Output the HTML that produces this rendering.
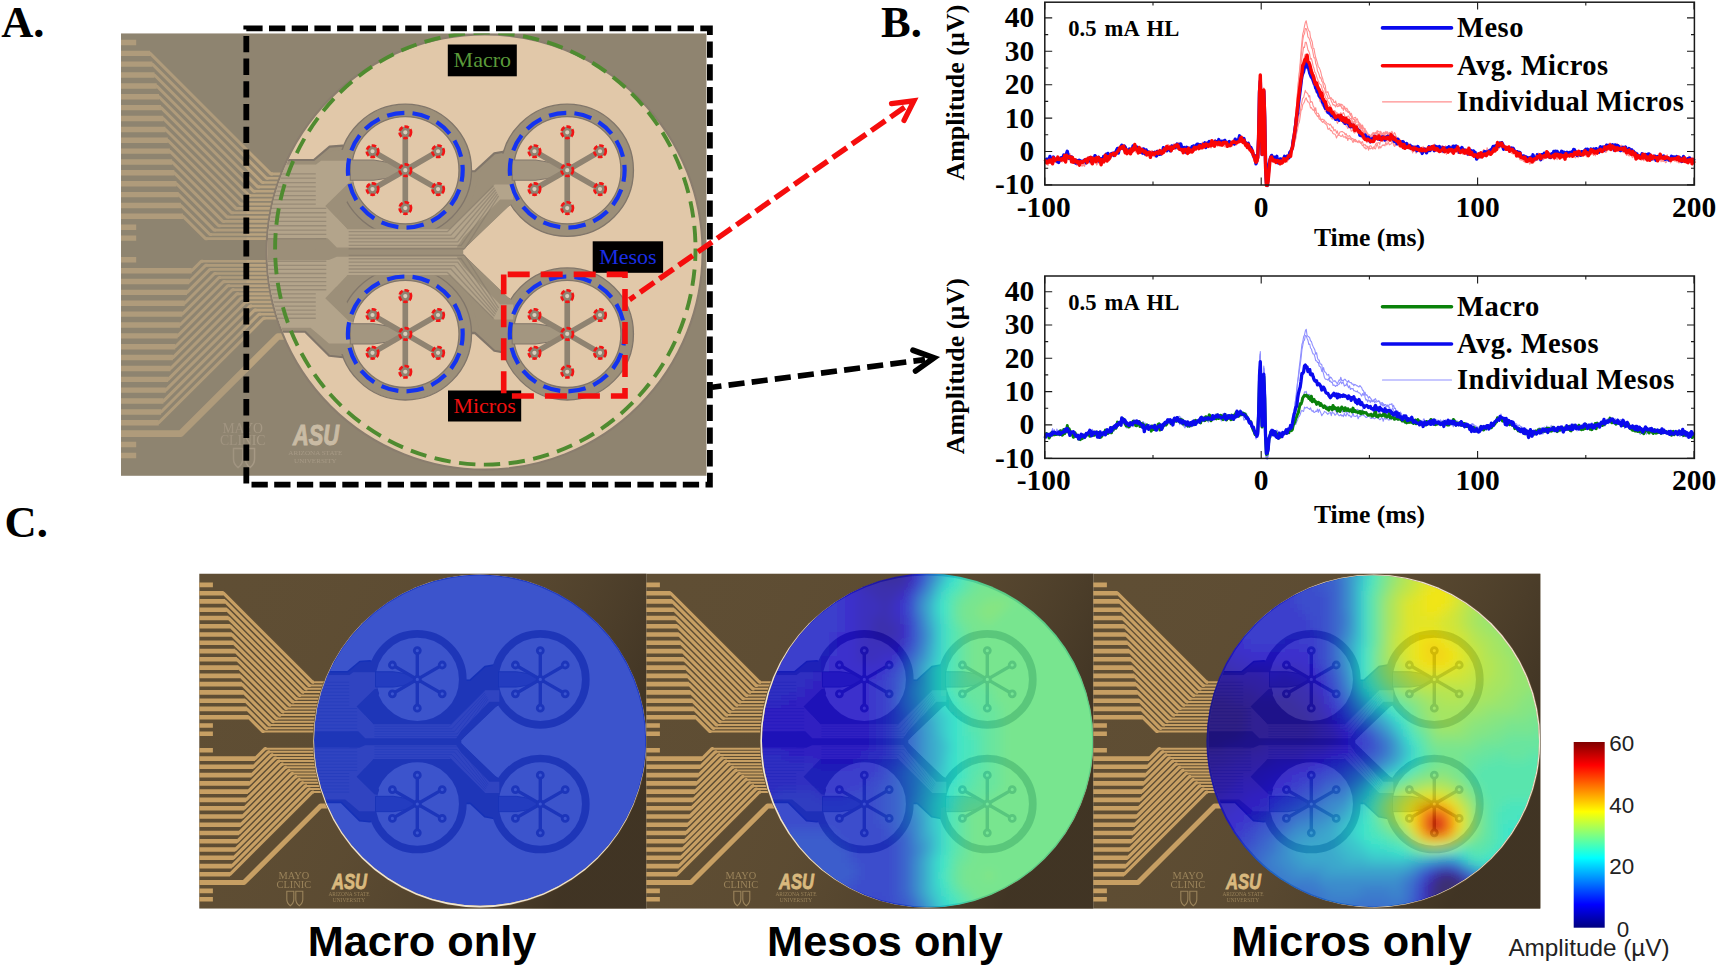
<!DOCTYPE html>
<html lang="en"><head><meta charset="utf-8"><title>Figure</title>
<style>html,body{margin:0;padding:0;background:#fff;width:1717px;height:967px;overflow:hidden}svg{display:block}</style></head>
<body><svg width="1717" height="967" viewBox="0 0 1717 967">
<defs><clipPath id="aclip"><circle cx="278.2" cy="168" r="164.8"/></clipPath><clipPath id="aringclip"><path clip-rule="evenodd" d="M0 0H460V345H0ZM177.2 105.7a40.8 40.8 0 1 0 81.6 0a40.8 40.8 0 1 0 -81.6 0ZM300.2 105.7a40.8 40.8 0 1 0 81.6 0a40.8 40.8 0 1 0 -81.6 0ZM177.2 230.3a40.8 40.8 0 1 0 81.6 0a40.8 40.8 0 1 0 -81.6 0ZM300.2 230.3a40.8 40.8 0 1 0 81.6 0a40.8 40.8 0 1 0 -81.6 0Z"/></clipPath>
<clipPath id="aview"><rect x="121" y="33.6" width="585.5" height="442.2"/></clipPath>
<filter id="hb" x="-10%" y="-10%" width="120%" height="120%"><feGaussianBlur stdDeviation="5.5"/></filter>
<linearGradient id="cbg" x1="0" y1="0" x2="1" y2="0.35"><stop offset="0" stop-color="#624f33" stop-opacity="0"/><stop offset="0.55" stop-color="#54442d" stop-opacity="0.3"/><stop offset="1" stop-color="#3f3323" stop-opacity="0.95"/></linearGradient>
<linearGradient id="jetbar" x1="0" y1="1" x2="0" y2="0"><stop offset="0%" stop-color="#000080"/><stop offset="6.2%" stop-color="#0000bf"/><stop offset="12.5%" stop-color="#0000ff"/><stop offset="18.8%" stop-color="#0040ff"/><stop offset="25%" stop-color="#0080ff"/><stop offset="31.2%" stop-color="#00bfff"/><stop offset="37.5%" stop-color="#00ffff"/><stop offset="43.8%" stop-color="#40ffbf"/><stop offset="50%" stop-color="#80ff80"/><stop offset="56.2%" stop-color="#bfff40"/><stop offset="62.5%" stop-color="#ffff00"/><stop offset="68.8%" stop-color="#ffbf00"/><stop offset="75%" stop-color="#ff8000"/><stop offset="81.2%" stop-color="#ff4000"/><stop offset="87.5%" stop-color="#ff0000"/><stop offset="93.8%" stop-color="#bf0000"/><stop offset="100%" stop-color="#800000"/></linearGradient>
<filter id="cblur" x="-5%" y="-5%" width="110%" height="110%"><feGaussianBlur stdDeviation="0.7"/></filter>
<clipPath id="cview"><rect x="0" y="0" width="447" height="334.7"/></clipPath>
<clipPath id="cdisc0"><ellipse cx="280.8" cy="166.4" rx="166.1" ry="165.7"/></clipPath>
<clipPath id="cout0"><path clip-rule="evenodd" d="M-5 -5H455V345H-5ZM114.7 166.4a166.1 165.7 0 1 0 332.2 0a166.1 165.7 0 1 0 -332.2 0Z"/></clipPath>
<clipPath id="cdisc1"><ellipse cx="281.4" cy="166.9" rx="165.7" ry="167"/></clipPath>
<clipPath id="cout1"><path clip-rule="evenodd" d="M-5 -5H455V345H-5ZM115.7 166.9a165.7 167 0 1 0 331.4 0a165.7 167 0 1 0 -331.4 0Z"/></clipPath>
<clipPath id="cdisc2"><ellipse cx="279.4" cy="167.6" rx="166.3" ry="166"/></clipPath>
<clipPath id="cout2"><path clip-rule="evenodd" d="M-5 -5H455V345H-5ZM113.1 167.6a166.3 166 0 1 0 332.6 0a166.3 166 0 1 0 -332.6 0Z"/></clipPath>
<clipPath id="cclip"><circle cx="280.5" cy="167.3" r="165.4"/></clipPath><clipPath id="cringclip"><path clip-rule="evenodd" d="M0 0H460V345H0ZM177.2 105.7a40.8 40.8 0 1 0 81.6 0a40.8 40.8 0 1 0 -81.6 0ZM300.2 105.7a40.8 40.8 0 1 0 81.6 0a40.8 40.8 0 1 0 -81.6 0ZM177.2 230.3a40.8 40.8 0 1 0 81.6 0a40.8 40.8 0 1 0 -81.6 0ZM300.2 230.3a40.8 40.8 0 1 0 81.6 0a40.8 40.8 0 1 0 -81.6 0Z"/></clipPath>
<g id="cdev"><rect x="-10" y="-10" width="467" height="354.7" fill="#5f4e34"/>
<rect x="-10" y="-10" width="467" height="354.7" fill="url(#cbg)"/>
<g fill="none" stroke="#c79f63" stroke-linejoin="round">
<path stroke-width="4.6" d="M-10 11.2H13.6 M-10 151.8H13.6 M-10 160.1H13.6 M-10 176.6H13.6 M-10 317.2H13.6 M-10 325.5H13.6 M-10 19.5H24.2 M-10 27.7H25.9 M-10 36H27.5 M-10 44.3H29.2 M-10 52.5H30.9 M-10 60.8H32.5 M-10 69.1H34.2 M-10 77.4H35.9 M-10 85.6H37.6 M-10 93.9H39.2 M-10 102.2H40.9 M-10 110.4H42.6 M-10 118.7H44.2 M-10 127H45.9 M-10 135.2H47.6 M-10 143.5H49.2 M-10 184.9H55.8 M-10 193.1H54 M-10 201.4H52.2 M-10 209.7H50.4 M-10 217.9H48.6 M-10 226.2H46.8 M-10 234.5H45.1 M-10 242.8H43.3 M-10 251H41.5 M-10 259.3H39.7 M-10 267.6H37.9 M-10 275.8H36.1 M-10 284.1H34.3 M-10 292.4H32.5 M-10 300.6H30.7"/>
<path stroke-width="3.2" d="M23.2 19.5 L24.2 19.5 L113.2 108.5 L114.7 108.5 M24.9 27.7 L25.9 27.7 L109.9 111.8 L111.4 111.8 M26.5 36 L27.5 36 L106.6 115.1 L108.1 115.1 M28.2 44.3 L29.2 44.3 L103.3 118.4 L104.8 118.4 M29.9 52.5 L30.9 52.5 L100 121.7 L101.5 121.7 M31.5 60.8 L32.5 60.8 L96.7 125 L98.2 125 M33.2 69.1 L34.2 69.1 L93.4 128.2 L94.9 128.2 M34.9 77.4 L35.9 77.4 L90.1 131.5 L91.6 131.5 M36.6 85.6 L37.6 85.6 L86.8 134.8 L88.2 134.8 M38.2 93.9 L39.2 93.9 L83.4 138.1 L84.9 138.1 M39.9 102.2 L40.9 102.2 L80.1 141.4 L81.6 141.4 M41.6 110.4 L42.6 110.4 L76.8 144.7 L78.3 144.7 M43.2 118.7 L44.2 118.7 L73.5 148 L75 148 M44.9 127 L45.9 127 L70.2 151.3 L71.7 151.3 M46.6 135.2 L47.6 135.2 L66.9 154.6 L68.4 154.6 M48.2 143.5 L49.2 143.5 L63.6 157.8 L65.1 157.8 M54.8 184.9 L55.8 184.9 L65.7 175 L67.2 175 M53 193.1 L54 193.1 L69 178.1 L70.5 178.1 M51.2 201.4 L52.2 201.4 L72.4 181.2 L73.9 181.2 M49.4 209.7 L50.4 209.7 L75.8 184.3 L77.3 184.3 M47.6 217.9 L48.6 217.9 L79.2 187.4 L80.7 187.4 M45.8 226.2 L46.8 226.2 L82.6 190.5 L84.1 190.5 M44.1 234.5 L45.1 234.5 L85.9 193.6 L87.4 193.6 M42.3 242.8 L43.3 242.8 L89.3 196.7 L90.8 196.7 M40.5 251 L41.5 251 L92.7 199.8 L94.2 199.8 M38.7 259.3 L39.7 259.3 L96.1 202.9 L97.6 202.9 M36.9 267.6 L37.9 267.6 L99.5 206 L101 206 M35.1 275.8 L36.1 275.8 L102.8 209.1 L104.3 209.1 M33.3 284.1 L34.3 284.1 L106.2 212.2 L107.7 212.2 M31.5 292.4 L32.5 292.4 L109.6 215.3 L111.1 215.3 M29.7 300.6 L30.7 300.6 L113 218.4 L114.5 218.4"/>
<path stroke-width="2" d="M113.2 108.5H150 M109.9 111.8H150 M106.6 115.1H150 M103.3 118.4H150 M100 121.7H150 M96.7 125H150 M93.4 128.2H150 M90.1 131.5H150 M86.8 134.8H150 M83.4 138.1H150 M80.1 141.4H150 M76.8 144.7H150 M73.5 148H150 M70.2 151.3H150 M66.9 154.6H150 M63.6 157.8H150 M65.7 175H150 M69 178.1H150 M72.4 181.2H150 M75.8 184.3H150 M79.2 187.4H150 M82.6 190.5H150 M85.9 193.6H150 M89.3 196.7H150 M92.7 199.8H150 M96.1 202.9H150 M99.5 206H150 M102.8 209.1H150 M106.2 212.2H150 M109.6 215.3H150 M113 218.4H150"/>
<polyline stroke-width="5" points="-10,308.9 44.7,308.9 121.3,232.3 150,232.3"/>
</g>
<g fill="#a58d62" font-family="'Liberation Serif',serif" text-anchor="middle" opacity="0.85">
<text x="94.5" y="305.5" font-size="10.4">MAYO</text><text x="94.5" y="314.7" font-size="10.4">CLINIC</text>
<path d="M87.5 317.5h7v8q0 4-3.5 6.5q-3.5-2.5-3.5-6.5zM96.5 317.5h7v8q0 4-3.5 6.5q-3.5-2.5-3.5-6.5z" fill="none" stroke="#a58d62" stroke-width="1.1"/>
<text x="149.7" y="322.5" font-size="5.4">ARIZONA STATE</text><text x="149.7" y="328.8" font-size="5.4">UNIVERSITY</text>
</g>
<text x="150.2" y="315.2" font-family="'Liberation Sans',sans-serif" font-weight="bold" font-style="italic" font-size="22.5" textLength="35" lengthAdjust="spacingAndGlyphs" text-anchor="middle" fill="#d9b97e" opacity="1" stroke="#d9b97e" stroke-width="0.8">ASU</text>
<circle cx="280.5" cy="167.3" r="166.2" fill="#cda550" stroke="#6b5233" stroke-width="1.6"/>
<g clip-path="url(#cclip)">
<g filter="url(#cblur)">
<polygon points="100,98 148.5,98 160.5,87.8 170.5,87 218,105.7 270.8,106.5 285.6,92.9 298.7,90.5 341,105.7 295,133.2 259.6,167.6 259.6,168.4 259.6,167.6 259.6,168.4 295,202.8 341,230.3 298.7,245.5 285.6,243.1 270.8,229.5 218,230.3 170.5,248.1 160.2,246.9 141.9,228.7 100,228.7" fill="#68400f" stroke="#4a2e0a" stroke-width="1.6" stroke-linejoin="round"/>
<polygon points="100,101.5 150,101.5 154,98.5 185,98.5 185,113 175,115.5 157.2,132.9 174,150.6 252,150.6 286,116.6 300,116.6 300,128 290,128 262,157 257,164.5 166,164.5 159,157.5 100,157.5" fill="#a7702c"/>
<polygon points="100,174 160,174 166,171.5 257,171.5 262,179 290,208 300,208 300,219.4 286,219.4 252,185.4 174,185.4 157.2,203.1 175,220.5 185,223 185,237.5 160,237.5 146,225.5 100,225.5" fill="#a7702c"/>
<circle cx="218" cy="105.7" r="45.5" fill="#cda550" stroke="#68400f" stroke-width="7.7"/>
<circle cx="341" cy="105.7" r="45.5" fill="#cda550" stroke="#68400f" stroke-width="7.7"/>
<circle cx="218" cy="230.3" r="45.5" fill="#cda550" stroke="#68400f" stroke-width="7.7"/>
<circle cx="341" cy="230.3" r="45.5" fill="#cda550" stroke="#68400f" stroke-width="7.7"/>
<g clip-path="url(#cringclip)"><polygon points="150,100.5 160.5,91.3 175,89.8 180,120 160,150 262,150 275,106.5 286,94 300,92 300,130 262,166 262,170 262,166 262,170 300,206 300,244 286,242 275,229.5 262,186 160,186 180,216 175,246.2 160.5,244.7 150,235.5" fill="#68400f"/>
<polygon points="100,101.5 150,101.5 154,98.5 185,98.5 185,113 175,115.5 157.2,132.9 174,150.6 252,150.6 286,116.6 300,116.6 300,128 290,128 262,157 257,164.5 166,164.5 159,157.5 100,157.5" fill="#a7702c"/><polygon points="100,174 160,174 166,171.5 257,171.5 262,179 290,208 300,208 300,219.4 286,219.4 252,185.4 174,185.4 157.2,203.1 175,220.5 185,223 185,237.5 160,237.5 146,225.5 100,225.5" fill="#a7702c"/></g>
<path d="M100 108.5H150M100 111.8H150M100 115.1H150M100 118.4H150M100 121.7H150M100 125H150M100 128.2H150M100 131.5H150M100 134.8H158M100 138.1H158M100 141.4H158M100 144.7H158M100 148H158M100 151.3H158M100 154.6H158M100 157.8H158M100 175H158M100 178.1H158M100 181.2H158M100 184.3H158M100 187.4H158M100 190.5H158M100 193.6H158M100 196.7H158M100 199.8H150M100 202.9H150M100 206H150M100 209.1H150M100 212.2H150M100 215.3H150M100 218.4H150M175 152.5H250L285 117.5M175 183.5H250L285 218.5M175 155.1H252.6L285.8 119.1M175 180.9H252.6L285.8 216.9M175 157.7H255.2L286.6 120.6M175 178.3H255.2L286.6 215.4M175 160.3H257.8L287.3 122.2M175 175.7H257.8L287.3 213.8M175 162.9H260.4L288.1 123.7M175 173.1H260.4L288.1 212.3M175 165.5H263L288.9 125.3M175 170.5H263L288.9 210.7" fill="none" stroke="#6a4416" stroke-width="1" opacity="0.55"/>
<polygon points="176.2,98 194,98 203,99.4 210,100.7 216,103.7 216,107.7 210,110.7 203,112 194,113.4 176.2,113.4" fill="#7a5226" stroke="#4a2e0a" stroke-width="0.8"/>
<path d="M218 105.7L242.9 91.3M218 105.7L218 76.9M218 105.7L193.1 91.3M218 105.7L193.1 120.1M218 105.7L218 134.5M218 105.7L242.9 120.1" stroke="#603c12" stroke-width="3.4" fill="none"/>
<circle cx="218" cy="105.7" r="3" fill="#c7a560" stroke="#603c12" stroke-width="2.8"/>
<circle cx="242.9" cy="91.3" r="3" fill="#c7a560" stroke="#603c12" stroke-width="2.8"/>
<circle cx="218" cy="76.9" r="3" fill="#c7a560" stroke="#603c12" stroke-width="2.8"/>
<circle cx="193.1" cy="91.3" r="3" fill="#c7a560" stroke="#603c12" stroke-width="2.8"/>
<circle cx="193.1" cy="120.1" r="3" fill="#c7a560" stroke="#603c12" stroke-width="2.8"/>
<circle cx="218" cy="134.5" r="3" fill="#c7a560" stroke="#603c12" stroke-width="2.8"/>
<circle cx="242.9" cy="120.1" r="3" fill="#c7a560" stroke="#603c12" stroke-width="2.8"/>
<polygon points="299.2,98 317,98 326,99.4 333,100.7 339,103.7 339,107.7 333,110.7 326,112 317,113.4 299.2,113.4" fill="#7a5226" stroke="#4a2e0a" stroke-width="0.8"/>
<path d="M341 105.7L365.9 91.3M341 105.7L341 76.9M341 105.7L316.1 91.3M341 105.7L316.1 120.1M341 105.7L341 134.5M341 105.7L365.9 120.1" stroke="#603c12" stroke-width="3.4" fill="none"/>
<circle cx="341" cy="105.7" r="3" fill="#c7a560" stroke="#603c12" stroke-width="2.8"/>
<circle cx="365.9" cy="91.3" r="3" fill="#c7a560" stroke="#603c12" stroke-width="2.8"/>
<circle cx="341" cy="76.9" r="3" fill="#c7a560" stroke="#603c12" stroke-width="2.8"/>
<circle cx="316.1" cy="91.3" r="3" fill="#c7a560" stroke="#603c12" stroke-width="2.8"/>
<circle cx="316.1" cy="120.1" r="3" fill="#c7a560" stroke="#603c12" stroke-width="2.8"/>
<circle cx="341" cy="134.5" r="3" fill="#c7a560" stroke="#603c12" stroke-width="2.8"/>
<circle cx="365.9" cy="120.1" r="3" fill="#c7a560" stroke="#603c12" stroke-width="2.8"/>
<polygon points="176.2,222.6 194,222.6 203,224 210,225.3 216,228.3 216,232.3 210,235.3 203,236.6 194,238 176.2,238" fill="#7a5226" stroke="#4a2e0a" stroke-width="0.8"/>
<path d="M218 230.3L242.9 215.9M218 230.3L218 201.5M218 230.3L193.1 215.9M218 230.3L193.1 244.7M218 230.3L218 259.1M218 230.3L242.9 244.7" stroke="#603c12" stroke-width="3.4" fill="none"/>
<circle cx="218" cy="230.3" r="3" fill="#c7a560" stroke="#603c12" stroke-width="2.8"/>
<circle cx="242.9" cy="215.9" r="3" fill="#c7a560" stroke="#603c12" stroke-width="2.8"/>
<circle cx="218" cy="201.5" r="3" fill="#c7a560" stroke="#603c12" stroke-width="2.8"/>
<circle cx="193.1" cy="215.9" r="3" fill="#c7a560" stroke="#603c12" stroke-width="2.8"/>
<circle cx="193.1" cy="244.7" r="3" fill="#c7a560" stroke="#603c12" stroke-width="2.8"/>
<circle cx="218" cy="259.1" r="3" fill="#c7a560" stroke="#603c12" stroke-width="2.8"/>
<circle cx="242.9" cy="244.7" r="3" fill="#c7a560" stroke="#603c12" stroke-width="2.8"/>
<polygon points="299.2,222.6 317,222.6 326,224 333,225.3 339,228.3 339,232.3 333,235.3 326,236.6 317,238 299.2,238" fill="#7a5226" stroke="#4a2e0a" stroke-width="0.8"/>
<path d="M341 230.3L365.9 215.9M341 230.3L341 201.5M341 230.3L316.1 215.9M341 230.3L316.1 244.7M341 230.3L341 259.1M341 230.3L365.9 244.7" stroke="#603c12" stroke-width="3.4" fill="none"/>
<circle cx="341" cy="230.3" r="3" fill="#c7a560" stroke="#603c12" stroke-width="2.8"/>
<circle cx="365.9" cy="215.9" r="3" fill="#c7a560" stroke="#603c12" stroke-width="2.8"/>
<circle cx="341" cy="201.5" r="3" fill="#c7a560" stroke="#603c12" stroke-width="2.8"/>
<circle cx="316.1" cy="215.9" r="3" fill="#c7a560" stroke="#603c12" stroke-width="2.8"/>
<circle cx="316.1" cy="244.7" r="3" fill="#c7a560" stroke="#603c12" stroke-width="2.8"/>
<circle cx="341" cy="259.1" r="3" fill="#c7a560" stroke="#603c12" stroke-width="2.8"/>
<circle cx="365.9" cy="244.7" r="3" fill="#c7a560" stroke="#603c12" stroke-width="2.8"/>
</g>
</g></g></defs>
<rect width="1717" height="967" fill="#fff"/>
<g clip-path="url(#aview)">
<g transform="translate(118.3 31.3) scale(1.3165 1.314)">
<rect x="-10" y="-10" width="470" height="360" fill="#8f8470"/>
<g fill="none" stroke="#b9a27e" stroke-linejoin="round">
<path stroke-width="4.1" d="M-10 8.5H13.6 M-10 149.1H13.6 M-10 157.4H13.6 M-10 173.9H13.6 M-10 314.5H13.6 M-10 322.8H13.6 M-10 16.8H24.2 M-10 25H25.9 M-10 33.3H27.5 M-10 41.6H29.2 M-10 49.8H30.9 M-10 58.1H32.5 M-10 66.4H34.2 M-10 74.7H35.9 M-10 82.9H37.6 M-10 91.2H39.2 M-10 99.5H40.9 M-10 107.7H42.6 M-10 116H44.2 M-10 124.3H45.9 M-10 132.6H47.6 M-10 140.8H49.2 M-10 182.2H55.8 M-10 190.4H54 M-10 198.7H52.2 M-10 207H50.4 M-10 215.2H48.6 M-10 223.5H46.8 M-10 231.8H45.1 M-10 240.1H43.3 M-10 248.3H41.5 M-10 256.6H39.7 M-10 264.9H37.9 M-10 273.1H36.1 M-10 281.4H34.3 M-10 289.7H32.5 M-10 297.9H30.7"/>
<path stroke-width="2.3" d="M23.2 16.8 L24.2 16.8 L115.9 108.5 L117.4 108.5 M24.9 25 L25.9 25 L112.6 111.8 L114.1 111.8 M26.5 33.3 L27.5 33.3 L109.3 115.1 L110.8 115.1 M28.2 41.6 L29.2 41.6 L106 118.4 L107.5 118.4 M29.9 49.8 L30.9 49.8 L102.7 121.7 L104.2 121.7 M31.5 58.1 L32.5 58.1 L99.4 125 L100.9 125 M33.2 66.4 L34.2 66.4 L96.1 128.2 L97.6 128.2 M34.9 74.7 L35.9 74.7 L92.8 131.5 L94.3 131.5 M36.6 82.9 L37.6 82.9 L89.5 134.8 L91 134.8 M38.2 91.2 L39.2 91.2 L86.1 138.1 L87.6 138.1 M39.9 99.5 L40.9 99.5 L82.8 141.4 L84.3 141.4 M41.6 107.7 L42.6 107.7 L79.5 144.7 L81 144.7 M43.2 116 L44.2 116 L76.2 148 L77.7 148 M44.9 124.3 L45.9 124.3 L72.9 151.3 L74.4 151.3 M46.6 132.6 L47.6 132.6 L69.6 154.6 L71.1 154.6 M48.2 140.8 L49.2 140.8 L66.3 157.8 L67.8 157.8 M54.8 182.2 L55.8 182.2 L63 175 L64.5 175 M53 190.4 L54 190.4 L66.3 178.1 L67.8 178.1 M51.2 198.7 L52.2 198.7 L69.7 181.2 L71.2 181.2 M49.4 207 L50.4 207 L73.1 184.3 L74.6 184.3 M47.6 215.2 L48.6 215.2 L76.5 187.4 L78 187.4 M45.8 223.5 L46.8 223.5 L79.9 190.5 L81.4 190.5 M44.1 231.8 L45.1 231.8 L83.2 193.6 L84.8 193.6 M42.3 240.1 L43.3 240.1 L86.6 196.7 L88.1 196.7 M40.5 248.3 L41.5 248.3 L90 199.8 L91.5 199.8 M38.7 256.6 L39.7 256.6 L93.4 202.9 L94.9 202.9 M36.9 264.9 L37.9 264.9 L96.8 206 L98.3 206 M35.1 273.1 L36.1 273.1 L100.1 209.1 L101.6 209.1 M33.3 281.4 L34.3 281.4 L103.5 212.2 L105 212.2 M31.5 289.7 L32.5 289.7 L106.9 215.3 L108.4 215.3 M29.7 297.9 L30.7 297.9 L110.3 218.4 L111.8 218.4"/>
<path stroke-width="2" d="M115.9 108.5H150 M112.6 111.8H150 M109.3 115.1H150 M106 118.4H150 M102.7 121.7H150 M99.4 125H150 M96.1 128.2H150 M92.8 131.5H150 M89.5 134.8H150 M86.1 138.1H150 M82.8 141.4H150 M79.5 144.7H150 M76.2 148H150 M72.9 151.3H150 M69.6 154.6H150 M66.3 157.8H150 M63 175H150 M66.3 178.1H150 M69.7 181.2H150 M73.1 184.3H150 M76.5 187.4H150 M79.9 190.5H150 M83.2 193.6H150 M86.6 196.7H150 M90 199.8H150 M93.4 202.9H150 M96.8 206H150 M100.1 209.1H150 M103.5 212.2H150 M106.9 215.3H150 M110.3 218.4H150"/>
<polyline stroke-width="5" points="-10,306.2 47.4,306.2 121.3,232.3 150,232.3"/>
</g>
<g fill="#a99c88" font-family="'Liberation Serif',serif" text-anchor="middle" opacity="0.9">
<text x="94.5" y="305.5" font-size="10.4">MAYO</text><text x="94.5" y="314.7" font-size="10.4">CLINIC</text>
<path d="M87.5 317.5h7v8q0 4-3.5 6.5q-3.5-2.5-3.5-6.5zM96.5 317.5h7v8q0 4-3.5 6.5q-3.5-2.5-3.5-6.5z" fill="none" stroke="#a99c88" stroke-width="1.1"/>
<text x="149.7" y="322.5" font-size="5.4">ARIZONA STATE</text><text x="149.7" y="328.8" font-size="5.4">UNIVERSITY</text>
</g>
<text x="150.2" y="315.2" font-family="'Liberation Sans',sans-serif" font-weight="bold" font-style="italic" font-size="22.5" textLength="35" lengthAdjust="spacingAndGlyphs" text-anchor="middle" fill="#c9bba4" opacity="1" stroke="#c9bba4" stroke-width="0.8">ASU</text>
<circle cx="278.2" cy="168" r="165.6" fill="#e1c8a9" stroke="#8a7d6e" stroke-width="1.6"/>
<g clip-path="url(#aclip)">
<polygon points="100,98 148.5,98 160.5,87.8 170.5,87 218,105.7 270.8,106.5 285.6,92.9 298.7,90.5 341,105.7 295,133.2 259.6,167.6 259.6,168.4 259.6,167.6 259.6,168.4 295,202.8 341,230.3 298.7,245.5 285.6,243.1 270.8,229.5 218,230.3 170.5,248.1 160.2,246.9 141.9,228.7 100,228.7" fill="#9c8f79" stroke="#81766a" stroke-width="1.6" stroke-linejoin="round"/>
<polygon points="100,101.5 150,101.5 154,98.5 185,98.5 185,113 175,115.5 157.2,132.9 174,150.6 252,150.6 286,116.6 300,116.6 300,128 290,128 262,157 257,164.5 166,164.5 159,157.5 100,157.5" fill="#b3a48b"/>
<polygon points="100,174 160,174 166,171.5 257,171.5 262,179 290,208 300,208 300,219.4 286,219.4 252,185.4 174,185.4 157.2,203.1 175,220.5 185,223 185,237.5 160,237.5 146,225.5 100,225.5" fill="#b3a48b"/>
<circle cx="218" cy="105.7" r="45.5" fill="#e1c8a9" stroke="#9c8f79" stroke-width="9.5"/>
<circle cx="218" cy="105.7" r="40.8" fill="none" stroke="#81766a" stroke-width="1"/>
<circle cx="218" cy="105.7" r="50.3" fill="none" stroke="#81766a" stroke-width="1"/>
<circle cx="341" cy="105.7" r="45.5" fill="#e1c8a9" stroke="#9c8f79" stroke-width="9.5"/>
<circle cx="341" cy="105.7" r="40.8" fill="none" stroke="#81766a" stroke-width="1"/>
<circle cx="341" cy="105.7" r="50.3" fill="none" stroke="#81766a" stroke-width="1"/>
<circle cx="218" cy="230.3" r="45.5" fill="#e1c8a9" stroke="#9c8f79" stroke-width="9.5"/>
<circle cx="218" cy="230.3" r="40.8" fill="none" stroke="#81766a" stroke-width="1"/>
<circle cx="218" cy="230.3" r="50.3" fill="none" stroke="#81766a" stroke-width="1"/>
<circle cx="341" cy="230.3" r="45.5" fill="#e1c8a9" stroke="#9c8f79" stroke-width="9.5"/>
<circle cx="341" cy="230.3" r="40.8" fill="none" stroke="#81766a" stroke-width="1"/>
<circle cx="341" cy="230.3" r="50.3" fill="none" stroke="#81766a" stroke-width="1"/>
<g clip-path="url(#aringclip)"><polygon points="150,100.5 160.5,91.3 175,89.8 180,120 160,150 262,150 275,106.5 286,94 300,92 300,130 262,166 262,170 262,166 262,170 300,206 300,244 286,242 275,229.5 262,186 160,186 180,216 175,246.2 160.5,244.7 150,235.5" fill="#9c8f79"/>
<polygon points="100,101.5 150,101.5 154,98.5 185,98.5 185,113 175,115.5 157.2,132.9 174,150.6 252,150.6 286,116.6 300,116.6 300,128 290,128 262,157 257,164.5 166,164.5 159,157.5 100,157.5" fill="#b3a48b"/><polygon points="100,174 160,174 166,171.5 257,171.5 262,179 290,208 300,208 300,219.4 286,219.4 252,185.4 174,185.4 157.2,203.1 175,220.5 185,223 185,237.5 160,237.5 146,225.5 100,225.5" fill="#b3a48b"/></g>
<path d="M100 108.5H150M100 111.8H150M100 115.1H150M100 118.4H150M100 121.7H150M100 125H150M100 128.2H150M100 131.5H150M100 134.8H158M100 138.1H158M100 141.4H158M100 144.7H158M100 148H158M100 151.3H158M100 154.6H158M100 157.8H158M100 175H158M100 178.1H158M100 181.2H158M100 184.3H158M100 187.4H158M100 190.5H158M100 193.6H158M100 196.7H158M100 199.8H150M100 202.9H150M100 206H150M100 209.1H150M100 212.2H150M100 215.3H150M100 218.4H150M175 152.5H250L285 117.5M175 183.5H250L285 218.5M175 155.1H252.6L285.8 119.1M175 180.9H252.6L285.8 216.9M175 157.7H255.2L286.6 120.6M175 178.3H255.2L286.6 215.4M175 160.3H257.8L287.3 122.2M175 175.7H257.8L287.3 213.8M175 162.9H260.4L288.1 123.7M175 173.1H260.4L288.1 212.3M175 165.5H263L288.9 125.3M175 170.5H263L288.9 210.7" fill="none" stroke="#84796a" stroke-width="1" opacity="0.55"/>
<polygon points="176.2,98 194,98 203,99.4 210,100.7 216,103.7 216,107.7 210,110.7 203,112 194,113.4 176.2,113.4" fill="#a39680" stroke="#81766a" stroke-width="0.8"/>
<path d="M218 105.7L242.9 91.3M218 105.7L218 76.9M218 105.7L193.1 91.3M218 105.7L193.1 120.1M218 105.7L218 134.5M218 105.7L242.9 120.1" stroke="#8f8371" stroke-width="4.3" fill="none"/>
<circle cx="218" cy="105.7" r="3" fill="#d9cdbb" stroke="#8f8371" stroke-width="2.8"/>
<circle cx="218" cy="105.7" r="4.4" fill="none" stroke="#f21414" stroke-width="2" stroke-dasharray="3.4 1.5"/>
<circle cx="242.9" cy="91.3" r="3" fill="#d9cdbb" stroke="#8f8371" stroke-width="2.8"/>
<circle cx="242.9" cy="91.3" r="4.4" fill="none" stroke="#f21414" stroke-width="2" stroke-dasharray="3.4 1.5"/>
<circle cx="218" cy="76.9" r="3" fill="#d9cdbb" stroke="#8f8371" stroke-width="2.8"/>
<circle cx="218" cy="76.9" r="4.4" fill="none" stroke="#f21414" stroke-width="2" stroke-dasharray="3.4 1.5"/>
<circle cx="193.1" cy="91.3" r="3" fill="#d9cdbb" stroke="#8f8371" stroke-width="2.8"/>
<circle cx="193.1" cy="91.3" r="4.4" fill="none" stroke="#f21414" stroke-width="2" stroke-dasharray="3.4 1.5"/>
<circle cx="193.1" cy="120.1" r="3" fill="#d9cdbb" stroke="#8f8371" stroke-width="2.8"/>
<circle cx="193.1" cy="120.1" r="4.4" fill="none" stroke="#f21414" stroke-width="2" stroke-dasharray="3.4 1.5"/>
<circle cx="218" cy="134.5" r="3" fill="#d9cdbb" stroke="#8f8371" stroke-width="2.8"/>
<circle cx="218" cy="134.5" r="4.4" fill="none" stroke="#f21414" stroke-width="2" stroke-dasharray="3.4 1.5"/>
<circle cx="242.9" cy="120.1" r="3" fill="#d9cdbb" stroke="#8f8371" stroke-width="2.8"/>
<circle cx="242.9" cy="120.1" r="4.4" fill="none" stroke="#f21414" stroke-width="2" stroke-dasharray="3.4 1.5"/>
<polygon points="299.2,98 317,98 326,99.4 333,100.7 339,103.7 339,107.7 333,110.7 326,112 317,113.4 299.2,113.4" fill="#a39680" stroke="#81766a" stroke-width="0.8"/>
<path d="M341 105.7L365.9 91.3M341 105.7L341 76.9M341 105.7L316.1 91.3M341 105.7L316.1 120.1M341 105.7L341 134.5M341 105.7L365.9 120.1" stroke="#8f8371" stroke-width="4.3" fill="none"/>
<circle cx="341" cy="105.7" r="3" fill="#d9cdbb" stroke="#8f8371" stroke-width="2.8"/>
<circle cx="341" cy="105.7" r="4.4" fill="none" stroke="#f21414" stroke-width="2" stroke-dasharray="3.4 1.5"/>
<circle cx="365.9" cy="91.3" r="3" fill="#d9cdbb" stroke="#8f8371" stroke-width="2.8"/>
<circle cx="365.9" cy="91.3" r="4.4" fill="none" stroke="#f21414" stroke-width="2" stroke-dasharray="3.4 1.5"/>
<circle cx="341" cy="76.9" r="3" fill="#d9cdbb" stroke="#8f8371" stroke-width="2.8"/>
<circle cx="341" cy="76.9" r="4.4" fill="none" stroke="#f21414" stroke-width="2" stroke-dasharray="3.4 1.5"/>
<circle cx="316.1" cy="91.3" r="3" fill="#d9cdbb" stroke="#8f8371" stroke-width="2.8"/>
<circle cx="316.1" cy="91.3" r="4.4" fill="none" stroke="#f21414" stroke-width="2" stroke-dasharray="3.4 1.5"/>
<circle cx="316.1" cy="120.1" r="3" fill="#d9cdbb" stroke="#8f8371" stroke-width="2.8"/>
<circle cx="316.1" cy="120.1" r="4.4" fill="none" stroke="#f21414" stroke-width="2" stroke-dasharray="3.4 1.5"/>
<circle cx="341" cy="134.5" r="3" fill="#d9cdbb" stroke="#8f8371" stroke-width="2.8"/>
<circle cx="341" cy="134.5" r="4.4" fill="none" stroke="#f21414" stroke-width="2" stroke-dasharray="3.4 1.5"/>
<circle cx="365.9" cy="120.1" r="3" fill="#d9cdbb" stroke="#8f8371" stroke-width="2.8"/>
<circle cx="365.9" cy="120.1" r="4.4" fill="none" stroke="#f21414" stroke-width="2" stroke-dasharray="3.4 1.5"/>
<polygon points="176.2,222.6 194,222.6 203,224 210,225.3 216,228.3 216,232.3 210,235.3 203,236.6 194,238 176.2,238" fill="#a39680" stroke="#81766a" stroke-width="0.8"/>
<path d="M218 230.3L242.9 215.9M218 230.3L218 201.5M218 230.3L193.1 215.9M218 230.3L193.1 244.7M218 230.3L218 259.1M218 230.3L242.9 244.7" stroke="#8f8371" stroke-width="4.3" fill="none"/>
<circle cx="218" cy="230.3" r="3" fill="#d9cdbb" stroke="#8f8371" stroke-width="2.8"/>
<circle cx="218" cy="230.3" r="4.4" fill="none" stroke="#f21414" stroke-width="2" stroke-dasharray="3.4 1.5"/>
<circle cx="242.9" cy="215.9" r="3" fill="#d9cdbb" stroke="#8f8371" stroke-width="2.8"/>
<circle cx="242.9" cy="215.9" r="4.4" fill="none" stroke="#f21414" stroke-width="2" stroke-dasharray="3.4 1.5"/>
<circle cx="218" cy="201.5" r="3" fill="#d9cdbb" stroke="#8f8371" stroke-width="2.8"/>
<circle cx="218" cy="201.5" r="4.4" fill="none" stroke="#f21414" stroke-width="2" stroke-dasharray="3.4 1.5"/>
<circle cx="193.1" cy="215.9" r="3" fill="#d9cdbb" stroke="#8f8371" stroke-width="2.8"/>
<circle cx="193.1" cy="215.9" r="4.4" fill="none" stroke="#f21414" stroke-width="2" stroke-dasharray="3.4 1.5"/>
<circle cx="193.1" cy="244.7" r="3" fill="#d9cdbb" stroke="#8f8371" stroke-width="2.8"/>
<circle cx="193.1" cy="244.7" r="4.4" fill="none" stroke="#f21414" stroke-width="2" stroke-dasharray="3.4 1.5"/>
<circle cx="218" cy="259.1" r="3" fill="#d9cdbb" stroke="#8f8371" stroke-width="2.8"/>
<circle cx="218" cy="259.1" r="4.4" fill="none" stroke="#f21414" stroke-width="2" stroke-dasharray="3.4 1.5"/>
<circle cx="242.9" cy="244.7" r="3" fill="#d9cdbb" stroke="#8f8371" stroke-width="2.8"/>
<circle cx="242.9" cy="244.7" r="4.4" fill="none" stroke="#f21414" stroke-width="2" stroke-dasharray="3.4 1.5"/>
<polygon points="299.2,222.6 317,222.6 326,224 333,225.3 339,228.3 339,232.3 333,235.3 326,236.6 317,238 299.2,238" fill="#a39680" stroke="#81766a" stroke-width="0.8"/>
<path d="M341 230.3L365.9 215.9M341 230.3L341 201.5M341 230.3L316.1 215.9M341 230.3L316.1 244.7M341 230.3L341 259.1M341 230.3L365.9 244.7" stroke="#8f8371" stroke-width="4.3" fill="none"/>
<circle cx="341" cy="230.3" r="3" fill="#d9cdbb" stroke="#8f8371" stroke-width="2.8"/>
<circle cx="341" cy="230.3" r="4.4" fill="none" stroke="#f21414" stroke-width="2" stroke-dasharray="3.4 1.5"/>
<circle cx="365.9" cy="215.9" r="3" fill="#d9cdbb" stroke="#8f8371" stroke-width="2.8"/>
<circle cx="365.9" cy="215.9" r="4.4" fill="none" stroke="#f21414" stroke-width="2" stroke-dasharray="3.4 1.5"/>
<circle cx="341" cy="201.5" r="3" fill="#d9cdbb" stroke="#8f8371" stroke-width="2.8"/>
<circle cx="341" cy="201.5" r="4.4" fill="none" stroke="#f21414" stroke-width="2" stroke-dasharray="3.4 1.5"/>
<circle cx="316.1" cy="215.9" r="3" fill="#d9cdbb" stroke="#8f8371" stroke-width="2.8"/>
<circle cx="316.1" cy="215.9" r="4.4" fill="none" stroke="#f21414" stroke-width="2" stroke-dasharray="3.4 1.5"/>
<circle cx="316.1" cy="244.7" r="3" fill="#d9cdbb" stroke="#8f8371" stroke-width="2.8"/>
<circle cx="316.1" cy="244.7" r="4.4" fill="none" stroke="#f21414" stroke-width="2" stroke-dasharray="3.4 1.5"/>
<circle cx="341" cy="259.1" r="3" fill="#d9cdbb" stroke="#8f8371" stroke-width="2.8"/>
<circle cx="341" cy="259.1" r="4.4" fill="none" stroke="#f21414" stroke-width="2" stroke-dasharray="3.4 1.5"/>
<circle cx="365.9" cy="244.7" r="3" fill="#d9cdbb" stroke="#8f8371" stroke-width="2.8"/>
<circle cx="365.9" cy="244.7" r="4.4" fill="none" stroke="#f21414" stroke-width="2" stroke-dasharray="3.4 1.5"/>
</g>
</g>
<rect x="121" y="33" width="125.5" height="444" fill="#8f8470" opacity="0.22"/>
<ellipse cx="485.3" cy="248.6" rx="210.2" ry="216" fill="none" stroke="#4f8b30" stroke-width="3.9" stroke-dasharray="16.4 8.5" stroke-dashoffset="4"/>
<circle cx="405.3" cy="170.2" r="57.4" fill="none" stroke="#1433f0" stroke-width="4.2" stroke-dasharray="17.5 8.26" stroke-dashoffset="6"/>
<circle cx="567.2" cy="170.2" r="57.4" fill="none" stroke="#1433f0" stroke-width="4.2" stroke-dasharray="17.5 8.26" stroke-dashoffset="6"/>
<circle cx="405.3" cy="333.9" r="57.4" fill="none" stroke="#1433f0" stroke-width="4.2" stroke-dasharray="17.5 8.26" stroke-dashoffset="6"/>
<circle cx="567.2" cy="333.9" r="57.4" fill="none" stroke="#1433f0" stroke-width="4.2" stroke-dasharray="17.5 8.26" stroke-dashoffset="6"/>
</g>
<rect x="447.8" y="44.5" width="69" height="31.8" fill="#000"/>
<text x="482.3" y="67.2" font-family="'Liberation Serif',serif" font-size="22" fill="#5a9a3a" text-anchor="middle">Macro</text>
<rect x="592.7" y="241.3" width="70.4" height="31.5" fill="#000"/>
<text x="627.9" y="263.9" font-family="'Liberation Serif',serif" font-size="22" fill="#1a2ee6" text-anchor="middle">Mesos</text>
<rect x="448" y="390.5" width="73.2" height="31" fill="#000"/>
<text x="484.6" y="412.8" font-family="'Liberation Serif',serif" font-size="22" fill="#f01010" text-anchor="middle">Micros</text>
<rect x="503.7" y="274.4" width="121.3" height="121.6" fill="none" stroke="#f50d0d" stroke-width="5.6" stroke-dasharray="22 11" stroke-dashoffset="-4"/>
<rect x="246.3" y="28.4" width="463.6" height="456.3" fill="none" stroke="#000" stroke-width="5.8" stroke-dasharray="16.3 6.4"/>
<path d="M629.5 299.7L905 107" fill="none" stroke="#f50d0d" stroke-width="5.4" stroke-dasharray="17.2 6.3" stroke-dashoffset="10.5"/>
<path d="M891.5 103.6L914 100.8L904 120.5" fill="none" stroke="#f50d0d" stroke-width="5.2" stroke-linecap="round" stroke-linejoin="miter"/>
<path d="M712 387.3L925 359.6" fill="none" stroke="#000" stroke-width="5.6" stroke-dasharray="16.1 7.2" stroke-dashoffset="6.6"/>
<path d="M913 350.2L934 357.8L915.6 371" fill="none" stroke="#000" stroke-width="5.7" stroke-linecap="round" stroke-linejoin="miter"/>
<text x="1.2" y="36.7" font-family="'Liberation Serif',serif" font-weight="bold" font-size="44.5" fill="#000">A.</text>
<text x="881" y="37.2" font-family="'Liberation Serif',serif" font-weight="bold" font-size="44.5" fill="#000">B.</text>
<text x="4.5" y="536.9" font-family="'Liberation Serif',serif" font-weight="bold" font-size="44.5" fill="#000">C.</text>
<g fill="none" stroke-linejoin="round">
<path d="M1044.8 161.6L1045.7 160.8L1046.5 163.4L1047.4 161.2L1048.3 162.6L1049.1 161.4L1050 162.6L1050.9 160.6L1051.7 161.5L1052.6 160.7L1053.5 157.3L1054.3 158.8L1055.2 158.7L1056.1 161.1L1056.9 158.3L1057.8 159.2L1058.6 159.4L1059.5 158.3L1060.4 158.5L1061.2 157L1062.1 159.5L1063 158.7L1063.8 158.4L1064.7 157.2L1065.6 156.8L1066.4 156.1L1067.3 155.6L1068.2 154L1069 156.7L1069.9 157.8L1070.8 157.6L1071.6 158.8L1072.5 159.5L1073.4 162.5L1074.2 161.6L1075.1 162.9L1076 164.1L1076.8 165.6L1077.7 163.7L1078.6 164.6L1079.4 165L1080.3 165.3L1081.2 163.8L1082 166L1082.9 165.3L1083.8 165.4L1084.6 166.4L1085.5 163.1L1086.3 164L1087.2 160.5L1088.1 160L1088.9 160.1L1089.8 160.4L1090.7 161.4L1091.5 160.2L1092.4 160.1L1093.3 159.4L1094.1 159.7L1095 163.2L1095.9 161.3L1096.7 164.3L1097.6 160L1098.5 161.8L1099.3 161.4L1100.2 162.6L1101.1 162L1101.9 161.4L1102.8 163L1103.7 161.2L1104.5 160.7L1105.4 159L1106.3 160.1L1107.1 159.1L1108 155.9L1108.9 161.1L1109.7 157.1L1110.6 157.7L1111.5 155.7L1112.3 154.1L1113.2 153L1114 154.7L1114.9 151.5L1115.8 152.3L1116.6 153L1117.5 151L1118.4 152.4L1119.2 148.6L1120.1 148.5L1121 145.5L1121.8 147.1L1122.7 146.5L1123.6 147.6L1124.4 148.9L1125.3 151.9L1126.2 151.7L1127 153.8L1127.9 152.4L1128.8 152L1129.6 154L1130.5 152.5L1131.4 152.7L1132.2 153L1133.1 150.3L1134 151.5L1134.8 150.9L1135.7 152.2L1136.6 151.3L1137.4 148.7L1138.3 152.7L1139.2 152L1140 151.1L1140.9 151L1141.7 152.4L1142.6 154.6L1143.5 154.5L1144.3 152.5L1145.2 155.8L1146.1 153.5L1146.9 153.9L1147.8 154.5L1148.7 154.2L1149.5 154.8L1150.4 153.7L1151.3 155.3L1152.1 154.6L1153 155.4L1153.9 155.9L1154.7 154.7L1155.6 152.1L1156.5 154.1L1157.3 156.3L1158.2 155.5L1159.1 152.5L1159.9 155L1160.8 151.8L1161.7 154.6L1162.5 152.6L1163.4 152.4L1164.3 150.8L1165.1 149.1L1166 146.2L1166.8 146.9L1167.7 146.6L1168.6 150.3L1169.4 147.1L1170.3 146.1L1171.2 148.5L1172 145.3L1172.9 146.8L1173.8 146.9L1174.6 147.2L1175.5 146L1176.4 144.6L1177.2 145.4L1178.1 145.8L1179 144.1L1179.8 145.2L1180.7 147.9L1181.6 147.3L1182.4 149.3L1183.3 148.6L1184.2 150.6L1185 150.5L1185.9 149.4L1186.8 153.6L1187.6 152.6L1188.5 152.5L1189.4 153.2L1190.2 152.7L1191.1 152.4L1192 150.7L1192.8 146.1L1193.7 151.2L1194.5 149L1195.4 148.2L1196.3 149.1L1197.1 148.4L1198 145.7L1198.9 148.7L1199.7 147.2L1200.6 147.5L1201.5 147L1202.3 147.2L1203.2 147.9L1204.1 146.7L1204.9 147.3L1205.8 145.7L1206.7 142.9L1207.5 141.5L1208.4 141.4L1209.3 144.2L1210.1 144.4L1211 142.3L1211.9 142.4L1212.7 141.2L1213.6 140.5L1214.5 140.1L1215.3 139.3L1216.2 142.6L1217.1 141.3L1217.9 140.5L1218.8 141.3L1219.7 143.3L1220.5 141.9L1221.4 142.7L1222.2 141.3L1223.1 142.5L1224 146L1224.8 144.5L1225.7 145.1L1226.6 142.5L1227.4 145L1228.3 144.3L1229.2 144.3L1230 144.4L1230.9 141.7L1231.8 142.6L1232.6 141.6L1233.5 140.5L1234.4 141.7L1235.2 141.6L1236.1 139.8L1237 140.5L1237.8 138.4L1238.7 140.8L1239.6 137.7L1240.4 139.4L1241.3 139.7L1242.2 138.4L1243 142L1243.9 140.8L1244.8 143.8L1245.6 145.1L1246.5 147.7L1247.4 146.4L1248.2 146.2L1249.1 149.1L1249.9 150.2L1250.8 149.4L1251.7 149.3L1252.5 152.6L1253.4 155.2L1254.3 155.6L1255.1 157.7L1256 163.1L1256.9 160.5L1257.7 155.9L1258.6 136.6L1259.5 88.5L1260.3 76.2L1261.2 116.4L1262.1 152L1262.9 117.5L1263.8 87.7L1264.7 114L1265.5 161.9L1266.4 185.4L1267.3 185.4L1268.1 178.2L1269 167.9L1269.9 161.5L1270.7 155.4L1271.6 158.1L1272.5 159L1273.3 156.3L1274.2 160.4L1275 159.4L1275.9 161.3L1276.8 161.5L1277.6 159.5L1278.5 161.4L1279.4 161.1L1280.2 161.4L1281.1 157.9L1282 160.6L1282.8 157.1L1283.7 157.5L1284.6 157.5L1285.4 157.1L1286.3 157.4L1287.2 159.3L1288 156.2L1288.9 156.5L1289.8 157.4L1290.6 148.9L1291.5 146.7L1292.4 141.6L1293.2 136.2L1294.1 128.6L1295 120L1295.8 113.8L1296.7 103.4L1297.6 91.3L1298.4 81.6L1299.3 72.6L1300.2 62.8L1301 51.7L1301.9 41.8L1302.7 34.2L1303.6 31.1L1304.5 26.2L1305.3 22.6L1306.2 20.8L1307.1 25.4L1307.9 28.8L1308.8 30.9L1309.7 31.5L1310.5 37.5L1311.4 39.8L1312.3 42.3L1313.1 48.2L1314 48.5L1314.9 53.8L1315.7 57.5L1316.6 60.2L1317.5 63.1L1318.3 66.9L1319.2 67.6L1320.1 69.9L1320.9 72.5L1321.8 76.5L1322.7 78.6L1323.5 82.3L1324.4 83.5L1325.3 85.6L1326.1 91.8L1327 92.5L1327.9 91.6L1328.7 94.5L1329.6 96.8L1330.4 98.2L1331.3 97.8L1332.2 99.6L1333 99.5L1333.9 102.4L1334.8 102.5L1335.6 101L1336.5 104.7L1337.4 104.2L1338.2 104L1339.1 103.5L1340 105.7L1340.8 104L1341.7 104.7L1342.6 104.9L1343.4 106.5L1344.3 107.7L1345.2 109.4L1346 109.2L1346.9 108.2L1347.8 110L1348.6 112.2L1349.5 111.6L1350.4 114.8L1351.2 113.3L1352.1 115.9L1353 118.4L1353.8 118L1354.7 117.5L1355.6 117.4L1356.4 120.3L1357.3 118.8L1358.1 121L1359 123.1L1359.9 123.3L1360.7 125.8L1361.6 128.6L1362.5 125L1363.3 127.7L1364.2 128.2L1365.1 131.8L1365.9 130.6L1366.8 132.1L1367.7 133.7L1368.5 135.2L1369.4 135.8L1370.3 135.9L1371.1 137.3L1372 135.8L1372.9 134.9L1373.7 133.1L1374.6 133.3L1375.5 132.4L1376.3 132.8L1377.2 130.5L1378.1 133.4L1378.9 133.9L1379.8 134.4L1380.7 131.2L1381.5 133.2L1382.4 134.3L1383.2 132.8L1384.1 132.2L1385 135L1385.8 131.3L1386.7 133.7L1387.6 131.8L1388.4 134.4L1389.3 134.3L1390.2 132.4L1391 134.8L1391.9 134.9L1392.8 138.1L1393.6 136.2L1394.5 136.8L1395.4 137.3L1396.2 137.6L1397.1 139.2L1398 140.8L1398.8 141L1399.7 141L1400.6 141.3L1401.4 142L1402.3 143.1L1403.2 141.9L1404 143.8L1404.9 144.6L1405.8 144.8L1406.6 144.2L1407.5 142.8L1408.4 143.5L1409.2 145.3L1410.1 146L1410.9 145.9L1411.8 145.5L1412.7 148.1L1413.5 148.2L1414.4 147.5L1415.3 149.4L1416.1 149.2L1417 148L1417.9 149.4L1418.7 149.8L1419.6 151.1L1420.5 151.9L1421.3 152.1L1422.2 150.3L1423.1 151L1423.9 150.4L1424.8 152.3L1425.7 152.1L1426.5 152.2L1427.4 151.6L1428.3 149L1429.1 150L1430 150.8L1430.9 148L1431.7 150.4L1432.6 148L1433.5 148.9L1434.3 149.3L1435.2 150.4L1436.1 147.4L1436.9 151L1437.8 149L1438.6 149.1L1439.5 148.4L1440.4 150.4L1441.2 150.1L1442.1 148.2L1443 146.1L1443.8 148.7L1444.7 150L1445.6 149.3L1446.4 148L1447.3 147L1448.2 146.4L1449 147.2L1449.9 146.3L1450.8 147.4L1451.6 148L1452.5 147.8L1453.4 147.4L1454.2 148.7L1455.1 150.5L1456 148.6L1456.8 147.5L1457.7 149L1458.6 148.4L1459.4 150.7L1460.3 151.4L1461.2 150.6L1462 151.8L1462.9 154.4L1463.8 151.6L1464.6 154.5L1465.5 152.1L1466.3 150.2L1467.2 152.3L1468.1 152.4L1468.9 151.8L1469.8 151.9L1470.7 153.8L1471.5 150.6L1472.4 151.9L1473.3 151.8L1474.1 153.8L1475 153.1L1475.9 156L1476.7 153.9L1477.6 155L1478.5 154.1L1479.3 152.3L1480.2 153L1481.1 153.5L1481.9 151.6L1482.8 151.9L1483.7 149.5L1484.5 151.6L1485.4 152.6L1486.3 151.5L1487.1 149.8L1488 151.7L1488.9 150.8L1489.7 154.6L1490.6 151.7L1491.4 150.2L1492.3 150.2L1493.2 150.2L1494 150.2L1494.9 149.1L1495.8 150.5L1496.6 147.9L1497.5 149.8L1498.4 148.1L1499.2 144.4L1500.1 142.7L1501 146.4L1501.8 146.3L1502.7 143.7L1503.6 145.4L1504.4 148.5L1505.3 147.1L1506.2 148.1L1507 150.1L1507.9 148.7L1508.8 147.9L1509.6 150.4L1510.5 149.5L1511.4 150.4L1512.2 153.4L1513.1 151.5L1514 152.9L1514.8 151.5L1515.7 153.9L1516.6 154L1517.4 154L1518.3 155L1519.1 157.8L1520 154.8L1520.9 156.5L1521.7 155.5L1522.6 157.9L1523.5 157.8L1524.3 158.1L1525.2 160.9L1526.1 160.3L1526.9 159L1527.8 159.1L1528.7 159.6L1529.5 164.1L1530.4 163.8L1531.3 162.1L1532.1 157.3L1533 159.5L1533.9 159.8L1534.7 156.7L1535.6 157.6L1536.5 159.6L1537.3 157.9L1538.2 159.9L1539.1 156L1539.9 154.9L1540.8 156L1541.7 155.9L1542.5 154.9L1543.4 157L1544.3 155.4L1545.1 156.4L1546 155.1L1546.8 156.4L1547.7 157.2L1548.6 157.2L1549.4 153.9L1550.3 157.8L1551.2 155.7L1552 156.9L1552.9 156.6L1553.8 157.2L1554.6 154.4L1555.5 157L1556.4 156L1557.2 155.7L1558.1 156.1L1559 155.8L1559.8 152.9L1560.7 156L1561.6 158L1562.4 156.6L1563.3 153.2L1564.2 154.7L1565 156L1565.9 155.6L1566.8 153.2L1567.6 154.9L1568.5 154.1L1569.4 155.3L1570.2 154.7L1571.1 154.9L1572 153.2L1572.8 153.6L1573.7 153.7L1574.5 153.8L1575.4 154.4L1576.3 155.2L1577.1 155.4L1578 154.1L1578.9 155.2L1579.7 153.7L1580.6 151.5L1581.5 153.2L1582.3 153.1L1583.2 152L1584.1 150.8L1584.9 154L1585.8 154L1586.7 151.7L1587.5 152.8L1588.4 151.8L1589.3 154.2L1590.1 153.3L1591 152.2L1591.9 153.5L1592.7 153.3L1593.6 152L1594.5 152.7L1595.3 155.9L1596.2 152.2L1597.1 153.9L1597.9 150.6L1598.8 152.1L1599.6 152.5L1600.5 149.8L1601.4 148.2L1602.2 149.8L1603.1 151.8L1604 150.2L1604.8 150.5L1605.7 152L1606.6 151.5L1607.4 148.6L1608.3 145.7L1609.2 145.6L1610 146L1610.9 147.6L1611.8 147.8L1612.6 148.4L1613.5 146.7L1614.4 150.8L1615.2 146.2L1616.1 148.7L1617 148.5L1617.8 147.5L1618.7 147.2L1619.6 147.5L1620.4 147.7L1621.3 147.3L1622.2 147.1L1623 147.2L1623.9 150.9L1624.8 149.7L1625.6 150L1626.5 150.5L1627.3 151.6L1628.2 150.5L1629.1 151.9L1629.9 151.7L1630.8 153L1631.7 154.3L1632.5 153L1633.4 157.1L1634.3 154.4L1635.1 155.3L1636 156L1636.9 156.8L1637.7 156.8L1638.6 155.1L1639.5 156.4L1640.3 158.1L1641.2 158.6L1642.1 158L1642.9 158.4L1643.8 157.5L1644.7 157.4L1645.5 155.9L1646.4 158.2L1647.3 156.3L1648.1 155.6L1649 158.1L1649.9 157.2L1650.7 157.9L1651.6 157L1652.5 155.8L1653.3 154.9L1654.2 158L1655 158.3L1655.9 156.5L1656.8 158.7L1657.6 157.7L1658.5 157.6L1659.4 157.2L1660.2 158.8L1661.1 161.8L1662 160L1662.8 161.4L1663.7 161.5L1664.6 160.3L1665.4 162.7L1666.3 162.4L1667.2 160.1L1668 158.4L1668.9 160.5L1669.8 161L1670.6 162.8L1671.5 160.2L1672.4 159.9L1673.2 160.6L1674.1 159.9L1675 159.7L1675.8 159.7L1676.7 158L1677.6 158.6L1678.4 158.7L1679.3 157.9L1680.2 156.3L1681 158.1L1681.9 159.2L1682.7 158.4L1683.6 158.6L1684.5 160.2L1685.3 159.4L1686.2 160.5L1687.1 159.3L1687.9 160.9L1688.8 161.3L1689.7 160.5L1690.5 160.5L1691.4 160.2L1692.3 160.7L1693.1 163.8L1694 159.6" stroke="#ff8f8f" stroke-width="1.1"/>
<path d="M1044.8 160.3L1045.7 161.3L1046.5 163.9L1047.4 161.9L1048.3 161.2L1049.1 157.9L1050 161L1050.9 159.2L1051.7 162.8L1052.6 160.9L1053.5 159.3L1054.3 160.7L1055.2 161L1056.1 158.1L1056.9 157.9L1057.8 157.8L1058.6 156.7L1059.5 158.9L1060.4 158L1061.2 159.4L1062.1 158.3L1063 157.5L1063.8 159.6L1064.7 157.5L1065.6 155L1066.4 157.2L1067.3 156.1L1068.2 155.9L1069 153.5L1069.9 157L1070.8 159.1L1071.6 160.2L1072.5 159.5L1073.4 159.2L1074.2 158.7L1075.1 161L1076 160.4L1076.8 160.5L1077.7 162.5L1078.6 161.8L1079.4 163.5L1080.3 162.5L1081.2 163.4L1082 161.7L1082.9 160.8L1083.8 161.6L1084.6 161.9L1085.5 160.4L1086.3 161.2L1087.2 159.9L1088.1 160.5L1088.9 157.7L1089.8 159.7L1090.7 158.8L1091.5 158.8L1092.4 158.8L1093.3 159.1L1094.1 158.5L1095 159.2L1095.9 158.2L1096.7 158.9L1097.6 157.9L1098.5 159.4L1099.3 158.5L1100.2 158.8L1101.1 161.3L1101.9 160.2L1102.8 160.3L1103.7 161L1104.5 159.9L1105.4 157.4L1106.3 157.5L1107.1 158.4L1108 157.5L1108.9 157.2L1109.7 156.9L1110.6 156.4L1111.5 153.9L1112.3 154.3L1113.2 156.8L1114 153.8L1114.9 152L1115.8 152.9L1116.6 153.3L1117.5 150.9L1118.4 150.7L1119.2 151.3L1120.1 148.5L1121 145.9L1121.8 145L1122.7 145.5L1123.6 147.5L1124.4 149.8L1125.3 148.5L1126.2 150.5L1127 152.6L1127.9 152.1L1128.8 150.4L1129.6 151.5L1130.5 152L1131.4 153.7L1132.2 149.5L1133.1 150.2L1134 148.9L1134.8 147.6L1135.7 151.2L1136.6 149.5L1137.4 149.4L1138.3 153.1L1139.2 150.4L1140 151.1L1140.9 152.9L1141.7 149.7L1142.6 151.3L1143.5 151.1L1144.3 150.9L1145.2 151.6L1146.1 151.5L1146.9 154.4L1147.8 152.3L1148.7 153.8L1149.5 154.4L1150.4 153.7L1151.3 152.1L1152.1 154.8L1153 152.5L1153.9 154L1154.7 151.2L1155.6 152.4L1156.5 152.7L1157.3 152.2L1158.2 153.7L1159.1 151.9L1159.9 152.5L1160.8 152.5L1161.7 151.8L1162.5 151.6L1163.4 149.6L1164.3 150.4L1165.1 149.5L1166 149.4L1166.8 147L1167.7 150.4L1168.6 149.3L1169.4 149L1170.3 148.2L1171.2 150.7L1172 149.3L1172.9 146.8L1173.8 147L1174.6 149.2L1175.5 146.6L1176.4 145.1L1177.2 143.8L1178.1 146.1L1179 146.3L1179.8 147.4L1180.7 147L1181.6 148.8L1182.4 151L1183.3 150.4L1184.2 152.2L1185 151.3L1185.9 154L1186.8 152.8L1187.6 149.7L1188.5 153.3L1189.4 150.9L1190.2 149.4L1191.1 151.2L1192 149L1192.8 149.1L1193.7 149.3L1194.5 149L1195.4 147.2L1196.3 150.1L1197.1 149.1L1198 147.4L1198.9 148.5L1199.7 147.5L1200.6 148.7L1201.5 145.2L1202.3 145.6L1203.2 145.5L1204.1 145.8L1204.9 146.4L1205.8 147.2L1206.7 143.1L1207.5 144.3L1208.4 144.3L1209.3 143.6L1210.1 142.5L1211 142.1L1211.9 142.2L1212.7 143.2L1213.6 145.3L1214.5 143.5L1215.3 142.8L1216.2 143L1217.1 142.4L1217.9 146.4L1218.8 140.4L1219.7 142.4L1220.5 140.6L1221.4 142.1L1222.2 142.6L1223.1 140.5L1224 143.3L1224.8 139.2L1225.7 142.6L1226.6 145.2L1227.4 143.9L1228.3 143.1L1229.2 145.2L1230 143.1L1230.9 143.6L1231.8 143.9L1232.6 144L1233.5 143.4L1234.4 142.3L1235.2 142.2L1236.1 141.9L1237 141L1237.8 140.4L1238.7 139.7L1239.6 139.8L1240.4 137L1241.3 137.5L1242.2 141.5L1243 142.8L1243.9 144L1244.8 142.4L1245.6 144.8L1246.5 142.9L1247.4 146.2L1248.2 147.5L1249.1 149.3L1249.9 150.4L1250.8 150.4L1251.7 148.5L1252.5 151.9L1253.4 155L1254.3 157.3L1255.1 159.5L1256 163.5L1256.9 162.5L1257.7 157.7L1258.6 137L1259.5 90.8L1260.3 75.3L1261.2 116.9L1262.1 153.7L1262.9 117.9L1263.8 91.2L1264.7 114.7L1265.5 164.4L1266.4 185.4L1267.3 185.4L1268.1 180L1269 169L1269.9 160.6L1270.7 156L1271.6 155.1L1272.5 157.2L1273.3 159.5L1274.2 160.9L1275 160.8L1275.9 160.6L1276.8 159.5L1277.6 160.6L1278.5 161.9L1279.4 162.6L1280.2 162.1L1281.1 164L1282 163.1L1282.8 162.9L1283.7 161.5L1284.6 159.1L1285.4 160.2L1286.3 160L1287.2 162L1288 160L1288.9 158L1289.8 155.2L1290.6 155.8L1291.5 147.8L1292.4 146.2L1293.2 137.7L1294.1 130.6L1295 121.1L1295.8 114.5L1296.7 103.4L1297.6 91.6L1298.4 82.6L1299.3 73.8L1300.2 67.1L1301 57.4L1301.9 49.1L1302.7 40.7L1303.6 35.4L1304.5 33.8L1305.3 28.5L1306.2 28.6L1307.1 31.4L1307.9 36.9L1308.8 37.8L1309.7 40.1L1310.5 43.1L1311.4 47.4L1312.3 49L1313.1 53.4L1314 57.9L1314.9 57.8L1315.7 63.3L1316.6 65.7L1317.5 70.9L1318.3 72.4L1319.2 74.9L1320.1 78.1L1320.9 77.7L1321.8 81.3L1322.7 82.2L1323.5 86.9L1324.4 88.2L1325.3 91.3L1326.1 93.8L1327 95.1L1327.9 97.9L1328.7 98.6L1329.6 98L1330.4 98.4L1331.3 101L1332.2 102.9L1333 105.1L1333.9 104.6L1334.8 105.6L1335.6 107L1336.5 104.2L1337.4 106.6L1338.2 106.4L1339.1 105.1L1340 106.2L1340.8 104.4L1341.7 108.3L1342.6 107.9L1343.4 110.4L1344.3 106.3L1345.2 108.1L1346 111.1L1346.9 110.7L1347.8 112.2L1348.6 112.4L1349.5 113L1350.4 115.7L1351.2 115.8L1352.1 118.6L1353 119.1L1353.8 119.6L1354.7 119.2L1355.6 121.3L1356.4 122.1L1357.3 122L1358.1 122L1359 122.6L1359.9 126L1360.7 124.1L1361.6 128.4L1362.5 128L1363.3 128.4L1364.2 128.7L1365.1 132.2L1365.9 134.3L1366.8 136.5L1367.7 135.6L1368.5 137.2L1369.4 136.2L1370.3 137.6L1371.1 135.1L1372 133.9L1372.9 135.1L1373.7 132.7L1374.6 134.2L1375.5 132.4L1376.3 133.8L1377.2 132.1L1378.1 131.2L1378.9 131.6L1379.8 132L1380.7 133.8L1381.5 134.3L1382.4 134.8L1383.2 133.8L1384.1 134.6L1385 133.9L1385.8 133.6L1386.7 132.1L1387.6 135.7L1388.4 133.7L1389.3 132.6L1390.2 132.4L1391 134.1L1391.9 131.2L1392.8 133.5L1393.6 135.2L1394.5 132.5L1395.4 134L1396.2 137.8L1397.1 139.8L1398 139.8L1398.8 138.8L1399.7 140.2L1400.6 141.8L1401.4 141.4L1402.3 142.6L1403.2 141.3L1404 141.7L1404.9 144.3L1405.8 143.7L1406.6 144.6L1407.5 144.2L1408.4 147L1409.2 146.8L1410.1 146L1410.9 147.4L1411.8 146.3L1412.7 146.5L1413.5 149L1414.4 148.9L1415.3 148.3L1416.1 148.4L1417 149.4L1417.9 149.2L1418.7 146.2L1419.6 148.6L1420.5 147.3L1421.3 148.8L1422.2 150.7L1423.1 146.4L1423.9 150.2L1424.8 149.6L1425.7 150.4L1426.5 149.2L1427.4 149.1L1428.3 149.5L1429.1 148.6L1430 147.2L1430.9 149.7L1431.7 147.6L1432.6 149.2L1433.5 147.7L1434.3 148.4L1435.2 147.9L1436.1 147.4L1436.9 146.5L1437.8 147.4L1438.6 148.2L1439.5 149.4L1440.4 148.5L1441.2 148.3L1442.1 148.8L1443 150.1L1443.8 149.6L1444.7 152.5L1445.6 150L1446.4 154.4L1447.3 150.5L1448.2 153.1L1449 152.6L1449.9 152.1L1450.8 150.7L1451.6 152.1L1452.5 150.1L1453.4 149.4L1454.2 149.6L1455.1 151.1L1456 147.9L1456.8 150.1L1457.7 146.8L1458.6 150.1L1459.4 153.1L1460.3 149.5L1461.2 151.1L1462 152.7L1462.9 152.6L1463.8 149L1464.6 152.1L1465.5 153.4L1466.3 153L1467.2 153L1468.1 155.1L1468.9 153.8L1469.8 155.5L1470.7 154.1L1471.5 154.1L1472.4 150.7L1473.3 153.3L1474.1 151.7L1475 155.8L1475.9 154.7L1476.7 155.7L1477.6 154.6L1478.5 158.7L1479.3 157.7L1480.2 158.1L1481.1 154.7L1481.9 155.6L1482.8 154.3L1483.7 154.1L1484.5 155L1485.4 153.5L1486.3 154.2L1487.1 153L1488 154.7L1488.9 152.6L1489.7 150.8L1490.6 153L1491.4 151L1492.3 150.4L1493.2 150.3L1494 146.2L1494.9 147.2L1495.8 146.2L1496.6 144.5L1497.5 144.9L1498.4 145.8L1499.2 142.5L1500.1 144.4L1501 145.4L1501.8 145L1502.7 145.6L1503.6 146.7L1504.4 147.1L1505.3 148.2L1506.2 147.5L1507 149.3L1507.9 149.7L1508.8 149.2L1509.6 147.9L1510.5 149.9L1511.4 149.9L1512.2 150.9L1513.1 149.3L1514 151.1L1514.8 150.4L1515.7 152.8L1516.6 155.9L1517.4 155.2L1518.3 155L1519.1 154L1520 159.2L1520.9 156.2L1521.7 156.7L1522.6 159.8L1523.5 161.6L1524.3 156.9L1525.2 161.1L1526.1 161.8L1526.9 160.9L1527.8 159.2L1528.7 161.7L1529.5 158.8L1530.4 162.5L1531.3 160.9L1532.1 160.4L1533 158.2L1533.9 159L1534.7 158.3L1535.6 157.7L1536.5 159.2L1537.3 156.4L1538.2 153L1539.1 156L1539.9 155.6L1540.8 156.8L1541.7 156L1542.5 156.7L1543.4 156.6L1544.3 155.6L1545.1 156.8L1546 155.6L1546.8 155.5L1547.7 157.5L1548.6 157.8L1549.4 155.3L1550.3 155.3L1551.2 156.4L1552 155.5L1552.9 155.5L1553.8 153.8L1554.6 153.7L1555.5 154.6L1556.4 155.5L1557.2 155.6L1558.1 152.7L1559 152.5L1559.8 157.3L1560.7 156.2L1561.6 153.4L1562.4 154.3L1563.3 155.2L1564.2 153.3L1565 155L1565.9 152.1L1566.8 153.7L1567.6 151.3L1568.5 153.9L1569.4 152.5L1570.2 153.6L1571.1 153.6L1572 153.2L1572.8 152.3L1573.7 153.9L1574.5 150.5L1575.4 152.5L1576.3 155L1577.1 155.1L1578 155.2L1578.9 155.4L1579.7 153.5L1580.6 153.7L1581.5 153.3L1582.3 154.9L1583.2 152.8L1584.1 154.8L1584.9 154.2L1585.8 152.8L1586.7 154.7L1587.5 152L1588.4 151.7L1589.3 151.5L1590.1 153.4L1591 152.9L1591.9 151.8L1592.7 152L1593.6 150.4L1594.5 150.3L1595.3 150.6L1596.2 149.6L1597.1 152.7L1597.9 152.1L1598.8 150.2L1599.6 148.4L1600.5 151.4L1601.4 150.5L1602.2 149.6L1603.1 150.5L1604 152.2L1604.8 150.4L1605.7 149.6L1606.6 149.1L1607.4 149.6L1608.3 148.6L1609.2 150.5L1610 149.1L1610.9 148.9L1611.8 148.3L1612.6 146.6L1613.5 148.2L1614.4 146.7L1615.2 147.3L1616.1 148.8L1617 146.9L1617.8 146.4L1618.7 144.9L1619.6 146.4L1620.4 146L1621.3 145.2L1622.2 146.4L1623 148.2L1623.9 148L1624.8 147.4L1625.6 149.1L1626.5 149L1627.3 148.8L1628.2 149.9L1629.1 150.4L1629.9 151.3L1630.8 151.7L1631.7 152.6L1632.5 152.2L1633.4 153.5L1634.3 153.9L1635.1 157.1L1636 155.4L1636.9 156.6L1637.7 156.7L1638.6 156.5L1639.5 156.5L1640.3 155.9L1641.2 157L1642.1 158.1L1642.9 159L1643.8 160.8L1644.7 157.7L1645.5 155.5L1646.4 159.3L1647.3 157.2L1648.1 159L1649 159.6L1649.9 157.1L1650.7 158L1651.6 159.4L1652.5 158.2L1653.3 159.8L1654.2 157.4L1655 156.6L1655.9 159.1L1656.8 157.2L1657.6 159.3L1658.5 158L1659.4 156.8L1660.2 157.3L1661.1 159.3L1662 158.4L1662.8 158.7L1663.7 158.6L1664.6 157.8L1665.4 156L1666.3 156.7L1667.2 159L1668 158.9L1668.9 158L1669.8 160L1670.6 162.8L1671.5 160.7L1672.4 160.7L1673.2 160.3L1674.1 160.4L1675 161.1L1675.8 160.1L1676.7 160.7L1677.6 157.9L1678.4 158.8L1679.3 162.1L1680.2 159.9L1681 158.3L1681.9 158.6L1682.7 159.5L1683.6 160.5L1684.5 161.5L1685.3 161.2L1686.2 160.6L1687.1 160.3L1687.9 160.7L1688.8 160.6L1689.7 161.2L1690.5 164.2L1691.4 163.5L1692.3 161L1693.1 160.9L1694 163.1" stroke="#ff8f8f" stroke-width="1.1"/>
<path d="M1044.8 159.7L1045.7 160L1046.5 161.9L1047.4 162.1L1048.3 161.2L1049.1 161.5L1050 161.7L1050.9 158.4L1051.7 159.3L1052.6 162.4L1053.5 160.9L1054.3 160.8L1055.2 162L1056.1 162.6L1056.9 158.6L1057.8 159.1L1058.6 159.3L1059.5 159.7L1060.4 160.7L1061.2 158.4L1062.1 161.6L1063 161L1063.8 159L1064.7 159.4L1065.6 157.8L1066.4 157L1067.3 157.4L1068.2 156.5L1069 156.6L1069.9 157.8L1070.8 158L1071.6 158.6L1072.5 159.7L1073.4 160.9L1074.2 159.2L1075.1 159.1L1076 159L1076.8 162.2L1077.7 159.8L1078.6 162.1L1079.4 161.6L1080.3 163L1081.2 161.6L1082 163.3L1082.9 160.9L1083.8 162.2L1084.6 164.3L1085.5 162.2L1086.3 160.9L1087.2 160.9L1088.1 159.9L1088.9 157.3L1089.8 159.2L1090.7 160.1L1091.5 156.8L1092.4 159.9L1093.3 159.3L1094.1 161.6L1095 160.8L1095.9 163L1096.7 161.2L1097.6 162.5L1098.5 162.8L1099.3 162.6L1100.2 160.8L1101.1 164.2L1101.9 161.9L1102.8 162.2L1103.7 160.9L1104.5 162.7L1105.4 160.9L1106.3 160.3L1107.1 160L1108 158.5L1108.9 159.2L1109.7 155.6L1110.6 157.4L1111.5 156.7L1112.3 156.5L1113.2 155.7L1114 154.7L1114.9 152.9L1115.8 154.1L1116.6 150.9L1117.5 154L1118.4 150L1119.2 149.6L1120.1 149L1121 148.9L1121.8 147.1L1122.7 146.7L1123.6 148.6L1124.4 149L1125.3 151.7L1126.2 150.7L1127 151.9L1127.9 150.6L1128.8 151.3L1129.6 149.9L1130.5 151.2L1131.4 148.9L1132.2 149.2L1133.1 148.5L1134 148.5L1134.8 147.4L1135.7 148.8L1136.6 149.5L1137.4 150.6L1138.3 150.1L1139.2 151.7L1140 151.5L1140.9 152L1141.7 151.3L1142.6 153L1143.5 151.7L1144.3 153.8L1145.2 152.8L1146.1 154.3L1146.9 153.5L1147.8 151.3L1148.7 154.6L1149.5 151.9L1150.4 153.2L1151.3 151.2L1152.1 152.4L1153 151.8L1153.9 152L1154.7 153.8L1155.6 151.2L1156.5 153.3L1157.3 153.9L1158.2 152.4L1159.1 152.9L1159.9 151L1160.8 151L1161.7 152.6L1162.5 150.5L1163.4 150.4L1164.3 151.7L1165.1 150L1166 149.9L1166.8 148.8L1167.7 148.7L1168.6 146.2L1169.4 147.7L1170.3 148.9L1171.2 147.7L1172 147.5L1172.9 147.6L1173.8 143.8L1174.6 144L1175.5 143.6L1176.4 143.2L1177.2 143.2L1178.1 144.8L1179 142.3L1179.8 146.4L1180.7 146.4L1181.6 146.1L1182.4 148.4L1183.3 149.6L1184.2 149.3L1185 152.1L1185.9 151.3L1186.8 151.1L1187.6 150.3L1188.5 150.5L1189.4 152L1190.2 151.3L1191.1 152.1L1192 149.3L1192.8 151.7L1193.7 149.6L1194.5 147.8L1195.4 148.3L1196.3 147.4L1197.1 145.1L1198 148.4L1198.9 147.8L1199.7 147.5L1200.6 146.9L1201.5 146L1202.3 142.1L1203.2 145L1204.1 142.7L1204.9 144.4L1205.8 142.2L1206.7 143.8L1207.5 141.7L1208.4 143.7L1209.3 145.2L1210.1 145L1211 144.3L1211.9 141.3L1212.7 143.1L1213.6 143.7L1214.5 143.6L1215.3 142.8L1216.2 144.4L1217.1 143.4L1217.9 144.4L1218.8 143.3L1219.7 145.6L1220.5 144.1L1221.4 143.7L1222.2 145.3L1223.1 143L1224 144.3L1224.8 144.1L1225.7 146L1226.6 144.5L1227.4 144.8L1228.3 144.1L1229.2 146.1L1230 142.7L1230.9 145.6L1231.8 142.7L1232.6 144.6L1233.5 144.6L1234.4 143.8L1235.2 144.2L1236.1 140.5L1237 141.1L1237.8 140.9L1238.7 140.5L1239.6 142.8L1240.4 138L1241.3 140.6L1242.2 140.4L1243 143.6L1243.9 144.2L1244.8 144.7L1245.6 145.3L1246.5 143.7L1247.4 145.5L1248.2 146.4L1249.1 149.4L1249.9 149.3L1250.8 152.5L1251.7 152.6L1252.5 153.7L1253.4 155.6L1254.3 155.7L1255.1 159.5L1256 162.9L1256.9 162.3L1257.7 157.2L1258.6 139.1L1259.5 89.6L1260.3 76.8L1261.2 117.5L1262.1 153.8L1262.9 119.1L1263.8 90.4L1264.7 116.6L1265.5 166.5L1266.4 185.4L1267.3 185.4L1268.1 181.6L1269 167.9L1269.9 162L1270.7 158.8L1271.6 156.8L1272.5 159.2L1273.3 160.4L1274.2 159.3L1275 159.6L1275.9 156.9L1276.8 161.8L1277.6 160L1278.5 162.8L1279.4 162.3L1280.2 160.9L1281.1 162.5L1282 158.7L1282.8 159.3L1283.7 156.9L1284.6 159.4L1285.4 159L1286.3 156.3L1287.2 158.7L1288 158.3L1288.9 157.3L1289.8 155.2L1290.6 151.2L1291.5 148.2L1292.4 144.8L1293.2 139.1L1294.1 132.4L1295 124L1295.8 118.1L1296.7 106.9L1297.6 99.8L1298.4 92.3L1299.3 82.6L1300.2 75.2L1301 64.7L1301.9 57.5L1302.7 53.6L1303.6 47.1L1304.5 47.5L1305.3 42.2L1306.2 42.2L1307.1 45.9L1307.9 49.9L1308.8 51.4L1309.7 54L1310.5 59.1L1311.4 58.5L1312.3 61.8L1313.1 66.1L1314 68.3L1314.9 72.4L1315.7 73.1L1316.6 76.5L1317.5 79.1L1318.3 81L1319.2 83L1320.1 84.3L1320.9 84.7L1321.8 87.5L1322.7 90.9L1323.5 91L1324.4 94.1L1325.3 97.2L1326.1 98.7L1327 98.9L1327.9 101.8L1328.7 102.1L1329.6 104.4L1330.4 105.2L1331.3 108.1L1332.2 109.4L1333 111.4L1333.9 111.3L1334.8 110.5L1335.6 112.1L1336.5 112.2L1337.4 114.4L1338.2 114L1339.1 113.5L1340 114.6L1340.8 113.5L1341.7 114.2L1342.6 114.1L1343.4 112.6L1344.3 114.3L1345.2 117.5L1346 116.5L1346.9 117L1347.8 116.2L1348.6 116L1349.5 118L1350.4 118.8L1351.2 118.3L1352.1 120.6L1353 122.2L1353.8 122.1L1354.7 120.5L1355.6 124.3L1356.4 125.7L1357.3 126L1358.1 123.9L1359 125.3L1359.9 127.2L1360.7 128.8L1361.6 128.8L1362.5 128.1L1363.3 130.7L1364.2 133.1L1365.1 128.6L1365.9 133.1L1366.8 135.5L1367.7 135L1368.5 135.4L1369.4 136.4L1370.3 136.2L1371.1 137.2L1372 138.5L1372.9 135.9L1373.7 134.9L1374.6 134.9L1375.5 134.9L1376.3 136L1377.2 134.7L1378.1 135.2L1378.9 135.9L1379.8 135.3L1380.7 137.1L1381.5 133.9L1382.4 137L1383.2 137.6L1384.1 137.2L1385 136.4L1385.8 139.5L1386.7 137L1387.6 138.8L1388.4 136.4L1389.3 134.9L1390.2 136L1391 135.5L1391.9 136.3L1392.8 137L1393.6 138.5L1394.5 136.7L1395.4 139.9L1396.2 139.9L1397.1 138.3L1398 141.5L1398.8 142.2L1399.7 141.8L1400.6 144.1L1401.4 146.4L1402.3 144.6L1403.2 144.8L1404 146.5L1404.9 144.9L1405.8 146.3L1406.6 145.9L1407.5 147.9L1408.4 145.1L1409.2 147.3L1410.1 145.2L1410.9 146.2L1411.8 147.2L1412.7 146.3L1413.5 147.8L1414.4 150.2L1415.3 148.7L1416.1 149.2L1417 148.5L1417.9 146.8L1418.7 148.9L1419.6 149.5L1420.5 148.9L1421.3 148.6L1422.2 151.7L1423.1 151.2L1423.9 150.8L1424.8 148.7L1425.7 148.2L1426.5 149.5L1427.4 150.3L1428.3 150.2L1429.1 150.6L1430 147.1L1430.9 150.4L1431.7 150.1L1432.6 148.7L1433.5 148.3L1434.3 146.4L1435.2 148.2L1436.1 146.2L1436.9 148.5L1437.8 148.3L1438.6 147.5L1439.5 148.2L1440.4 146.8L1441.2 147.8L1442.1 145.4L1443 147.3L1443.8 148.1L1444.7 148.2L1445.6 145.8L1446.4 148.7L1447.3 148.2L1448.2 149.7L1449 149.6L1449.9 148L1450.8 147.5L1451.6 145.2L1452.5 149L1453.4 149.4L1454.2 149.2L1455.1 150.1L1456 150.2L1456.8 147.8L1457.7 149.5L1458.6 150.9L1459.4 148.9L1460.3 149.4L1461.2 150.8L1462 151.8L1462.9 151L1463.8 149.9L1464.6 150.7L1465.5 152.1L1466.3 151.6L1467.2 152.9L1468.1 154.6L1468.9 149.5L1469.8 152L1470.7 153L1471.5 152L1472.4 151.1L1473.3 153.4L1474.1 153.5L1475 155.4L1475.9 155L1476.7 154.8L1477.6 156.2L1478.5 155L1479.3 154.4L1480.2 155.2L1481.1 155L1481.9 155.6L1482.8 154.9L1483.7 153.5L1484.5 151L1485.4 154.8L1486.3 152.2L1487.1 151.8L1488 152.3L1488.9 152.7L1489.7 153.8L1490.6 148.7L1491.4 151.2L1492.3 148.3L1493.2 148.8L1494 149.1L1494.9 149.3L1495.8 150.4L1496.6 149.3L1497.5 145.6L1498.4 146.8L1499.2 147.9L1500.1 144.9L1501 145.5L1501.8 148.1L1502.7 148.2L1503.6 148.3L1504.4 147.6L1505.3 148.3L1506.2 146.1L1507 148.3L1507.9 147.5L1508.8 146.8L1509.6 146.8L1510.5 149.8L1511.4 147.4L1512.2 148L1513.1 150.1L1514 151.1L1514.8 150.9L1515.7 151.4L1516.6 154.5L1517.4 155.7L1518.3 156.6L1519.1 156.3L1520 159.8L1520.9 160L1521.7 160.1L1522.6 156.5L1523.5 160.8L1524.3 159.8L1525.2 158.7L1526.1 161.5L1526.9 160.1L1527.8 162L1528.7 161.4L1529.5 160.5L1530.4 159L1531.3 159.7L1532.1 160.7L1533 158.3L1533.9 158L1534.7 159L1535.6 157L1536.5 158.5L1537.3 154.9L1538.2 156.3L1539.1 156.5L1539.9 155L1540.8 156L1541.7 153.6L1542.5 154.6L1543.4 155.5L1544.3 156L1545.1 151.5L1546 155L1546.8 157.9L1547.7 155L1548.6 155.9L1549.4 155.9L1550.3 154.2L1551.2 158.7L1552 153.7L1552.9 156L1553.8 155.2L1554.6 154.9L1555.5 157.8L1556.4 155.4L1557.2 155.4L1558.1 155.8L1559 157.5L1559.8 155.1L1560.7 153.1L1561.6 156.4L1562.4 154.6L1563.3 154.9L1564.2 156.7L1565 155.9L1565.9 155.1L1566.8 154.7L1567.6 155.6L1568.5 153.9L1569.4 157.2L1570.2 153.9L1571.1 155L1572 151.3L1572.8 154.4L1573.7 156.5L1574.5 155.4L1575.4 154.3L1576.3 155.8L1577.1 153.7L1578 153L1578.9 152.8L1579.7 152.6L1580.6 154.7L1581.5 154L1582.3 153.5L1583.2 155.9L1584.1 153.7L1584.9 154.7L1585.8 155.2L1586.7 155.7L1587.5 153.3L1588.4 154.3L1589.3 152.2L1590.1 153.2L1591 153.2L1591.9 153.4L1592.7 152.3L1593.6 152.6L1594.5 153.4L1595.3 149.8L1596.2 151.5L1597.1 149.5L1597.9 150L1598.8 146.7L1599.6 150L1600.5 148.6L1601.4 148.3L1602.2 150.1L1603.1 149.5L1604 149.1L1604.8 146.9L1605.7 147.1L1606.6 145.5L1607.4 144.7L1608.3 146.3L1609.2 145.5L1610 144.8L1610.9 146L1611.8 144.7L1612.6 147.3L1613.5 146.2L1614.4 149.5L1615.2 147.7L1616.1 147.7L1617 150.6L1617.8 147.9L1618.7 149.4L1619.6 148.6L1620.4 148.7L1621.3 148.8L1622.2 148.4L1623 150.2L1623.9 148L1624.8 150.6L1625.6 149.3L1626.5 149.4L1627.3 150.2L1628.2 152.5L1629.1 151L1629.9 153.1L1630.8 151.4L1631.7 153L1632.5 153.8L1633.4 154.6L1634.3 155.3L1635.1 154.5L1636 155.7L1636.9 157L1637.7 155.8L1638.6 156.1L1639.5 158.4L1640.3 156.2L1641.2 156.3L1642.1 154.7L1642.9 157.4L1643.8 156.7L1644.7 158.1L1645.5 157.6L1646.4 156L1647.3 156.8L1648.1 156.3L1649 160.4L1649.9 158L1650.7 159.1L1651.6 156.7L1652.5 158.4L1653.3 160.5L1654.2 158.6L1655 157.7L1655.9 156.1L1656.8 159.6L1657.6 160.3L1658.5 158.1L1659.4 159L1660.2 159.4L1661.1 159.2L1662 155.6L1662.8 158.7L1663.7 158.1L1664.6 156.4L1665.4 158.1L1666.3 159.6L1667.2 158.1L1668 156.8L1668.9 157.9L1669.8 158.5L1670.6 159.2L1671.5 158.4L1672.4 158.7L1673.2 158.5L1674.1 158.7L1675 159.7L1675.8 157.8L1676.7 157.5L1677.6 158.9L1678.4 157.6L1679.3 159.9L1680.2 159.5L1681 160.1L1681.9 161.7L1682.7 159.2L1683.6 157.7L1684.5 158.8L1685.3 159L1686.2 158.3L1687.1 160.2L1687.9 158.9L1688.8 160.8L1689.7 158.8L1690.5 160.5L1691.4 162.9L1692.3 160.7L1693.1 160.8L1694 160.8" stroke="#ff8f8f" stroke-width="1.1"/>
<path d="M1044.8 161.3L1045.7 160.4L1046.5 160.2L1047.4 163.2L1048.3 161.3L1049.1 160.6L1050 161.1L1050.9 160.2L1051.7 160.3L1052.6 159.2L1053.5 160.1L1054.3 158.3L1055.2 159.6L1056.1 159.9L1056.9 157.7L1057.8 158.8L1058.6 158.7L1059.5 158.4L1060.4 158.8L1061.2 158.6L1062.1 158.6L1063 159.4L1063.8 156.9L1064.7 157.4L1065.6 157.9L1066.4 156.6L1067.3 159.1L1068.2 159.9L1069 157.6L1069.9 159.7L1070.8 158.8L1071.6 161.3L1072.5 162.4L1073.4 161.3L1074.2 161.1L1075.1 162.2L1076 159.6L1076.8 162.3L1077.7 161.4L1078.6 162.1L1079.4 162L1080.3 161.2L1081.2 162.4L1082 161.8L1082.9 162.7L1083.8 162.2L1084.6 162.7L1085.5 161.4L1086.3 160.8L1087.2 161.6L1088.1 159.6L1088.9 161L1089.8 160.9L1090.7 163.8L1091.5 164.1L1092.4 161.3L1093.3 163L1094.1 161.8L1095 161.9L1095.9 159.1L1096.7 160.7L1097.6 160.7L1098.5 159.1L1099.3 159.8L1100.2 158.6L1101.1 158.1L1101.9 159.8L1102.8 157L1103.7 158.3L1104.5 159.6L1105.4 157.1L1106.3 154.1L1107.1 157L1108 156.2L1108.9 157.9L1109.7 157.9L1110.6 156.5L1111.5 155.6L1112.3 154.9L1113.2 155.8L1114 155.9L1114.9 154.4L1115.8 154.7L1116.6 151.8L1117.5 152.6L1118.4 150.8L1119.2 149.9L1120.1 150.1L1121 148.2L1121.8 148L1122.7 146.5L1123.6 147.2L1124.4 148L1125.3 148.3L1126.2 150.3L1127 151.7L1127.9 149.2L1128.8 151.2L1129.6 151.8L1130.5 149.7L1131.4 150.3L1132.2 149.9L1133.1 149.4L1134 149.1L1134.8 145.4L1135.7 148L1136.6 147.4L1137.4 148.3L1138.3 149.6L1139.2 149.2L1140 150.5L1140.9 148.2L1141.7 150L1142.6 150.9L1143.5 150.8L1144.3 151.7L1145.2 149.5L1146.1 152.8L1146.9 155.4L1147.8 155L1148.7 153.4L1149.5 151.4L1150.4 155.5L1151.3 153.3L1152.1 154.9L1153 153.7L1153.9 151.8L1154.7 156.8L1155.6 154.7L1156.5 151.5L1157.3 154.4L1158.2 152.6L1159.1 153.3L1159.9 153.6L1160.8 154.9L1161.7 151L1162.5 153.9L1163.4 150.8L1164.3 150.1L1165.1 150.4L1166 151.3L1166.8 151.4L1167.7 146.7L1168.6 148.8L1169.4 149L1170.3 146.4L1171.2 149.5L1172 148.5L1172.9 149.4L1173.8 149.2L1174.6 149.2L1175.5 147.4L1176.4 147L1177.2 145.6L1178.1 147.1L1179 146.5L1179.8 146.3L1180.7 146.8L1181.6 146.4L1182.4 147L1183.3 150.9L1184.2 151.6L1185 149.2L1185.9 151L1186.8 151.2L1187.6 152.1L1188.5 150.8L1189.4 150.6L1190.2 152.5L1191.1 149.3L1192 148.6L1192.8 151.5L1193.7 148.5L1194.5 148.9L1195.4 146.6L1196.3 147.7L1197.1 149.6L1198 145.7L1198.9 147.1L1199.7 145.8L1200.6 144.3L1201.5 145.9L1202.3 144.2L1203.2 145.7L1204.1 146.8L1204.9 147.7L1205.8 146.5L1206.7 147.4L1207.5 146.9L1208.4 146.6L1209.3 144.8L1210.1 145.9L1211 146L1211.9 145.1L1212.7 145.5L1213.6 147.3L1214.5 142.4L1215.3 145.1L1216.2 144.6L1217.1 145.9L1217.9 145.2L1218.8 144.5L1219.7 144.7L1220.5 143L1221.4 140.5L1222.2 143.8L1223.1 143.7L1224 143.3L1224.8 143.3L1225.7 145.2L1226.6 143.6L1227.4 144.2L1228.3 144.5L1229.2 144.2L1230 146.4L1230.9 142.4L1231.8 143.5L1232.6 141.6L1233.5 142.6L1234.4 142.1L1235.2 142.9L1236.1 139.5L1237 139.6L1237.8 138.6L1238.7 139.8L1239.6 137.8L1240.4 137.2L1241.3 138.8L1242.2 137.7L1243 141.5L1243.9 142.6L1244.8 142L1245.6 142.5L1246.5 144.4L1247.4 144.7L1248.2 144.6L1249.1 146.6L1249.9 148.7L1250.8 149.2L1251.7 152L1252.5 154.8L1253.4 154.1L1254.3 156L1255.1 160.7L1256 164.2L1256.9 161.6L1257.7 158.8L1258.6 137.3L1259.5 92L1260.3 79.1L1261.2 118L1262.1 156.1L1262.9 119.1L1263.8 91.6L1264.7 117.2L1265.5 164.3L1266.4 185.2L1267.3 185.4L1268.1 181.4L1269 171L1269.9 159.1L1270.7 161.1L1271.6 156.7L1272.5 156.7L1273.3 157.6L1274.2 160.9L1275 162.6L1275.9 160.4L1276.8 162L1277.6 161.8L1278.5 160.5L1279.4 163.9L1280.2 161.7L1281.1 160.6L1282 161.7L1282.8 162.8L1283.7 161.3L1284.6 161.1L1285.4 159L1286.3 160.9L1287.2 158.2L1288 160.4L1288.9 158L1289.8 158L1290.6 153.6L1291.5 150.1L1292.4 149.7L1293.2 140.5L1294.1 136.2L1295 129.5L1295.8 123.5L1296.7 114.1L1297.6 106.6L1298.4 98.3L1299.3 90.1L1300.2 82L1301 76.2L1301.9 70.1L1302.7 64.1L1303.6 62.5L1304.5 56.2L1305.3 54.1L1306.2 54.7L1307.1 55.1L1307.9 58.9L1308.8 61.1L1309.7 63.3L1310.5 65.4L1311.4 68.8L1312.3 69.6L1313.1 72.5L1314 75L1314.9 76.4L1315.7 80L1316.6 83.8L1317.5 83.7L1318.3 87.9L1319.2 87L1320.1 89L1320.9 90.6L1321.8 93.9L1322.7 95.8L1323.5 98.5L1324.4 99L1325.3 101.3L1326.1 101.3L1327 103.2L1327.9 105.7L1328.7 105.7L1329.6 107.5L1330.4 106.1L1331.3 109.1L1332.2 110.9L1333 110.7L1333.9 111.9L1334.8 111.5L1335.6 112.7L1336.5 114.8L1337.4 113.1L1338.2 114.8L1339.1 114.3L1340 114.8L1340.8 112.6L1341.7 115.5L1342.6 117L1343.4 117.6L1344.3 117.6L1345.2 120.2L1346 118.8L1346.9 117.3L1347.8 120.7L1348.6 118.9L1349.5 120.7L1350.4 120.2L1351.2 121.2L1352.1 122.9L1353 122.3L1353.8 124.4L1354.7 123L1355.6 123.6L1356.4 125.4L1357.3 125.2L1358.1 125.8L1359 125.5L1359.9 128.4L1360.7 126.1L1361.6 125.3L1362.5 131L1363.3 133.1L1364.2 131.6L1365.1 134.6L1365.9 131.1L1366.8 134.1L1367.7 133.4L1368.5 135.6L1369.4 134.6L1370.3 135.4L1371.1 136.1L1372 136.8L1372.9 132.6L1373.7 134.1L1374.6 133.8L1375.5 132.5L1376.3 133.8L1377.2 133.2L1378.1 135.5L1378.9 134.1L1379.8 133.5L1380.7 137.2L1381.5 135.9L1382.4 135.5L1383.2 133.1L1384.1 138.2L1385 138.2L1385.8 135.2L1386.7 136.3L1387.6 135.2L1388.4 133.6L1389.3 135.3L1390.2 136L1391 135.4L1391.9 136.8L1392.8 135.9L1393.6 135.2L1394.5 136.3L1395.4 136.7L1396.2 136.4L1397.1 139.2L1398 137.3L1398.8 139.6L1399.7 139.1L1400.6 141.2L1401.4 141.5L1402.3 141.8L1403.2 140.4L1404 142.4L1404.9 143.3L1405.8 142.7L1406.6 143.8L1407.5 144.2L1408.4 144.6L1409.2 145.3L1410.1 145.4L1410.9 145.8L1411.8 146.9L1412.7 146.9L1413.5 146.3L1414.4 146.3L1415.3 147.7L1416.1 147.7L1417 146.1L1417.9 146.8L1418.7 147.2L1419.6 149.1L1420.5 150.5L1421.3 150.3L1422.2 151.2L1423.1 150.3L1423.9 150.4L1424.8 148.9L1425.7 148.1L1426.5 148.6L1427.4 149.2L1428.3 148.4L1429.1 149.7L1430 148.9L1430.9 147.9L1431.7 150.9L1432.6 146.9L1433.5 146.8L1434.3 144.1L1435.2 145.9L1436.1 149.7L1436.9 145.9L1437.8 148.8L1438.6 148.8L1439.5 149.7L1440.4 148.4L1441.2 148.8L1442.1 146.1L1443 149.5L1443.8 149.8L1444.7 150.3L1445.6 149.4L1446.4 148.1L1447.3 148.2L1448.2 150.7L1449 146.9L1449.9 145.9L1450.8 147L1451.6 148.2L1452.5 149.1L1453.4 147.1L1454.2 149.5L1455.1 147.4L1456 150.5L1456.8 149.2L1457.7 153.5L1458.6 150.7L1459.4 149.1L1460.3 148.6L1461.2 153.2L1462 151.8L1462.9 151.9L1463.8 151.4L1464.6 150.5L1465.5 152.4L1466.3 152L1467.2 149.7L1468.1 154.2L1468.9 151.4L1469.8 152.8L1470.7 152.3L1471.5 155.9L1472.4 154.1L1473.3 152.8L1474.1 155.4L1475 155.8L1475.9 154.3L1476.7 155.8L1477.6 156.5L1478.5 156.3L1479.3 154.9L1480.2 157.3L1481.1 157.4L1481.9 155.1L1482.8 154.4L1483.7 153.3L1484.5 154.9L1485.4 154.8L1486.3 155.7L1487.1 151.8L1488 153.6L1488.9 153.8L1489.7 152.8L1490.6 152L1491.4 151.4L1492.3 151.3L1493.2 150.4L1494 150.5L1494.9 150.7L1495.8 148.8L1496.6 146.8L1497.5 149.2L1498.4 145.8L1499.2 145.6L1500.1 142.6L1501 142.6L1501.8 144.4L1502.7 147L1503.6 149.4L1504.4 146.7L1505.3 148.7L1506.2 146.8L1507 150.4L1507.9 149.7L1508.8 148.6L1509.6 150.9L1510.5 150.2L1511.4 150.7L1512.2 151.9L1513.1 151.5L1514 150.6L1514.8 151.2L1515.7 151.1L1516.6 150.9L1517.4 154.2L1518.3 154.7L1519.1 156L1520 155.5L1520.9 158.1L1521.7 156.7L1522.6 157.9L1523.5 157.9L1524.3 159.1L1525.2 158.1L1526.1 159.7L1526.9 161.8L1527.8 160.1L1528.7 158.3L1529.5 159.5L1530.4 158.4L1531.3 161.1L1532.1 157.2L1533 158.1L1533.9 157.3L1534.7 158.1L1535.6 156.8L1536.5 157.8L1537.3 158.3L1538.2 156.6L1539.1 154.3L1539.9 154.7L1540.8 156.3L1541.7 157.6L1542.5 156.9L1543.4 155.9L1544.3 157.9L1545.1 153.7L1546 155.6L1546.8 155L1547.7 155.4L1548.6 157.5L1549.4 157.1L1550.3 155.4L1551.2 156.6L1552 156.6L1552.9 157.2L1553.8 155.2L1554.6 155.5L1555.5 155.2L1556.4 154L1557.2 155.1L1558.1 154.9L1559 155.6L1559.8 152.3L1560.7 154.7L1561.6 152.9L1562.4 151.8L1563.3 151.8L1564.2 151.7L1565 151.6L1565.9 154.3L1566.8 155.1L1567.6 153.9L1568.5 154.3L1569.4 154.9L1570.2 151.1L1571.1 154.9L1572 152.8L1572.8 155.6L1573.7 154.5L1574.5 152.4L1575.4 155.2L1576.3 154.7L1577.1 154.3L1578 154.2L1578.9 154.1L1579.7 154.3L1580.6 153.4L1581.5 152.7L1582.3 153.2L1583.2 150.9L1584.1 152.9L1584.9 154.3L1585.8 155.7L1586.7 153.9L1587.5 155.2L1588.4 154.5L1589.3 151.3L1590.1 152.5L1591 151.4L1591.9 153L1592.7 152.9L1593.6 154.5L1594.5 152.6L1595.3 151.2L1596.2 153.4L1597.1 152.4L1597.9 152.7L1598.8 151L1599.6 150.5L1600.5 148.9L1601.4 151.9L1602.2 149L1603.1 149.3L1604 147.5L1604.8 148.9L1605.7 148L1606.6 150.8L1607.4 149.4L1608.3 148L1609.2 147.9L1610 142.9L1610.9 145.3L1611.8 147L1612.6 145.1L1613.5 147.4L1614.4 145.5L1615.2 147.1L1616.1 148.4L1617 150.1L1617.8 147.3L1618.7 146.5L1619.6 148.6L1620.4 148.2L1621.3 146.8L1622.2 147.3L1623 148.8L1623.9 147.6L1624.8 146.7L1625.6 147.7L1626.5 149.1L1627.3 149.1L1628.2 149.6L1629.1 149.9L1629.9 151.5L1630.8 153.2L1631.7 155.1L1632.5 154.1L1633.4 155.8L1634.3 155.3L1635.1 154.8L1636 156.5L1636.9 154L1637.7 155.4L1638.6 156.8L1639.5 154.9L1640.3 157.6L1641.2 160.1L1642.1 157.6L1642.9 156.9L1643.8 155.6L1644.7 158.1L1645.5 157.9L1646.4 158.8L1647.3 158.6L1648.1 159.3L1649 155.8L1649.9 157.3L1650.7 156.9L1651.6 157.1L1652.5 157.9L1653.3 157L1654.2 156.8L1655 159.1L1655.9 155.2L1656.8 157L1657.6 158.1L1658.5 156.8L1659.4 154.1L1660.2 156.3L1661.1 155.1L1662 157.4L1662.8 155.6L1663.7 156.6L1664.6 157.5L1665.4 156.7L1666.3 157.3L1667.2 159.4L1668 159.3L1668.9 160.9L1669.8 160L1670.6 158.1L1671.5 157.5L1672.4 159.1L1673.2 159L1674.1 158.7L1675 158L1675.8 157.2L1676.7 160.3L1677.6 159.8L1678.4 158.6L1679.3 161.9L1680.2 159.6L1681 158.4L1681.9 157.3L1682.7 158.1L1683.6 159.1L1684.5 161.5L1685.3 161.2L1686.2 158.2L1687.1 160.5L1687.9 162.8L1688.8 159.6L1689.7 160.1L1690.5 158.6L1691.4 159.6L1692.3 160.2L1693.1 159.4L1694 162.4" stroke="#ff8f8f" stroke-width="1.1"/>
<path d="M1044.8 163.3L1045.7 160.2L1046.5 162.5L1047.4 162.6L1048.3 158.9L1049.1 161.7L1050 159L1050.9 160.2L1051.7 161.3L1052.6 160L1053.5 158.7L1054.3 159.8L1055.2 158.6L1056.1 160.2L1056.9 160.8L1057.8 159.9L1058.6 160.2L1059.5 159.7L1060.4 158.8L1061.2 160.9L1062.1 157.8L1063 159.5L1063.8 160.7L1064.7 158.7L1065.6 157.6L1066.4 157L1067.3 154.3L1068.2 154.5L1069 156L1069.9 159.1L1070.8 157.5L1071.6 155.8L1072.5 159.8L1073.4 162L1074.2 161L1075.1 158.8L1076 163.5L1076.8 160L1077.7 163L1078.6 163.9L1079.4 161.7L1080.3 162.3L1081.2 163.8L1082 166.1L1082.9 165.2L1083.8 163.6L1084.6 163.2L1085.5 162.4L1086.3 163.5L1087.2 160.9L1088.1 161.1L1088.9 159L1089.8 160.7L1090.7 162.3L1091.5 158.5L1092.4 160.4L1093.3 160.9L1094.1 160.1L1095 160L1095.9 160.3L1096.7 160.7L1097.6 163.3L1098.5 159.9L1099.3 163.8L1100.2 161.4L1101.1 161.4L1101.9 161.1L1102.8 159.8L1103.7 159.4L1104.5 159.1L1105.4 159.6L1106.3 160.9L1107.1 155.9L1108 160L1108.9 158.7L1109.7 159.4L1110.6 158.7L1111.5 156.7L1112.3 155.8L1113.2 154.6L1114 154.7L1114.9 154.4L1115.8 151.2L1116.6 152.6L1117.5 152L1118.4 148L1119.2 150.8L1120.1 149.2L1121 147.6L1121.8 146.8L1122.7 148.4L1123.6 150.4L1124.4 149.6L1125.3 149.8L1126.2 151.1L1127 153.8L1127.9 151.7L1128.8 152.9L1129.6 152.3L1130.5 154.3L1131.4 152.7L1132.2 150.9L1133.1 148.3L1134 145.2L1134.8 146L1135.7 147.5L1136.6 148.3L1137.4 147.5L1138.3 147.2L1139.2 149.8L1140 151.1L1140.9 147.3L1141.7 149.2L1142.6 148.3L1143.5 150.2L1144.3 149.6L1145.2 149.6L1146.1 151.5L1146.9 151.8L1147.8 153.4L1148.7 155.8L1149.5 152L1150.4 154.1L1151.3 152L1152.1 150.8L1153 155.5L1153.9 152.8L1154.7 154.4L1155.6 153.6L1156.5 155.4L1157.3 154.8L1158.2 155.2L1159.1 152.6L1159.9 152L1160.8 152L1161.7 151.7L1162.5 153.2L1163.4 150.7L1164.3 149.7L1165.1 149.3L1166 148.7L1166.8 146.4L1167.7 144.8L1168.6 144.8L1169.4 148.4L1170.3 148.3L1171.2 150.9L1172 149.9L1172.9 147.7L1173.8 149L1174.6 148.1L1175.5 147.9L1176.4 146.2L1177.2 146L1178.1 146.6L1179 146.8L1179.8 149.3L1180.7 147.8L1181.6 148.9L1182.4 149.8L1183.3 151.4L1184.2 150.4L1185 151.6L1185.9 153L1186.8 153L1187.6 152.6L1188.5 151.8L1189.4 152.8L1190.2 152.3L1191.1 149.5L1192 149.6L1192.8 148.6L1193.7 150.7L1194.5 147.4L1195.4 148.1L1196.3 147.2L1197.1 145.4L1198 146.4L1198.9 147.6L1199.7 147.7L1200.6 144.2L1201.5 144.7L1202.3 147.2L1203.2 146.3L1204.1 146.5L1204.9 143.9L1205.8 145.9L1206.7 144.9L1207.5 144.7L1208.4 143.9L1209.3 142.8L1210.1 143.6L1211 143.3L1211.9 144.1L1212.7 144.8L1213.6 142.2L1214.5 142.1L1215.3 142.8L1216.2 143.1L1217.1 142.6L1217.9 144.6L1218.8 140.4L1219.7 142.6L1220.5 143.1L1221.4 143.9L1222.2 143.6L1223.1 144.2L1224 144.5L1224.8 143.7L1225.7 144.8L1226.6 143.4L1227.4 142.7L1228.3 144.6L1229.2 143.9L1230 146L1230.9 144.3L1231.8 144.7L1232.6 144.5L1233.5 142.2L1234.4 144.9L1235.2 143L1236.1 141.4L1237 142.7L1237.8 142.3L1238.7 139.9L1239.6 141.4L1240.4 138L1241.3 138.6L1242.2 141.9L1243 143L1243.9 142.9L1244.8 142.4L1245.6 146.8L1246.5 145.9L1247.4 145.9L1248.2 149.5L1249.1 149L1249.9 151.6L1250.8 151L1251.7 152.4L1252.5 155.2L1253.4 155.4L1254.3 159.7L1255.1 161.8L1256 164.2L1256.9 163.3L1257.7 157.9L1258.6 137.4L1259.5 90L1260.3 76.6L1261.2 118.1L1262.1 153.2L1262.9 118.3L1263.8 91.7L1264.7 115.7L1265.5 163.3L1266.4 185.4L1267.3 185.4L1268.1 180.1L1269 170.3L1269.9 160.6L1270.7 158.5L1271.6 157.1L1272.5 155.8L1273.3 159.3L1274.2 159.1L1275 160L1275.9 159L1276.8 159.5L1277.6 161.5L1278.5 161.7L1279.4 161.3L1280.2 162.1L1281.1 160.1L1282 161.9L1282.8 161.4L1283.7 160.9L1284.6 159.2L1285.4 160.4L1286.3 161.8L1287.2 160.1L1288 157.9L1288.9 158L1289.8 155.8L1290.6 153L1291.5 150.8L1292.4 149.5L1293.2 142.7L1294.1 138.1L1295 131.9L1295.8 124L1296.7 117.8L1297.6 110.9L1298.4 101.3L1299.3 94.3L1300.2 87.3L1301 81.6L1301.9 76.3L1302.7 71.8L1303.6 67L1304.5 64.3L1305.3 61.7L1306.2 62.6L1307.1 64.2L1307.9 64.7L1308.8 68.5L1309.7 72.7L1310.5 73.3L1311.4 75L1312.3 76.8L1313.1 81.9L1314 83.6L1314.9 83L1315.7 89.6L1316.6 88.7L1317.5 93.3L1318.3 92.3L1319.2 94.6L1320.1 99.1L1320.9 97L1321.8 98.2L1322.7 101.4L1323.5 102.4L1324.4 104.2L1325.3 106.2L1326.1 107.5L1327 107.8L1327.9 109.2L1328.7 110.2L1329.6 109.4L1330.4 110.3L1331.3 111.8L1332.2 110.7L1333 111.3L1333.9 115.1L1334.8 115.1L1335.6 116.6L1336.5 116.2L1337.4 116.6L1338.2 118.6L1339.1 119.1L1340 117.7L1340.8 117.6L1341.7 118.5L1342.6 119.1L1343.4 120.1L1344.3 121.4L1345.2 120.9L1346 120.6L1346.9 121.1L1347.8 122.2L1348.6 124.1L1349.5 125.7L1350.4 125.7L1351.2 126.7L1352.1 126.5L1353 128.7L1353.8 128.2L1354.7 127.2L1355.6 131.3L1356.4 131L1357.3 129.9L1358.1 130.6L1359 131.4L1359.9 132.4L1360.7 131.7L1361.6 133.9L1362.5 135.3L1363.3 137.1L1364.2 138.3L1365.1 136.1L1365.9 136.4L1366.8 138.6L1367.7 141L1368.5 140.4L1369.4 140.5L1370.3 139L1371.1 140.4L1372 141.2L1372.9 140L1373.7 138.6L1374.6 139.9L1375.5 138.9L1376.3 137.4L1377.2 138.5L1378.1 139.2L1378.9 139.2L1379.8 138.2L1380.7 140.2L1381.5 139L1382.4 141.7L1383.2 137.3L1384.1 139.3L1385 140.2L1385.8 138.8L1386.7 139.7L1387.6 138.2L1388.4 139.2L1389.3 139.3L1390.2 139.3L1391 136.8L1391.9 138.5L1392.8 138.6L1393.6 137.3L1394.5 139.6L1395.4 139.8L1396.2 140.4L1397.1 140.3L1398 141.5L1398.8 143.9L1399.7 144.4L1400.6 144.6L1401.4 145.5L1402.3 145.2L1403.2 144.3L1404 145.2L1404.9 147.7L1405.8 147.4L1406.6 144.2L1407.5 147.4L1408.4 144.9L1409.2 145.1L1410.1 144.4L1410.9 145.7L1411.8 146.7L1412.7 148.4L1413.5 148.1L1414.4 147.4L1415.3 148.2L1416.1 149.5L1417 149.6L1417.9 147.2L1418.7 148.1L1419.6 149.6L1420.5 149.5L1421.3 149.9L1422.2 150.1L1423.1 149.5L1423.9 147.8L1424.8 150L1425.7 148.8L1426.5 148.2L1427.4 150.5L1428.3 147.1L1429.1 148.3L1430 150.2L1430.9 146.7L1431.7 145.8L1432.6 148.1L1433.5 146.2L1434.3 149L1435.2 148.3L1436.1 145.6L1436.9 148L1437.8 147.4L1438.6 148.3L1439.5 149.8L1440.4 148.4L1441.2 149.6L1442.1 150L1443 149.9L1443.8 147L1444.7 149.3L1445.6 148L1446.4 146.9L1447.3 147.9L1448.2 149.7L1449 150.2L1449.9 150L1450.8 150.3L1451.6 149.6L1452.5 150.4L1453.4 149.5L1454.2 150.7L1455.1 149.4L1456 150.6L1456.8 149.6L1457.7 150.8L1458.6 148.4L1459.4 149.3L1460.3 147.6L1461.2 147L1462 151.7L1462.9 148.3L1463.8 151.9L1464.6 149.2L1465.5 149.5L1466.3 150.4L1467.2 151.5L1468.1 149.9L1468.9 151.1L1469.8 152.6L1470.7 154.7L1471.5 153.3L1472.4 153.1L1473.3 155L1474.1 154.6L1475 154.2L1475.9 158.1L1476.7 157.4L1477.6 156.2L1478.5 157.6L1479.3 157.8L1480.2 154.7L1481.1 156.1L1481.9 155.9L1482.8 155.1L1483.7 157L1484.5 154.6L1485.4 154L1486.3 154.5L1487.1 153.5L1488 153.6L1488.9 154.6L1489.7 153.8L1490.6 151.7L1491.4 152.2L1492.3 154.3L1493.2 151L1494 150.4L1494.9 150.2L1495.8 151L1496.6 147.6L1497.5 146.2L1498.4 143.7L1499.2 144.6L1500.1 143.2L1501 144.8L1501.8 144.1L1502.7 143.9L1503.6 145.1L1504.4 145.9L1505.3 147.9L1506.2 147.7L1507 148.1L1507.9 149.3L1508.8 148.6L1509.6 147.8L1510.5 149.6L1511.4 153.1L1512.2 151.5L1513.1 154.2L1514 150.2L1514.8 151.7L1515.7 154.8L1516.6 155.4L1517.4 153L1518.3 154.5L1519.1 152.7L1520 156.2L1520.9 157.6L1521.7 158.8L1522.6 157.8L1523.5 159.1L1524.3 161.1L1525.2 162.7L1526.1 161.5L1526.9 160.1L1527.8 161.8L1528.7 159.7L1529.5 158.9L1530.4 159.5L1531.3 161.9L1532.1 159.8L1533 161L1533.9 160L1534.7 157.7L1535.6 158.9L1536.5 159.6L1537.3 157.7L1538.2 156.5L1539.1 156.2L1539.9 155.7L1540.8 154.3L1541.7 155.2L1542.5 155.3L1543.4 154.5L1544.3 153.7L1545.1 155.4L1546 154.2L1546.8 155.4L1547.7 157.5L1548.6 155.3L1549.4 154.1L1550.3 152.9L1551.2 155.8L1552 155.4L1552.9 155.9L1553.8 154.8L1554.6 156.2L1555.5 155.5L1556.4 154.2L1557.2 157.1L1558.1 153.5L1559 155.7L1559.8 154.1L1560.7 157.3L1561.6 155.3L1562.4 153.3L1563.3 155.8L1564.2 157.1L1565 153.9L1565.9 154.2L1566.8 153.7L1567.6 154.3L1568.5 152.4L1569.4 152.3L1570.2 154.1L1571.1 154.8L1572 153.5L1572.8 153.9L1573.7 153.5L1574.5 152.5L1575.4 152.1L1576.3 151.9L1577.1 154.2L1578 153.1L1578.9 154.4L1579.7 154L1580.6 154.9L1581.5 155.1L1582.3 154.7L1583.2 155.4L1584.1 155.2L1584.9 154.7L1585.8 153.5L1586.7 153.8L1587.5 153.4L1588.4 152.5L1589.3 153.5L1590.1 151.7L1591 151.5L1591.9 152.9L1592.7 152.7L1593.6 151.7L1594.5 152.2L1595.3 153.5L1596.2 152.9L1597.1 151.1L1597.9 150.9L1598.8 149.7L1599.6 151.9L1600.5 148L1601.4 150.4L1602.2 148.7L1603.1 148.8L1604 150.5L1604.8 145.6L1605.7 146L1606.6 144L1607.4 147.2L1608.3 145.5L1609.2 147.5L1610 144.9L1610.9 144.8L1611.8 146.7L1612.6 145.3L1613.5 146.9L1614.4 149.2L1615.2 148.3L1616.1 148.4L1617 146.4L1617.8 147.9L1618.7 148.5L1619.6 147.6L1620.4 146.3L1621.3 150.9L1622.2 150L1623 148.4L1623.9 148.6L1624.8 150.4L1625.6 151.7L1626.5 150.2L1627.3 153.3L1628.2 150.5L1629.1 151.6L1629.9 153.6L1630.8 154.3L1631.7 153L1632.5 154.3L1633.4 155.6L1634.3 153.9L1635.1 156L1636 155.4L1636.9 156.1L1637.7 156.3L1638.6 155L1639.5 155.6L1640.3 158.9L1641.2 159.8L1642.1 157.4L1642.9 156.8L1643.8 157.3L1644.7 158.6L1645.5 160.1L1646.4 158.3L1647.3 158.1L1648.1 158.1L1649 159L1649.9 156.5L1650.7 157.8L1651.6 159.2L1652.5 157.9L1653.3 160.3L1654.2 158.3L1655 156.6L1655.9 157.8L1656.8 158.5L1657.6 156.8L1658.5 156.9L1659.4 156.1L1660.2 157.9L1661.1 158.1L1662 158.1L1662.8 157.7L1663.7 158.6L1664.6 157.5L1665.4 158.3L1666.3 156.7L1667.2 156.8L1668 157.6L1668.9 158.2L1669.8 157.7L1670.6 158.3L1671.5 158.5L1672.4 155.6L1673.2 155.8L1674.1 156.5L1675 158.8L1675.8 156.9L1676.7 158.7L1677.6 157.2L1678.4 160.5L1679.3 158.3L1680.2 159.4L1681 160.4L1681.9 159.3L1682.7 159.3L1683.6 161L1684.5 160.7L1685.3 161.3L1686.2 161.3L1687.1 163.2L1687.9 163.5L1688.8 160.3L1689.7 161.8L1690.5 161.2L1691.4 160.5L1692.3 162.6L1693.1 160.7L1694 162.2" stroke="#ff8f8f" stroke-width="1.1"/>
<path d="M1044.8 160.9L1045.7 162.3L1046.5 161.4L1047.4 161.3L1048.3 165.1L1049.1 159.6L1050 161.6L1050.9 158L1051.7 161.7L1052.6 158L1053.5 158.2L1054.3 156.9L1055.2 158.4L1056.1 159.7L1056.9 158.8L1057.8 160.7L1058.6 160.1L1059.5 161.4L1060.4 159.8L1061.2 158.4L1062.1 158.5L1063 158.9L1063.8 156.7L1064.7 158.8L1065.6 158.4L1066.4 153.6L1067.3 155.8L1068.2 154.2L1069 155.6L1069.9 153.5L1070.8 156.3L1071.6 157.4L1072.5 158L1073.4 157.6L1074.2 160.2L1075.1 162.3L1076 161.8L1076.8 164.2L1077.7 161.4L1078.6 162.9L1079.4 164.4L1080.3 164L1081.2 164.7L1082 164.3L1082.9 163.5L1083.8 160.9L1084.6 162.7L1085.5 162L1086.3 159.3L1087.2 161.8L1088.1 159.9L1088.9 158.5L1089.8 160.9L1090.7 161.3L1091.5 160.4L1092.4 161.9L1093.3 164.4L1094.1 162L1095 160.4L1095.9 162.8L1096.7 165.1L1097.6 163.4L1098.5 162.3L1099.3 160.2L1100.2 160.1L1101.1 164.3L1101.9 164.3L1102.8 159.5L1103.7 163L1104.5 163.1L1105.4 159.9L1106.3 160.3L1107.1 160.9L1108 160.4L1108.9 155.2L1109.7 156.1L1110.6 155.2L1111.5 154.8L1112.3 154.1L1113.2 154.9L1114 152.1L1114.9 151L1115.8 151.7L1116.6 151.1L1117.5 153.3L1118.4 153.3L1119.2 149L1120.1 148.3L1121 149.4L1121.8 146.7L1122.7 148.4L1123.6 149L1124.4 153.1L1125.3 149.6L1126.2 152L1127 154.7L1127.9 152.4L1128.8 152.5L1129.6 152.2L1130.5 152.4L1131.4 152.5L1132.2 151.7L1133.1 150.2L1134 148.7L1134.8 150.3L1135.7 147L1136.6 150.4L1137.4 150.5L1138.3 150.2L1139.2 150.8L1140 149.8L1140.9 150.2L1141.7 151.4L1142.6 148.1L1143.5 149.4L1144.3 150.5L1145.2 152.1L1146.1 150.4L1146.9 149.9L1147.8 151.7L1148.7 151.5L1149.5 152.5L1150.4 154.4L1151.3 155L1152.1 151.8L1153 152L1153.9 153.4L1154.7 153.5L1155.6 151.7L1156.5 153.2L1157.3 152.7L1158.2 153.2L1159.1 152.7L1159.9 151L1160.8 151.5L1161.7 152.6L1162.5 150.6L1163.4 150.9L1164.3 148L1165.1 150.6L1166 146.7L1166.8 147.5L1167.7 147.6L1168.6 148.4L1169.4 147.8L1170.3 149.6L1171.2 149.3L1172 150.8L1172.9 147.4L1173.8 147L1174.6 147.6L1175.5 146.7L1176.4 147.3L1177.2 147.2L1178.1 146.7L1179 145.6L1179.8 144.7L1180.7 146.1L1181.6 149.5L1182.4 148.7L1183.3 146.4L1184.2 147.7L1185 148.3L1185.9 148.3L1186.8 149.9L1187.6 148.8L1188.5 150.9L1189.4 148.9L1190.2 148.1L1191.1 152.1L1192 149.5L1192.8 147.6L1193.7 147.3L1194.5 147.7L1195.4 149.6L1196.3 147.4L1197.1 148.1L1198 145.2L1198.9 146.6L1199.7 147.1L1200.6 145.2L1201.5 144.9L1202.3 145.9L1203.2 142.5L1204.1 144.3L1204.9 143L1205.8 142.3L1206.7 142.9L1207.5 142.6L1208.4 143.4L1209.3 143L1210.1 140.8L1211 142.2L1211.9 143.2L1212.7 143.2L1213.6 142.8L1214.5 141.9L1215.3 141.8L1216.2 142.8L1217.1 143.2L1217.9 142.9L1218.8 144L1219.7 143.4L1220.5 143.6L1221.4 142.9L1222.2 143.8L1223.1 144.6L1224 144.2L1224.8 145L1225.7 143.3L1226.6 144L1227.4 143.6L1228.3 142.5L1229.2 144.9L1230 145.1L1230.9 142.4L1231.8 143.5L1232.6 143.9L1233.5 142.3L1234.4 142.1L1235.2 140.8L1236.1 141.7L1237 140.3L1237.8 140.2L1238.7 140.4L1239.6 139.2L1240.4 136.7L1241.3 136.8L1242.2 139.1L1243 138.1L1243.9 140.8L1244.8 142.9L1245.6 140.8L1246.5 143.7L1247.4 143.4L1248.2 145.1L1249.1 145L1249.9 147L1250.8 152.3L1251.7 152.5L1252.5 153L1253.4 153.6L1254.3 156.6L1255.1 158.7L1256 161.3L1256.9 162.8L1257.7 159.2L1258.6 138.9L1259.5 90.5L1260.3 76.8L1261.2 116.1L1262.1 153.1L1262.9 117L1263.8 90L1264.7 113.1L1265.5 166.6L1266.4 185.4L1267.3 185.4L1268.1 184.1L1269 166.7L1269.9 160.6L1270.7 158.5L1271.6 157.6L1272.5 159.2L1273.3 161.7L1274.2 161.7L1275 160.4L1275.9 159.7L1276.8 161.2L1277.6 161.4L1278.5 162.9L1279.4 162.3L1280.2 160.1L1281.1 160.6L1282 159.4L1282.8 159.9L1283.7 160.7L1284.6 161.3L1285.4 159.4L1286.3 158.8L1287.2 157.2L1288 158.6L1288.9 155.1L1289.8 155.8L1290.6 153.6L1291.5 150.9L1292.4 149.1L1293.2 143.2L1294.1 138.8L1295 133.5L1295.8 128L1296.7 121.6L1297.6 113.5L1298.4 108L1299.3 102.1L1300.2 93.9L1301 89.5L1301.9 83.1L1302.7 78.2L1303.6 74.2L1304.5 70.8L1305.3 66.9L1306.2 67.5L1307.1 69.1L1307.9 70.2L1308.8 71.6L1309.7 74.2L1310.5 77.4L1311.4 78.1L1312.3 81.5L1313.1 84.5L1314 84L1314.9 88.2L1315.7 92.2L1316.6 92.1L1317.5 94.6L1318.3 95.9L1319.2 98.7L1320.1 101.7L1320.9 101.8L1321.8 104.7L1322.7 106.1L1323.5 106.7L1324.4 107.6L1325.3 111.4L1326.1 112L1327 109.7L1327.9 113.1L1328.7 114.5L1329.6 114L1330.4 116.2L1331.3 117.9L1332.2 119.3L1333 118.1L1333.9 119.2L1334.8 118.8L1335.6 119.4L1336.5 120.3L1337.4 123.4L1338.2 121.7L1339.1 121.3L1340 120.8L1340.8 120.2L1341.7 121.3L1342.6 122.3L1343.4 123.9L1344.3 123.9L1345.2 123.7L1346 125.7L1346.9 126.2L1347.8 128.5L1348.6 127L1349.5 128.1L1350.4 127.7L1351.2 131.2L1352.1 130.8L1353 129.6L1353.8 132.6L1354.7 133.1L1355.6 131.6L1356.4 131.9L1357.3 131.9L1358.1 133.3L1359 134L1359.9 134.8L1360.7 136.6L1361.6 134.9L1362.5 138.8L1363.3 138.7L1364.2 138.8L1365.1 139.1L1365.9 139.3L1366.8 142.6L1367.7 141.9L1368.5 141.2L1369.4 139.3L1370.3 141.3L1371.1 141.8L1372 140.2L1372.9 140.4L1373.7 142.4L1374.6 141.2L1375.5 140L1376.3 137.1L1377.2 137.5L1378.1 139.3L1378.9 138.5L1379.8 136.8L1380.7 139.3L1381.5 138L1382.4 137.9L1383.2 141.1L1384.1 138.5L1385 138.2L1385.8 136.2L1386.7 138.1L1387.6 138.2L1388.4 138.6L1389.3 137.3L1390.2 137.1L1391 136.7L1391.9 140L1392.8 137.4L1393.6 139.1L1394.5 139.8L1395.4 138.7L1396.2 141.1L1397.1 141.6L1398 140L1398.8 140.9L1399.7 142.2L1400.6 141.1L1401.4 144.2L1402.3 143.5L1403.2 142.3L1404 144.7L1404.9 144.4L1405.8 147.4L1406.6 145.5L1407.5 148.3L1408.4 146.3L1409.2 148.4L1410.1 146.5L1410.9 149.4L1411.8 150.9L1412.7 150L1413.5 151.3L1414.4 150.8L1415.3 150.6L1416.1 153.3L1417 151L1417.9 151L1418.7 149.9L1419.6 151.1L1420.5 151.4L1421.3 151.9L1422.2 149.9L1423.1 153.2L1423.9 149.4L1424.8 151.4L1425.7 148.2L1426.5 152.4L1427.4 149L1428.3 150.5L1429.1 149L1430 148.8L1430.9 149.1L1431.7 149.8L1432.6 150L1433.5 148.3L1434.3 146.5L1435.2 147.8L1436.1 149.1L1436.9 147.3L1437.8 145.8L1438.6 149L1439.5 146.8L1440.4 148.4L1441.2 146.9L1442.1 149.5L1443 149.4L1443.8 148.9L1444.7 149.2L1445.6 150.2L1446.4 149.9L1447.3 148L1448.2 148.6L1449 147.4L1449.9 150L1450.8 150.7L1451.6 149.1L1452.5 150.1L1453.4 151.6L1454.2 147.3L1455.1 149.1L1456 145.4L1456.8 147.3L1457.7 148.7L1458.6 151.3L1459.4 150.7L1460.3 148.6L1461.2 151.1L1462 151.1L1462.9 152.3L1463.8 151L1464.6 152L1465.5 152L1466.3 151.7L1467.2 152.7L1468.1 154.2L1468.9 155.4L1469.8 153.1L1470.7 155.2L1471.5 154.7L1472.4 154.8L1473.3 154.1L1474.1 157.6L1475 154L1475.9 157.3L1476.7 157.4L1477.6 156.2L1478.5 157.1L1479.3 156.1L1480.2 154.6L1481.1 154.4L1481.9 154.4L1482.8 154.6L1483.7 151.8L1484.5 153.2L1485.4 152.2L1486.3 152.9L1487.1 151.3L1488 153L1488.9 152.2L1489.7 153.6L1490.6 154.7L1491.4 151.6L1492.3 152.1L1493.2 151L1494 151.4L1494.9 148.8L1495.8 148.9L1496.6 148.6L1497.5 149.2L1498.4 148.5L1499.2 148.2L1500.1 147.2L1501 146.9L1501.8 144.1L1502.7 146.9L1503.6 146.9L1504.4 147L1505.3 147.9L1506.2 150.3L1507 148.8L1507.9 148.3L1508.8 149.3L1509.6 150.5L1510.5 148.8L1511.4 153L1512.2 149.3L1513.1 149L1514 149.6L1514.8 150.4L1515.7 152.3L1516.6 153.2L1517.4 152.1L1518.3 155.3L1519.1 153.1L1520 155L1520.9 153.9L1521.7 155.8L1522.6 157L1523.5 156.7L1524.3 157.2L1525.2 157.3L1526.1 159.1L1526.9 158L1527.8 158.9L1528.7 161.1L1529.5 157.4L1530.4 158.8L1531.3 159.7L1532.1 158.9L1533 157.5L1533.9 156.4L1534.7 155.6L1535.6 158.4L1536.5 157.5L1537.3 156.7L1538.2 157.8L1539.1 158.3L1539.9 158.6L1540.8 155.1L1541.7 156.3L1542.5 156.5L1543.4 155.5L1544.3 157.2L1545.1 155.4L1546 155.9L1546.8 157.4L1547.7 156.7L1548.6 155.5L1549.4 157.1L1550.3 156.9L1551.2 155.7L1552 158.6L1552.9 155.4L1553.8 157.3L1554.6 159.8L1555.5 154.6L1556.4 158.5L1557.2 159.6L1558.1 155.3L1559 157.1L1559.8 159.1L1560.7 155.6L1561.6 157.1L1562.4 157.7L1563.3 156.5L1564.2 154.9L1565 157.9L1565.9 155.1L1566.8 153.7L1567.6 154.4L1568.5 153.9L1569.4 154.1L1570.2 153.7L1571.1 153.6L1572 151.2L1572.8 154.2L1573.7 154.2L1574.5 152.2L1575.4 151.5L1576.3 153.6L1577.1 154.8L1578 151.9L1578.9 154L1579.7 155.1L1580.6 153.5L1581.5 151.9L1582.3 155.9L1583.2 151.2L1584.1 153.8L1584.9 153.8L1585.8 153.9L1586.7 153.2L1587.5 152.7L1588.4 151.9L1589.3 150.9L1590.1 152.5L1591 152.6L1591.9 152.9L1592.7 152.4L1593.6 152.8L1594.5 152.5L1595.3 150.7L1596.2 151.1L1597.1 151.9L1597.9 149.9L1598.8 153.3L1599.6 150.1L1600.5 151L1601.4 150.1L1602.2 149.1L1603.1 152.3L1604 150.4L1604.8 149.7L1605.7 152.4L1606.6 151.7L1607.4 149.1L1608.3 147.9L1609.2 150.3L1610 146.2L1610.9 149.2L1611.8 148.9L1612.6 148L1613.5 151.5L1614.4 149.2L1615.2 148.1L1616.1 150.7L1617 150L1617.8 150.8L1618.7 149.2L1619.6 149.6L1620.4 151.7L1621.3 150L1622.2 151.3L1623 152.2L1623.9 152.6L1624.8 152.6L1625.6 150.6L1626.5 155.5L1627.3 154.1L1628.2 155.1L1629.1 155.7L1629.9 155.4L1630.8 155.2L1631.7 156.5L1632.5 157.7L1633.4 153.5L1634.3 155.7L1635.1 154L1636 154.3L1636.9 157.3L1637.7 156.1L1638.6 155.1L1639.5 159L1640.3 156.4L1641.2 157.9L1642.1 158.1L1642.9 159.4L1643.8 157.1L1644.7 157.5L1645.5 157.5L1646.4 159.3L1647.3 159.7L1648.1 159.9L1649 158.7L1649.9 156.6L1650.7 154.9L1651.6 159.1L1652.5 157L1653.3 157.6L1654.2 156.4L1655 158L1655.9 157.1L1656.8 156.6L1657.6 160L1658.5 155.4L1659.4 155.7L1660.2 156L1661.1 156.8L1662 158.4L1662.8 157L1663.7 158.9L1664.6 158.5L1665.4 158.5L1666.3 157.9L1667.2 156.7L1668 158.1L1668.9 159.6L1669.8 158L1670.6 158.6L1671.5 158.4L1672.4 158.4L1673.2 155.8L1674.1 159.4L1675 156.7L1675.8 160L1676.7 157.6L1677.6 160.3L1678.4 161.7L1679.3 160.3L1680.2 161L1681 160.9L1681.9 159.3L1682.7 161.3L1683.6 162.4L1684.5 159.7L1685.3 158.7L1686.2 161.2L1687.1 161.6L1687.9 159.3L1688.8 163.6L1689.7 160.6L1690.5 159L1691.4 157.6L1692.3 161L1693.1 157.8L1694 160.6" stroke="#ff8f8f" stroke-width="1.1"/>
<path d="M1044.8 161.5L1045.7 160L1046.5 159.6L1047.4 161.5L1048.3 161.8L1049.1 160.7L1050 161.2L1050.9 159.2L1051.7 161.6L1052.6 161.7L1053.5 160.6L1054.3 160.9L1055.2 161.6L1056.1 161.4L1056.9 159.9L1057.8 159.1L1058.6 161.4L1059.5 161.4L1060.4 161.9L1061.2 158.7L1062.1 162.2L1063 159.3L1063.8 160.6L1064.7 159.2L1065.6 159.3L1066.4 156.7L1067.3 157.1L1068.2 155.3L1069 157.8L1069.9 157.5L1070.8 160.2L1071.6 157.7L1072.5 159.7L1073.4 160.2L1074.2 158.8L1075.1 163L1076 163.9L1076.8 161.6L1077.7 161.9L1078.6 159.5L1079.4 164.1L1080.3 164.9L1081.2 164L1082 163L1082.9 165.6L1083.8 165.4L1084.6 162.9L1085.5 162.7L1086.3 162.7L1087.2 160.6L1088.1 162.4L1088.9 161.2L1089.8 162.1L1090.7 162.8L1091.5 161.8L1092.4 160.4L1093.3 162.9L1094.1 162.8L1095 159.7L1095.9 160.1L1096.7 162L1097.6 161.8L1098.5 161.5L1099.3 162.2L1100.2 162.9L1101.1 163.4L1101.9 158.4L1102.8 161.1L1103.7 159.4L1104.5 159.9L1105.4 158.8L1106.3 158.2L1107.1 158.3L1108 155.3L1108.9 158.7L1109.7 157.1L1110.6 157.2L1111.5 154.5L1112.3 153.8L1113.2 154.2L1114 154.9L1114.9 153.9L1115.8 153.4L1116.6 154.8L1117.5 154.2L1118.4 151.7L1119.2 149.5L1120.1 149.7L1121 149.5L1121.8 146.5L1122.7 147.4L1123.6 146.8L1124.4 148.6L1125.3 149.9L1126.2 148.9L1127 148.6L1127.9 152.4L1128.8 151.4L1129.6 149.3L1130.5 150.3L1131.4 150.5L1132.2 148.2L1133.1 148.9L1134 149.6L1134.8 146.9L1135.7 148.4L1136.6 149.4L1137.4 149.6L1138.3 151.4L1139.2 151.5L1140 151.5L1140.9 151.2L1141.7 150.3L1142.6 150.1L1143.5 151.9L1144.3 152.8L1145.2 152L1146.1 152.9L1146.9 154.3L1147.8 152.5L1148.7 153.9L1149.5 152.4L1150.4 153.5L1151.3 150.9L1152.1 150.6L1153 151.8L1153.9 153.9L1154.7 152.8L1155.6 153.3L1156.5 153.7L1157.3 152L1158.2 153.3L1159.1 152.2L1159.9 155.3L1160.8 153.1L1161.7 151.8L1162.5 150.3L1163.4 150.5L1164.3 150.1L1165.1 147L1166 145.7L1166.8 146.8L1167.7 146.6L1168.6 145.3L1169.4 145.5L1170.3 146.6L1171.2 144.7L1172 146.6L1172.9 147.5L1173.8 147L1174.6 145.9L1175.5 146.5L1176.4 144.7L1177.2 144.2L1178.1 149.1L1179 146.2L1179.8 148.6L1180.7 147.3L1181.6 147.9L1182.4 147.6L1183.3 147.7L1184.2 147.6L1185 148.7L1185.9 149L1186.8 149.8L1187.6 150.6L1188.5 149.7L1189.4 149.3L1190.2 147.6L1191.1 150.4L1192 147.6L1192.8 146.6L1193.7 145.7L1194.5 147.4L1195.4 146.8L1196.3 145.8L1197.1 147L1198 145.6L1198.9 145.8L1199.7 146.8L1200.6 145.9L1201.5 146.9L1202.3 145.7L1203.2 147.6L1204.1 147.1L1204.9 145.7L1205.8 144.9L1206.7 147.8L1207.5 146.7L1208.4 146.3L1209.3 146.7L1210.1 146.5L1211 148.1L1211.9 146.6L1212.7 143.5L1213.6 144.3L1214.5 144L1215.3 144.7L1216.2 145.5L1217.1 144.8L1217.9 143.2L1218.8 141.6L1219.7 141.1L1220.5 144.6L1221.4 141.4L1222.2 140.3L1223.1 142.5L1224 143.4L1224.8 141.9L1225.7 143.7L1226.6 144.2L1227.4 145.4L1228.3 144.1L1229.2 143.8L1230 143.2L1230.9 145.8L1231.8 144L1232.6 144.6L1233.5 143.4L1234.4 145.6L1235.2 142.6L1236.1 145.2L1237 143.5L1237.8 143.4L1238.7 140.2L1239.6 139L1240.4 139.5L1241.3 141.5L1242.2 142.6L1243 143.2L1243.9 143.3L1244.8 144.5L1245.6 142.7L1246.5 144L1247.4 144.5L1248.2 145.5L1249.1 144.8L1249.9 146L1250.8 150.4L1251.7 149.5L1252.5 153.3L1253.4 154.8L1254.3 156.5L1255.1 159.6L1256 163L1256.9 162.5L1257.7 155.7L1258.6 134.8L1259.5 90.2L1260.3 74.8L1261.2 117.9L1262.1 152.1L1262.9 118.6L1263.8 89.4L1264.7 114.2L1265.5 163.3L1266.4 185.4L1267.3 185.4L1268.1 180.8L1269 167.2L1269.9 162.1L1270.7 157.6L1271.6 154.8L1272.5 156.6L1273.3 157.4L1274.2 159.8L1275 159.8L1275.9 160L1276.8 158.8L1277.6 159.2L1278.5 161.8L1279.4 161L1280.2 158.5L1281.1 159.5L1282 160.2L1282.8 159.2L1283.7 158.9L1284.6 160.3L1285.4 161.8L1286.3 160.7L1287.2 160.8L1288 157.6L1288.9 158.4L1289.8 156.4L1290.6 155.2L1291.5 153.3L1292.4 146.9L1293.2 148.8L1294.1 143.4L1295 141.7L1295.8 135.4L1296.7 130.7L1297.6 124.5L1298.4 120.6L1299.3 113.7L1300.2 112.3L1301 106.1L1301.9 101.8L1302.7 98.2L1303.6 97.6L1304.5 93.6L1305.3 90.4L1306.2 92.5L1307.1 92.9L1307.9 94L1308.8 96.9L1309.7 95.6L1310.5 102.5L1311.4 101.5L1312.3 102.2L1313.1 105.9L1314 107.2L1314.9 110.9L1315.7 107.7L1316.6 113.3L1317.5 113.3L1318.3 113.4L1319.2 115.2L1320.1 117.4L1320.9 118.8L1321.8 119.9L1322.7 119.1L1323.5 119.9L1324.4 120L1325.3 122L1326.1 122L1327 123.5L1327.9 124.1L1328.7 123.7L1329.6 125.2L1330.4 124.2L1331.3 125.7L1332.2 127.9L1333 126.9L1333.9 130.9L1334.8 129.7L1335.6 129.9L1336.5 133.1L1337.4 130.9L1338.2 134.6L1339.1 134L1340 132L1340.8 131.7L1341.7 131.6L1342.6 131.6L1343.4 132.5L1344.3 132.7L1345.2 134.9L1346 133.5L1346.9 135.4L1347.8 136.1L1348.6 136.3L1349.5 135.5L1350.4 136.9L1351.2 138.1L1352.1 138.6L1353 138.5L1353.8 141.3L1354.7 139.2L1355.6 139.5L1356.4 141.6L1357.3 141.8L1358.1 142.6L1359 140.4L1359.9 142.3L1360.7 141.8L1361.6 144.2L1362.5 145.7L1363.3 145.2L1364.2 147.9L1365.1 147.4L1365.9 149.1L1366.8 148.1L1367.7 146.3L1368.5 150.2L1369.4 147.6L1370.3 148.9L1371.1 148.3L1372 148.3L1372.9 147.6L1373.7 147.3L1374.6 147.2L1375.5 144.5L1376.3 143L1377.2 143.3L1378.1 142.8L1378.9 142.6L1379.8 144.4L1380.7 140L1381.5 139.3L1382.4 140.8L1383.2 139.3L1384.1 140.5L1385 141L1385.8 140.4L1386.7 140.7L1387.6 141.1L1388.4 140.3L1389.3 141.1L1390.2 140L1391 140.7L1391.9 141.7L1392.8 142.4L1393.6 145.2L1394.5 146.5L1395.4 145.1L1396.2 144.5L1397.1 143.6L1398 144.6L1398.8 143.7L1399.7 146.9L1400.6 146.9L1401.4 146.6L1402.3 147.5L1403.2 148.4L1404 145.7L1404.9 146.9L1405.8 146.5L1406.6 145.7L1407.5 145.5L1408.4 146L1409.2 145.3L1410.1 147.7L1410.9 147.4L1411.8 146.8L1412.7 147.2L1413.5 150.7L1414.4 145.7L1415.3 146.4L1416.1 150.1L1417 149.1L1417.9 150.3L1418.7 148.4L1419.6 151.5L1420.5 149.8L1421.3 147.4L1422.2 152.1L1423.1 151L1423.9 151.7L1424.8 150.7L1425.7 149.9L1426.5 152.3L1427.4 152L1428.3 150.8L1429.1 149.9L1430 151.1L1430.9 150.8L1431.7 148.5L1432.6 147.6L1433.5 147L1434.3 149.6L1435.2 148.3L1436.1 150.7L1436.9 150.5L1437.8 148.3L1438.6 149.9L1439.5 151.6L1440.4 149.7L1441.2 149.3L1442.1 149L1443 149.6L1443.8 147.5L1444.7 153L1445.6 150.8L1446.4 148.2L1447.3 147.8L1448.2 147.8L1449 151.2L1449.9 151.2L1450.8 148.7L1451.6 153.1L1452.5 147.9L1453.4 149.1L1454.2 148.2L1455.1 149.9L1456 148.6L1456.8 148.3L1457.7 149.7L1458.6 146.8L1459.4 151.9L1460.3 150.9L1461.2 149.3L1462 152.4L1462.9 151.2L1463.8 153.1L1464.6 152.6L1465.5 152.4L1466.3 150.9L1467.2 155.6L1468.1 151.3L1468.9 150.8L1469.8 152.5L1470.7 149.9L1471.5 153.5L1472.4 153.8L1473.3 152.7L1474.1 155L1475 155.2L1475.9 154.5L1476.7 154.6L1477.6 153.2L1478.5 152.5L1479.3 153.6L1480.2 155.3L1481.1 153.6L1481.9 153.5L1482.8 151.5L1483.7 149.6L1484.5 150.2L1485.4 151.4L1486.3 153.3L1487.1 147.7L1488 150.9L1488.9 149.6L1489.7 152.7L1490.6 150.2L1491.4 149.5L1492.3 147L1493.2 149.8L1494 148L1494.9 146.3L1495.8 146.4L1496.6 148L1497.5 148.8L1498.4 144.2L1499.2 145.1L1500.1 144.4L1501 145.7L1501.8 145.1L1502.7 146.1L1503.6 146.2L1504.4 148L1505.3 147.8L1506.2 149.2L1507 150L1507.9 150L1508.8 149.7L1509.6 151L1510.5 150.4L1511.4 150.4L1512.2 150.5L1513.1 153.9L1514 152.1L1514.8 150.7L1515.7 154L1516.6 152.7L1517.4 153.3L1518.3 153.2L1519.1 154.4L1520 156L1520.9 157.3L1521.7 155.2L1522.6 158.1L1523.5 159.5L1524.3 156.2L1525.2 159.9L1526.1 159.8L1526.9 160.5L1527.8 159.7L1528.7 160.1L1529.5 160.5L1530.4 159.7L1531.3 160.8L1532.1 161.8L1533 163.4L1533.9 160.8L1534.7 162L1535.6 160.5L1536.5 158L1537.3 160.2L1538.2 156L1539.1 157.1L1539.9 156.9L1540.8 155.9L1541.7 157.4L1542.5 157.3L1543.4 159.8L1544.3 157.9L1545.1 153.9L1546 155.6L1546.8 154.6L1547.7 155.4L1548.6 152.1L1549.4 157.6L1550.3 154.4L1551.2 154.3L1552 155.5L1552.9 154.3L1553.8 155.3L1554.6 156.4L1555.5 153.5L1556.4 153.9L1557.2 156L1558.1 155.7L1559 155.2L1559.8 153L1560.7 156.2L1561.6 157L1562.4 153.1L1563.3 153.9L1564.2 155.3L1565 155.8L1565.9 154.2L1566.8 154.6L1567.6 153.2L1568.5 154.2L1569.4 153.7L1570.2 151.4L1571.1 154L1572 150.4L1572.8 152.6L1573.7 152.7L1574.5 153.3L1575.4 150.9L1576.3 154.5L1577.1 153.5L1578 152L1578.9 153L1579.7 152.4L1580.6 154.2L1581.5 152.4L1582.3 152.6L1583.2 155.7L1584.1 152.9L1584.9 151.4L1585.8 155.1L1586.7 152.4L1587.5 153.2L1588.4 153.7L1589.3 153.1L1590.1 150.4L1591 150.3L1591.9 154.5L1592.7 152.5L1593.6 152.3L1594.5 152.4L1595.3 150.9L1596.2 149.8L1597.1 149.5L1597.9 150.2L1598.8 151.1L1599.6 150.9L1600.5 151.8L1601.4 148.3L1602.2 152.4L1603.1 148L1604 146.9L1604.8 149.2L1605.7 150.5L1606.6 148.6L1607.4 145.8L1608.3 146.3L1609.2 147.4L1610 146.7L1610.9 147.3L1611.8 147.6L1612.6 145.5L1613.5 145.2L1614.4 146.5L1615.2 146.1L1616.1 147.6L1617 146.6L1617.8 147.2L1618.7 146.5L1619.6 146.6L1620.4 148.4L1621.3 148.3L1622.2 148.9L1623 147L1623.9 149.2L1624.8 149.6L1625.6 149.8L1626.5 152.8L1627.3 150.9L1628.2 154.8L1629.1 156L1629.9 155.1L1630.8 153.7L1631.7 155.5L1632.5 155.1L1633.4 156.5L1634.3 156.3L1635.1 155.3L1636 156.7L1636.9 155.5L1637.7 158.8L1638.6 157.3L1639.5 159L1640.3 157L1641.2 158.7L1642.1 159.8L1642.9 158.8L1643.8 160L1644.7 158.4L1645.5 156.8L1646.4 157.6L1647.3 158.7L1648.1 158.9L1649 158.4L1649.9 158.5L1650.7 160.1L1651.6 160L1652.5 158.7L1653.3 158.6L1654.2 159L1655 157.6L1655.9 158.6L1656.8 160.4L1657.6 158.7L1658.5 160.3L1659.4 159.4L1660.2 158.5L1661.1 159.2L1662 160.2L1662.8 157.6L1663.7 159.1L1664.6 158.5L1665.4 158.8L1666.3 158.7L1667.2 158.7L1668 157.4L1668.9 158.2L1669.8 157.5L1670.6 157.2L1671.5 157.6L1672.4 158.7L1673.2 159.8L1674.1 157.7L1675 158L1675.8 159.5L1676.7 161.9L1677.6 159.8L1678.4 162.8L1679.3 162.5L1680.2 162.6L1681 162.2L1681.9 162L1682.7 161.3L1683.6 162.2L1684.5 159.6L1685.3 161.6L1686.2 160.8L1687.1 158.9L1687.9 161L1688.8 159.3L1689.7 162.2L1690.5 158.5L1691.4 160.7L1692.3 160.1L1693.1 159.5L1694 158.4" stroke="#ff8f8f" stroke-width="1.1"/>
<path d="M1044.8 162.1L1045.7 162L1046.5 163.3L1047.4 165.1L1048.3 162.1L1049.1 161.2L1050 161.4L1050.9 162.8L1051.7 162.7L1052.6 161.5L1053.5 159.8L1054.3 162.5L1055.2 160.3L1056.1 161L1056.9 162.9L1057.8 162.7L1058.6 161.4L1059.5 158.8L1060.4 161.2L1061.2 161.1L1062.1 158.6L1063 160.3L1063.8 158.9L1064.7 157.2L1065.6 157.1L1066.4 157.4L1067.3 154.5L1068.2 157.6L1069 153.7L1069.9 157.3L1070.8 156.3L1071.6 158.1L1072.5 157.5L1073.4 159.7L1074.2 158.8L1075.1 159.9L1076 158.6L1076.8 161.3L1077.7 160.5L1078.6 161.8L1079.4 161.6L1080.3 162.8L1081.2 163.1L1082 163.6L1082.9 161.5L1083.8 162.8L1084.6 163.6L1085.5 164.1L1086.3 161.9L1087.2 162.9L1088.1 161.4L1088.9 161.4L1089.8 163.3L1090.7 161.9L1091.5 162.1L1092.4 160.8L1093.3 161.6L1094.1 160.4L1095 158.5L1095.9 160L1096.7 159.8L1097.6 160.1L1098.5 158.4L1099.3 162.3L1100.2 160.8L1101.1 162.3L1101.9 163L1102.8 159.7L1103.7 160.4L1104.5 160.5L1105.4 160.9L1106.3 160.8L1107.1 158.5L1108 159.9L1108.9 160.4L1109.7 159.2L1110.6 158.4L1111.5 156.3L1112.3 156.3L1113.2 155L1114 153.9L1114.9 151.2L1115.8 153.7L1116.6 153.1L1117.5 152L1118.4 150.5L1119.2 149.7L1120.1 149.4L1121 147L1121.8 146.1L1122.7 145.5L1123.6 146.1L1124.4 145.6L1125.3 147.8L1126.2 150L1127 150.4L1127.9 149.3L1128.8 151.8L1129.6 150.6L1130.5 147.8L1131.4 148.9L1132.2 150.1L1133.1 147.3L1134 150.4L1134.8 148.2L1135.7 149.3L1136.6 148.2L1137.4 148.7L1138.3 150.9L1139.2 150.2L1140 152.1L1140.9 151.5L1141.7 152.4L1142.6 150.9L1143.5 152.3L1144.3 152.3L1145.2 152.4L1146.1 151.8L1146.9 154.5L1147.8 152.6L1148.7 153.3L1149.5 155.3L1150.4 154.6L1151.3 155.6L1152.1 154.7L1153 154.7L1153.9 156.4L1154.7 153.7L1155.6 155L1156.5 153.2L1157.3 150.1L1158.2 153.2L1159.1 151.4L1159.9 155.2L1160.8 153.5L1161.7 151.5L1162.5 150.8L1163.4 151L1164.3 152L1165.1 148.2L1166 148.6L1166.8 150.6L1167.7 147.9L1168.6 149.1L1169.4 149.9L1170.3 149.1L1171.2 152.5L1172 148.8L1172.9 149.4L1173.8 149L1174.6 148.3L1175.5 149.7L1176.4 147.4L1177.2 149.2L1178.1 146L1179 146.5L1179.8 147.5L1180.7 148.5L1181.6 148.7L1182.4 150.4L1183.3 150L1184.2 151.8L1185 152.7L1185.9 153L1186.8 152.4L1187.6 152.3L1188.5 153.8L1189.4 151L1190.2 149.2L1191.1 149.3L1192 148.5L1192.8 149.9L1193.7 148.1L1194.5 149.2L1195.4 148.3L1196.3 147.8L1197.1 147.9L1198 146.8L1198.9 146.2L1199.7 146.6L1200.6 144.7L1201.5 145.1L1202.3 145.5L1203.2 144.4L1204.1 142.4L1204.9 143.2L1205.8 145.8L1206.7 142.7L1207.5 143.2L1208.4 142.5L1209.3 143.2L1210.1 142.2L1211 145.6L1211.9 142.8L1212.7 141.4L1213.6 141.9L1214.5 142.6L1215.3 142.2L1216.2 142.3L1217.1 145.4L1217.9 145.6L1218.8 144.3L1219.7 143.6L1220.5 142.9L1221.4 143.7L1222.2 144.1L1223.1 142.3L1224 144.3L1224.8 146.8L1225.7 147.1L1226.6 146.7L1227.4 144.5L1228.3 144.3L1229.2 142.6L1230 146.4L1230.9 145.3L1231.8 146.7L1232.6 142.8L1233.5 143.2L1234.4 143.5L1235.2 140L1236.1 141.3L1237 140.7L1237.8 139.8L1238.7 140.2L1239.6 138.7L1240.4 138.6L1241.3 139.5L1242.2 139.2L1243 142.8L1243.9 139.2L1244.8 140.3L1245.6 142.2L1246.5 142.6L1247.4 145.8L1248.2 143.8L1249.1 147.6L1249.9 146L1250.8 151.2L1251.7 151.8L1252.5 150.8L1253.4 153.7L1254.3 156.1L1255.1 158.6L1256 159.9L1256.9 160.1L1257.7 158.9L1258.6 136.4L1259.5 91.7L1260.3 77.7L1261.2 116L1262.1 154.8L1262.9 120L1263.8 89.4L1264.7 116.2L1265.5 165.2L1266.4 185.4L1267.3 185.4L1268.1 181L1269 174L1269.9 161L1270.7 160.2L1271.6 156.8L1272.5 158.4L1273.3 160.4L1274.2 158.8L1275 160.6L1275.9 161.8L1276.8 162.9L1277.6 162.1L1278.5 160.7L1279.4 163L1280.2 160.8L1281.1 158.4L1282 161.2L1282.8 160.8L1283.7 159.8L1284.6 158.6L1285.4 159.1L1286.3 157.5L1287.2 154.3L1288 157.4L1288.9 153.4L1289.8 156.8L1290.6 151.8L1291.5 151L1292.4 147.3L1293.2 148.4L1294.1 144.1L1295 140.2L1295.8 138.9L1296.7 132.9L1297.6 129.5L1298.4 124.1L1299.3 122.4L1300.2 116.7L1301 110.6L1301.9 109.4L1302.7 104.6L1303.6 103.5L1304.5 101.7L1305.3 99L1306.2 97.8L1307.1 100.6L1307.9 102L1308.8 102L1309.7 104.2L1310.5 108L1311.4 107.6L1312.3 109.1L1313.1 110.3L1314 109.7L1314.9 112.7L1315.7 113.6L1316.6 114.9L1317.5 116.6L1318.3 115.5L1319.2 119.1L1320.1 119L1320.9 120.4L1321.8 121.3L1322.7 122.4L1323.5 121L1324.4 123.1L1325.3 123.6L1326.1 124.5L1327 125.3L1327.9 129.1L1328.7 129.2L1329.6 128.2L1330.4 130.7L1331.3 130.4L1332.2 131.6L1333 133.6L1333.9 134L1334.8 134L1335.6 135.1L1336.5 138L1337.4 135.9L1338.2 135.3L1339.1 134.9L1340 135.7L1340.8 136.4L1341.7 136.2L1342.6 134.7L1343.4 137L1344.3 137.2L1345.2 136.3L1346 138.4L1346.9 136.7L1347.8 140.5L1348.6 138L1349.5 138.1L1350.4 139.4L1351.2 138.7L1352.1 140.6L1353 142.4L1353.8 141.8L1354.7 139.8L1355.6 141.8L1356.4 140.7L1357.3 141.9L1358.1 141.1L1359 141.8L1359.9 142.4L1360.7 143.4L1361.6 142.5L1362.5 141.6L1363.3 144.6L1364.2 145L1365.1 144.5L1365.9 146.3L1366.8 145.9L1367.7 147.5L1368.5 147.1L1369.4 146.5L1370.3 145.8L1371.1 146.1L1372 147.7L1372.9 149.2L1373.7 146.8L1374.6 148.5L1375.5 148.9L1376.3 146.3L1377.2 143.7L1378.1 146.6L1378.9 148.7L1379.8 146L1380.7 148L1381.5 146.7L1382.4 145.1L1383.2 145.5L1384.1 144.8L1385 145.9L1385.8 142.1L1386.7 144.9L1387.6 143.6L1388.4 141.9L1389.3 144.9L1390.2 144.2L1391 143.9L1391.9 142.7L1392.8 141.7L1393.6 143.6L1394.5 144.8L1395.4 145.7L1396.2 143.3L1397.1 144.9L1398 143.8L1398.8 146.4L1399.7 143.8L1400.6 145.7L1401.4 146.3L1402.3 146.1L1403.2 145.6L1404 145.2L1404.9 145.1L1405.8 146.4L1406.6 145.2L1407.5 148.3L1408.4 144.5L1409.2 147.7L1410.1 148.1L1410.9 146.7L1411.8 148L1412.7 152.9L1413.5 148.5L1414.4 147.5L1415.3 147.9L1416.1 149L1417 148.7L1417.9 148.9L1418.7 148.2L1419.6 150.5L1420.5 149.7L1421.3 147.2L1422.2 148.4L1423.1 150.6L1423.9 149.5L1424.8 147.6L1425.7 149.2L1426.5 151.7L1427.4 151.9L1428.3 150.2L1429.1 150.8L1430 149.4L1430.9 148.1L1431.7 149.3L1432.6 148.7L1433.5 150.5L1434.3 149.4L1435.2 149.8L1436.1 148.7L1436.9 148.9L1437.8 149.3L1438.6 150.2L1439.5 152.6L1440.4 150.6L1441.2 150.6L1442.1 150.9L1443 153L1443.8 150.8L1444.7 152L1445.6 150.4L1446.4 152.8L1447.3 152.5L1448.2 151.5L1449 150L1449.9 150L1450.8 149.1L1451.6 149.5L1452.5 148.2L1453.4 152.1L1454.2 152.4L1455.1 151.5L1456 150.8L1456.8 152.1L1457.7 151.7L1458.6 153.2L1459.4 149.8L1460.3 149.2L1461.2 152.6L1462 153.5L1462.9 153.4L1463.8 152.9L1464.6 152.3L1465.5 152.5L1466.3 151.3L1467.2 152.1L1468.1 154.2L1468.9 152.7L1469.8 152.6L1470.7 154L1471.5 154.8L1472.4 153.4L1473.3 153.2L1474.1 151.2L1475 155.4L1475.9 155.3L1476.7 155.5L1477.6 153.9L1478.5 157.7L1479.3 153.2L1480.2 151.5L1481.1 154.5L1481.9 155.6L1482.8 151L1483.7 154L1484.5 153.5L1485.4 153.6L1486.3 153.9L1487.1 153.4L1488 152.3L1488.9 152.2L1489.7 153.7L1490.6 153.5L1491.4 149.5L1492.3 152.3L1493.2 150.5L1494 150L1494.9 149.7L1495.8 149.3L1496.6 148.9L1497.5 146.3L1498.4 147.6L1499.2 143.8L1500.1 143.3L1501 144.3L1501.8 144.4L1502.7 146.4L1503.6 145.2L1504.4 144.7L1505.3 146.9L1506.2 149.7L1507 149.6L1507.9 150.5L1508.8 150.5L1509.6 151.4L1510.5 150.9L1511.4 151.1L1512.2 148.9L1513.1 151.6L1514 150.8L1514.8 150.9L1515.7 152.6L1516.6 154.5L1517.4 153.9L1518.3 156.1L1519.1 154.4L1520 156.8L1520.9 155.3L1521.7 156.4L1522.6 158.7L1523.5 158.4L1524.3 157.6L1525.2 158.8L1526.1 157L1526.9 160.6L1527.8 159.3L1528.7 159.1L1529.5 158.9L1530.4 156.5L1531.3 160.9L1532.1 157.4L1533 158.6L1533.9 157.1L1534.7 158.8L1535.6 158L1536.5 157.8L1537.3 156.9L1538.2 157.6L1539.1 155.2L1539.9 155.8L1540.8 157.5L1541.7 156.6L1542.5 156.6L1543.4 155.7L1544.3 158.7L1545.1 156L1546 158.5L1546.8 156L1547.7 157.6L1548.6 156.4L1549.4 157.5L1550.3 158.2L1551.2 158.4L1552 158.1L1552.9 157.2L1553.8 158.9L1554.6 157L1555.5 155.7L1556.4 156.3L1557.2 158.3L1558.1 155.3L1559 157.3L1559.8 154.8L1560.7 156.5L1561.6 154.8L1562.4 156.1L1563.3 154.2L1564.2 153.4L1565 153.4L1565.9 155.9L1566.8 155L1567.6 156.6L1568.5 153.9L1569.4 155.4L1570.2 155.3L1571.1 157.8L1572 155.3L1572.8 155.2L1573.7 156.4L1574.5 156.8L1575.4 157.9L1576.3 156.3L1577.1 154.7L1578 157.7L1578.9 155.6L1579.7 156.4L1580.6 153.2L1581.5 154L1582.3 154.1L1583.2 154.3L1584.1 154.4L1584.9 155.2L1585.8 155.3L1586.7 156.8L1587.5 155.7L1588.4 154.8L1589.3 153.2L1590.1 154.3L1591 154L1591.9 154.2L1592.7 152.9L1593.6 155.5L1594.5 152.7L1595.3 152.8L1596.2 153.6L1597.1 151.4L1597.9 151.5L1598.8 152.1L1599.6 150.6L1600.5 148.8L1601.4 149.1L1602.2 149.1L1603.1 149.8L1604 150.3L1604.8 149.8L1605.7 150.9L1606.6 148L1607.4 148.9L1608.3 147.1L1609.2 148.2L1610 147.4L1610.9 148.4L1611.8 148.2L1612.6 147.6L1613.5 147.8L1614.4 145.4L1615.2 148.7L1616.1 147.5L1617 143.3L1617.8 147.8L1618.7 146.2L1619.6 147L1620.4 147.9L1621.3 150.6L1622.2 148.9L1623 149.2L1623.9 150.6L1624.8 149.8L1625.6 151.4L1626.5 151.3L1627.3 153.7L1628.2 151.5L1629.1 151.4L1629.9 152.3L1630.8 153L1631.7 153.8L1632.5 151.1L1633.4 153.6L1634.3 155L1635.1 154.1L1636 153.1L1636.9 157.1L1637.7 155.4L1638.6 157L1639.5 157.2L1640.3 159.8L1641.2 158L1642.1 157.4L1642.9 156.3L1643.8 156.9L1644.7 157.3L1645.5 157.3L1646.4 157.2L1647.3 157.1L1648.1 155.3L1649 155.1L1649.9 156.8L1650.7 157.7L1651.6 157.2L1652.5 158.1L1653.3 157.9L1654.2 156.7L1655 157.4L1655.9 157.1L1656.8 159.4L1657.6 158L1658.5 157.9L1659.4 159.8L1660.2 159.3L1661.1 157.9L1662 156.1L1662.8 158.6L1663.7 159L1664.6 157.8L1665.4 158.5L1666.3 156.1L1667.2 154.7L1668 157.7L1668.9 158.5L1669.8 161.2L1670.6 158.2L1671.5 159.2L1672.4 157.5L1673.2 160.2L1674.1 160.1L1675 161.1L1675.8 160.4L1676.7 160.3L1677.6 160.3L1678.4 162.6L1679.3 159.6L1680.2 159L1681 158.8L1681.9 160.8L1682.7 161L1683.6 159.3L1684.5 162.1L1685.3 159.4L1686.2 158L1687.1 159.6L1687.9 157.6L1688.8 156.2L1689.7 160.5L1690.5 158.7L1691.4 160L1692.3 157.2L1693.1 158.6L1694 157.7" stroke="#ff8f8f" stroke-width="1.1"/>
<path d="M1044.8 159.5L1045.7 160.2L1046.5 159.3L1047.4 159.2L1048.3 161.2L1049.1 159.9L1050 156.5L1050.9 161.2L1051.7 159.4L1052.6 160.7L1053.5 157.1L1054.3 158.9L1055.2 160.5L1056.1 159.8L1056.9 160.8L1057.8 161.9L1058.6 162.4L1059.5 159.3L1060.4 159.7L1061.2 157.7L1062.1 159L1063 157.5L1063.8 155.1L1064.7 158.7L1065.6 158L1066.4 154.1L1067.3 151.3L1068.2 156.2L1069 158.2L1069.9 156.9L1070.8 157.8L1071.6 157L1072.5 160.4L1073.4 159.8L1074.2 160.4L1075.1 162.7L1076 163.1L1076.8 160.6L1077.7 160.9L1078.6 163.3L1079.4 160.3L1080.3 161L1081.2 161.7L1082 161.4L1082.9 161.7L1083.8 161L1084.6 160L1085.5 160.5L1086.3 162.8L1087.2 159.4L1088.1 159.6L1088.9 160.2L1089.8 157.8L1090.7 161.2L1091.5 157.7L1092.4 159.8L1093.3 160.7L1094.1 160.2L1095 155.6L1095.9 157.1L1096.7 159.8L1097.6 158L1098.5 157.2L1099.3 161.2L1100.2 160.5L1101.1 158.8L1101.9 159.1L1102.8 159.9L1103.7 156.4L1104.5 157.7L1105.4 156.8L1106.3 154.2L1107.1 156.8L1108 153.4L1108.9 156.3L1109.7 156.8L1110.6 155.6L1111.5 153.7L1112.3 153.5L1113.2 153.3L1114 155.4L1114.9 154.1L1115.8 152.4L1116.6 150.3L1117.5 148.4L1118.4 153L1119.2 148.7L1120.1 148.2L1121 146.8L1121.8 145.3L1122.7 146.9L1123.6 148.7L1124.4 146.2L1125.3 147.5L1126.2 150L1127 150.6L1127.9 151.4L1128.8 152.3L1129.6 149.1L1130.5 150.9L1131.4 151.5L1132.2 149.9L1133.1 145.9L1134 147L1134.8 146.9L1135.7 147.4L1136.6 146.9L1137.4 147.4L1138.3 150.7L1139.2 149.4L1140 150.2L1140.9 149.2L1141.7 149.9L1142.6 153L1143.5 148.9L1144.3 150.6L1145.2 153.9L1146.1 149.9L1146.9 151.9L1147.8 151.6L1148.7 152.4L1149.5 152.4L1150.4 153.3L1151.3 155L1152.1 153.7L1153 152.6L1153.9 152.9L1154.7 152.2L1155.6 153.2L1156.5 156L1157.3 151.5L1158.2 153.6L1159.1 154.2L1159.9 152.6L1160.8 154L1161.7 151.2L1162.5 152.5L1163.4 147.7L1164.3 150.2L1165.1 149.9L1166 149.4L1166.8 150.7L1167.7 148.2L1168.6 147.9L1169.4 147.7L1170.3 150.8L1171.2 147.9L1172 146L1172.9 148L1173.8 147.1L1174.6 146L1175.5 147.3L1176.4 146.4L1177.2 144L1178.1 145L1179 147.7L1179.8 149L1180.7 143.9L1181.6 147.1L1182.4 150.3L1183.3 148.1L1184.2 147.6L1185 148.8L1185.9 152L1186.8 147.3L1187.6 149.4L1188.5 150.1L1189.4 148.4L1190.2 149.3L1191.1 149L1192 146.8L1192.8 150.5L1193.7 145.9L1194.5 146.6L1195.4 146L1196.3 145.5L1197.1 144.3L1198 144.3L1198.9 144.8L1199.7 146.5L1200.6 144.8L1201.5 146.2L1202.3 146.5L1203.2 144.3L1204.1 144.3L1204.9 142.9L1205.8 147.5L1206.7 143.4L1207.5 143L1208.4 143.7L1209.3 141.5L1210.1 144.7L1211 142.8L1211.9 143.5L1212.7 142.7L1213.6 143.8L1214.5 142.7L1215.3 141.3L1216.2 141.9L1217.1 141.5L1217.9 142.9L1218.8 139.6L1219.7 143L1220.5 142.2L1221.4 141.4L1222.2 142.7L1223.1 141.3L1224 142.2L1224.8 140.4L1225.7 142.3L1226.6 142.5L1227.4 144.1L1228.3 142.4L1229.2 141.6L1230 142.3L1230.9 144.2L1231.8 143.6L1232.6 143L1233.5 142.4L1234.4 144L1235.2 139.2L1236.1 141.6L1237 140.7L1237.8 140.9L1238.7 139.4L1239.6 135.8L1240.4 138.9L1241.3 138.6L1242.2 140.5L1243 140.7L1243.9 138.6L1244.8 142.4L1245.6 142.7L1246.5 145.3L1247.4 143.6L1248.2 143.3L1249.1 146L1249.9 147.4L1250.8 147.5L1251.7 149.5L1252.5 152.2L1253.4 155L1254.3 157.8L1255.1 155.8L1256 163.7L1256.9 160.2L1257.7 157.5L1258.6 138.8L1259.5 92.1L1260.3 81L1261.2 116.7L1262.1 154.4L1262.9 118.9L1263.8 91.1L1264.7 117.1L1265.5 159.9L1266.4 182.8L1267.3 185.4L1268.1 176.7L1269 164.3L1269.9 160.4L1270.7 157.3L1271.6 155.4L1272.5 159.5L1273.3 157.4L1274.2 157.2L1275 159.6L1275.9 157.7L1276.8 156.4L1277.6 162.6L1278.5 162.9L1279.4 161.1L1280.2 158.9L1281.1 159.1L1282 160.8L1282.8 160.9L1283.7 160L1284.6 156.3L1285.4 159.8L1286.3 158.9L1287.2 156.3L1288 157.3L1288.9 157.7L1289.8 152.6L1290.6 151.5L1291.5 150.3L1292.4 147.3L1293.2 140.4L1294.1 136.5L1295 130L1295.8 123.6L1296.7 116.2L1297.6 113.2L1298.4 104.2L1299.3 97.1L1300.2 90.1L1301 82.7L1301.9 75.9L1302.7 73.6L1303.6 71.5L1304.5 66.6L1305.3 64.7L1306.2 62L1307.1 65.6L1307.9 67.6L1308.8 68.2L1309.7 72.8L1310.5 74.8L1311.4 77L1312.3 78.3L1313.1 79.9L1314 82.6L1314.9 84.5L1315.7 87.9L1316.6 88.9L1317.5 91.9L1318.3 91.6L1319.2 96L1320.1 96.8L1320.9 98L1321.8 98.8L1322.7 102.4L1323.5 103.2L1324.4 105.7L1325.3 108.2L1326.1 106.5L1327 108.4L1327.9 112.3L1328.7 112.7L1329.6 111.3L1330.4 113.9L1331.3 115.3L1332.2 113L1333 116.2L1333.9 117L1334.8 116.5L1335.6 119.3L1336.5 119.1L1337.4 119L1338.2 118.1L1339.1 120.2L1340 117.6L1340.8 118.5L1341.7 116.9L1342.6 119.6L1343.4 121.4L1344.3 121.8L1345.2 123.3L1346 122.3L1346.9 123L1347.8 122.1L1348.6 124L1349.5 126.2L1350.4 124.1L1351.2 126.7L1352.1 126.3L1353 125.4L1353.8 126.1L1354.7 129.7L1355.6 129.4L1356.4 128L1357.3 129.1L1358.1 130.3L1359 130.4L1359.9 135.2L1360.7 133.2L1361.6 135.7L1362.5 135.4L1363.3 135.9L1364.2 135.5L1365.1 135.1L1365.9 136.7L1366.8 138.2L1367.7 139.5L1368.5 137.3L1369.4 138.8L1370.3 141.8L1371.1 139.7L1372 138.9L1372.9 140.7L1373.7 138.5L1374.6 136.4L1375.5 138.6L1376.3 138.1L1377.2 137.8L1378.1 138.8L1378.9 138.3L1379.8 139.2L1380.7 138.4L1381.5 139.4L1382.4 136.9L1383.2 138.5L1384.1 137.3L1385 140L1385.8 138L1386.7 136.9L1387.6 136.4L1388.4 138L1389.3 137.1L1390.2 136.7L1391 137L1391.9 137.6L1392.8 136.8L1393.6 139.8L1394.5 141.4L1395.4 140.1L1396.2 139.5L1397.1 143.8L1398 139.3L1398.8 141.9L1399.7 141.8L1400.6 144.6L1401.4 144L1402.3 141.7L1403.2 141.9L1404 144L1404.9 145.6L1405.8 145.5L1406.6 143.6L1407.5 146.7L1408.4 147.2L1409.2 146.3L1410.1 145.3L1410.9 148.4L1411.8 146.8L1412.7 147L1413.5 147.7L1414.4 148.5L1415.3 147.2L1416.1 147.8L1417 150.7L1417.9 146.6L1418.7 148.3L1419.6 148.9L1420.5 150.1L1421.3 150.2L1422.2 153.4L1423.1 150.3L1423.9 149.1L1424.8 149.1L1425.7 150.8L1426.5 152.8L1427.4 150.8L1428.3 149.3L1429.1 146.8L1430 150.5L1430.9 148.1L1431.7 146.8L1432.6 146.6L1433.5 147.3L1434.3 150.7L1435.2 146.1L1436.1 147L1436.9 146.9L1437.8 149.4L1438.6 149.1L1439.5 146.5L1440.4 149L1441.2 149.1L1442.1 150.3L1443 147.5L1443.8 151.4L1444.7 149.7L1445.6 148.4L1446.4 149.1L1447.3 147.8L1448.2 148.4L1449 146.9L1449.9 149.1L1450.8 148.7L1451.6 148L1452.5 150.9L1453.4 146.2L1454.2 149.4L1455.1 146.3L1456 146L1456.8 146.8L1457.7 148.4L1458.6 149.9L1459.4 152.3L1460.3 148.7L1461.2 150L1462 147.5L1462.9 150.8L1463.8 149.7L1464.6 151.3L1465.5 150.2L1466.3 151.5L1467.2 151.4L1468.1 154L1468.9 152.6L1469.8 152.1L1470.7 150.4L1471.5 152.2L1472.4 154.6L1473.3 151L1474.1 153L1475 152.2L1475.9 155.4L1476.7 159.1L1477.6 155.9L1478.5 156L1479.3 154.2L1480.2 156.6L1481.1 155.5L1481.9 155.9L1482.8 153.7L1483.7 155L1484.5 151.7L1485.4 152.2L1486.3 151.9L1487.1 153L1488 152.1L1488.9 151.1L1489.7 153.3L1490.6 150.1L1491.4 151.1L1492.3 148.5L1493.2 146.4L1494 146.7L1494.9 149.5L1495.8 145.7L1496.6 147L1497.5 146.4L1498.4 145.3L1499.2 145.9L1500.1 143.1L1501 144.7L1501.8 142.7L1502.7 144.4L1503.6 149.3L1504.4 147.7L1505.3 148.5L1506.2 148.4L1507 148.9L1507.9 147.8L1508.8 148.6L1509.6 150.3L1510.5 148.3L1511.4 148L1512.2 149.5L1513.1 148.3L1514 150L1514.8 151.9L1515.7 152L1516.6 152L1517.4 151.7L1518.3 152.9L1519.1 152.3L1520 152.6L1520.9 156.4L1521.7 157.1L1522.6 156.2L1523.5 156L1524.3 156.1L1525.2 157L1526.1 156.9L1526.9 159.3L1527.8 157.8L1528.7 159.4L1529.5 157.9L1530.4 157.4L1531.3 159.8L1532.1 159.1L1533 154.8L1533.9 158.8L1534.7 158.2L1535.6 158.7L1536.5 158.7L1537.3 154.8L1538.2 157.1L1539.1 156.9L1539.9 157L1540.8 159.7L1541.7 154.7L1542.5 156.3L1543.4 155.4L1544.3 153.2L1545.1 155.3L1546 154.8L1546.8 154.6L1547.7 152.9L1548.6 156.5L1549.4 155.4L1550.3 157.5L1551.2 154.4L1552 153.6L1552.9 154.9L1553.8 151.4L1554.6 152.7L1555.5 151.3L1556.4 153.8L1557.2 151.4L1558.1 154.7L1559 153.3L1559.8 153.5L1560.7 154.4L1561.6 151.3L1562.4 151.7L1563.3 154.4L1564.2 152.3L1565 153.2L1565.9 153L1566.8 152.4L1567.6 153.9L1568.5 152.9L1569.4 152.6L1570.2 153.9L1571.1 153.8L1572 151.8L1572.8 152.8L1573.7 149.4L1574.5 149.8L1575.4 153.7L1576.3 152.1L1577.1 155.4L1578 153.3L1578.9 153.7L1579.7 153.4L1580.6 155.3L1581.5 151.8L1582.3 151.8L1583.2 153L1584.1 151.8L1584.9 150.4L1585.8 149.4L1586.7 153.5L1587.5 149.2L1588.4 153.7L1589.3 152.5L1590.1 152.1L1591 149.1L1591.9 150.5L1592.7 150.3L1593.6 149L1594.5 150.9L1595.3 151.7L1596.2 148.7L1597.1 150.8L1597.9 151.9L1598.8 152.3L1599.6 149.4L1600.5 146.8L1601.4 148L1602.2 148.7L1603.1 147L1604 150.3L1604.8 147.3L1605.7 148.3L1606.6 145.2L1607.4 148.1L1608.3 145.4L1609.2 146L1610 146.3L1610.9 145.4L1611.8 146.9L1612.6 144.8L1613.5 147.3L1614.4 150.1L1615.2 145L1616.1 145.5L1617 146.7L1617.8 145.6L1618.7 146.5L1619.6 148.7L1620.4 150.6L1621.3 149.1L1622.2 148.1L1623 147.2L1623.9 150.3L1624.8 150L1625.6 147.1L1626.5 150.7L1627.3 151.2L1628.2 151.8L1629.1 148.6L1629.9 150.1L1630.8 150.5L1631.7 149.9L1632.5 151.3L1633.4 151.3L1634.3 153L1635.1 153L1636 153.6L1636.9 153.9L1637.7 156.8L1638.6 155.8L1639.5 156.2L1640.3 156.8L1641.2 156.2L1642.1 153.8L1642.9 155.1L1643.8 156.2L1644.7 155.8L1645.5 154.5L1646.4 158.4L1647.3 156L1648.1 154.1L1649 153.9L1649.9 155.2L1650.7 155.7L1651.6 159.1L1652.5 157.7L1653.3 156.7L1654.2 156.2L1655 156.3L1655.9 160.2L1656.8 157.9L1657.6 156.6L1658.5 158L1659.4 157.3L1660.2 156.6L1661.1 156.9L1662 157L1662.8 156.5L1663.7 156L1664.6 158.1L1665.4 159.4L1666.3 158.7L1667.2 158.5L1668 158L1668.9 160L1669.8 159.1L1670.6 158.6L1671.5 156.3L1672.4 157.4L1673.2 158.4L1674.1 157L1675 157.9L1675.8 157.8L1676.7 156.6L1677.6 157.7L1678.4 158.1L1679.3 157.6L1680.2 159.3L1681 158.6L1681.9 161.5L1682.7 159.2L1683.6 156.6L1684.5 159.5L1685.3 159L1686.2 159.7L1687.1 160.7L1687.9 158.7L1688.8 159.7L1689.7 158.1L1690.5 160.9L1691.4 159.6L1692.3 160.3L1693.1 160.7L1694 158.5" stroke="#0a0aee" stroke-width="3.4"/>
<path d="M1044.8 161.9L1045.7 160.9L1046.5 162.7L1047.4 162.7L1048.3 162.1L1049.1 160.3L1050 162L1050.9 160.1L1051.7 161.5L1052.6 163.8L1053.5 157.8L1054.3 158.8L1055.2 160.3L1056.1 159.4L1056.9 159.3L1057.8 157L1058.6 159.6L1059.5 158.8L1060.4 159.5L1061.2 160.1L1062.1 158.6L1063 158.5L1063.8 160.1L1064.7 155.5L1065.6 162.1L1066.4 155.1L1067.3 157.8L1068.2 157.7L1069 156.5L1069.9 156.8L1070.8 157.1L1071.6 161.9L1072.5 157.5L1073.4 162.4L1074.2 160.9L1075.1 159.8L1076 161.7L1076.8 162.3L1077.7 161.4L1078.6 163.1L1079.4 165.2L1080.3 161.7L1081.2 161.7L1082 162.2L1082.9 162.3L1083.8 161L1084.6 160.6L1085.5 159.4L1086.3 159.8L1087.2 162.4L1088.1 158.1L1088.9 158.3L1089.8 158.1L1090.7 157.2L1091.5 161.4L1092.4 163.8L1093.3 158.1L1094.1 158.6L1095 159.6L1095.9 161.6L1096.7 157.5L1097.6 160.7L1098.5 157.5L1099.3 160.2L1100.2 159.3L1101.1 164.7L1101.9 159.7L1102.8 161.3L1103.7 161.7L1104.5 159.9L1105.4 155.1L1106.3 159.6L1107.1 161L1108 156.6L1108.9 159.1L1109.7 157.8L1110.6 154.5L1111.5 154.6L1112.3 154.4L1113.2 153.2L1114 154.5L1114.9 155.4L1115.8 153.2L1116.6 153L1117.5 151.5L1118.4 150.8L1119.2 149L1120.1 147.4L1121 148.5L1121.8 147.2L1122.7 146.3L1123.6 146.1L1124.4 149.5L1125.3 152.7L1126.2 149.4L1127 153.7L1127.9 152.2L1128.8 152.3L1129.6 150.6L1130.5 153.8L1131.4 149.2L1132.2 151.2L1133.1 148.1L1134 149.5L1134.8 144.5L1135.7 148.7L1136.6 149.5L1137.4 150.3L1138.3 153L1139.2 147.4L1140 152.3L1140.9 150.1L1141.7 149.6L1142.6 150.1L1143.5 151.4L1144.3 152.4L1145.2 151.1L1146.1 152.4L1146.9 155L1147.8 154.3L1148.7 152.5L1149.5 152.3L1150.4 157.4L1151.3 153.4L1152.1 154.3L1153 152.9L1153.9 154.1L1154.7 154.4L1155.6 152.8L1156.5 152.4L1157.3 152L1158.2 153.6L1159.1 152.7L1159.9 150.6L1160.8 153L1161.7 153.6L1162.5 151.3L1163.4 152.6L1164.3 149L1165.1 150.7L1166 149.3L1166.8 146.5L1167.7 148.7L1168.6 147.8L1169.4 147.3L1170.3 147.7L1171.2 150.6L1172 147.1L1172.9 148.4L1173.8 147.6L1174.6 146.1L1175.5 145.6L1176.4 146.2L1177.2 144.8L1178.1 145.6L1179 148.7L1179.8 149.3L1180.7 149.5L1181.6 150.1L1182.4 149.6L1183.3 152.7L1184.2 149.8L1185 149.3L1185.9 149.7L1186.8 151.4L1187.6 153.5L1188.5 148.3L1189.4 152.1L1190.2 151.3L1191.1 150.1L1192 151.9L1192.8 151.2L1193.7 148.8L1194.5 147.2L1195.4 149.1L1196.3 147.6L1197.1 147.1L1198 147.2L1198.9 148.6L1199.7 145.6L1200.6 147.1L1201.5 147.9L1202.3 147.9L1203.2 144.6L1204.1 145.6L1204.9 146.7L1205.8 144L1206.7 144.1L1207.5 144.9L1208.4 146.4L1209.3 144.7L1210.1 144L1211 145.6L1211.9 140.6L1212.7 144.2L1213.6 145.6L1214.5 146.1L1215.3 142.2L1216.2 143.7L1217.1 143.3L1217.9 144.2L1218.8 142.2L1219.7 142.6L1220.5 144.8L1221.4 143.8L1222.2 145.1L1223.1 142.6L1224 143.2L1224.8 142.2L1225.7 142.9L1226.6 142.7L1227.4 146.3L1228.3 144.8L1229.2 145.4L1230 145.7L1230.9 144.9L1231.8 142.3L1232.6 142.6L1233.5 141.4L1234.4 142.4L1235.2 142.2L1236.1 143L1237 142.6L1237.8 141.9L1238.7 141.7L1239.6 141.5L1240.4 138.5L1241.3 137.2L1242.2 141.5L1243 142.5L1243.9 140.2L1244.8 142.3L1245.6 145.2L1246.5 143.8L1247.4 147.5L1248.2 144.4L1249.1 147L1249.9 149.8L1250.8 149.3L1251.7 151.9L1252.5 151L1253.4 155.8L1254.3 156L1255.1 160.8L1256 162.2L1256.9 161.5L1257.7 157.4L1258.6 137.1L1259.5 93.5L1260.3 75L1261.2 115.5L1262.1 154.4L1262.9 118.9L1263.8 89.9L1264.7 117.9L1265.5 165.6L1266.4 185.4L1267.3 185.4L1268.1 181.3L1269 171.4L1269.9 160.6L1270.7 157.4L1271.6 157L1272.5 159.4L1273.3 160.9L1274.2 160.5L1275 160.2L1275.9 162.5L1276.8 161.8L1277.6 160.6L1278.5 160.9L1279.4 162.5L1280.2 163.8L1281.1 161.1L1282 163L1282.8 162.3L1283.7 158.7L1284.6 158.9L1285.4 160.9L1286.3 159.2L1287.2 158.5L1288 157.2L1288.9 155.7L1289.8 155.1L1290.6 156.3L1291.5 149.8L1292.4 147.9L1293.2 142.4L1294.1 136.1L1295 130.3L1295.8 124.5L1296.7 114.8L1297.6 106.8L1298.4 98.7L1299.3 91.8L1300.2 84.9L1301 78.6L1301.9 73.9L1302.7 65.4L1303.6 64L1304.5 60.6L1305.3 59.1L1306.2 58.3L1307.1 55.2L1307.9 61.8L1308.8 62.2L1309.7 64.4L1310.5 67.7L1311.4 71.8L1312.3 74L1313.1 75.6L1314 79L1314.9 82.5L1315.7 84.5L1316.6 83L1317.5 86.6L1318.3 88.5L1319.2 89.8L1320.1 92.4L1320.9 95.9L1321.8 93.1L1322.7 98.6L1323.5 99.5L1324.4 101.4L1325.3 101.7L1326.1 105.7L1327 108.6L1327.9 109.6L1328.7 109.9L1329.6 108.3L1330.4 108.6L1331.3 111.8L1332.2 113.2L1333 112.6L1333.9 114.3L1334.8 116.3L1335.6 117.6L1336.5 116.9L1337.4 116L1338.2 115.7L1339.1 116.2L1340 117.9L1340.8 115.4L1341.7 120.3L1342.6 117.8L1343.4 117.8L1344.3 120.7L1345.2 121.9L1346 118.4L1346.9 121.7L1347.8 122.2L1348.6 120.5L1349.5 122.6L1350.4 125.9L1351.2 124.8L1352.1 125.8L1353 125L1353.8 125.5L1354.7 130.4L1355.6 129.6L1356.4 127L1357.3 129.9L1358.1 130.7L1359 132.2L1359.9 131.3L1360.7 133.5L1361.6 133.4L1362.5 134.4L1363.3 136.2L1364.2 138.3L1365.1 139.5L1365.9 139.2L1366.8 140L1367.7 139.1L1368.5 139.8L1369.4 139.9L1370.3 141.5L1371.1 141L1372 141.2L1372.9 141.6L1373.7 141.4L1374.6 136.6L1375.5 138.6L1376.3 137L1377.2 137.8L1378.1 139L1378.9 135.9L1379.8 137.3L1380.7 138.3L1381.5 139.8L1382.4 138.4L1383.2 137.4L1384.1 137.2L1385 138.4L1385.8 138.7L1386.7 138.6L1387.6 137.2L1388.4 138.8L1389.3 137.3L1390.2 140.1L1391 134.6L1391.9 135.9L1392.8 137.9L1393.6 139.1L1394.5 137.9L1395.4 139.6L1396.2 140.8L1397.1 141.2L1398 141.9L1398.8 143.6L1399.7 141.4L1400.6 145.9L1401.4 143.9L1402.3 144.7L1403.2 147.4L1404 144.5L1404.9 148.3L1405.8 146.8L1406.6 147.4L1407.5 147L1408.4 147.5L1409.2 145.8L1410.1 147.7L1410.9 148.2L1411.8 148.3L1412.7 148.3L1413.5 149.8L1414.4 147.8L1415.3 148.5L1416.1 148.4L1417 149.3L1417.9 149.5L1418.7 149.5L1419.6 150.6L1420.5 149.4L1421.3 148.7L1422.2 150.8L1423.1 150.2L1423.9 149.4L1424.8 150.7L1425.7 150.9L1426.5 150.1L1427.4 149.8L1428.3 147.7L1429.1 149.3L1430 147.9L1430.9 149.1L1431.7 147.1L1432.6 146.6L1433.5 146.2L1434.3 149.6L1435.2 148.1L1436.1 150L1436.9 148.6L1437.8 149.2L1438.6 150.9L1439.5 151.5L1440.4 151.1L1441.2 150.4L1442.1 149.8L1443 148.4L1443.8 147.7L1444.7 151.7L1445.6 150.1L1446.4 150.7L1447.3 150.6L1448.2 152.1L1449 149.4L1449.9 149.4L1450.8 150.7L1451.6 149.5L1452.5 150.9L1453.4 153.2L1454.2 150.5L1455.1 149.9L1456 150.7L1456.8 149.2L1457.7 146.9L1458.6 149.7L1459.4 150.6L1460.3 152.5L1461.2 151.3L1462 151.4L1462.9 150L1463.8 152.5L1464.6 153.1L1465.5 153.1L1466.3 150.3L1467.2 150.7L1468.1 153.3L1468.9 148.3L1469.8 154.2L1470.7 154.3L1471.5 152.3L1472.4 154.3L1473.3 155.5L1474.1 156.2L1475 154.8L1475.9 155.3L1476.7 155.5L1477.6 157.3L1478.5 153.9L1479.3 156.6L1480.2 154.4L1481.1 152.9L1481.9 157L1482.8 155.7L1483.7 154.8L1484.5 154L1485.4 154.5L1486.3 155.7L1487.1 153.2L1488 153.8L1488.9 151.7L1489.7 153.7L1490.6 154.3L1491.4 153.4L1492.3 152.2L1493.2 150.3L1494 148.9L1494.9 151L1495.8 148.1L1496.6 149.6L1497.5 142.4L1498.4 145.6L1499.2 145.2L1500.1 145.1L1501 143.3L1501.8 143.2L1502.7 146.3L1503.6 146.3L1504.4 146.9L1505.3 146.9L1506.2 149.3L1507 147.9L1507.9 149.1L1508.8 146.9L1509.6 151.4L1510.5 150.1L1511.4 149.8L1512.2 149.2L1513.1 150.3L1514 152.3L1514.8 152.1L1515.7 151.7L1516.6 155.9L1517.4 153L1518.3 155.8L1519.1 154.1L1520 153.4L1520.9 157.3L1521.7 157.5L1522.6 157.5L1523.5 158.4L1524.3 157L1525.2 157.6L1526.1 160.9L1526.9 161.4L1527.8 160L1528.7 160.7L1529.5 158.9L1530.4 158.2L1531.3 160.7L1532.1 161.9L1533 160.9L1533.9 159.1L1534.7 158.8L1535.6 158.8L1536.5 158.9L1537.3 156.6L1538.2 157.2L1539.1 156.4L1539.9 154.9L1540.8 158.7L1541.7 156.2L1542.5 156.9L1543.4 156.9L1544.3 155.6L1545.1 157L1546 156.9L1546.8 151.7L1547.7 153L1548.6 154.1L1549.4 157L1550.3 156.5L1551.2 157L1552 156.3L1552.9 155.7L1553.8 155L1554.6 157.7L1555.5 154.2L1556.4 155.4L1557.2 154.2L1558.1 156.1L1559 154.9L1559.8 157.9L1560.7 154.9L1561.6 156.7L1562.4 156.6L1563.3 155.5L1564.2 155.9L1565 159.2L1565.9 153.6L1566.8 156.2L1567.6 155.5L1568.5 155.5L1569.4 155.9L1570.2 155L1571.1 154.4L1572 155L1572.8 156.2L1573.7 155.2L1574.5 152.4L1575.4 153.8L1576.3 154.4L1577.1 152L1578 154.7L1578.9 151.3L1579.7 153.1L1580.6 154.1L1581.5 154.9L1582.3 154.7L1583.2 154.8L1584.1 151.8L1584.9 150.7L1585.8 152.1L1586.7 153.7L1587.5 152.8L1588.4 155.7L1589.3 154.1L1590.1 152.8L1591 149.7L1591.9 151.7L1592.7 150.4L1593.6 151L1594.5 153L1595.3 151.5L1596.2 152.5L1597.1 153.1L1597.9 150.7L1598.8 150.5L1599.6 149.9L1600.5 149.4L1601.4 151.4L1602.2 151.5L1603.1 150.1L1604 149.5L1604.8 147.1L1605.7 148.2L1606.6 149.1L1607.4 146.9L1608.3 146.6L1609.2 148L1610 144.9L1610.9 149.5L1611.8 147.1L1612.6 146L1613.5 147.7L1614.4 147.2L1615.2 150.6L1616.1 148.2L1617 147.8L1617.8 149.8L1618.7 148.4L1619.6 149.2L1620.4 149.1L1621.3 148.4L1622.2 149.3L1623 148.4L1623.9 150.1L1624.8 147.8L1625.6 149.9L1626.5 152.7L1627.3 152.3L1628.2 150.7L1629.1 150.1L1629.9 153.2L1630.8 152.7L1631.7 154.3L1632.5 151.4L1633.4 153.8L1634.3 155L1635.1 153.2L1636 159L1636.9 155.3L1637.7 157.9L1638.6 155.8L1639.5 157.3L1640.3 158.2L1641.2 157.2L1642.1 157.9L1642.9 154.2L1643.8 157.9L1644.7 154.6L1645.5 156.2L1646.4 158.1L1647.3 160.1L1648.1 157L1649 157.4L1649.9 160.3L1650.7 155.1L1651.6 157.7L1652.5 158.3L1653.3 156.4L1654.2 156.8L1655 157.4L1655.9 157.9L1656.8 157.6L1657.6 160.8L1658.5 158.7L1659.4 158.5L1660.2 154.1L1661.1 157.3L1662 158.1L1662.8 157.5L1663.7 158.6L1664.6 156.9L1665.4 158.3L1666.3 157.2L1667.2 157.4L1668 158L1668.9 158.5L1669.8 159.3L1670.6 160.3L1671.5 158.8L1672.4 159.1L1673.2 158.9L1674.1 158.8L1675 158.4L1675.8 158.8L1676.7 159.3L1677.6 157.4L1678.4 157.1L1679.3 160.4L1680.2 159.2L1681 159.2L1681.9 160.9L1682.7 159L1683.6 160.6L1684.5 157.8L1685.3 161.6L1686.2 159.9L1687.1 162.1L1687.9 162.6L1688.8 160.1L1689.7 161L1690.5 159.5L1691.4 160.1L1692.3 163.8L1693.1 159.6L1694 163.1" stroke="#fa0505" stroke-width="3.4"/>
</g>
<path d="M1044.8 184.9h7.4 M1694.4 184.9h-7.4M1044.8 168.2h3.4 M1694.4 168.2h-3.4M1044.8 151.5h7.4 M1694.4 151.5h-7.4M1044.8 134.8h3.4 M1694.4 134.8h-3.4M1044.8 118.1h7.4 M1694.4 118.1h-7.4M1044.8 101.4h3.4 M1694.4 101.4h-3.4M1044.8 84.7h7.4 M1694.4 84.7h-7.4M1044.8 68h3.4 M1694.4 68h-3.4M1044.8 51.3h7.4 M1694.4 51.3h-7.4M1044.8 34.6h3.4 M1694.4 34.6h-3.4M1044.8 17.9h7.4 M1694.4 17.9h-7.4M1044.8 185v-7.4 M1044.8 2.2v7.4M1153 185v-3.4 M1153 2.2v3.4M1261.2 185v-7.4 M1261.2 2.2v7.4M1369.4 185v-3.4 M1369.4 2.2v3.4M1477.6 185v-7.4 M1477.6 2.2v7.4M1585.8 185v-3.4 M1585.8 2.2v3.4M1694 185v-7.4 M1694 2.2v7.4" stroke="#1a1a1a" stroke-width="1.1" fill="none"/>
<rect x="1044.8" y="2.2" width="649.6" height="182.8" fill="none" stroke="#1a1a1a" stroke-width="1.5"/>
<g font-family="'Liberation Serif',serif" font-weight="bold" fill="#000">
<text x="1034.3" y="194.3" font-size="29.5" text-anchor="end">-10</text>
<text x="1034.3" y="160.9" font-size="29.5" text-anchor="end">0</text>
<text x="1034.3" y="127.5" font-size="29.5" text-anchor="end">10</text>
<text x="1034.3" y="94.1" font-size="29.5" text-anchor="end">20</text>
<text x="1034.3" y="60.7" font-size="29.5" text-anchor="end">30</text>
<text x="1034.3" y="27.3" font-size="29.5" text-anchor="end">40</text>
<text x="1043.8" y="216.7" font-size="29.5" text-anchor="middle">-100</text>
<text x="1261.2" y="216.7" font-size="29.5" text-anchor="middle">0</text>
<text x="1477.6" y="216.7" font-size="29.5" text-anchor="middle">100</text>
<text x="1694" y="216.7" font-size="29.5" text-anchor="middle">200</text>
<text x="1369.5" y="246.4" font-size="25.6" text-anchor="middle">Time (ms)</text>
<text transform="translate(963.5 92.6) rotate(-90)" font-size="26" text-anchor="middle">Amplitude (µV)</text>
<text x="1068.2" y="35.7" font-size="22.6" word-spacing="2.5">0.5 mA HL</text>
<text x="1457" y="37.1" font-size="28.5" letter-spacing="0.5">Meso</text>
<text x="1457" y="75" font-size="28.5" letter-spacing="0.5">Avg. Micros</text>
<text x="1457" y="111" font-size="28.5" letter-spacing="0.5">Individual Micros</text>
</g>
<path d="M1382.5 27.9H1451.5" stroke="#0a0aee" stroke-width="3.6" stroke-linecap="round"/>
<path d="M1382.5 65.8H1451.5" stroke="#fa0505" stroke-width="3.6" stroke-linecap="round"/>
<path d="M1382.5 101.8H1451.5" stroke="#ff8f8f" stroke-width="1.2" stroke-linecap="round"/>
<g fill="none" stroke-linejoin="round">
<path d="M1044.8 436.8L1045.7 436.8L1046.5 433.5L1047.4 434.2L1048.3 434.2L1049.1 434.5L1050 433.5L1050.9 432.5L1051.7 433.1L1052.6 432.7L1053.5 433.8L1054.3 430.7L1055.2 432.4L1056.1 432.2L1056.9 432.2L1057.8 431.9L1058.6 431.4L1059.5 430.8L1060.4 433.8L1061.2 432.5L1062.1 433.2L1063 430.8L1063.8 432.5L1064.7 433.7L1065.6 431.2L1066.4 429.5L1067.3 428.7L1068.2 429L1069 429.2L1069.9 431.7L1070.8 431.7L1071.6 431.5L1072.5 432.3L1073.4 431.2L1074.2 435.9L1075.1 432.9L1076 434.4L1076.8 434.1L1077.7 437.2L1078.6 434.7L1079.4 436.4L1080.3 436.1L1081.2 433.9L1082 437.3L1082.9 434.2L1083.8 434L1084.6 433.7L1085.5 433.8L1086.3 432.7L1087.2 432.2L1088.1 431.5L1088.9 432.2L1089.8 433.7L1090.7 433.9L1091.5 434.5L1092.4 429.4L1093.3 431.9L1094.1 432.6L1095 431.4L1095.9 433L1096.7 432.3L1097.6 434.6L1098.5 432.9L1099.3 435.9L1100.2 434.9L1101.1 434.6L1101.9 434.9L1102.8 433.6L1103.7 432.6L1104.5 432.8L1105.4 431.5L1106.3 431.4L1107.1 432.6L1108 431.3L1108.9 432.4L1109.7 430.8L1110.6 429.3L1111.5 429.3L1112.3 428.2L1113.2 427.6L1114 425.7L1114.9 425.9L1115.8 427.4L1116.6 424.8L1117.5 424.9L1118.4 422.6L1119.2 424.1L1120.1 421L1121 421.8L1121.8 422L1122.7 420.8L1123.6 422.3L1124.4 423.8L1125.3 422.5L1126.2 422.7L1127 425L1127.9 425.6L1128.8 423.6L1129.6 424.1L1130.5 425.8L1131.4 424.1L1132.2 422L1133.1 422L1134 421.4L1134.8 419.9L1135.7 422.5L1136.6 421.4L1137.4 422.8L1138.3 422.8L1139.2 423.2L1140 423.2L1140.9 425.1L1141.7 423.2L1142.6 425.4L1143.5 421.7L1144.3 424.6L1145.2 423L1146.1 425.4L1146.9 425.8L1147.8 425L1148.7 426.7L1149.5 424.4L1150.4 428L1151.3 427.4L1152.1 427L1153 428.2L1153.9 430.4L1154.7 430.3L1155.6 429.8L1156.5 429.8L1157.3 428.6L1158.2 428.7L1159.1 428.6L1159.9 428.3L1160.8 428.3L1161.7 428L1162.5 426L1163.4 426.2L1164.3 425.2L1165.1 423.6L1166 426.1L1166.8 422.4L1167.7 423.4L1168.6 422L1169.4 421.5L1170.3 424.9L1171.2 421.9L1172 421.2L1172.9 421.3L1173.8 418.4L1174.6 420.3L1175.5 417.8L1176.4 418L1177.2 416.9L1178.1 416.6L1179 419.2L1179.8 417.9L1180.7 419.1L1181.6 420.7L1182.4 421.6L1183.3 420.4L1184.2 423.3L1185 420.7L1185.9 421.8L1186.8 423.1L1187.6 424.6L1188.5 425.2L1189.4 423.6L1190.2 424.7L1191.1 423.6L1192 422.1L1192.8 421.2L1193.7 423.9L1194.5 423.2L1195.4 421.6L1196.3 420.6L1197.1 421.5L1198 419.9L1198.9 421.4L1199.7 421.3L1200.6 420.2L1201.5 418.5L1202.3 421.5L1203.2 418.5L1204.1 418.4L1204.9 419.5L1205.8 419.4L1206.7 418.7L1207.5 420.5L1208.4 422.2L1209.3 418.6L1210.1 417.2L1211 420.3L1211.9 417.6L1212.7 418.2L1213.6 418.3L1214.5 418.8L1215.3 418.7L1216.2 415.6L1217.1 415.3L1217.9 417.1L1218.8 414.7L1219.7 414.6L1220.5 416.1L1221.4 415.8L1222.2 414.5L1223.1 416.6L1224 416.5L1224.8 414.7L1225.7 413.4L1226.6 414.2L1227.4 414.6L1228.3 416L1229.2 415.9L1230 415.3L1230.9 416.1L1231.8 414.9L1232.6 416.3L1233.5 415.7L1234.4 415.7L1235.2 414.9L1236.1 416.3L1237 414.1L1237.8 414.7L1238.7 412.6L1239.6 412.8L1240.4 409.7L1241.3 411L1242.2 411.6L1243 412.6L1243.9 413.7L1244.8 412.6L1245.6 414.9L1246.5 415.2L1247.4 417.2L1248.2 416.5L1249.1 419.1L1249.9 421.9L1250.8 425.1L1251.7 424.9L1252.5 423.4L1253.4 427.8L1254.3 429.1L1255.1 432.9L1256 434.7L1256.9 436.7L1257.7 430.6L1258.6 412.1L1259.5 366.5L1260.3 354.2L1261.2 391.8L1262.1 425.2L1262.9 391.8L1263.8 368.3L1264.7 390.4L1265.5 438.1L1266.4 457.6L1267.3 458.8L1268.1 454.1L1269 443L1269.9 434.4L1270.7 433.8L1271.6 430.3L1272.5 431L1273.3 432.8L1274.2 433.1L1275 433.8L1275.9 435.5L1276.8 436.4L1277.6 436.9L1278.5 436.1L1279.4 435.8L1280.2 435L1281.1 436.7L1282 436.9L1282.8 433.5L1283.7 434.5L1284.6 433.6L1285.4 432.4L1286.3 433.7L1287.2 434.2L1288 432.6L1288.9 429.9L1289.8 428.3L1290.6 425.6L1291.5 424.5L1292.4 420.2L1293.2 414.2L1294.1 410.4L1295 404.7L1295.8 399.1L1296.7 389L1297.6 382.2L1298.4 375.2L1299.3 366.7L1300.2 359.8L1301 352.8L1301.9 344.5L1302.7 342.2L1303.6 336.8L1304.5 335L1305.3 331.1L1306.2 329.2L1307.1 335.5L1307.9 336.2L1308.8 336.8L1309.7 337.8L1310.5 340.9L1311.4 341.3L1312.3 344.6L1313.1 346.4L1314 348.2L1314.9 350.1L1315.7 354.2L1316.6 352.7L1317.5 358.2L1318.3 359.7L1319.2 360.3L1320.1 363.9L1320.9 364L1321.8 364.7L1322.7 371L1323.5 367.5L1324.4 371.1L1325.3 372.4L1326.1 373L1327 374.9L1327.9 375L1328.7 374.3L1329.6 379L1330.4 377L1331.3 377.6L1332.2 379.2L1333 380.5L1333.9 381.5L1334.8 380.6L1335.6 381.2L1336.5 382.9L1337.4 383.7L1338.2 381.9L1339.1 379.9L1340 380.5L1340.8 377.2L1341.7 380.6L1342.6 380.4L1343.4 381.1L1344.3 379.3L1345.2 379.3L1346 380.6L1346.9 381.2L1347.8 382.3L1348.6 380.6L1349.5 382.1L1350.4 382.8L1351.2 382.5L1352.1 384.2L1353 383.9L1353.8 385.8L1354.7 384.4L1355.6 384.7L1356.4 385.6L1357.3 385.7L1358.1 386.5L1359 387L1359.9 385.5L1360.7 386.6L1361.6 387.4L1362.5 390.2L1363.3 390.4L1364.2 392.9L1365.1 392.3L1365.9 395.3L1366.8 394.7L1367.7 396.2L1368.5 398.2L1369.4 396.6L1370.3 397.9L1371.1 398.9L1372 400L1372.9 401.1L1373.7 400.9L1374.6 399.4L1375.5 398.6L1376.3 400.8L1377.2 401.2L1378.1 401.5L1378.9 401.2L1379.8 402L1380.7 405.2L1381.5 404.2L1382.4 405.6L1383.2 403.5L1384.1 405.6L1385 404.6L1385.8 404.6L1386.7 405.8L1387.6 405L1388.4 407.2L1389.3 404.3L1390.2 404.3L1391 404.6L1391.9 403.7L1392.8 407.1L1393.6 405.3L1394.5 408.5L1395.4 408.2L1396.2 412.5L1397.1 411.6L1398 411.1L1398.8 412.5L1399.7 413.5L1400.6 412L1401.4 417.4L1402.3 416.3L1403.2 417.1L1404 417.3L1404.9 417.4L1405.8 415.8L1406.6 417.6L1407.5 417.4L1408.4 419.3L1409.2 419.2L1410.1 420.5L1410.9 421L1411.8 419.4L1412.7 421.2L1413.5 421.1L1414.4 422.3L1415.3 422.7L1416.1 423.9L1417 422.2L1417.9 421.6L1418.7 423.1L1419.6 424.5L1420.5 423.2L1421.3 424.1L1422.2 422.2L1423.1 422.8L1423.9 421.5L1424.8 423.7L1425.7 424.1L1426.5 421.6L1427.4 424.6L1428.3 422.4L1429.1 421.9L1430 423.3L1430.9 423.6L1431.7 422.4L1432.6 419.2L1433.5 420.6L1434.3 421.7L1435.2 421.2L1436.1 423.1L1436.9 421.8L1437.8 422.3L1438.6 420.4L1439.5 423.8L1440.4 421.7L1441.2 422.2L1442.1 423L1443 423.6L1443.8 422.3L1444.7 421L1445.6 420L1446.4 422.6L1447.3 423.2L1448.2 422.6L1449 424.7L1449.9 422.8L1450.8 425.1L1451.6 422.5L1452.5 423.8L1453.4 423.9L1454.2 424.7L1455.1 422.4L1456 422.6L1456.8 422.9L1457.7 424.3L1458.6 425.2L1459.4 425.2L1460.3 424L1461.2 422.7L1462 422L1462.9 423L1463.8 426.4L1464.6 423.2L1465.5 424.8L1466.3 424.3L1467.2 423.2L1468.1 425.1L1468.9 424.2L1469.8 426.3L1470.7 425.7L1471.5 424.1L1472.4 423.6L1473.3 426.6L1474.1 424.8L1475 429.4L1475.9 425.7L1476.7 428.8L1477.6 427.4L1478.5 428.1L1479.3 427.1L1480.2 427.3L1481.1 426.3L1481.9 430.6L1482.8 426.9L1483.7 427.9L1484.5 426.4L1485.4 425.5L1486.3 426.7L1487.1 425.5L1488 427L1488.9 425.8L1489.7 426L1490.6 426.4L1491.4 425.3L1492.3 425.4L1493.2 424.1L1494 423.9L1494.9 421L1495.8 422L1496.6 421.9L1497.5 419.4L1498.4 417.8L1499.2 417.6L1500.1 416.7L1501 416.4L1501.8 418L1502.7 420.5L1503.6 419.7L1504.4 421.6L1505.3 423.6L1506.2 420.1L1507 421.2L1507.9 422.7L1508.8 422.6L1509.6 422.2L1510.5 423.8L1511.4 422.9L1512.2 425L1513.1 425.5L1514 424L1514.8 426L1515.7 426.1L1516.6 429.9L1517.4 428.6L1518.3 429.1L1519.1 432.4L1520 431.6L1520.9 430.6L1521.7 431.6L1522.6 432.4L1523.5 432.7L1524.3 432.1L1525.2 432.8L1526.1 433L1526.9 433.1L1527.8 432.4L1528.7 432.9L1529.5 434L1530.4 434.1L1531.3 432L1532.1 432.9L1533 432.2L1533.9 432.1L1534.7 435L1535.6 429.9L1536.5 432.4L1537.3 431.6L1538.2 430.8L1539.1 430.6L1539.9 431.4L1540.8 429.6L1541.7 430.9L1542.5 429L1543.4 430L1544.3 429.9L1545.1 430L1546 427.5L1546.8 431.6L1547.7 431L1548.6 428.8L1549.4 427.8L1550.3 429.6L1551.2 430.6L1552 430.4L1552.9 432L1553.8 427.7L1554.6 428.4L1555.5 429.7L1556.4 430.3L1557.2 429.7L1558.1 429.5L1559 429.4L1559.8 429.3L1560.7 428.7L1561.6 429.4L1562.4 429L1563.3 430L1564.2 428.7L1565 425.7L1565.9 428.9L1566.8 425.9L1567.6 428.5L1568.5 427.3L1569.4 427.1L1570.2 428.6L1571.1 428L1572 426.1L1572.8 427.2L1573.7 427.6L1574.5 425.8L1575.4 427.8L1576.3 426.6L1577.1 429.1L1578 427.5L1578.9 428.2L1579.7 427.9L1580.6 427.7L1581.5 426.4L1582.3 424.6L1583.2 426.1L1584.1 425.7L1584.9 426.5L1585.8 426.2L1586.7 425.3L1587.5 428.5L1588.4 427L1589.3 425.1L1590.1 428.1L1591 427.8L1591.9 426.9L1592.7 426.1L1593.6 425.8L1594.5 427.4L1595.3 428.2L1596.2 428.1L1597.1 427.5L1597.9 425.8L1598.8 425.8L1599.6 425.3L1600.5 423.5L1601.4 423.4L1602.2 421.5L1603.1 423.4L1604 424L1604.8 424.7L1605.7 424.3L1606.6 420.2L1607.4 422.8L1608.3 418.7L1609.2 421.1L1610 419.5L1610.9 422.1L1611.8 422.9L1612.6 422.2L1613.5 423.7L1614.4 423.7L1615.2 422.1L1616.1 422.8L1617 422.6L1617.8 422.3L1618.7 422.8L1619.6 422.7L1620.4 425.6L1621.3 423.2L1622.2 423.5L1623 425.6L1623.9 422.7L1624.8 423.3L1625.6 422.7L1626.5 423.2L1627.3 423.1L1628.2 425.8L1629.1 425.9L1629.9 426.2L1630.8 425.9L1631.7 427.8L1632.5 430L1633.4 426.2L1634.3 430.2L1635.1 430.1L1636 429.6L1636.9 431.5L1637.7 431.4L1638.6 431.7L1639.5 433.5L1640.3 434.4L1641.2 431.3L1642.1 430.5L1642.9 431.4L1643.8 431.4L1644.7 428.6L1645.5 432.7L1646.4 432.1L1647.3 429.5L1648.1 429.8L1649 430.4L1649.9 433.2L1650.7 432.5L1651.6 430.5L1652.5 431.9L1653.3 431.1L1654.2 429.5L1655 430.4L1655.9 432.1L1656.8 429.4L1657.6 429.9L1658.5 431.1L1659.4 433.1L1660.2 432.5L1661.1 432.1L1662 433.6L1662.8 433.7L1663.7 431.6L1664.6 431.4L1665.4 433.3L1666.3 432.2L1667.2 432.8L1668 430.8L1668.9 432L1669.8 430.9L1670.6 434.7L1671.5 431.9L1672.4 434.4L1673.2 432.6L1674.1 434.2L1675 434.6L1675.8 432.2L1676.7 432L1677.6 434.3L1678.4 434.3L1679.3 436.1L1680.2 436.3L1681 434.7L1681.9 431.9L1682.7 437L1683.6 434L1684.5 434.6L1685.3 436.8L1686.2 433.7L1687.1 435.1L1687.9 435.4L1688.8 432.9L1689.7 434.5L1690.5 434.1L1691.4 434.9L1692.3 436.1L1693.1 434.7L1694 433" stroke="#8f8fff" stroke-width="1.1"/>
<path d="M1044.8 435.5L1045.7 436.2L1046.5 435.4L1047.4 435.1L1048.3 435.7L1049.1 434.8L1050 434.4L1050.9 434.4L1051.7 432.3L1052.6 433.6L1053.5 433.9L1054.3 432.2L1055.2 434.5L1056.1 431.3L1056.9 433.8L1057.8 430.6L1058.6 432.7L1059.5 433.3L1060.4 430.4L1061.2 430.3L1062.1 429.3L1063 434.4L1063.8 431.2L1064.7 430.4L1065.6 430.1L1066.4 427.6L1067.3 428.1L1068.2 427.5L1069 429.4L1069.9 430.1L1070.8 432.2L1071.6 431.7L1072.5 432.7L1073.4 431.8L1074.2 434.5L1075.1 433.3L1076 433.4L1076.8 435.4L1077.7 435.5L1078.6 434.4L1079.4 435.9L1080.3 435.8L1081.2 436.8L1082 435.9L1082.9 436L1083.8 436.9L1084.6 434.5L1085.5 432.7L1086.3 433.5L1087.2 434.2L1088.1 432L1088.9 432.2L1089.8 433.7L1090.7 435.1L1091.5 433.5L1092.4 432.9L1093.3 433.9L1094.1 435.8L1095 435.6L1095.9 431.6L1096.7 433.4L1097.6 436.8L1098.5 435.4L1099.3 433.9L1100.2 433.7L1101.1 436.3L1101.9 434.5L1102.8 435.7L1103.7 433.5L1104.5 432.6L1105.4 430.7L1106.3 431.9L1107.1 430.6L1108 430.1L1108.9 431.7L1109.7 431.7L1110.6 431.1L1111.5 431.8L1112.3 429.5L1113.2 428.8L1114 431.1L1114.9 427.8L1115.8 427.3L1116.6 426.9L1117.5 426.4L1118.4 426.5L1119.2 424.2L1120.1 421.8L1121 420.9L1121.8 422.8L1122.7 420.7L1123.6 423.9L1124.4 423.6L1125.3 424.8L1126.2 424L1127 424.4L1127.9 425L1128.8 424.8L1129.6 426.4L1130.5 427.4L1131.4 423.7L1132.2 423.6L1133.1 421L1134 419.4L1134.8 421.6L1135.7 421.9L1136.6 421L1137.4 422.3L1138.3 423.5L1139.2 424.1L1140 421.9L1140.9 424L1141.7 423.9L1142.6 421.7L1143.5 423.3L1144.3 423.9L1145.2 425.3L1146.1 426.5L1146.9 426L1147.8 426.3L1148.7 426L1149.5 427.3L1150.4 426.2L1151.3 428.5L1152.1 427.7L1153 426.9L1153.9 426.1L1154.7 428.1L1155.6 428.6L1156.5 426.8L1157.3 430.4L1158.2 428.9L1159.1 428.9L1159.9 427.7L1160.8 427.6L1161.7 429.5L1162.5 425.6L1163.4 426.6L1164.3 425.8L1165.1 424.3L1166 424.3L1166.8 422.8L1167.7 421.8L1168.6 419.6L1169.4 420.4L1170.3 422.1L1171.2 422.3L1172 422L1172.9 419.2L1173.8 423L1174.6 420.8L1175.5 420.4L1176.4 418.1L1177.2 419.8L1178.1 420L1179 421.2L1179.8 424.6L1180.7 422.8L1181.6 424.3L1182.4 425L1183.3 425.6L1184.2 426.6L1185 427.9L1185.9 425.3L1186.8 424.9L1187.6 427.5L1188.5 426.7L1189.4 425.7L1190.2 424.5L1191.1 427.1L1192 424.1L1192.8 424.7L1193.7 423.3L1194.5 422.7L1195.4 423.6L1196.3 421.8L1197.1 421.3L1198 420.5L1198.9 420.1L1199.7 420.3L1200.6 420.9L1201.5 419.9L1202.3 420.4L1203.2 420.8L1204.1 419.6L1204.9 419L1205.8 420.3L1206.7 416.5L1207.5 418.1L1208.4 418.5L1209.3 417.5L1210.1 415.4L1211 415.8L1211.9 416.9L1212.7 415.7L1213.6 418L1214.5 416.6L1215.3 416.9L1216.2 414.3L1217.1 418.2L1217.9 416.5L1218.8 417.9L1219.7 417.9L1220.5 418.1L1221.4 421L1222.2 418.3L1223.1 417.5L1224 418.4L1224.8 415.5L1225.7 418L1226.6 418.7L1227.4 419L1228.3 416.8L1229.2 418.7L1230 418L1230.9 418.4L1231.8 417.4L1232.6 416.4L1233.5 417.5L1234.4 418.3L1235.2 418.5L1236.1 417.7L1237 417.7L1237.8 415.5L1238.7 416.4L1239.6 413.2L1240.4 412.3L1241.3 414.6L1242.2 414.4L1243 415.6L1243.9 420.2L1244.8 419.6L1245.6 419.5L1246.5 419.5L1247.4 419.6L1248.2 419.6L1249.1 422.2L1249.9 422.9L1250.8 422.6L1251.7 425.2L1252.5 429.1L1253.4 429.6L1254.3 432.7L1255.1 434.1L1256 439L1256.9 435.3L1257.7 432.9L1258.6 414.7L1259.5 369L1260.3 356.1L1261.2 393.9L1262.1 427.4L1262.9 394.3L1263.8 369.4L1264.7 388.7L1265.5 437.5L1266.4 458.7L1267.3 458.8L1268.1 453.2L1269 442.3L1269.9 437.2L1270.7 433.2L1271.6 431.6L1272.5 431.9L1273.3 433.3L1274.2 433.1L1275 431.8L1275.9 430.8L1276.8 432.7L1277.6 431.3L1278.5 431.8L1279.4 432.1L1280.2 433.6L1281.1 433L1282 434.2L1282.8 434L1283.7 433.1L1284.6 433.1L1285.4 431.7L1286.3 434.2L1287.2 431.2L1288 431.3L1288.9 429.8L1289.8 431.1L1290.6 425.9L1291.5 425.6L1292.4 423L1293.2 418.7L1294.1 411.4L1295 403.7L1295.8 398.6L1296.7 393.7L1297.6 382.1L1298.4 377.7L1299.3 370.8L1300.2 364.8L1301 358.6L1301.9 350L1302.7 345.8L1303.6 341.1L1304.5 340.2L1305.3 335.5L1306.2 335.8L1307.1 338.4L1307.9 340.2L1308.8 344.4L1309.7 344L1310.5 348L1311.4 349L1312.3 352.2L1313.1 354L1314 354L1314.9 356.8L1315.7 360.6L1316.6 360.8L1317.5 362.6L1318.3 362.2L1319.2 366L1320.1 366.5L1320.9 367.6L1321.8 371.5L1322.7 371L1323.5 373.7L1324.4 377.4L1325.3 379.1L1326.1 379.2L1327 379.4L1327.9 380.2L1328.7 378.5L1329.6 381.4L1330.4 380.9L1331.3 382.6L1332.2 381.9L1333 385.4L1333.9 384.9L1334.8 385.7L1335.6 386.5L1336.5 385.1L1337.4 385.7L1338.2 384.2L1339.1 384.2L1340 382.2L1340.8 381.7L1341.7 383.8L1342.6 382.3L1343.4 382.7L1344.3 386.1L1345.2 385.1L1346 385.6L1346.9 382.9L1347.8 386.1L1348.6 387.7L1349.5 385.7L1350.4 389.5L1351.2 388.4L1352.1 389L1353 388.4L1353.8 390.8L1354.7 390.8L1355.6 391.4L1356.4 391.8L1357.3 390.8L1358.1 392.6L1359 392.8L1359.9 393.2L1360.7 394.5L1361.6 396.1L1362.5 393.6L1363.3 395.3L1364.2 392.4L1365.1 397.4L1365.9 400.2L1366.8 399.3L1367.7 402L1368.5 399.9L1369.4 400.6L1370.3 402.6L1371.1 399.8L1372 401.7L1372.9 401.5L1373.7 399.9L1374.6 402.8L1375.5 401.3L1376.3 402.1L1377.2 401.7L1378.1 400.9L1378.9 400.7L1379.8 402.2L1380.7 404.9L1381.5 402.8L1382.4 402.6L1383.2 406.1L1384.1 404.5L1385 406.1L1385.8 406.8L1386.7 406.6L1387.6 405.4L1388.4 406.6L1389.3 407L1390.2 409L1391 410.2L1391.9 409.4L1392.8 408.2L1393.6 410.2L1394.5 412.3L1395.4 413.7L1396.2 413.3L1397.1 411.5L1398 412.5L1398.8 415L1399.7 414.6L1400.6 417.2L1401.4 413.4L1402.3 417.3L1403.2 416.4L1404 419.5L1404.9 417.5L1405.8 419.9L1406.6 418.1L1407.5 418.7L1408.4 421.6L1409.2 420.8L1410.1 418.9L1410.9 419.3L1411.8 421.8L1412.7 418.7L1413.5 421.8L1414.4 423.2L1415.3 421L1416.1 421L1417 422.8L1417.9 421.4L1418.7 422.5L1419.6 420.2L1420.5 420.8L1421.3 422.8L1422.2 422.1L1423.1 420.3L1423.9 418.8L1424.8 420.8L1425.7 423.2L1426.5 421L1427.4 423.5L1428.3 421.5L1429.1 421.9L1430 422.1L1430.9 421.8L1431.7 422.7L1432.6 420.8L1433.5 423.5L1434.3 420.1L1435.2 422.1L1436.1 423.7L1436.9 420.4L1437.8 422.1L1438.6 422.9L1439.5 423.8L1440.4 423.3L1441.2 421.2L1442.1 423.8L1443 424L1443.8 425.1L1444.7 422.2L1445.6 424.2L1446.4 424L1447.3 424.4L1448.2 423.5L1449 423.2L1449.9 421.5L1450.8 420.9L1451.6 424.1L1452.5 425L1453.4 426.8L1454.2 423.3L1455.1 421.6L1456 425.2L1456.8 423.5L1457.7 424L1458.6 424L1459.4 423.1L1460.3 423L1461.2 426.4L1462 422.5L1462.9 426.3L1463.8 423.6L1464.6 425.5L1465.5 426.8L1466.3 424.4L1467.2 424.3L1468.1 425.1L1468.9 426.4L1469.8 426.4L1470.7 426.9L1471.5 430.1L1472.4 426.7L1473.3 429.9L1474.1 429L1475 428.2L1475.9 429.7L1476.7 431.2L1477.6 431.3L1478.5 431.8L1479.3 429.9L1480.2 431.6L1481.1 430.6L1481.9 430.4L1482.8 430.7L1483.7 429.2L1484.5 430.4L1485.4 429.2L1486.3 430.5L1487.1 427.2L1488 426.9L1488.9 428.2L1489.7 427.7L1490.6 426.9L1491.4 428.1L1492.3 425.3L1493.2 425.5L1494 422.8L1494.9 420.6L1495.8 420.8L1496.6 419.7L1497.5 418.1L1498.4 419.5L1499.2 420L1500.1 417.5L1501 414L1501.8 416.8L1502.7 417.3L1503.6 417.8L1504.4 417.5L1505.3 417.7L1506.2 419.4L1507 419.6L1507.9 419.2L1508.8 421.6L1509.6 422.5L1510.5 422L1511.4 420.8L1512.2 421.6L1513.1 422.2L1514 422.8L1514.8 424.4L1515.7 423.5L1516.6 424L1517.4 425.8L1518.3 425.4L1519.1 424.9L1520 425.8L1520.9 427.3L1521.7 426.6L1522.6 430.6L1523.5 428.4L1524.3 430.4L1525.2 429.6L1526.1 432L1526.9 432.2L1527.8 431.1L1528.7 431.7L1529.5 432.6L1530.4 433.6L1531.3 433.1L1532.1 434.8L1533 435.3L1533.9 432.6L1534.7 435L1535.6 432.8L1536.5 432.6L1537.3 432.5L1538.2 431.6L1539.1 430.9L1539.9 433.3L1540.8 431L1541.7 430.1L1542.5 427.5L1543.4 427.7L1544.3 431L1545.1 429.7L1546 428.3L1546.8 430.4L1547.7 430.9L1548.6 429.3L1549.4 427.3L1550.3 431.3L1551.2 430.3L1552 431.6L1552.9 429.6L1553.8 428.2L1554.6 429.5L1555.5 429.4L1556.4 432.1L1557.2 429L1558.1 431.5L1559 428.1L1559.8 430.1L1560.7 431.4L1561.6 426.6L1562.4 429.2L1563.3 427.5L1564.2 428.8L1565 430.1L1565.9 428.9L1566.8 427.4L1567.6 429.6L1568.5 425.9L1569.4 426.4L1570.2 426.1L1571.1 426.3L1572 426.4L1572.8 424.8L1573.7 424L1574.5 424.3L1575.4 428.8L1576.3 427.2L1577.1 428L1578 425L1578.9 424L1579.7 426.5L1580.6 426.9L1581.5 426.2L1582.3 424.3L1583.2 424.4L1584.1 424.1L1584.9 426.1L1585.8 424.8L1586.7 423.7L1587.5 425.3L1588.4 423.8L1589.3 425.2L1590.1 426.3L1591 424.1L1591.9 422.7L1592.7 425.8L1593.6 425.7L1594.5 424.2L1595.3 424.1L1596.2 426.6L1597.1 421.9L1597.9 425.2L1598.8 426L1599.6 425.2L1600.5 425.8L1601.4 425.1L1602.2 425.4L1603.1 426.5L1604 423.8L1604.8 423.4L1605.7 421.6L1606.6 423.2L1607.4 422.4L1608.3 423.7L1609.2 422.1L1610 422.1L1610.9 421.7L1611.8 421.6L1612.6 421.5L1613.5 421.1L1614.4 419.9L1615.2 422.6L1616.1 421.7L1617 422.6L1617.8 421.8L1618.7 421.5L1619.6 420.5L1620.4 421.7L1621.3 420.7L1622.2 421L1623 421.8L1623.9 422.2L1624.8 422.3L1625.6 421.8L1626.5 422.6L1627.3 423L1628.2 423.3L1629.1 426.6L1629.9 425.9L1630.8 425.2L1631.7 427.2L1632.5 424.6L1633.4 427L1634.3 426.5L1635.1 427.7L1636 429.2L1636.9 430.1L1637.7 431.2L1638.6 428.6L1639.5 430.2L1640.3 428L1641.2 428.5L1642.1 428L1642.9 430.2L1643.8 432.2L1644.7 429.5L1645.5 431.7L1646.4 432.3L1647.3 431.4L1648.1 432.1L1649 430.4L1649.9 434L1650.7 431L1651.6 431.1L1652.5 432.1L1653.3 428.8L1654.2 430.2L1655 430.5L1655.9 430.2L1656.8 430.1L1657.6 430.1L1658.5 430.4L1659.4 431.4L1660.2 432.7L1661.1 432.2L1662 429L1662.8 432.3L1663.7 430.9L1664.6 431L1665.4 432.9L1666.3 432.5L1667.2 433.1L1668 431.2L1668.9 432.6L1669.8 434L1670.6 434.6L1671.5 433.1L1672.4 434.3L1673.2 432.2L1674.1 433.1L1675 434.6L1675.8 432.9L1676.7 434.3L1677.6 435.7L1678.4 432.3L1679.3 433.7L1680.2 432.1L1681 431.6L1681.9 432.7L1682.7 432.6L1683.6 432L1684.5 436L1685.3 434.8L1686.2 432.5L1687.1 433.5L1687.9 433.3L1688.8 433.5L1689.7 432L1690.5 433.2L1691.4 433L1692.3 432.4L1693.1 434.5L1694 435.1" stroke="#8f8fff" stroke-width="1.1"/>
<path d="M1044.8 438.9L1045.7 434.4L1046.5 435.2L1047.4 434.8L1048.3 436.2L1049.1 434.7L1050 433.7L1050.9 435.1L1051.7 432.9L1052.6 433.4L1053.5 432.8L1054.3 434.6L1055.2 432.8L1056.1 433.3L1056.9 432.2L1057.8 435.3L1058.6 434.4L1059.5 431.9L1060.4 431.4L1061.2 433.4L1062.1 432.4L1063 433.1L1063.8 433L1064.7 432.2L1065.6 433.4L1066.4 431.1L1067.3 429.9L1068.2 429.7L1069 432.6L1069.9 432.6L1070.8 431.5L1071.6 430.9L1072.5 435.8L1073.4 434.5L1074.2 434.9L1075.1 432.1L1076 433.5L1076.8 435.9L1077.7 436.6L1078.6 436.2L1079.4 438.1L1080.3 436.8L1081.2 435.8L1082 437.4L1082.9 436.7L1083.8 439.2L1084.6 435.1L1085.5 436L1086.3 437.1L1087.2 435.4L1088.1 433.1L1088.9 435L1089.8 435.3L1090.7 433.1L1091.5 431.4L1092.4 433.5L1093.3 433.7L1094.1 430.9L1095 433.2L1095.9 433.8L1096.7 435.6L1097.6 433.2L1098.5 435.4L1099.3 435.2L1100.2 438.1L1101.1 435.2L1101.9 433.7L1102.8 436.2L1103.7 436L1104.5 434.4L1105.4 432.6L1106.3 431.6L1107.1 433L1108 429.9L1108.9 429.3L1109.7 427.8L1110.6 429L1111.5 428.3L1112.3 427.1L1113.2 427.6L1114 427.1L1114.9 425.8L1115.8 424.7L1116.6 423.8L1117.5 424.3L1118.4 424.4L1119.2 423L1120.1 421.2L1121 421.9L1121.8 421.2L1122.7 422.4L1123.6 422.8L1124.4 422.7L1125.3 424.2L1126.2 427.2L1127 428.1L1127.9 427L1128.8 425.9L1129.6 427.1L1130.5 424.8L1131.4 425.5L1132.2 424.5L1133.1 426.7L1134 424.4L1134.8 422.3L1135.7 423.5L1136.6 423.9L1137.4 425.5L1138.3 424.2L1139.2 424.2L1140 424.7L1140.9 424.6L1141.7 425L1142.6 426.3L1143.5 425L1144.3 426.6L1145.2 425.5L1146.1 425.8L1146.9 426.5L1147.8 426.7L1148.7 425.6L1149.5 425.1L1150.4 427.3L1151.3 426.4L1152.1 428L1153 427.1L1153.9 427.4L1154.7 426.2L1155.6 427.9L1156.5 425.5L1157.3 429.2L1158.2 426.5L1159.1 425.7L1159.9 426.5L1160.8 426.6L1161.7 426.1L1162.5 426.3L1163.4 424.5L1164.3 422.2L1165.1 423.3L1166 420.6L1166.8 421.6L1167.7 420.1L1168.6 420.5L1169.4 420.3L1170.3 420.6L1171.2 422.6L1172 420.4L1172.9 423.1L1173.8 420L1174.6 421.2L1175.5 421.6L1176.4 421.3L1177.2 421.6L1178.1 422.5L1179 422.1L1179.8 420.4L1180.7 422.9L1181.6 423.5L1182.4 423.7L1183.3 420.5L1184.2 424L1185 422.9L1185.9 424.9L1186.8 424.9L1187.6 426.4L1188.5 425.8L1189.4 427.3L1190.2 424.9L1191.1 424.5L1192 425.9L1192.8 425.5L1193.7 424.8L1194.5 421.4L1195.4 423.1L1196.3 423.1L1197.1 424.2L1198 420.2L1198.9 419.4L1199.7 418.1L1200.6 420.2L1201.5 420.4L1202.3 419.9L1203.2 420.7L1204.1 419L1204.9 419.9L1205.8 419.4L1206.7 419.3L1207.5 417.7L1208.4 419.5L1209.3 420.6L1210.1 420.5L1211 420.4L1211.9 417.5L1212.7 418.3L1213.6 416.5L1214.5 416.9L1215.3 413.9L1216.2 417.3L1217.1 416.5L1217.9 417.2L1218.8 416.8L1219.7 416.6L1220.5 419L1221.4 415.3L1222.2 416.9L1223.1 415.5L1224 419L1224.8 417.6L1225.7 417.2L1226.6 418L1227.4 416.4L1228.3 418.1L1229.2 416.2L1230 417.8L1230.9 419.5L1231.8 418.8L1232.6 417.7L1233.5 418.3L1234.4 418L1235.2 417.5L1236.1 413.9L1237 414.1L1237.8 412L1238.7 416.2L1239.6 410.2L1240.4 410L1241.3 410.9L1242.2 413.2L1243 412.8L1243.9 414.1L1244.8 412.6L1245.6 415.7L1246.5 413.3L1247.4 417.1L1248.2 418.8L1249.1 419.5L1249.9 421.3L1250.8 424.3L1251.7 425L1252.5 428.6L1253.4 427.3L1254.3 427.7L1255.1 433.5L1256 437.2L1256.9 434.1L1257.7 429.5L1258.6 414.4L1259.5 366.2L1260.3 353.7L1261.2 391.5L1262.1 427.4L1262.9 392.9L1263.8 367.9L1264.7 390L1265.5 438.3L1266.4 458.4L1267.3 458.8L1268.1 454.3L1269 443.4L1269.9 434.2L1270.7 435.2L1271.6 434.7L1272.5 433.8L1273.3 435.3L1274.2 434.3L1275 436L1275.9 435.9L1276.8 435.3L1277.6 437.9L1278.5 434.6L1279.4 436.3L1280.2 436.4L1281.1 436L1282 434.8L1282.8 435.6L1283.7 434.3L1284.6 430.1L1285.4 433.8L1286.3 432.7L1287.2 432.2L1288 427.4L1288.9 430.2L1289.8 427.9L1290.6 431.2L1291.5 425.5L1292.4 428.3L1293.2 425.5L1294.1 421.8L1295 420.8L1295.8 418.9L1296.7 418L1297.6 413.4L1298.4 410.2L1299.3 408.5L1300.2 406.6L1301 403.3L1301.9 398.3L1302.7 396.6L1303.6 395.3L1304.5 391.8L1305.3 392.3L1306.2 391.4L1307.1 394.4L1307.9 394.9L1308.8 394.4L1309.7 394.5L1310.5 396.2L1311.4 397.2L1312.3 399.9L1313.1 399.7L1314 398.9L1314.9 401.8L1315.7 402.6L1316.6 402.7L1317.5 404.2L1318.3 403.6L1319.2 404.4L1320.1 404.6L1320.9 404.7L1321.8 405.5L1322.7 406.4L1323.5 405.9L1324.4 407.4L1325.3 406.5L1326.1 407.5L1327 406L1327.9 408.7L1328.7 409.1L1329.6 408.7L1330.4 408.8L1331.3 410.1L1332.2 409.5L1333 409L1333.9 410L1334.8 409.6L1335.6 410.2L1336.5 412.3L1337.4 413L1338.2 411.2L1339.1 411.4L1340 410.4L1340.8 409.7L1341.7 409.5L1342.6 412L1343.4 411.7L1344.3 409L1345.2 410.6L1346 412.5L1346.9 412.2L1347.8 411.6L1348.6 412.1L1349.5 412.8L1350.4 409.9L1351.2 410.3L1352.1 409.6L1353 409.7L1353.8 407.9L1354.7 409.9L1355.6 412.2L1356.4 409.8L1357.3 409.3L1358.1 409.5L1359 413.7L1359.9 411.2L1360.7 411.1L1361.6 411.5L1362.5 409L1363.3 412.3L1364.2 411.6L1365.1 413.9L1365.9 412.9L1366.8 411.6L1367.7 414.7L1368.5 413.9L1369.4 415.7L1370.3 413.7L1371.1 414.5L1372 413.5L1372.9 414L1373.7 416.1L1374.6 413.8L1375.5 415.8L1376.3 415.1L1377.2 416.1L1378.1 416.4L1378.9 415.8L1379.8 411.9L1380.7 414.9L1381.5 415.1L1382.4 414.2L1383.2 415.2L1384.1 415.8L1385 415.8L1385.8 413.6L1386.7 415.6L1387.6 414.9L1388.4 417.2L1389.3 417.5L1390.2 415.2L1391 417.5L1391.9 416.4L1392.8 415.5L1393.6 416.6L1394.5 416.7L1395.4 416.6L1396.2 415.3L1397.1 415.5L1398 417.9L1398.8 417.6L1399.7 416.8L1400.6 419.1L1401.4 418.2L1402.3 418.6L1403.2 420.3L1404 422.3L1404.9 423.5L1405.8 422.4L1406.6 422.6L1407.5 420.7L1408.4 421.3L1409.2 420.3L1410.1 421.6L1410.9 422.9L1411.8 422L1412.7 419.5L1413.5 420.6L1414.4 423.6L1415.3 420.7L1416.1 421L1417 420.7L1417.9 419.5L1418.7 422.2L1419.6 422.8L1420.5 420.2L1421.3 420.7L1422.2 421.4L1423.1 422.1L1423.9 422.1L1424.8 422.2L1425.7 424.8L1426.5 422.6L1427.4 422.7L1428.3 422.3L1429.1 420L1430 420L1430.9 421.9L1431.7 420.5L1432.6 421.2L1433.5 421.4L1434.3 419.7L1435.2 420.8L1436.1 419.7L1436.9 422.1L1437.8 420L1438.6 421.3L1439.5 422.7L1440.4 421.6L1441.2 422.4L1442.1 423.7L1443 422.5L1443.8 423.8L1444.7 424.6L1445.6 424.3L1446.4 423.7L1447.3 423.8L1448.2 422.6L1449 424.5L1449.9 421.9L1450.8 424.5L1451.6 423L1452.5 419.6L1453.4 419.8L1454.2 422.7L1455.1 421.8L1456 423.4L1456.8 421.1L1457.7 422L1458.6 422.8L1459.4 423.3L1460.3 423.3L1461.2 426.2L1462 424L1462.9 424.2L1463.8 425.3L1464.6 424.2L1465.5 427.1L1466.3 424.1L1467.2 424.6L1468.1 423.7L1468.9 425.3L1469.8 426.8L1470.7 425.9L1471.5 426.7L1472.4 424.2L1473.3 424L1474.1 427L1475 425.8L1475.9 428.6L1476.7 427.4L1477.6 427L1478.5 427.3L1479.3 430.4L1480.2 426.8L1481.1 426.8L1481.9 430.2L1482.8 426.5L1483.7 428L1484.5 425.4L1485.4 427.7L1486.3 427.3L1487.1 426.6L1488 427.7L1488.9 426.5L1489.7 425.5L1490.6 425.1L1491.4 427.2L1492.3 427.1L1493.2 424.1L1494 423.2L1494.9 422.5L1495.8 422.2L1496.6 421L1497.5 420L1498.4 420.1L1499.2 418.4L1500.1 418.3L1501 419.9L1501.8 419L1502.7 421.6L1503.6 422L1504.4 421.7L1505.3 421.9L1506.2 422.7L1507 423.9L1507.9 420.6L1508.8 425L1509.6 424.6L1510.5 423.4L1511.4 425.3L1512.2 426.3L1513.1 425.8L1514 427.4L1514.8 429.4L1515.7 426.3L1516.6 429.2L1517.4 430.8L1518.3 427.9L1519.1 431.5L1520 431.8L1520.9 432.2L1521.7 429.6L1522.6 433.1L1523.5 430.6L1524.3 429.6L1525.2 431.8L1526.1 433L1526.9 432.8L1527.8 432.1L1528.7 433.8L1529.5 432.4L1530.4 433.7L1531.3 432.5L1532.1 433.4L1533 431.5L1533.9 429.5L1534.7 433.3L1535.6 431.8L1536.5 430.4L1537.3 431.3L1538.2 429.5L1539.1 427.8L1539.9 431.1L1540.8 429.2L1541.7 427.8L1542.5 428.5L1543.4 429.1L1544.3 427.1L1545.1 428.3L1546 427.9L1546.8 425.9L1547.7 428.8L1548.6 428.5L1549.4 430.3L1550.3 428.1L1551.2 425.3L1552 428.8L1552.9 428.1L1553.8 429.3L1554.6 429.1L1555.5 428.4L1556.4 428.6L1557.2 430.6L1558.1 428.8L1559 428.3L1559.8 428.4L1560.7 429.4L1561.6 428.8L1562.4 429.6L1563.3 430.3L1564.2 427.6L1565 427.4L1565.9 427.2L1566.8 427.8L1567.6 428.6L1568.5 428.6L1569.4 427.3L1570.2 429.6L1571.1 426.3L1572 429.6L1572.8 428.8L1573.7 428.5L1574.5 429.1L1575.4 429.2L1576.3 426.4L1577.1 430.9L1578 427.4L1578.9 429.4L1579.7 428.7L1580.6 426.4L1581.5 426.4L1582.3 427.5L1583.2 428.2L1584.1 425.6L1584.9 426.4L1585.8 426.7L1586.7 427.2L1587.5 426.1L1588.4 426.5L1589.3 425.8L1590.1 427.4L1591 423.4L1591.9 427.8L1592.7 427.2L1593.6 426.9L1594.5 423.7L1595.3 423.9L1596.2 424.1L1597.1 427.1L1597.9 424.4L1598.8 427L1599.6 425.6L1600.5 422.6L1601.4 425.5L1602.2 424.9L1603.1 423.9L1604 423.2L1604.8 426.2L1605.7 420.8L1606.6 420.3L1607.4 422.7L1608.3 421.7L1609.2 422.8L1610 420.3L1610.9 420.9L1611.8 419.9L1612.6 419.6L1613.5 420.7L1614.4 421.4L1615.2 420.9L1616.1 420L1617 421.5L1617.8 421.7L1618.7 422.7L1619.6 420.7L1620.4 422.9L1621.3 423.3L1622.2 421.9L1623 423.2L1623.9 425.1L1624.8 428.5L1625.6 423.5L1626.5 425.4L1627.3 427.3L1628.2 425.2L1629.1 425.9L1629.9 426.7L1630.8 427.5L1631.7 427.5L1632.5 425.6L1633.4 426.4L1634.3 428.7L1635.1 429.6L1636 427.1L1636.9 428.3L1637.7 430.8L1638.6 430.7L1639.5 430.5L1640.3 431.3L1641.2 429.7L1642.1 431.4L1642.9 432.2L1643.8 433.1L1644.7 430.8L1645.5 430.3L1646.4 434.3L1647.3 432.2L1648.1 429.7L1649 430.8L1649.9 432.2L1650.7 429.7L1651.6 430.4L1652.5 431.4L1653.3 430.2L1654.2 432.1L1655 429.9L1655.9 431.6L1656.8 431L1657.6 431.1L1658.5 429.7L1659.4 433.2L1660.2 433.9L1661.1 434.4L1662 432.3L1662.8 433.7L1663.7 433L1664.6 430.5L1665.4 433.7L1666.3 432.8L1667.2 434.6L1668 432.7L1668.9 433.6L1669.8 432.8L1670.6 433.5L1671.5 434L1672.4 435.7L1673.2 431.3L1674.1 431.3L1675 430.5L1675.8 431.7L1676.7 433.1L1677.6 432L1678.4 434L1679.3 433.4L1680.2 434.1L1681 434.8L1681.9 435.1L1682.7 434.3L1683.6 432.7L1684.5 433.8L1685.3 434.5L1686.2 434.9L1687.1 437.8L1687.9 433.5L1688.8 433.8L1689.7 434.2L1690.5 435.7L1691.4 436L1692.3 433.5L1693.1 432.6L1694 436.4" stroke="#8f8fff" stroke-width="1.1"/>
<path d="M1044.8 435.5L1045.7 434.1L1046.5 435.2L1047.4 434.1L1048.3 433L1049.1 433.7L1050 432.9L1050.9 433.9L1051.7 431.1L1052.6 428.6L1053.5 432.6L1054.3 429.6L1055.2 432.5L1056.1 432.1L1056.9 429L1057.8 431.7L1058.6 430.4L1059.5 430.7L1060.4 430.6L1061.2 430.2L1062.1 429.4L1063 431.6L1063.8 433.6L1064.7 432.4L1065.6 432.3L1066.4 430.4L1067.3 428.5L1068.2 429.4L1069 430.5L1069.9 431.9L1070.8 433.4L1071.6 433.5L1072.5 433.5L1073.4 436.1L1074.2 435.8L1075.1 434.9L1076 434.7L1076.8 437.2L1077.7 434.7L1078.6 436.9L1079.4 436.8L1080.3 434.5L1081.2 436.5L1082 436.4L1082.9 434.3L1083.8 434.8L1084.6 435.2L1085.5 434.5L1086.3 436.3L1087.2 433.4L1088.1 434L1088.9 433.7L1089.8 434.5L1090.7 435.5L1091.5 435L1092.4 436.2L1093.3 434.8L1094.1 434.3L1095 433.9L1095.9 436.4L1096.7 434.4L1097.6 436.4L1098.5 434.1L1099.3 437L1100.2 435.1L1101.1 436.3L1101.9 435.8L1102.8 434.3L1103.7 433.8L1104.5 433.5L1105.4 433.8L1106.3 432.1L1107.1 434.5L1108 431.5L1108.9 432.2L1109.7 433.6L1110.6 431.2L1111.5 430.4L1112.3 431.4L1113.2 430.6L1114 429.8L1114.9 427.4L1115.8 429.1L1116.6 426L1117.5 422.8L1118.4 423.7L1119.2 423.1L1120.1 422.4L1121 418.7L1121.8 419.6L1122.7 418L1123.6 422.4L1124.4 423.3L1125.3 419.1L1126.2 422.7L1127 422.8L1127.9 423.1L1128.8 424.5L1129.6 424.6L1130.5 423.8L1131.4 423.7L1132.2 424.3L1133.1 423.6L1134 423.5L1134.8 420.4L1135.7 422.2L1136.6 422.5L1137.4 423.7L1138.3 423.5L1139.2 426.8L1140 423L1140.9 422.3L1141.7 424.4L1142.6 424.2L1143.5 423.2L1144.3 427.5L1145.2 426.8L1146.1 425.2L1146.9 424.6L1147.8 427L1148.7 424.9L1149.5 424.5L1150.4 425.4L1151.3 425.3L1152.1 428L1153 426L1153.9 427.3L1154.7 427.1L1155.6 427.7L1156.5 427.5L1157.3 426.9L1158.2 427.1L1159.1 426.8L1159.9 427.3L1160.8 425.2L1161.7 426.4L1162.5 427.1L1163.4 423.1L1164.3 426.4L1165.1 422.1L1166 422.2L1166.8 419.3L1167.7 418.7L1168.6 419.7L1169.4 421.3L1170.3 422.1L1171.2 420.6L1172 420.4L1172.9 421L1173.8 420.3L1174.6 418.7L1175.5 420.3L1176.4 417.7L1177.2 417.9L1178.1 417.8L1179 416.4L1179.8 416.2L1180.7 419.7L1181.6 418L1182.4 420.1L1183.3 420L1184.2 422.9L1185 421.9L1185.9 420.9L1186.8 425L1187.6 424.5L1188.5 423.2L1189.4 424L1190.2 424.6L1191.1 421.4L1192 425.5L1192.8 423.8L1193.7 421.4L1194.5 423.7L1195.4 421.8L1196.3 421.9L1197.1 422.4L1198 423.4L1198.9 420.7L1199.7 419.9L1200.6 419.2L1201.5 420.9L1202.3 421L1203.2 419.6L1204.1 418L1204.9 418.1L1205.8 419.4L1206.7 416.2L1207.5 420L1208.4 416.5L1209.3 416.1L1210.1 416.5L1211 416.8L1211.9 416.3L1212.7 416.1L1213.6 414.7L1214.5 415L1215.3 415.6L1216.2 415.8L1217.1 417.3L1217.9 417L1218.8 416.7L1219.7 414.8L1220.5 414.5L1221.4 416L1222.2 414.1L1223.1 414.6L1224 418.6L1224.8 417.1L1225.7 414.8L1226.6 419.2L1227.4 415.7L1228.3 415.4L1229.2 417.4L1230 415.7L1230.9 417.6L1231.8 416.2L1232.6 417.9L1233.5 416.6L1234.4 418.3L1235.2 416.8L1236.1 416.2L1237 416.7L1237.8 412.6L1238.7 411.3L1239.6 413L1240.4 410.2L1241.3 413.4L1242.2 412.1L1243 414L1243.9 414.7L1244.8 415.9L1245.6 417.9L1246.5 415.6L1247.4 416.2L1248.2 417L1249.1 419.9L1249.9 421.4L1250.8 422.5L1251.7 424.7L1252.5 427.8L1253.4 430.5L1254.3 431.9L1255.1 434.5L1256 437.7L1256.9 435L1257.7 433.4L1258.6 411.7L1259.5 366.1L1260.3 351.5L1261.2 392.4L1262.1 426.7L1262.9 391L1263.8 366L1264.7 388.9L1265.5 436.5L1266.4 458L1267.3 458.8L1268.1 452.2L1269 439.8L1269.9 432.6L1270.7 429.6L1271.6 428.8L1272.5 430.6L1273.3 433.1L1274.2 432.9L1275 433.3L1275.9 431.8L1276.8 430.1L1277.6 430.9L1278.5 432.4L1279.4 432.3L1280.2 432L1281.1 432.8L1282 432.2L1282.8 433.5L1283.7 433.7L1284.6 433.8L1285.4 431.9L1286.3 433.3L1287.2 431L1288 431.5L1288.9 432.2L1289.8 430.1L1290.6 427.9L1291.5 430.7L1292.4 429.4L1293.2 427.5L1294.1 425.6L1295 423.6L1295.8 424.4L1296.7 421.8L1297.6 419.9L1298.4 417.2L1299.3 416.4L1300.2 414.5L1301 411.8L1301.9 410.4L1302.7 411L1303.6 411.4L1304.5 407.1L1305.3 408.1L1306.2 407.8L1307.1 407L1307.9 408.3L1308.8 408.6L1309.7 409.5L1310.5 407.8L1311.4 410.3L1312.3 411.4L1313.1 410.4L1314 412.5L1314.9 412.2L1315.7 411.1L1316.6 411.5L1317.5 409.1L1318.3 412.4L1319.2 409.3L1320.1 411.2L1320.9 413.1L1321.8 415.7L1322.7 414.1L1323.5 413.6L1324.4 411.4L1325.3 412L1326.1 412.3L1327 413.5L1327.9 414.3L1328.7 413L1329.6 413L1330.4 412.3L1331.3 415.7L1332.2 411.4L1333 412.9L1333.9 413.1L1334.8 415.1L1335.6 414.9L1336.5 413.7L1337.4 413.3L1338.2 414.7L1339.1 415.7L1340 415.4L1340.8 414.3L1341.7 415.9L1342.6 415.3L1343.4 416.6L1344.3 413.2L1345.2 415.5L1346 416.1L1346.9 413.2L1347.8 414L1348.6 415.7L1349.5 415.1L1350.4 416.6L1351.2 417.3L1352.1 415.9L1353 412.6L1353.8 416.2L1354.7 416.2L1355.6 416.4L1356.4 416.1L1357.3 414.8L1358.1 418.8L1359 416.8L1359.9 416L1360.7 416.2L1361.6 414.8L1362.5 415.1L1363.3 415.2L1364.2 415.8L1365.1 416.4L1365.9 417.4L1366.8 417.4L1367.7 416L1368.5 415.8L1369.4 415.6L1370.3 417.8L1371.1 418.5L1372 418.5L1372.9 416.2L1373.7 418.4L1374.6 418.8L1375.5 418L1376.3 417.5L1377.2 417.5L1378.1 418.3L1378.9 418.8L1379.8 419.8L1380.7 419.2L1381.5 417.6L1382.4 418.2L1383.2 421.3L1384.1 418.5L1385 418.5L1385.8 419.3L1386.7 418.6L1387.6 418.4L1388.4 420L1389.3 420L1390.2 417.9L1391 419.8L1391.9 418L1392.8 417.4L1393.6 417.8L1394.5 417.4L1395.4 417.5L1396.2 418.5L1397.1 418.6L1398 420.2L1398.8 418.7L1399.7 417.1L1400.6 418.6L1401.4 417.5L1402.3 419.3L1403.2 419L1404 420.9L1404.9 419.8L1405.8 418.7L1406.6 419.3L1407.5 420L1408.4 421.2L1409.2 420.1L1410.1 418L1410.9 419.3L1411.8 421L1412.7 419.3L1413.5 421.2L1414.4 421.4L1415.3 419.5L1416.1 420.2L1417 421.3L1417.9 423.6L1418.7 422.4L1419.6 421.9L1420.5 421.2L1421.3 421.6L1422.2 424L1423.1 421.8L1423.9 423.6L1424.8 424.4L1425.7 424.2L1426.5 423L1427.4 423.3L1428.3 421.1L1429.1 422.1L1430 425.5L1430.9 422.2L1431.7 422.8L1432.6 420.4L1433.5 420.6L1434.3 419L1435.2 419.8L1436.1 421.2L1436.9 421.6L1437.8 422L1438.6 420.4L1439.5 422.6L1440.4 419.8L1441.2 420.9L1442.1 421.2L1443 420.4L1443.8 420L1444.7 421.2L1445.6 420L1446.4 423.3L1447.3 420L1448.2 424.6L1449 423.4L1449.9 424.3L1450.8 421.6L1451.6 425L1452.5 423.3L1453.4 422.4L1454.2 423.2L1455.1 423.6L1456 422.4L1456.8 420.6L1457.7 423.6L1458.6 423.5L1459.4 422L1460.3 423.8L1461.2 423L1462 424.1L1462.9 426.4L1463.8 424.5L1464.6 427.7L1465.5 424.2L1466.3 425.6L1467.2 424.1L1468.1 426.8L1468.9 425.2L1469.8 425.8L1470.7 427.9L1471.5 427.2L1472.4 428.9L1473.3 428.5L1474.1 430.5L1475 428.4L1475.9 428.6L1476.7 426.8L1477.6 427.6L1478.5 428.4L1479.3 427.5L1480.2 428.4L1481.1 426.4L1481.9 429.1L1482.8 427.6L1483.7 425.8L1484.5 426.6L1485.4 426.3L1486.3 424.5L1487.1 426.4L1488 426.3L1488.9 425.6L1489.7 424.3L1490.6 423.5L1491.4 424.8L1492.3 423.9L1493.2 423.2L1494 422.9L1494.9 423.8L1495.8 421L1496.6 420.3L1497.5 419.1L1498.4 417.9L1499.2 419.1L1500.1 419.8L1501 420.1L1501.8 421.8L1502.7 420.6L1503.6 422.7L1504.4 422L1505.3 422.1L1506.2 421.5L1507 423.2L1507.9 420.6L1508.8 423.3L1509.6 423.5L1510.5 423.6L1511.4 425.2L1512.2 423.4L1513.1 424.2L1514 422.7L1514.8 423.2L1515.7 424.3L1516.6 426.8L1517.4 425.3L1518.3 426.2L1519.1 429L1520 428.3L1520.9 429.1L1521.7 428.2L1522.6 428.7L1523.5 430.3L1524.3 430.8L1525.2 431.5L1526.1 428.4L1526.9 432.8L1527.8 433.6L1528.7 432.9L1529.5 433L1530.4 433.6L1531.3 432.7L1532.1 434.3L1533 434.8L1533.9 433.6L1534.7 433.4L1535.6 431.3L1536.5 430.9L1537.3 431.6L1538.2 431.1L1539.1 430.5L1539.9 427.9L1540.8 429.4L1541.7 430.1L1542.5 433.9L1543.4 433.7L1544.3 430.4L1545.1 429.9L1546 430.1L1546.8 428.5L1547.7 428.2L1548.6 429.5L1549.4 430.2L1550.3 431L1551.2 428.4L1552 428.2L1552.9 428.6L1553.8 427.8L1554.6 428L1555.5 429.8L1556.4 431.3L1557.2 428.9L1558.1 430.5L1559 431.3L1559.8 431.7L1560.7 430L1561.6 429.6L1562.4 430.1L1563.3 431L1564.2 431L1565 430.4L1565.9 428L1566.8 428.3L1567.6 427.1L1568.5 429.8L1569.4 427.2L1570.2 428.3L1571.1 427.1L1572 426L1572.8 425.6L1573.7 426.5L1574.5 427.3L1575.4 427.5L1576.3 428L1577.1 427.5L1578 426.9L1578.9 426.1L1579.7 426.2L1580.6 425L1581.5 425.8L1582.3 425.9L1583.2 426.3L1584.1 425.7L1584.9 427.4L1585.8 423.5L1586.7 427.4L1587.5 424.2L1588.4 426.9L1589.3 425.8L1590.1 426.6L1591 425.6L1591.9 427L1592.7 427.1L1593.6 426.1L1594.5 425.8L1595.3 425.6L1596.2 425.3L1597.1 424.3L1597.9 426.2L1598.8 425.5L1599.6 423.7L1600.5 423.3L1601.4 424.6L1602.2 424.2L1603.1 422.4L1604 423L1604.8 421.1L1605.7 421.3L1606.6 421.9L1607.4 419L1608.3 421.1L1609.2 420L1610 419.9L1610.9 421.6L1611.8 420.2L1612.6 420.3L1613.5 420L1614.4 420.9L1615.2 418.7L1616.1 419.9L1617 421.3L1617.8 419L1618.7 421L1619.6 420.8L1620.4 419.6L1621.3 419.8L1622.2 420.6L1623 421.9L1623.9 423.4L1624.8 421L1625.6 422.3L1626.5 423.7L1627.3 426.3L1628.2 424.8L1629.1 423.4L1629.9 426.3L1630.8 426.5L1631.7 429.3L1632.5 428.5L1633.4 429.2L1634.3 428.5L1635.1 428.5L1636 428.9L1636.9 430.1L1637.7 427.9L1638.6 428.2L1639.5 430.7L1640.3 430.4L1641.2 430.4L1642.1 431.5L1642.9 430.6L1643.8 429.8L1644.7 431.7L1645.5 429.1L1646.4 433.1L1647.3 427.7L1648.1 432.7L1649 431.1L1649.9 430.5L1650.7 431.2L1651.6 432.3L1652.5 432.1L1653.3 431.4L1654.2 428.6L1655 430.8L1655.9 431.2L1656.8 429L1657.6 430.5L1658.5 431.5L1659.4 431.9L1660.2 431.9L1661.1 430.5L1662 430.2L1662.8 432L1663.7 431.7L1664.6 431.4L1665.4 431.3L1666.3 433.1L1667.2 434.4L1668 433L1668.9 433.8L1669.8 432.7L1670.6 432.8L1671.5 432.6L1672.4 431.1L1673.2 432.8L1674.1 431.7L1675 431.5L1675.8 431.5L1676.7 432.1L1677.6 432.9L1678.4 432.3L1679.3 432L1680.2 431.2L1681 430.7L1681.9 431.2L1682.7 430.6L1683.6 431.8L1684.5 432.6L1685.3 431.7L1686.2 433.2L1687.1 432.4L1687.9 433.9L1688.8 434.8L1689.7 432L1690.5 434.7L1691.4 433.3L1692.3 435L1693.1 432.2L1694 436" stroke="#8f8fff" stroke-width="1.1"/>
<path d="M1044.8 435.1L1045.7 435.8L1046.5 433.5L1047.4 435L1048.3 435.6L1049.1 438L1050 436.4L1050.9 433.9L1051.7 432.6L1052.6 434.9L1053.5 433L1054.3 434.8L1055.2 434L1056.1 434.4L1056.9 433.9L1057.8 434L1058.6 432.9L1059.5 434.7L1060.4 430.8L1061.2 431.9L1062.1 435.2L1063 434.6L1063.8 429.5L1064.7 433.5L1065.6 430.3L1066.4 431.7L1067.3 425.6L1068.2 432L1069 428.6L1069.9 430.9L1070.8 432.7L1071.6 433.4L1072.5 435L1073.4 437.3L1074.2 434.2L1075.1 432.8L1076 436.2L1076.8 435.5L1077.7 435.6L1078.6 439L1079.4 438.3L1080.3 439.6L1081.2 436.5L1082 438.7L1082.9 435.1L1083.8 435.7L1084.6 437.5L1085.5 434.9L1086.3 434.6L1087.2 434.9L1088.1 433.7L1088.9 433.6L1089.8 436.3L1090.7 432.3L1091.5 434.7L1092.4 435.1L1093.3 433.3L1094.1 435.3L1095 432.1L1095.9 432.9L1096.7 434.5L1097.6 432.7L1098.5 432.6L1099.3 435.3L1100.2 437.3L1101.1 437.1L1101.9 435.5L1102.8 433.2L1103.7 433L1104.5 433.4L1105.4 430.1L1106.3 432.9L1107.1 431.2L1108 433.4L1108.9 432.3L1109.7 431L1110.6 429L1111.5 432.8L1112.3 427.4L1113.2 430L1114 426.4L1114.9 427.3L1115.8 428.2L1116.6 426.9L1117.5 422.1L1118.4 424.3L1119.2 423.8L1120.1 424.2L1121 422.9L1121.8 418.8L1122.7 418.6L1123.6 419L1124.4 421.8L1125.3 424.1L1126.2 425.9L1127 423.5L1127.9 426L1128.8 426.9L1129.6 425.5L1130.5 424.9L1131.4 423L1132.2 424.2L1133.1 421.3L1134 421.5L1134.8 422L1135.7 425.6L1136.6 425.8L1137.4 423L1138.3 422.6L1139.2 421.5L1140 426.5L1140.9 423.5L1141.7 424L1142.6 423.7L1143.5 425L1144.3 425.8L1145.2 426L1146.1 425.7L1146.9 424.9L1147.8 428.1L1148.7 428L1149.5 428.7L1150.4 427.4L1151.3 431.1L1152.1 425.9L1153 427.8L1153.9 429.5L1154.7 428.3L1155.6 428.6L1156.5 428.8L1157.3 428L1158.2 424.2L1159.1 423.7L1159.9 430L1160.8 426.7L1161.7 426.4L1162.5 427.7L1163.4 425.8L1164.3 424.8L1165.1 423.8L1166 425L1166.8 424.1L1167.7 420.5L1168.6 420.7L1169.4 420.9L1170.3 421.2L1171.2 423.8L1172 421.1L1172.9 422.2L1173.8 420L1174.6 421.1L1175.5 419.6L1176.4 421.2L1177.2 417.7L1178.1 419.6L1179 419.7L1179.8 422L1180.7 419.4L1181.6 420.6L1182.4 420.1L1183.3 424L1184.2 422.5L1185 423.9L1185.9 424.6L1186.8 424.2L1187.6 425.9L1188.5 423.2L1189.4 426.1L1190.2 425.4L1191.1 424.8L1192 422.3L1192.8 424.2L1193.7 424.7L1194.5 421.9L1195.4 420.4L1196.3 422.7L1197.1 421.2L1198 421.8L1198.9 420.6L1199.7 420L1200.6 422.9L1201.5 417.9L1202.3 420.1L1203.2 418.1L1204.1 418L1204.9 420.6L1205.8 416.8L1206.7 419.4L1207.5 419.8L1208.4 417.5L1209.3 414.8L1210.1 415.7L1211 420.8L1211.9 418L1212.7 417.3L1213.6 417.9L1214.5 418.6L1215.3 418.2L1216.2 418.8L1217.1 414.9L1217.9 416.7L1218.8 418.5L1219.7 416.9L1220.5 415.3L1221.4 418L1222.2 416.1L1223.1 419.6L1224 418.5L1224.8 414.4L1225.7 418.1L1226.6 419.9L1227.4 416.1L1228.3 418.2L1229.2 416.4L1230 417.7L1230.9 419.7L1231.8 415.1L1232.6 417.6L1233.5 419.4L1234.4 415.1L1235.2 415.9L1236.1 412.5L1237 413.7L1237.8 414.3L1238.7 416.1L1239.6 415.2L1240.4 412.3L1241.3 414.8L1242.2 413.6L1243 413.1L1243.9 414.7L1244.8 413.9L1245.6 415.1L1246.5 416.5L1247.4 418.5L1248.2 419.6L1249.1 420.5L1249.9 421.7L1250.8 421.8L1251.7 425.4L1252.5 428.2L1253.4 430.3L1254.3 432.1L1255.1 434.6L1256 434.1L1256.9 434.7L1257.7 432.1L1258.6 414.5L1259.5 379.3L1260.3 369.3L1261.2 401.2L1262.1 427.1L1262.9 399L1263.8 376.6L1264.7 397.8L1265.5 434.7L1266.4 454.4L1267.3 453.9L1268.1 448.5L1269 438.1L1269.9 437.1L1270.7 431.8L1271.6 431L1272.5 432.5L1273.3 431.4L1274.2 433.3L1275 433.3L1275.9 432.6L1276.8 436.3L1277.6 434.2L1278.5 438.2L1279.4 435.9L1280.2 437.2L1281.1 436.4L1282 434.3L1282.8 433.3L1283.7 433.3L1284.6 432.3L1285.4 432.3L1286.3 433.3L1287.2 431.8L1288 432.3L1288.9 432.7L1289.8 429L1290.6 429.8L1291.5 430.6L1292.4 429.5L1293.2 425L1294.1 423.4L1295 421.5L1295.8 418.3L1296.7 416.6L1297.6 414.1L1298.4 412.4L1299.3 407.6L1300.2 403.8L1301 404.3L1301.9 401.6L1302.7 398L1303.6 396.6L1304.5 395.3L1305.3 395.8L1306.2 395.1L1307.1 396.5L1307.9 396L1308.8 398.5L1309.7 397L1310.5 400.1L1311.4 396.2L1312.3 401.7L1313.1 400.3L1314 399.3L1314.9 401.8L1315.7 401.5L1316.6 404.4L1317.5 402.4L1318.3 402.3L1319.2 403L1320.1 405.5L1320.9 403.6L1321.8 405.4L1322.7 406.1L1323.5 407.4L1324.4 405.9L1325.3 406.7L1326.1 408.4L1327 409L1327.9 408L1328.7 410.3L1329.6 407.3L1330.4 407.4L1331.3 407.5L1332.2 409.6L1333 405.4L1333.9 408.7L1334.8 407.4L1335.6 408.6L1336.5 408.3L1337.4 411L1338.2 407.8L1339.1 410.1L1340 411.5L1340.8 409.4L1341.7 407L1342.6 408.2L1343.4 408.8L1344.3 410.7L1345.2 407.7L1346 409L1346.9 410.5L1347.8 408.7L1348.6 410.4L1349.5 410.9L1350.4 409.7L1351.2 409.9L1352.1 411.9L1353 408.1L1353.8 411.5L1354.7 410.3L1355.6 411.7L1356.4 412.1L1357.3 411.8L1358.1 412.6L1359 411.9L1359.9 411.4L1360.7 413.8L1361.6 411.7L1362.5 411.8L1363.3 413.3L1364.2 412.4L1365.1 412.8L1365.9 412.6L1366.8 413.8L1367.7 414.9L1368.5 415.3L1369.4 414.8L1370.3 415L1371.1 414.2L1372 416.1L1372.9 415.8L1373.7 415.6L1374.6 412.9L1375.5 411.1L1376.3 416.2L1377.2 416.7L1378.1 416.9L1378.9 415.1L1379.8 415L1380.7 415.1L1381.5 415.9L1382.4 415.5L1383.2 415.2L1384.1 412.3L1385 416.2L1385.8 415.4L1386.7 417L1387.6 416.4L1388.4 416.3L1389.3 413.3L1390.2 417.7L1391 417L1391.9 418L1392.8 416.7L1393.6 417.5L1394.5 419.3L1395.4 418L1396.2 418.2L1397.1 418.7L1398 419.3L1398.8 418.2L1399.7 419.1L1400.6 419.5L1401.4 419.8L1402.3 421L1403.2 420.7L1404 420.8L1404.9 421.8L1405.8 420.3L1406.6 422.9L1407.5 420.4L1408.4 422.3L1409.2 422.4L1410.1 421.7L1410.9 422.1L1411.8 420.8L1412.7 423L1413.5 423.4L1414.4 422.1L1415.3 420L1416.1 423.7L1417 420.9L1417.9 419.7L1418.7 423.5L1419.6 421.4L1420.5 423.2L1421.3 424.1L1422.2 424L1423.1 424L1423.9 425.1L1424.8 424.1L1425.7 425L1426.5 421.5L1427.4 422.1L1428.3 423.9L1429.1 423.7L1430 422L1430.9 419.5L1431.7 420.8L1432.6 421.7L1433.5 420.1L1434.3 424.3L1435.2 424.6L1436.1 422.3L1436.9 424.1L1437.8 423.1L1438.6 423.7L1439.5 423.3L1440.4 423.2L1441.2 424.2L1442.1 424.3L1443 422.6L1443.8 423.8L1444.7 424L1445.6 424L1446.4 424.5L1447.3 425L1448.2 421.5L1449 425L1449.9 423L1450.8 423.2L1451.6 423.3L1452.5 422.5L1453.4 419.5L1454.2 420.5L1455.1 423.3L1456 424.9L1456.8 422.8L1457.7 423.6L1458.6 424.7L1459.4 422.9L1460.3 424.6L1461.2 425.2L1462 422.5L1462.9 423.8L1463.8 425.7L1464.6 423.6L1465.5 425.4L1466.3 426.5L1467.2 426.5L1468.1 426.5L1468.9 426.8L1469.8 428L1470.7 427.9L1471.5 429.4L1472.4 429.7L1473.3 427.6L1474.1 427.7L1475 429L1475.9 430.7L1476.7 429.8L1477.6 431.6L1478.5 431.5L1479.3 430.6L1480.2 428.8L1481.1 426.4L1481.9 428.1L1482.8 429.3L1483.7 429.9L1484.5 427.8L1485.4 427L1486.3 428.4L1487.1 426.2L1488 425.8L1488.9 427.1L1489.7 426.9L1490.6 427.5L1491.4 427.7L1492.3 425.5L1493.2 424.6L1494 424.8L1494.9 424L1495.8 421.4L1496.6 421.9L1497.5 417.8L1498.4 419.5L1499.2 418.1L1500.1 418.9L1501 419.1L1501.8 419.9L1502.7 421L1503.6 418.6L1504.4 419.8L1505.3 422.3L1506.2 421.7L1507 422L1507.9 423.6L1508.8 423.1L1509.6 424.7L1510.5 423.9L1511.4 423.4L1512.2 425.2L1513.1 424.1L1514 425.4L1514.8 428.6L1515.7 427.1L1516.6 428.2L1517.4 428.9L1518.3 430.8L1519.1 428.6L1520 431.3L1520.9 429.5L1521.7 430.3L1522.6 430L1523.5 432.6L1524.3 430.9L1525.2 433.9L1526.1 430.8L1526.9 432.7L1527.8 433.3L1528.7 433.3L1529.5 432.5L1530.4 434.8L1531.3 433.7L1532.1 434.5L1533 433.4L1533.9 433.9L1534.7 432.3L1535.6 431L1536.5 432.9L1537.3 431.6L1538.2 429.8L1539.1 430.6L1539.9 429.5L1540.8 432.4L1541.7 431.8L1542.5 430.7L1543.4 429.3L1544.3 431.3L1545.1 429.2L1546 431.3L1546.8 428.3L1547.7 431.5L1548.6 428.3L1549.4 430.9L1550.3 430.8L1551.2 431.2L1552 430.4L1552.9 427.4L1553.8 429.4L1554.6 430.2L1555.5 430.6L1556.4 428.9L1557.2 431.6L1558.1 429.2L1559 429.2L1559.8 430.1L1560.7 429.4L1561.6 429.5L1562.4 428.5L1563.3 429.1L1564.2 427.9L1565 429.3L1565.9 428.1L1566.8 428.4L1567.6 429.1L1568.5 429.2L1569.4 426.3L1570.2 430.6L1571.1 430.9L1572 426.6L1572.8 426.2L1573.7 426.4L1574.5 425.5L1575.4 426.9L1576.3 426.4L1577.1 427.4L1578 426.8L1578.9 425.3L1579.7 427.2L1580.6 429.1L1581.5 429.7L1582.3 426.7L1583.2 429.4L1584.1 428.5L1584.9 428.6L1585.8 424.5L1586.7 427.7L1587.5 427.7L1588.4 426L1589.3 426.6L1590.1 429.3L1591 427.2L1591.9 429.6L1592.7 426.2L1593.6 425.4L1594.5 426.3L1595.3 423.5L1596.2 428.7L1597.1 423.3L1597.9 425.3L1598.8 424.4L1599.6 425.1L1600.5 424.2L1601.4 423.6L1602.2 425.5L1603.1 424.4L1604 424.5L1604.8 424.2L1605.7 422L1606.6 422.4L1607.4 421.1L1608.3 421.7L1609.2 420.9L1610 418.1L1610.9 419.9L1611.8 422.8L1612.6 422.6L1613.5 421.3L1614.4 421L1615.2 423.2L1616.1 424.2L1617 422.9L1617.8 421L1618.7 422.4L1619.6 423.7L1620.4 423.4L1621.3 424.2L1622.2 422.5L1623 425.5L1623.9 424.2L1624.8 423.6L1625.6 425.2L1626.5 424.2L1627.3 424.3L1628.2 423.7L1629.1 426.5L1629.9 428.2L1630.8 429L1631.7 427.7L1632.5 430.3L1633.4 427.2L1634.3 430.4L1635.1 430.9L1636 430.9L1636.9 430L1637.7 431.4L1638.6 430.4L1639.5 431.6L1640.3 430.5L1641.2 429.5L1642.1 432.6L1642.9 431.6L1643.8 433.6L1644.7 431.8L1645.5 429.5L1646.4 430.5L1647.3 429.2L1648.1 431.4L1649 432.9L1649.9 430.2L1650.7 428.9L1651.6 431.6L1652.5 432.6L1653.3 433.4L1654.2 431.3L1655 429.9L1655.9 433.2L1656.8 432.3L1657.6 432.7L1658.5 430.8L1659.4 432.3L1660.2 430.2L1661.1 433.2L1662 432.4L1662.8 432.3L1663.7 432.7L1664.6 432.3L1665.4 432.5L1666.3 431.7L1667.2 433L1668 432.9L1668.9 433.6L1669.8 431.8L1670.6 432.2L1671.5 435.2L1672.4 432.1L1673.2 431.4L1674.1 434.7L1675 433.7L1675.8 432.3L1676.7 432.8L1677.6 433.8L1678.4 431.5L1679.3 433.8L1680.2 433.1L1681 431.8L1681.9 434.5L1682.7 433.1L1683.6 435.4L1684.5 434.9L1685.3 434.1L1686.2 435.1L1687.1 434.9L1687.9 435L1688.8 435.6L1689.7 434.2L1690.5 432.9L1691.4 435.6L1692.3 437.5L1693.1 435.8L1694 435.8" stroke="#0a820a" stroke-width="3.0"/>
<path d="M1044.8 438.1L1045.7 436.8L1046.5 434.2L1047.4 434.6L1048.3 434.9L1049.1 434.5L1050 435.7L1050.9 434.1L1051.7 434.8L1052.6 432.2L1053.5 433.5L1054.3 432.3L1055.2 432.6L1056.1 433.2L1056.9 433.6L1057.8 433.8L1058.6 432.1L1059.5 432.1L1060.4 434.4L1061.2 433.5L1062.1 432.5L1063 432.6L1063.8 431.2L1064.7 431.8L1065.6 429.1L1066.4 431.1L1067.3 428.5L1068.2 430.2L1069 431.7L1069.9 435.3L1070.8 432.2L1071.6 432.2L1072.5 432.3L1073.4 431.8L1074.2 433.5L1075.1 434.9L1076 436.3L1076.8 436L1077.7 435.3L1078.6 438.8L1079.4 438.6L1080.3 436.7L1081.2 434.3L1082 436.3L1082.9 435.2L1083.8 436.6L1084.6 437.2L1085.5 435.7L1086.3 433.5L1087.2 434.4L1088.1 432.9L1088.9 432.7L1089.8 430.3L1090.7 431L1091.5 435.8L1092.4 435L1093.3 432.2L1094.1 433.4L1095 432.7L1095.9 432.5L1096.7 432L1097.6 437.2L1098.5 435.4L1099.3 437.4L1100.2 432L1101.1 434.3L1101.9 434.7L1102.8 433.9L1103.7 432.4L1104.5 432.8L1105.4 434.8L1106.3 431.2L1107.1 429.8L1108 431.9L1108.9 430.4L1109.7 432L1110.6 427.7L1111.5 431.2L1112.3 429.4L1113.2 427.9L1114 426.9L1114.9 425.7L1115.8 427.5L1116.6 424.5L1117.5 425.4L1118.4 423.8L1119.2 422.4L1120.1 423L1121 425.2L1121.8 417.9L1122.7 420.1L1123.6 421.9L1124.4 419.8L1125.3 420.9L1126.2 423.7L1127 422.7L1127.9 424.3L1128.8 425.4L1129.6 425.1L1130.5 422.7L1131.4 424.2L1132.2 424.8L1133.1 422.8L1134 421.8L1134.8 422.6L1135.7 422L1136.6 420.9L1137.4 423.1L1138.3 421.7L1139.2 423.6L1140 423L1140.9 424.7L1141.7 424.9L1142.6 427.3L1143.5 425.3L1144.3 431.7L1145.2 427.6L1146.1 427.7L1146.9 428L1147.8 425.6L1148.7 429.4L1149.5 427.7L1150.4 427.3L1151.3 426.6L1152.1 427.1L1153 427.5L1153.9 427.4L1154.7 425.4L1155.6 429.9L1156.5 430.1L1157.3 427.3L1158.2 427L1159.1 425.7L1159.9 426.7L1160.8 424.9L1161.7 429.3L1162.5 426.6L1163.4 424.2L1164.3 424.7L1165.1 422.4L1166 423.1L1166.8 422.6L1167.7 420L1168.6 420L1169.4 421.9L1170.3 419.8L1171.2 422.7L1172 421.2L1172.9 425L1173.8 419.7L1174.6 418.1L1175.5 419L1176.4 420.5L1177.2 417.7L1178.1 418.9L1179 420.9L1179.8 421.8L1180.7 420.3L1181.6 422.7L1182.4 423.1L1183.3 421L1184.2 422.1L1185 421.9L1185.9 424.8L1186.8 423.9L1187.6 421.9L1188.5 425L1189.4 425.1L1190.2 422.8L1191.1 422.5L1192 425.1L1192.8 422.1L1193.7 421L1194.5 424L1195.4 424.4L1196.3 422.6L1197.1 421.2L1198 421L1198.9 420.1L1199.7 422.2L1200.6 418.1L1201.5 417.3L1202.3 418.9L1203.2 420.1L1204.1 419.8L1204.9 418.2L1205.8 418.5L1206.7 418.2L1207.5 419.1L1208.4 417.8L1209.3 418.5L1210.1 419.1L1211 418.9L1211.9 419.2L1212.7 415.6L1213.6 418.9L1214.5 417.1L1215.3 416.4L1216.2 415.7L1217.1 416.9L1217.9 415L1218.8 416.8L1219.7 416.7L1220.5 417.2L1221.4 418L1222.2 417.4L1223.1 417.1L1224 416.7L1224.8 414.5L1225.7 419.5L1226.6 417.8L1227.4 418.3L1228.3 416L1229.2 415.6L1230 417.5L1230.9 418L1231.8 415.6L1232.6 416.8L1233.5 419.2L1234.4 417.2L1235.2 415.6L1236.1 416.7L1237 411.2L1237.8 416.1L1238.7 414.2L1239.6 412.6L1240.4 411.7L1241.3 414L1242.2 414.3L1243 414.2L1243.9 414.5L1244.8 415.2L1245.6 416.7L1246.5 417.9L1247.4 417.8L1248.2 419.1L1249.1 422.2L1249.9 423.3L1250.8 422.3L1251.7 425.7L1252.5 427.1L1253.4 427.1L1254.3 430.6L1255.1 433.2L1256 434L1256.9 436.3L1257.7 433.7L1258.6 414.5L1259.5 375.5L1260.3 361.7L1261.2 396.9L1262.1 425.8L1262.9 400L1263.8 374.2L1264.7 398.2L1265.5 434.5L1266.4 453.3L1267.3 452.9L1268.1 449.5L1269 438.8L1269.9 435.7L1270.7 433.5L1271.6 430.8L1272.5 430.5L1273.3 434.9L1274.2 433.1L1275 431.6L1275.9 436.4L1276.8 437.3L1277.6 436.5L1278.5 438.1L1279.4 433.4L1280.2 435.1L1281.1 435.7L1282 436.6L1282.8 432.5L1283.7 434L1284.6 433L1285.4 432.4L1286.3 429.8L1287.2 433L1288 429.5L1288.9 428.9L1289.8 429.1L1290.6 425.3L1291.5 427.7L1292.4 423.5L1293.2 418.5L1294.1 414.3L1295 411.4L1295.8 407.3L1296.7 406.4L1297.6 398.6L1298.4 393.6L1299.3 389.9L1300.2 387L1301 381.3L1301.9 373.6L1302.7 373.3L1303.6 371.8L1304.5 365.9L1305.3 365.1L1306.2 366.9L1307.1 367L1307.9 371.5L1308.8 371.4L1309.7 369.6L1310.5 374.5L1311.4 374.9L1312.3 373.9L1313.1 376.6L1314 379.4L1314.9 380.9L1315.7 381.4L1316.6 380.8L1317.5 384.8L1318.3 383.6L1319.2 383.8L1320.1 385.2L1320.9 386.7L1321.8 390L1322.7 387.4L1323.5 387.2L1324.4 388.6L1325.3 391.1L1326.1 392.9L1327 393.4L1327.9 393.3L1328.7 395.1L1329.6 396.6L1330.4 397.7L1331.3 396.3L1332.2 395.3L1333 394.5L1333.9 393.3L1334.8 395.6L1335.6 395.8L1336.5 394.1L1337.4 397.8L1338.2 394.3L1339.1 394.7L1340 396.7L1340.8 395.4L1341.7 395.8L1342.6 396.3L1343.4 394.9L1344.3 396.2L1345.2 395.6L1346 396.4L1346.9 396.9L1347.8 398.5L1348.6 395.9L1349.5 397.2L1350.4 397.4L1351.2 400.3L1352.1 397.8L1353 398.4L1353.8 396.8L1354.7 399.7L1355.6 402.3L1356.4 400L1357.3 403.7L1358.1 401L1359 399.6L1359.9 402.1L1360.7 404.5L1361.6 402.4L1362.5 405L1363.3 405.1L1364.2 407.4L1365.1 406L1365.9 405.8L1366.8 405.4L1367.7 406.3L1368.5 407.5L1369.4 406.9L1370.3 406.4L1371.1 408.3L1372 408.9L1372.9 408.5L1373.7 409.9L1374.6 407.2L1375.5 405.4L1376.3 409.3L1377.2 407.8L1378.1 408.1L1378.9 410.7L1379.8 407.4L1380.7 409.7L1381.5 409L1382.4 410.5L1383.2 410.8L1384.1 411.4L1385 408.7L1385.8 410.8L1386.7 411.9L1387.6 410.7L1388.4 410.4L1389.3 410.3L1390.2 411.3L1391 411.3L1391.9 413.8L1392.8 413.3L1393.6 415.1L1394.5 413.2L1395.4 412.6L1396.2 411.9L1397.1 416.6L1398 416.5L1398.8 413.7L1399.7 417.2L1400.6 416.6L1401.4 417.3L1402.3 419.8L1403.2 418.6L1404 415.9L1404.9 417.4L1405.8 415.9L1406.6 418.5L1407.5 420.5L1408.4 418.7L1409.2 420L1410.1 419.7L1410.9 418.6L1411.8 417.3L1412.7 420.7L1413.5 422.2L1414.4 420.7L1415.3 421.5L1416.1 422.3L1417 423L1417.9 423.3L1418.7 423.3L1419.6 424.8L1420.5 422.1L1421.3 422.5L1422.2 423L1423.1 426.5L1423.9 423.9L1424.8 421.9L1425.7 422.8L1426.5 424.6L1427.4 423.5L1428.3 422L1429.1 423.2L1430 421.3L1430.9 424.4L1431.7 421.6L1432.6 420.5L1433.5 424.1L1434.3 420.2L1435.2 422.6L1436.1 422.6L1436.9 422.9L1437.8 422.8L1438.6 422L1439.5 423.7L1440.4 424.4L1441.2 423.1L1442.1 423.1L1443 423L1443.8 426.5L1444.7 421.6L1445.6 422.2L1446.4 423.6L1447.3 422.6L1448.2 420.2L1449 423.8L1449.9 422.7L1450.8 421.3L1451.6 423.2L1452.5 421.2L1453.4 423.8L1454.2 421.6L1455.1 423.7L1456 425.1L1456.8 423.6L1457.7 423.7L1458.6 424.7L1459.4 423.2L1460.3 424.7L1461.2 421.7L1462 425.1L1462.9 424.3L1463.8 424.6L1464.6 426.8L1465.5 424.4L1466.3 424.1L1467.2 425.8L1468.1 425.1L1468.9 426L1469.8 429.4L1470.7 426L1471.5 431.5L1472.4 427.6L1473.3 429.8L1474.1 431.2L1475 429.9L1475.9 431L1476.7 428.8L1477.6 430.1L1478.5 432L1479.3 431.7L1480.2 430.2L1481.1 426.6L1481.9 429L1482.8 427.2L1483.7 426.6L1484.5 427.7L1485.4 428.1L1486.3 426.5L1487.1 425.7L1488 425.7L1488.9 429L1489.7 427.7L1490.6 426.8L1491.4 423.2L1492.3 423.9L1493.2 425.6L1494 423.3L1494.9 421.8L1495.8 421.5L1496.6 420.1L1497.5 419.8L1498.4 418.8L1499.2 420.2L1500.1 416.4L1501 417.5L1501.8 417.7L1502.7 418.1L1503.6 418.3L1504.4 418.7L1505.3 424.6L1506.2 418.4L1507 425L1507.9 423.5L1508.8 420.5L1509.6 422.3L1510.5 421.8L1511.4 421.6L1512.2 424.5L1513.1 422.3L1514 425.7L1514.8 426.6L1515.7 426.6L1516.6 428.1L1517.4 428.2L1518.3 429.7L1519.1 429L1520 430.7L1520.9 431.5L1521.7 429.1L1522.6 430.7L1523.5 433.2L1524.3 428.8L1525.2 433.5L1526.1 432.4L1526.9 431L1527.8 434.4L1528.7 437.5L1529.5 431.8L1530.4 429.6L1531.3 432.8L1532.1 436.2L1533 431.7L1533.9 432.8L1534.7 431.8L1535.6 433.4L1536.5 434.1L1537.3 432.5L1538.2 431.8L1539.1 430.5L1539.9 433L1540.8 432.8L1541.7 430.8L1542.5 429.5L1543.4 429.4L1544.3 431L1545.1 430L1546 429.4L1546.8 430.2L1547.7 432.5L1548.6 429.5L1549.4 429.6L1550.3 429.8L1551.2 428.8L1552 429.1L1552.9 429.3L1553.8 427.5L1554.6 430.6L1555.5 428.9L1556.4 430.2L1557.2 430.8L1558.1 427.4L1559 428.5L1559.8 428.1L1560.7 427.2L1561.6 427L1562.4 429.5L1563.3 432L1564.2 428.7L1565 429.6L1565.9 429.4L1566.8 425.8L1567.6 429L1568.5 428.8L1569.4 427.1L1570.2 428.3L1571.1 429.4L1572 425.2L1572.8 429.5L1573.7 426.9L1574.5 427L1575.4 425.3L1576.3 428.7L1577.1 426.9L1578 427.3L1578.9 429L1579.7 427L1580.6 427.4L1581.5 426.5L1582.3 427.5L1583.2 427.2L1584.1 424.9L1584.9 423.9L1585.8 425.5L1586.7 426L1587.5 428.5L1588.4 427.8L1589.3 425.2L1590.1 425.4L1591 426.7L1591.9 424.8L1592.7 427.8L1593.6 427.6L1594.5 427.8L1595.3 425L1596.2 425.8L1597.1 425.4L1597.9 424.3L1598.8 424.1L1599.6 427.1L1600.5 424L1601.4 422.1L1602.2 423.4L1603.1 423L1604 419.4L1604.8 423.9L1605.7 422.4L1606.6 422.4L1607.4 420.9L1608.3 422L1609.2 420.6L1610 421.1L1610.9 419.1L1611.8 419.8L1612.6 418.9L1613.5 420.4L1614.4 422.6L1615.2 421.8L1616.1 422L1617 422.7L1617.8 420.2L1618.7 423.2L1619.6 422.4L1620.4 422.5L1621.3 425.8L1622.2 422.6L1623 420.2L1623.9 422.2L1624.8 424.2L1625.6 426.4L1626.5 425L1627.3 422.4L1628.2 425.8L1629.1 426.8L1629.9 428L1630.8 426.6L1631.7 427.5L1632.5 426L1633.4 428L1634.3 426.9L1635.1 429.6L1636 426.3L1636.9 426.4L1637.7 430.2L1638.6 429.5L1639.5 427.3L1640.3 429.3L1641.2 428.8L1642.1 430.3L1642.9 432.1L1643.8 430.3L1644.7 428.5L1645.5 427L1646.4 428.2L1647.3 429.9L1648.1 429.5L1649 429.6L1649.9 428.9L1650.7 430.3L1651.6 428.5L1652.5 431.1L1653.3 430.2L1654.2 430L1655 431.4L1655.9 430.8L1656.8 430.8L1657.6 430.1L1658.5 431.8L1659.4 430.9L1660.2 431.8L1661.1 432.8L1662 428.9L1662.8 432.6L1663.7 430.1L1664.6 432.3L1665.4 431.6L1666.3 432.9L1667.2 433L1668 432.5L1668.9 431.5L1669.8 434.4L1670.6 431.4L1671.5 432.7L1672.4 434L1673.2 434.2L1674.1 433.7L1675 432.2L1675.8 431.6L1676.7 432.8L1677.6 434.4L1678.4 433.4L1679.3 431L1680.2 433.7L1681 434L1681.9 434.2L1682.7 429.5L1683.6 432.1L1684.5 433.9L1685.3 431.7L1686.2 435L1687.1 432.7L1687.9 434.5L1688.8 437.3L1689.7 433.7L1690.5 436.5L1691.4 431.7L1692.3 433.2L1693.1 433.9L1694 435.1" stroke="#0a0aee" stroke-width="3.3"/>
</g>
<path d="M1044.8 458.2h7.4 M1694.4 458.2h-7.4M1044.8 441.5h3.4 M1694.4 441.5h-3.4M1044.8 424.9h7.4 M1694.4 424.9h-7.4M1044.8 408.2h3.4 M1694.4 408.2h-3.4M1044.8 391.6h7.4 M1694.4 391.6h-7.4M1044.8 374.9h3.4 M1694.4 374.9h-3.4M1044.8 358.3h7.4 M1694.4 358.3h-7.4M1044.8 341.6h3.4 M1694.4 341.6h-3.4M1044.8 325h7.4 M1694.4 325h-7.4M1044.8 308.3h3.4 M1694.4 308.3h-3.4M1044.8 291.7h7.4 M1694.4 291.7h-7.4M1044.8 458.4v-7.4 M1044.8 276v7.4M1153 458.4v-3.4 M1153 276v3.4M1261.2 458.4v-7.4 M1261.2 276v7.4M1369.4 458.4v-3.4 M1369.4 276v3.4M1477.6 458.4v-7.4 M1477.6 276v7.4M1585.8 458.4v-3.4 M1585.8 276v3.4M1694 458.4v-7.4 M1694 276v7.4" stroke="#1a1a1a" stroke-width="1.1" fill="none"/>
<rect x="1044.8" y="276" width="649.6" height="182.4" fill="none" stroke="#1a1a1a" stroke-width="1.5"/>
<g font-family="'Liberation Serif',serif" font-weight="bold" fill="#000">
<text x="1034.3" y="467.6" font-size="29.5" text-anchor="end">-10</text>
<text x="1034.3" y="434.3" font-size="29.5" text-anchor="end">0</text>
<text x="1034.3" y="401" font-size="29.5" text-anchor="end">10</text>
<text x="1034.3" y="367.7" font-size="29.5" text-anchor="end">20</text>
<text x="1034.3" y="334.4" font-size="29.5" text-anchor="end">30</text>
<text x="1034.3" y="301.1" font-size="29.5" text-anchor="end">40</text>
<text x="1043.8" y="490.1" font-size="29.5" text-anchor="middle">-100</text>
<text x="1261.2" y="490.1" font-size="29.5" text-anchor="middle">0</text>
<text x="1477.6" y="490.1" font-size="29.5" text-anchor="middle">100</text>
<text x="1694" y="490.1" font-size="29.5" text-anchor="middle">200</text>
<text x="1369.5" y="523.4" font-size="25.6" text-anchor="middle">Time (ms)</text>
<text transform="translate(963.5 366.2) rotate(-90)" font-size="26" text-anchor="middle">Amplitude (µV)</text>
<text x="1068.2" y="309.5" font-size="22.6" word-spacing="2.5">0.5 mA HL</text>
<text x="1457" y="316" font-size="28.5" letter-spacing="0.5">Macro</text>
<text x="1457" y="353.2" font-size="28.5" letter-spacing="0.5">Avg. Mesos</text>
<text x="1457" y="389.2" font-size="28.5" letter-spacing="0.5">Individual Mesos</text>
</g>
<path d="M1382.5 306.8H1451.5" stroke="#0a820a" stroke-width="3.6" stroke-linecap="round"/>
<path d="M1382.5 344H1451.5" stroke="#0a0aee" stroke-width="3.6" stroke-linecap="round"/>
<path d="M1382.5 380H1451.5" stroke="#8f8fff" stroke-width="1.2" stroke-linecap="round"/>
<g transform="translate(199.3 573.7)" clip-path="url(#cview)">
<use href="#cdev"/>
<g clip-path="url(#cdisc0)" opacity="0.71">
<circle cx="280.5" cy="167.8" r="171.2" fill="#0033ff"/>
</g>
<circle cx="280.5" cy="167.3" r="166.4" fill="#efe6d4" clip-path="url(#cout0)"/>
</g>
<g transform="translate(646.3 573.7)" clip-path="url(#cview)">
<use href="#cdev"/>
<g clip-path="url(#cdisc1)" opacity="0.71">
<g filter="url(#hb)"><path fill="#0000bf" d="M226.3 -6.4h8.6v8.6h-8.6zM234.3 -14.4h8.6v8.6h-8.6zM234.3 -6.4h8.6v8.6h-8.6zM234.3 1.6h8.6v8.6h-8.6zM242.3 -14.4h8.6v8.6h-8.6zM242.3 -6.4h8.6v8.6h-8.6zM242.3 1.6h8.6v8.6h-8.6zM250.3 -14.4h8.6v8.6h-8.6zM250.3 -6.4h8.6v8.6h-8.6zM250.3 1.6h8.6v8.6h-8.6z"/><path fill="#0000d4" d="M210.3 -6.4h8.6v8.6h-8.6zM210.3 1.6h8.6v8.6h-8.6zM218.3 -6.4h8.6v8.6h-8.6zM218.3 1.6h8.6v8.6h-8.6zM218.3 9.6h8.6v8.6h-8.6zM226.3 1.6h8.6v8.6h-8.6zM226.3 9.6h8.6v8.6h-8.6zM226.3 17.6h8.6v8.6h-8.6zM226.3 41.6h8.6v8.6h-8.6zM226.3 49.6h8.6v8.6h-8.6zM226.3 57.6h8.6v8.6h-8.6zM234.3 9.6h8.6v8.6h-8.6zM234.3 17.6h8.6v8.6h-8.6zM234.3 25.6h8.6v8.6h-8.6zM234.3 33.6h8.6v8.6h-8.6zM234.3 41.6h8.6v8.6h-8.6zM234.3 49.6h8.6v8.6h-8.6zM234.3 57.6h8.6v8.6h-8.6zM242.3 9.6h8.6v8.6h-8.6zM242.3 17.6h8.6v8.6h-8.6zM242.3 49.6h8.6v8.6h-8.6zM242.3 57.6h8.6v8.6h-8.6zM250.3 9.6h8.6v8.6h-8.6zM258.3 -14.4h8.6v8.6h-8.6zM258.3 -6.4h8.6v8.6h-8.6zM258.3 1.6h8.6v8.6h-8.6z"/><path fill="#0000ea" d="M202.3 1.6h8.6v8.6h-8.6zM202.3 9.6h8.6v8.6h-8.6zM210.3 9.6h8.6v8.6h-8.6zM210.3 17.6h8.6v8.6h-8.6zM210.3 25.6h8.6v8.6h-8.6zM210.3 33.6h8.6v8.6h-8.6zM210.3 41.6h8.6v8.6h-8.6zM210.3 49.6h8.6v8.6h-8.6zM210.3 57.6h8.6v8.6h-8.6zM210.3 65.6h8.6v8.6h-8.6zM210.3 73.6h8.6v8.6h-8.6zM210.3 81.6h8.6v8.6h-8.6zM218.3 17.6h8.6v8.6h-8.6zM218.3 25.6h8.6v8.6h-8.6zM218.3 33.6h8.6v8.6h-8.6zM218.3 41.6h8.6v8.6h-8.6zM218.3 49.6h8.6v8.6h-8.6zM218.3 57.6h8.6v8.6h-8.6zM218.3 65.6h8.6v8.6h-8.6zM218.3 73.6h8.6v8.6h-8.6zM218.3 81.6h8.6v8.6h-8.6zM226.3 25.6h8.6v8.6h-8.6zM226.3 33.6h8.6v8.6h-8.6zM226.3 65.6h8.6v8.6h-8.6zM226.3 73.6h8.6v8.6h-8.6zM226.3 81.6h8.6v8.6h-8.6zM234.3 65.6h8.6v8.6h-8.6zM234.3 73.6h8.6v8.6h-8.6zM242.3 25.6h8.6v8.6h-8.6zM242.3 33.6h8.6v8.6h-8.6zM242.3 41.6h8.6v8.6h-8.6zM242.3 65.6h8.6v8.6h-8.6zM242.3 73.6h8.6v8.6h-8.6zM250.3 17.6h8.6v8.6h-8.6zM250.3 41.6h8.6v8.6h-8.6zM250.3 49.6h8.6v8.6h-8.6zM250.3 57.6h8.6v8.6h-8.6zM250.3 65.6h8.6v8.6h-8.6zM258.3 9.6h8.6v8.6h-8.6z"/><path fill="#0000ff" d="M98.3 129.6h8.6v8.6h-8.6zM98.3 137.6h8.6v8.6h-8.6zM98.3 145.6h8.6v8.6h-8.6zM98.3 153.6h8.6v8.6h-8.6zM98.3 161.6h8.6v8.6h-8.6zM98.3 169.6h8.6v8.6h-8.6zM106.3 129.6h8.6v8.6h-8.6zM106.3 137.6h8.6v8.6h-8.6zM106.3 145.6h8.6v8.6h-8.6zM106.3 153.6h8.6v8.6h-8.6zM106.3 161.6h8.6v8.6h-8.6zM106.3 169.6h8.6v8.6h-8.6zM114.3 129.6h8.6v8.6h-8.6zM114.3 137.6h8.6v8.6h-8.6zM114.3 145.6h8.6v8.6h-8.6zM114.3 153.6h8.6v8.6h-8.6zM114.3 161.6h8.6v8.6h-8.6zM114.3 169.6h8.6v8.6h-8.6zM122.3 129.6h8.6v8.6h-8.6zM122.3 137.6h8.6v8.6h-8.6zM122.3 145.6h8.6v8.6h-8.6zM122.3 153.6h8.6v8.6h-8.6zM122.3 161.6h8.6v8.6h-8.6zM122.3 169.6h8.6v8.6h-8.6zM130.3 129.6h8.6v8.6h-8.6zM130.3 137.6h8.6v8.6h-8.6zM130.3 145.6h8.6v8.6h-8.6zM130.3 153.6h8.6v8.6h-8.6zM130.3 161.6h8.6v8.6h-8.6zM130.3 169.6h8.6v8.6h-8.6zM138.3 121.6h8.6v8.6h-8.6zM138.3 129.6h8.6v8.6h-8.6zM138.3 137.6h8.6v8.6h-8.6zM138.3 145.6h8.6v8.6h-8.6zM138.3 153.6h8.6v8.6h-8.6zM138.3 161.6h8.6v8.6h-8.6zM138.3 169.6h8.6v8.6h-8.6zM138.3 177.6h8.6v8.6h-8.6zM146.3 121.6h8.6v8.6h-8.6zM146.3 129.6h8.6v8.6h-8.6zM146.3 137.6h8.6v8.6h-8.6zM146.3 145.6h8.6v8.6h-8.6zM146.3 153.6h8.6v8.6h-8.6zM146.3 161.6h8.6v8.6h-8.6zM146.3 169.6h8.6v8.6h-8.6zM146.3 177.6h8.6v8.6h-8.6zM154.3 113.6h8.6v8.6h-8.6zM154.3 121.6h8.6v8.6h-8.6zM154.3 129.6h8.6v8.6h-8.6zM154.3 137.6h8.6v8.6h-8.6zM154.3 145.6h8.6v8.6h-8.6zM154.3 153.6h8.6v8.6h-8.6zM154.3 161.6h8.6v8.6h-8.6zM154.3 169.6h8.6v8.6h-8.6zM154.3 177.6h8.6v8.6h-8.6zM162.3 105.6h8.6v8.6h-8.6zM162.3 113.6h8.6v8.6h-8.6zM162.3 121.6h8.6v8.6h-8.6zM162.3 129.6h8.6v8.6h-8.6zM162.3 137.6h8.6v8.6h-8.6zM162.3 145.6h8.6v8.6h-8.6zM162.3 153.6h8.6v8.6h-8.6zM162.3 161.6h8.6v8.6h-8.6zM162.3 169.6h8.6v8.6h-8.6zM162.3 177.6h8.6v8.6h-8.6zM170.3 97.6h8.6v8.6h-8.6zM170.3 105.6h8.6v8.6h-8.6zM170.3 113.6h8.6v8.6h-8.6zM170.3 121.6h8.6v8.6h-8.6zM170.3 129.6h8.6v8.6h-8.6zM170.3 137.6h8.6v8.6h-8.6zM170.3 145.6h8.6v8.6h-8.6zM170.3 153.6h8.6v8.6h-8.6zM170.3 161.6h8.6v8.6h-8.6zM170.3 169.6h8.6v8.6h-8.6zM170.3 177.6h8.6v8.6h-8.6zM170.3 185.6h8.6v8.6h-8.6zM178.3 81.6h8.6v8.6h-8.6zM178.3 89.6h8.6v8.6h-8.6zM178.3 97.6h8.6v8.6h-8.6zM178.3 105.6h8.6v8.6h-8.6zM178.3 113.6h8.6v8.6h-8.6zM178.3 121.6h8.6v8.6h-8.6zM178.3 129.6h8.6v8.6h-8.6zM178.3 137.6h8.6v8.6h-8.6zM178.3 145.6h8.6v8.6h-8.6zM178.3 153.6h8.6v8.6h-8.6zM178.3 161.6h8.6v8.6h-8.6zM178.3 169.6h8.6v8.6h-8.6zM178.3 177.6h8.6v8.6h-8.6zM178.3 185.6h8.6v8.6h-8.6zM186.3 9.6h8.6v8.6h-8.6zM186.3 57.6h8.6v8.6h-8.6zM186.3 65.6h8.6v8.6h-8.6zM186.3 73.6h8.6v8.6h-8.6zM186.3 81.6h8.6v8.6h-8.6zM186.3 89.6h8.6v8.6h-8.6zM186.3 97.6h8.6v8.6h-8.6zM186.3 105.6h8.6v8.6h-8.6zM186.3 113.6h8.6v8.6h-8.6zM186.3 121.6h8.6v8.6h-8.6zM186.3 129.6h8.6v8.6h-8.6zM186.3 137.6h8.6v8.6h-8.6zM186.3 145.6h8.6v8.6h-8.6zM186.3 153.6h8.6v8.6h-8.6zM186.3 161.6h8.6v8.6h-8.6zM186.3 169.6h8.6v8.6h-8.6zM186.3 177.6h8.6v8.6h-8.6zM186.3 185.6h8.6v8.6h-8.6zM194.3 1.6h8.6v8.6h-8.6zM194.3 9.6h8.6v8.6h-8.6zM194.3 17.6h8.6v8.6h-8.6zM194.3 25.6h8.6v8.6h-8.6zM194.3 33.6h8.6v8.6h-8.6zM194.3 41.6h8.6v8.6h-8.6zM194.3 49.6h8.6v8.6h-8.6zM194.3 57.6h8.6v8.6h-8.6zM194.3 65.6h8.6v8.6h-8.6zM194.3 73.6h8.6v8.6h-8.6zM194.3 81.6h8.6v8.6h-8.6zM194.3 89.6h8.6v8.6h-8.6zM194.3 97.6h8.6v8.6h-8.6zM194.3 105.6h8.6v8.6h-8.6zM194.3 113.6h8.6v8.6h-8.6zM194.3 121.6h8.6v8.6h-8.6zM194.3 129.6h8.6v8.6h-8.6zM194.3 137.6h8.6v8.6h-8.6zM194.3 145.6h8.6v8.6h-8.6zM194.3 153.6h8.6v8.6h-8.6zM194.3 161.6h8.6v8.6h-8.6zM194.3 169.6h8.6v8.6h-8.6zM194.3 177.6h8.6v8.6h-8.6zM194.3 185.6h8.6v8.6h-8.6zM202.3 17.6h8.6v8.6h-8.6zM202.3 25.6h8.6v8.6h-8.6zM202.3 33.6h8.6v8.6h-8.6zM202.3 41.6h8.6v8.6h-8.6zM202.3 49.6h8.6v8.6h-8.6zM202.3 57.6h8.6v8.6h-8.6zM202.3 65.6h8.6v8.6h-8.6zM202.3 73.6h8.6v8.6h-8.6zM202.3 81.6h8.6v8.6h-8.6zM202.3 89.6h8.6v8.6h-8.6zM202.3 97.6h8.6v8.6h-8.6zM202.3 105.6h8.6v8.6h-8.6zM202.3 113.6h8.6v8.6h-8.6zM202.3 121.6h8.6v8.6h-8.6zM202.3 129.6h8.6v8.6h-8.6zM202.3 137.6h8.6v8.6h-8.6zM202.3 145.6h8.6v8.6h-8.6zM202.3 153.6h8.6v8.6h-8.6zM202.3 161.6h8.6v8.6h-8.6zM202.3 169.6h8.6v8.6h-8.6zM202.3 177.6h8.6v8.6h-8.6zM202.3 185.6h8.6v8.6h-8.6zM210.3 89.6h8.6v8.6h-8.6zM210.3 97.6h8.6v8.6h-8.6zM210.3 105.6h8.6v8.6h-8.6zM210.3 113.6h8.6v8.6h-8.6zM210.3 121.6h8.6v8.6h-8.6zM210.3 129.6h8.6v8.6h-8.6zM210.3 137.6h8.6v8.6h-8.6zM210.3 145.6h8.6v8.6h-8.6zM210.3 153.6h8.6v8.6h-8.6zM210.3 161.6h8.6v8.6h-8.6zM210.3 169.6h8.6v8.6h-8.6zM210.3 177.6h8.6v8.6h-8.6zM218.3 89.6h8.6v8.6h-8.6zM218.3 97.6h8.6v8.6h-8.6zM218.3 105.6h8.6v8.6h-8.6zM218.3 113.6h8.6v8.6h-8.6zM218.3 121.6h8.6v8.6h-8.6zM218.3 129.6h8.6v8.6h-8.6zM218.3 137.6h8.6v8.6h-8.6zM218.3 145.6h8.6v8.6h-8.6zM218.3 153.6h8.6v8.6h-8.6zM218.3 161.6h8.6v8.6h-8.6zM218.3 169.6h8.6v8.6h-8.6zM226.3 89.6h8.6v8.6h-8.6zM226.3 97.6h8.6v8.6h-8.6zM234.3 81.6h8.6v8.6h-8.6zM234.3 89.6h8.6v8.6h-8.6zM242.3 81.6h8.6v8.6h-8.6zM250.3 25.6h8.6v8.6h-8.6zM250.3 33.6h8.6v8.6h-8.6zM250.3 73.6h8.6v8.6h-8.6zM258.3 17.6h8.6v8.6h-8.6zM258.3 49.6h8.6v8.6h-8.6zM258.3 57.6h8.6v8.6h-8.6zM266.3 -14.4h8.6v8.6h-8.6zM266.3 -6.4h8.6v8.6h-8.6zM266.3 1.6h8.6v8.6h-8.6z"/><path fill="#0015ff" d="M98.3 121.6h8.6v8.6h-8.6zM98.3 177.6h8.6v8.6h-8.6zM98.3 185.6h8.6v8.6h-8.6zM98.3 193.6h8.6v8.6h-8.6zM98.3 201.6h8.6v8.6h-8.6zM98.3 209.6h8.6v8.6h-8.6zM106.3 97.6h8.6v8.6h-8.6zM106.3 105.6h8.6v8.6h-8.6zM106.3 113.6h8.6v8.6h-8.6zM106.3 121.6h8.6v8.6h-8.6zM106.3 177.6h8.6v8.6h-8.6zM106.3 185.6h8.6v8.6h-8.6zM106.3 193.6h8.6v8.6h-8.6zM106.3 201.6h8.6v8.6h-8.6zM106.3 209.6h8.6v8.6h-8.6zM106.3 217.6h8.6v8.6h-8.6zM114.3 81.6h8.6v8.6h-8.6zM114.3 89.6h8.6v8.6h-8.6zM114.3 97.6h8.6v8.6h-8.6zM114.3 105.6h8.6v8.6h-8.6zM114.3 113.6h8.6v8.6h-8.6zM114.3 121.6h8.6v8.6h-8.6zM114.3 177.6h8.6v8.6h-8.6zM114.3 185.6h8.6v8.6h-8.6zM114.3 193.6h8.6v8.6h-8.6zM114.3 201.6h8.6v8.6h-8.6zM114.3 209.6h8.6v8.6h-8.6zM114.3 217.6h8.6v8.6h-8.6zM122.3 65.6h8.6v8.6h-8.6zM122.3 73.6h8.6v8.6h-8.6zM122.3 81.6h8.6v8.6h-8.6zM122.3 89.6h8.6v8.6h-8.6zM122.3 97.6h8.6v8.6h-8.6zM122.3 105.6h8.6v8.6h-8.6zM122.3 113.6h8.6v8.6h-8.6zM122.3 121.6h8.6v8.6h-8.6zM122.3 177.6h8.6v8.6h-8.6zM122.3 185.6h8.6v8.6h-8.6zM122.3 193.6h8.6v8.6h-8.6zM122.3 201.6h8.6v8.6h-8.6zM122.3 209.6h8.6v8.6h-8.6zM122.3 217.6h8.6v8.6h-8.6zM130.3 57.6h8.6v8.6h-8.6zM130.3 65.6h8.6v8.6h-8.6zM130.3 73.6h8.6v8.6h-8.6zM130.3 81.6h8.6v8.6h-8.6zM130.3 89.6h8.6v8.6h-8.6zM130.3 97.6h8.6v8.6h-8.6zM130.3 105.6h8.6v8.6h-8.6zM130.3 113.6h8.6v8.6h-8.6zM130.3 121.6h8.6v8.6h-8.6zM130.3 177.6h8.6v8.6h-8.6zM130.3 185.6h8.6v8.6h-8.6zM130.3 193.6h8.6v8.6h-8.6zM130.3 201.6h8.6v8.6h-8.6zM130.3 209.6h8.6v8.6h-8.6zM138.3 49.6h8.6v8.6h-8.6zM138.3 57.6h8.6v8.6h-8.6zM138.3 65.6h8.6v8.6h-8.6zM138.3 73.6h8.6v8.6h-8.6zM138.3 81.6h8.6v8.6h-8.6zM138.3 89.6h8.6v8.6h-8.6zM138.3 97.6h8.6v8.6h-8.6zM138.3 105.6h8.6v8.6h-8.6zM138.3 113.6h8.6v8.6h-8.6zM138.3 185.6h8.6v8.6h-8.6zM138.3 193.6h8.6v8.6h-8.6zM138.3 201.6h8.6v8.6h-8.6zM138.3 209.6h8.6v8.6h-8.6zM146.3 33.6h8.6v8.6h-8.6zM146.3 41.6h8.6v8.6h-8.6zM146.3 49.6h8.6v8.6h-8.6zM146.3 57.6h8.6v8.6h-8.6zM146.3 65.6h8.6v8.6h-8.6zM146.3 73.6h8.6v8.6h-8.6zM146.3 81.6h8.6v8.6h-8.6zM146.3 89.6h8.6v8.6h-8.6zM146.3 97.6h8.6v8.6h-8.6zM146.3 105.6h8.6v8.6h-8.6zM146.3 113.6h8.6v8.6h-8.6zM146.3 185.6h8.6v8.6h-8.6zM146.3 193.6h8.6v8.6h-8.6zM146.3 201.6h8.6v8.6h-8.6zM146.3 209.6h8.6v8.6h-8.6zM154.3 33.6h8.6v8.6h-8.6zM154.3 41.6h8.6v8.6h-8.6zM154.3 49.6h8.6v8.6h-8.6zM154.3 57.6h8.6v8.6h-8.6zM154.3 65.6h8.6v8.6h-8.6zM154.3 73.6h8.6v8.6h-8.6zM154.3 81.6h8.6v8.6h-8.6zM154.3 89.6h8.6v8.6h-8.6zM154.3 97.6h8.6v8.6h-8.6zM154.3 105.6h8.6v8.6h-8.6zM154.3 185.6h8.6v8.6h-8.6zM154.3 193.6h8.6v8.6h-8.6zM154.3 201.6h8.6v8.6h-8.6zM154.3 209.6h8.6v8.6h-8.6zM162.3 25.6h8.6v8.6h-8.6zM162.3 33.6h8.6v8.6h-8.6zM162.3 41.6h8.6v8.6h-8.6zM162.3 49.6h8.6v8.6h-8.6zM162.3 57.6h8.6v8.6h-8.6zM162.3 65.6h8.6v8.6h-8.6zM162.3 73.6h8.6v8.6h-8.6zM162.3 81.6h8.6v8.6h-8.6zM162.3 89.6h8.6v8.6h-8.6zM162.3 97.6h8.6v8.6h-8.6zM162.3 185.6h8.6v8.6h-8.6zM162.3 193.6h8.6v8.6h-8.6zM162.3 201.6h8.6v8.6h-8.6zM162.3 209.6h8.6v8.6h-8.6zM170.3 17.6h8.6v8.6h-8.6zM170.3 25.6h8.6v8.6h-8.6zM170.3 33.6h8.6v8.6h-8.6zM170.3 41.6h8.6v8.6h-8.6zM170.3 49.6h8.6v8.6h-8.6zM170.3 57.6h8.6v8.6h-8.6zM170.3 65.6h8.6v8.6h-8.6zM170.3 73.6h8.6v8.6h-8.6zM170.3 81.6h8.6v8.6h-8.6zM170.3 89.6h8.6v8.6h-8.6zM170.3 193.6h8.6v8.6h-8.6zM170.3 201.6h8.6v8.6h-8.6zM170.3 209.6h8.6v8.6h-8.6zM170.3 217.6h8.6v8.6h-8.6zM178.3 9.6h8.6v8.6h-8.6zM178.3 17.6h8.6v8.6h-8.6zM178.3 25.6h8.6v8.6h-8.6zM178.3 33.6h8.6v8.6h-8.6zM178.3 41.6h8.6v8.6h-8.6zM178.3 49.6h8.6v8.6h-8.6zM178.3 57.6h8.6v8.6h-8.6zM178.3 65.6h8.6v8.6h-8.6zM178.3 73.6h8.6v8.6h-8.6zM178.3 193.6h8.6v8.6h-8.6zM178.3 201.6h8.6v8.6h-8.6zM178.3 209.6h8.6v8.6h-8.6zM178.3 217.6h8.6v8.6h-8.6zM186.3 17.6h8.6v8.6h-8.6zM186.3 25.6h8.6v8.6h-8.6zM186.3 33.6h8.6v8.6h-8.6zM186.3 41.6h8.6v8.6h-8.6zM186.3 49.6h8.6v8.6h-8.6zM186.3 193.6h8.6v8.6h-8.6zM186.3 201.6h8.6v8.6h-8.6zM186.3 209.6h8.6v8.6h-8.6zM186.3 217.6h8.6v8.6h-8.6zM194.3 193.6h8.6v8.6h-8.6zM194.3 201.6h8.6v8.6h-8.6zM194.3 209.6h8.6v8.6h-8.6zM194.3 217.6h8.6v8.6h-8.6zM202.3 193.6h8.6v8.6h-8.6zM202.3 201.6h8.6v8.6h-8.6zM202.3 209.6h8.6v8.6h-8.6zM210.3 185.6h8.6v8.6h-8.6zM210.3 193.6h8.6v8.6h-8.6zM210.3 201.6h8.6v8.6h-8.6zM210.3 209.6h8.6v8.6h-8.6zM218.3 177.6h8.6v8.6h-8.6zM218.3 185.6h8.6v8.6h-8.6zM218.3 193.6h8.6v8.6h-8.6zM218.3 201.6h8.6v8.6h-8.6zM226.3 105.6h8.6v8.6h-8.6zM226.3 113.6h8.6v8.6h-8.6zM226.3 121.6h8.6v8.6h-8.6zM226.3 129.6h8.6v8.6h-8.6zM226.3 137.6h8.6v8.6h-8.6zM226.3 145.6h8.6v8.6h-8.6zM226.3 153.6h8.6v8.6h-8.6zM226.3 161.6h8.6v8.6h-8.6zM226.3 169.6h8.6v8.6h-8.6zM226.3 177.6h8.6v8.6h-8.6zM226.3 185.6h8.6v8.6h-8.6zM226.3 193.6h8.6v8.6h-8.6zM226.3 321.6h8.6v8.6h-8.6zM226.3 329.6h8.6v8.6h-8.6zM226.3 337.6h8.6v8.6h-8.6zM234.3 97.6h8.6v8.6h-8.6zM234.3 105.6h8.6v8.6h-8.6zM234.3 113.6h8.6v8.6h-8.6zM234.3 121.6h8.6v8.6h-8.6zM234.3 129.6h8.6v8.6h-8.6zM234.3 137.6h8.6v8.6h-8.6zM234.3 145.6h8.6v8.6h-8.6zM234.3 153.6h8.6v8.6h-8.6zM234.3 161.6h8.6v8.6h-8.6zM234.3 169.6h8.6v8.6h-8.6zM234.3 177.6h8.6v8.6h-8.6zM242.3 89.6h8.6v8.6h-8.6zM250.3 81.6h8.6v8.6h-8.6zM258.3 25.6h8.6v8.6h-8.6zM258.3 33.6h8.6v8.6h-8.6zM258.3 41.6h8.6v8.6h-8.6zM258.3 65.6h8.6v8.6h-8.6zM266.3 9.6h8.6v8.6h-8.6z"/><path fill="#002aff" d="M106.3 225.6h8.6v8.6h-8.6zM106.3 233.6h8.6v8.6h-8.6zM114.3 225.6h8.6v8.6h-8.6zM114.3 233.6h8.6v8.6h-8.6zM114.3 241.6h8.6v8.6h-8.6zM114.3 249.6h8.6v8.6h-8.6zM122.3 225.6h8.6v8.6h-8.6zM122.3 233.6h8.6v8.6h-8.6zM122.3 241.6h8.6v8.6h-8.6zM122.3 249.6h8.6v8.6h-8.6zM122.3 257.6h8.6v8.6h-8.6zM130.3 217.6h8.6v8.6h-8.6zM130.3 225.6h8.6v8.6h-8.6zM130.3 233.6h8.6v8.6h-8.6zM130.3 241.6h8.6v8.6h-8.6zM130.3 249.6h8.6v8.6h-8.6zM130.3 257.6h8.6v8.6h-8.6zM138.3 217.6h8.6v8.6h-8.6zM138.3 225.6h8.6v8.6h-8.6zM138.3 233.6h8.6v8.6h-8.6zM138.3 241.6h8.6v8.6h-8.6zM138.3 249.6h8.6v8.6h-8.6zM146.3 217.6h8.6v8.6h-8.6zM146.3 225.6h8.6v8.6h-8.6zM146.3 233.6h8.6v8.6h-8.6zM146.3 241.6h8.6v8.6h-8.6zM146.3 249.6h8.6v8.6h-8.6zM154.3 217.6h8.6v8.6h-8.6zM154.3 225.6h8.6v8.6h-8.6zM154.3 233.6h8.6v8.6h-8.6zM154.3 241.6h8.6v8.6h-8.6zM154.3 249.6h8.6v8.6h-8.6zM162.3 217.6h8.6v8.6h-8.6zM162.3 225.6h8.6v8.6h-8.6zM162.3 233.6h8.6v8.6h-8.6zM162.3 241.6h8.6v8.6h-8.6zM162.3 249.6h8.6v8.6h-8.6zM170.3 225.6h8.6v8.6h-8.6zM170.3 233.6h8.6v8.6h-8.6zM170.3 241.6h8.6v8.6h-8.6zM170.3 249.6h8.6v8.6h-8.6zM178.3 225.6h8.6v8.6h-8.6zM178.3 233.6h8.6v8.6h-8.6zM178.3 241.6h8.6v8.6h-8.6zM178.3 249.6h8.6v8.6h-8.6zM186.3 225.6h8.6v8.6h-8.6zM186.3 233.6h8.6v8.6h-8.6zM186.3 241.6h8.6v8.6h-8.6zM186.3 249.6h8.6v8.6h-8.6zM186.3 257.6h8.6v8.6h-8.6zM194.3 225.6h8.6v8.6h-8.6zM194.3 233.6h8.6v8.6h-8.6zM194.3 241.6h8.6v8.6h-8.6zM194.3 249.6h8.6v8.6h-8.6zM194.3 257.6h8.6v8.6h-8.6zM194.3 265.6h8.6v8.6h-8.6zM194.3 313.6h8.6v8.6h-8.6zM194.3 321.6h8.6v8.6h-8.6zM202.3 217.6h8.6v8.6h-8.6zM202.3 225.6h8.6v8.6h-8.6zM202.3 233.6h8.6v8.6h-8.6zM202.3 241.6h8.6v8.6h-8.6zM202.3 249.6h8.6v8.6h-8.6zM202.3 257.6h8.6v8.6h-8.6zM202.3 265.6h8.6v8.6h-8.6zM202.3 273.6h8.6v8.6h-8.6zM202.3 281.6h8.6v8.6h-8.6zM202.3 305.6h8.6v8.6h-8.6zM202.3 313.6h8.6v8.6h-8.6zM202.3 321.6h8.6v8.6h-8.6zM202.3 329.6h8.6v8.6h-8.6zM210.3 217.6h8.6v8.6h-8.6zM210.3 225.6h8.6v8.6h-8.6zM210.3 233.6h8.6v8.6h-8.6zM210.3 241.6h8.6v8.6h-8.6zM210.3 249.6h8.6v8.6h-8.6zM210.3 257.6h8.6v8.6h-8.6zM210.3 265.6h8.6v8.6h-8.6zM210.3 273.6h8.6v8.6h-8.6zM210.3 281.6h8.6v8.6h-8.6zM210.3 289.6h8.6v8.6h-8.6zM210.3 297.6h8.6v8.6h-8.6zM210.3 305.6h8.6v8.6h-8.6zM210.3 313.6h8.6v8.6h-8.6zM210.3 321.6h8.6v8.6h-8.6zM210.3 329.6h8.6v8.6h-8.6zM218.3 209.6h8.6v8.6h-8.6zM218.3 217.6h8.6v8.6h-8.6zM218.3 225.6h8.6v8.6h-8.6zM218.3 233.6h8.6v8.6h-8.6zM218.3 241.6h8.6v8.6h-8.6zM218.3 249.6h8.6v8.6h-8.6zM218.3 257.6h8.6v8.6h-8.6zM218.3 265.6h8.6v8.6h-8.6zM218.3 273.6h8.6v8.6h-8.6zM218.3 281.6h8.6v8.6h-8.6zM218.3 289.6h8.6v8.6h-8.6zM218.3 297.6h8.6v8.6h-8.6zM218.3 305.6h8.6v8.6h-8.6zM218.3 313.6h8.6v8.6h-8.6zM218.3 321.6h8.6v8.6h-8.6zM218.3 329.6h8.6v8.6h-8.6zM218.3 337.6h8.6v8.6h-8.6zM226.3 201.6h8.6v8.6h-8.6zM226.3 209.6h8.6v8.6h-8.6zM226.3 217.6h8.6v8.6h-8.6zM226.3 225.6h8.6v8.6h-8.6zM226.3 233.6h8.6v8.6h-8.6zM226.3 241.6h8.6v8.6h-8.6zM226.3 249.6h8.6v8.6h-8.6zM226.3 257.6h8.6v8.6h-8.6zM226.3 265.6h8.6v8.6h-8.6zM226.3 273.6h8.6v8.6h-8.6zM226.3 281.6h8.6v8.6h-8.6zM226.3 289.6h8.6v8.6h-8.6zM226.3 297.6h8.6v8.6h-8.6zM226.3 305.6h8.6v8.6h-8.6zM226.3 313.6h8.6v8.6h-8.6zM234.3 185.6h8.6v8.6h-8.6zM234.3 193.6h8.6v8.6h-8.6zM234.3 201.6h8.6v8.6h-8.6zM234.3 249.6h8.6v8.6h-8.6zM234.3 257.6h8.6v8.6h-8.6zM234.3 265.6h8.6v8.6h-8.6zM234.3 273.6h8.6v8.6h-8.6zM234.3 281.6h8.6v8.6h-8.6zM234.3 289.6h8.6v8.6h-8.6zM234.3 297.6h8.6v8.6h-8.6zM234.3 305.6h8.6v8.6h-8.6zM234.3 313.6h8.6v8.6h-8.6zM234.3 321.6h8.6v8.6h-8.6zM234.3 329.6h8.6v8.6h-8.6zM234.3 337.6h8.6v8.6h-8.6zM242.3 97.6h8.6v8.6h-8.6zM242.3 105.6h8.6v8.6h-8.6zM242.3 113.6h8.6v8.6h-8.6zM242.3 121.6h8.6v8.6h-8.6zM242.3 129.6h8.6v8.6h-8.6zM242.3 137.6h8.6v8.6h-8.6zM242.3 145.6h8.6v8.6h-8.6zM242.3 153.6h8.6v8.6h-8.6zM242.3 161.6h8.6v8.6h-8.6zM242.3 169.6h8.6v8.6h-8.6zM242.3 177.6h8.6v8.6h-8.6zM242.3 185.6h8.6v8.6h-8.6zM242.3 265.6h8.6v8.6h-8.6zM242.3 273.6h8.6v8.6h-8.6zM242.3 281.6h8.6v8.6h-8.6zM242.3 289.6h8.6v8.6h-8.6zM242.3 297.6h8.6v8.6h-8.6zM242.3 305.6h8.6v8.6h-8.6zM242.3 313.6h8.6v8.6h-8.6zM242.3 321.6h8.6v8.6h-8.6zM242.3 329.6h8.6v8.6h-8.6zM242.3 337.6h8.6v8.6h-8.6zM250.3 89.6h8.6v8.6h-8.6zM250.3 329.6h8.6v8.6h-8.6zM250.3 337.6h8.6v8.6h-8.6zM258.3 73.6h8.6v8.6h-8.6zM274.3 -14.4h8.6v8.6h-8.6zM274.3 -6.4h8.6v8.6h-8.6z"/><path fill="#0040ff" d="M130.3 265.6h8.6v8.6h-8.6zM130.3 273.6h8.6v8.6h-8.6zM138.3 257.6h8.6v8.6h-8.6zM138.3 265.6h8.6v8.6h-8.6zM138.3 273.6h8.6v8.6h-8.6zM138.3 281.6h8.6v8.6h-8.6zM146.3 257.6h8.6v8.6h-8.6zM146.3 265.6h8.6v8.6h-8.6zM146.3 273.6h8.6v8.6h-8.6zM146.3 281.6h8.6v8.6h-8.6zM146.3 289.6h8.6v8.6h-8.6zM154.3 257.6h8.6v8.6h-8.6zM154.3 265.6h8.6v8.6h-8.6zM154.3 273.6h8.6v8.6h-8.6zM154.3 281.6h8.6v8.6h-8.6zM154.3 289.6h8.6v8.6h-8.6zM154.3 297.6h8.6v8.6h-8.6zM162.3 257.6h8.6v8.6h-8.6zM162.3 265.6h8.6v8.6h-8.6zM162.3 273.6h8.6v8.6h-8.6zM162.3 281.6h8.6v8.6h-8.6zM162.3 289.6h8.6v8.6h-8.6zM162.3 297.6h8.6v8.6h-8.6zM162.3 305.6h8.6v8.6h-8.6zM170.3 257.6h8.6v8.6h-8.6zM170.3 265.6h8.6v8.6h-8.6zM170.3 273.6h8.6v8.6h-8.6zM170.3 281.6h8.6v8.6h-8.6zM170.3 289.6h8.6v8.6h-8.6zM170.3 297.6h8.6v8.6h-8.6zM170.3 305.6h8.6v8.6h-8.6zM170.3 313.6h8.6v8.6h-8.6zM178.3 257.6h8.6v8.6h-8.6zM178.3 265.6h8.6v8.6h-8.6zM178.3 273.6h8.6v8.6h-8.6zM178.3 281.6h8.6v8.6h-8.6zM178.3 289.6h8.6v8.6h-8.6zM178.3 297.6h8.6v8.6h-8.6zM178.3 305.6h8.6v8.6h-8.6zM178.3 313.6h8.6v8.6h-8.6zM186.3 265.6h8.6v8.6h-8.6zM186.3 273.6h8.6v8.6h-8.6zM186.3 281.6h8.6v8.6h-8.6zM186.3 289.6h8.6v8.6h-8.6zM186.3 297.6h8.6v8.6h-8.6zM186.3 305.6h8.6v8.6h-8.6zM186.3 313.6h8.6v8.6h-8.6zM186.3 321.6h8.6v8.6h-8.6zM194.3 273.6h8.6v8.6h-8.6zM194.3 281.6h8.6v8.6h-8.6zM194.3 289.6h8.6v8.6h-8.6zM194.3 297.6h8.6v8.6h-8.6zM194.3 305.6h8.6v8.6h-8.6zM202.3 289.6h8.6v8.6h-8.6zM202.3 297.6h8.6v8.6h-8.6zM234.3 209.6h8.6v8.6h-8.6zM234.3 217.6h8.6v8.6h-8.6zM234.3 225.6h8.6v8.6h-8.6zM234.3 233.6h8.6v8.6h-8.6zM234.3 241.6h8.6v8.6h-8.6zM242.3 193.6h8.6v8.6h-8.6zM242.3 201.6h8.6v8.6h-8.6zM242.3 209.6h8.6v8.6h-8.6zM242.3 217.6h8.6v8.6h-8.6zM242.3 225.6h8.6v8.6h-8.6zM242.3 233.6h8.6v8.6h-8.6zM242.3 241.6h8.6v8.6h-8.6zM242.3 249.6h8.6v8.6h-8.6zM242.3 257.6h8.6v8.6h-8.6zM250.3 97.6h8.6v8.6h-8.6zM250.3 105.6h8.6v8.6h-8.6zM250.3 113.6h8.6v8.6h-8.6zM250.3 129.6h8.6v8.6h-8.6zM250.3 137.6h8.6v8.6h-8.6zM250.3 145.6h8.6v8.6h-8.6zM250.3 153.6h8.6v8.6h-8.6zM250.3 161.6h8.6v8.6h-8.6zM250.3 169.6h8.6v8.6h-8.6zM250.3 177.6h8.6v8.6h-8.6zM250.3 185.6h8.6v8.6h-8.6zM250.3 257.6h8.6v8.6h-8.6zM250.3 265.6h8.6v8.6h-8.6zM250.3 273.6h8.6v8.6h-8.6zM250.3 281.6h8.6v8.6h-8.6zM250.3 289.6h8.6v8.6h-8.6zM250.3 297.6h8.6v8.6h-8.6zM250.3 305.6h8.6v8.6h-8.6zM250.3 313.6h8.6v8.6h-8.6zM250.3 321.6h8.6v8.6h-8.6zM250.3 345.6h8.6v8.6h-8.6zM258.3 81.6h8.6v8.6h-8.6zM258.3 321.6h8.6v8.6h-8.6zM258.3 329.6h8.6v8.6h-8.6zM258.3 337.6h8.6v8.6h-8.6zM258.3 345.6h8.6v8.6h-8.6zM266.3 17.6h8.6v8.6h-8.6zM266.3 41.6h8.6v8.6h-8.6zM266.3 49.6h8.6v8.6h-8.6zM266.3 57.6h8.6v8.6h-8.6zM266.3 65.6h8.6v8.6h-8.6zM274.3 1.6h8.6v8.6h-8.6z"/><path fill="#0055ff" d="M250.3 121.6h8.6v8.6h-8.6zM250.3 193.6h8.6v8.6h-8.6zM250.3 201.6h8.6v8.6h-8.6zM250.3 209.6h8.6v8.6h-8.6zM250.3 217.6h8.6v8.6h-8.6zM250.3 225.6h8.6v8.6h-8.6zM250.3 233.6h8.6v8.6h-8.6zM250.3 241.6h8.6v8.6h-8.6zM250.3 249.6h8.6v8.6h-8.6zM258.3 89.6h8.6v8.6h-8.6zM258.3 97.6h8.6v8.6h-8.6zM258.3 137.6h8.6v8.6h-8.6zM258.3 145.6h8.6v8.6h-8.6zM258.3 153.6h8.6v8.6h-8.6zM258.3 161.6h8.6v8.6h-8.6zM258.3 169.6h8.6v8.6h-8.6zM258.3 177.6h8.6v8.6h-8.6zM258.3 185.6h8.6v8.6h-8.6zM258.3 257.6h8.6v8.6h-8.6zM258.3 265.6h8.6v8.6h-8.6zM258.3 273.6h8.6v8.6h-8.6zM258.3 281.6h8.6v8.6h-8.6zM258.3 289.6h8.6v8.6h-8.6zM258.3 297.6h8.6v8.6h-8.6zM258.3 305.6h8.6v8.6h-8.6zM258.3 313.6h8.6v8.6h-8.6zM266.3 25.6h8.6v8.6h-8.6zM266.3 33.6h8.6v8.6h-8.6zM266.3 73.6h8.6v8.6h-8.6zM266.3 329.6h8.6v8.6h-8.6zM266.3 337.6h8.6v8.6h-8.6zM274.3 9.6h8.6v8.6h-8.6z"/><path fill="#006aff" d="M258.3 105.6h8.6v8.6h-8.6zM258.3 113.6h8.6v8.6h-8.6zM258.3 121.6h8.6v8.6h-8.6zM258.3 129.6h8.6v8.6h-8.6zM258.3 193.6h8.6v8.6h-8.6zM258.3 201.6h8.6v8.6h-8.6zM258.3 209.6h8.6v8.6h-8.6zM258.3 217.6h8.6v8.6h-8.6zM258.3 225.6h8.6v8.6h-8.6zM258.3 233.6h8.6v8.6h-8.6zM258.3 241.6h8.6v8.6h-8.6zM258.3 249.6h8.6v8.6h-8.6zM266.3 81.6h8.6v8.6h-8.6zM266.3 153.6h8.6v8.6h-8.6zM266.3 161.6h8.6v8.6h-8.6zM266.3 169.6h8.6v8.6h-8.6zM266.3 177.6h8.6v8.6h-8.6zM266.3 273.6h8.6v8.6h-8.6zM266.3 321.6h8.6v8.6h-8.6zM266.3 345.6h8.6v8.6h-8.6zM274.3 57.6h8.6v8.6h-8.6zM282.3 -14.4h8.6v8.6h-8.6zM282.3 -6.4h8.6v8.6h-8.6z"/><path fill="#0080ff" d="M266.3 89.6h8.6v8.6h-8.6zM266.3 97.6h8.6v8.6h-8.6zM266.3 105.6h8.6v8.6h-8.6zM266.3 121.6h8.6v8.6h-8.6zM266.3 129.6h8.6v8.6h-8.6zM266.3 137.6h8.6v8.6h-8.6zM266.3 145.6h8.6v8.6h-8.6zM266.3 185.6h8.6v8.6h-8.6zM266.3 193.6h8.6v8.6h-8.6zM266.3 201.6h8.6v8.6h-8.6zM266.3 209.6h8.6v8.6h-8.6zM266.3 217.6h8.6v8.6h-8.6zM266.3 241.6h8.6v8.6h-8.6zM266.3 249.6h8.6v8.6h-8.6zM266.3 257.6h8.6v8.6h-8.6zM266.3 265.6h8.6v8.6h-8.6zM266.3 281.6h8.6v8.6h-8.6zM266.3 289.6h8.6v8.6h-8.6zM266.3 297.6h8.6v8.6h-8.6zM266.3 305.6h8.6v8.6h-8.6zM266.3 313.6h8.6v8.6h-8.6zM274.3 17.6h8.6v8.6h-8.6zM274.3 41.6h8.6v8.6h-8.6zM274.3 49.6h8.6v8.6h-8.6zM274.3 65.6h8.6v8.6h-8.6zM274.3 73.6h8.6v8.6h-8.6zM274.3 329.6h8.6v8.6h-8.6zM274.3 337.6h8.6v8.6h-8.6zM274.3 345.6h8.6v8.6h-8.6zM282.3 1.6h8.6v8.6h-8.6z"/><path fill="#0095ff" d="M266.3 113.6h8.6v8.6h-8.6zM266.3 225.6h8.6v8.6h-8.6zM266.3 233.6h8.6v8.6h-8.6zM274.3 25.6h8.6v8.6h-8.6zM274.3 33.6h8.6v8.6h-8.6zM274.3 81.6h8.6v8.6h-8.6zM274.3 137.6h8.6v8.6h-8.6zM274.3 145.6h8.6v8.6h-8.6zM274.3 153.6h8.6v8.6h-8.6zM274.3 161.6h8.6v8.6h-8.6zM274.3 169.6h8.6v8.6h-8.6zM274.3 177.6h8.6v8.6h-8.6zM274.3 185.6h8.6v8.6h-8.6zM274.3 193.6h8.6v8.6h-8.6zM274.3 201.6h8.6v8.6h-8.6zM274.3 265.6h8.6v8.6h-8.6zM274.3 273.6h8.6v8.6h-8.6zM274.3 321.6h8.6v8.6h-8.6zM282.3 9.6h8.6v8.6h-8.6zM290.3 -14.4h8.6v8.6h-8.6z"/><path fill="#00aaff" d="M274.3 89.6h8.6v8.6h-8.6zM274.3 97.6h8.6v8.6h-8.6zM274.3 105.6h8.6v8.6h-8.6zM274.3 113.6h8.6v8.6h-8.6zM274.3 121.6h8.6v8.6h-8.6zM274.3 129.6h8.6v8.6h-8.6zM274.3 209.6h8.6v8.6h-8.6zM274.3 217.6h8.6v8.6h-8.6zM274.3 225.6h8.6v8.6h-8.6zM274.3 233.6h8.6v8.6h-8.6zM274.3 241.6h8.6v8.6h-8.6zM274.3 249.6h8.6v8.6h-8.6zM274.3 257.6h8.6v8.6h-8.6zM274.3 281.6h8.6v8.6h-8.6zM274.3 289.6h8.6v8.6h-8.6zM274.3 297.6h8.6v8.6h-8.6zM274.3 305.6h8.6v8.6h-8.6zM274.3 313.6h8.6v8.6h-8.6zM282.3 17.6h8.6v8.6h-8.6zM282.3 49.6h8.6v8.6h-8.6zM282.3 57.6h8.6v8.6h-8.6zM282.3 65.6h8.6v8.6h-8.6zM282.3 145.6h8.6v8.6h-8.6zM282.3 153.6h8.6v8.6h-8.6zM282.3 161.6h8.6v8.6h-8.6zM282.3 169.6h8.6v8.6h-8.6zM282.3 177.6h8.6v8.6h-8.6zM282.3 185.6h8.6v8.6h-8.6zM282.3 193.6h8.6v8.6h-8.6zM282.3 329.6h8.6v8.6h-8.6zM282.3 337.6h8.6v8.6h-8.6zM282.3 345.6h8.6v8.6h-8.6zM290.3 -6.4h8.6v8.6h-8.6zM290.3 1.6h8.6v8.6h-8.6z"/><path fill="#00bfff" d="M282.3 25.6h8.6v8.6h-8.6zM282.3 33.6h8.6v8.6h-8.6zM282.3 41.6h8.6v8.6h-8.6zM282.3 73.6h8.6v8.6h-8.6zM282.3 81.6h8.6v8.6h-8.6zM282.3 129.6h8.6v8.6h-8.6zM282.3 137.6h8.6v8.6h-8.6zM282.3 201.6h8.6v8.6h-8.6zM282.3 209.6h8.6v8.6h-8.6zM282.3 217.6h8.6v8.6h-8.6zM282.3 257.6h8.6v8.6h-8.6zM282.3 265.6h8.6v8.6h-8.6zM282.3 273.6h8.6v8.6h-8.6zM282.3 321.6h8.6v8.6h-8.6zM290.3 161.6h8.6v8.6h-8.6zM290.3 169.6h8.6v8.6h-8.6zM290.3 177.6h8.6v8.6h-8.6zM290.3 185.6h8.6v8.6h-8.6z"/><path fill="#00d4ff" d="M282.3 89.6h8.6v8.6h-8.6zM282.3 97.6h8.6v8.6h-8.6zM282.3 105.6h8.6v8.6h-8.6zM282.3 113.6h8.6v8.6h-8.6zM282.3 121.6h8.6v8.6h-8.6zM282.3 225.6h8.6v8.6h-8.6zM282.3 233.6h8.6v8.6h-8.6zM282.3 241.6h8.6v8.6h-8.6zM282.3 249.6h8.6v8.6h-8.6zM282.3 281.6h8.6v8.6h-8.6zM282.3 289.6h8.6v8.6h-8.6zM282.3 297.6h8.6v8.6h-8.6zM282.3 305.6h8.6v8.6h-8.6zM282.3 313.6h8.6v8.6h-8.6zM290.3 9.6h8.6v8.6h-8.6zM290.3 137.6h8.6v8.6h-8.6zM290.3 145.6h8.6v8.6h-8.6zM290.3 153.6h8.6v8.6h-8.6zM290.3 193.6h8.6v8.6h-8.6zM290.3 201.6h8.6v8.6h-8.6zM290.3 209.6h8.6v8.6h-8.6zM290.3 329.6h8.6v8.6h-8.6zM290.3 337.6h8.6v8.6h-8.6zM290.3 345.6h8.6v8.6h-8.6zM298.3 -14.4h8.6v8.6h-8.6zM298.3 -6.4h8.6v8.6h-8.6zM298.3 169.6h8.6v8.6h-8.6z"/><path fill="#00eaff" d="M290.3 17.6h8.6v8.6h-8.6zM290.3 41.6h8.6v8.6h-8.6zM290.3 49.6h8.6v8.6h-8.6zM290.3 57.6h8.6v8.6h-8.6zM290.3 65.6h8.6v8.6h-8.6zM290.3 73.6h8.6v8.6h-8.6zM290.3 81.6h8.6v8.6h-8.6zM290.3 121.6h8.6v8.6h-8.6zM290.3 129.6h8.6v8.6h-8.6zM290.3 217.6h8.6v8.6h-8.6zM290.3 225.6h8.6v8.6h-8.6zM290.3 233.6h8.6v8.6h-8.6zM290.3 241.6h8.6v8.6h-8.6zM290.3 249.6h8.6v8.6h-8.6zM290.3 257.6h8.6v8.6h-8.6zM290.3 265.6h8.6v8.6h-8.6zM290.3 273.6h8.6v8.6h-8.6zM290.3 313.6h8.6v8.6h-8.6zM290.3 321.6h8.6v8.6h-8.6zM298.3 1.6h8.6v8.6h-8.6zM298.3 137.6h8.6v8.6h-8.6zM298.3 145.6h8.6v8.6h-8.6zM298.3 153.6h8.6v8.6h-8.6zM298.3 161.6h8.6v8.6h-8.6zM298.3 177.6h8.6v8.6h-8.6zM298.3 185.6h8.6v8.6h-8.6zM298.3 193.6h8.6v8.6h-8.6zM298.3 201.6h8.6v8.6h-8.6zM298.3 329.6h8.6v8.6h-8.6zM298.3 337.6h8.6v8.6h-8.6zM298.3 345.6h8.6v8.6h-8.6z"/><path fill="#00ffff" d="M290.3 25.6h8.6v8.6h-8.6zM290.3 33.6h8.6v8.6h-8.6zM290.3 89.6h8.6v8.6h-8.6zM290.3 97.6h8.6v8.6h-8.6zM290.3 105.6h8.6v8.6h-8.6zM290.3 113.6h8.6v8.6h-8.6zM290.3 281.6h8.6v8.6h-8.6zM290.3 289.6h8.6v8.6h-8.6zM290.3 297.6h8.6v8.6h-8.6zM290.3 305.6h8.6v8.6h-8.6zM298.3 9.6h8.6v8.6h-8.6zM298.3 121.6h8.6v8.6h-8.6zM298.3 129.6h8.6v8.6h-8.6zM298.3 209.6h8.6v8.6h-8.6zM298.3 217.6h8.6v8.6h-8.6zM298.3 225.6h8.6v8.6h-8.6zM298.3 321.6h8.6v8.6h-8.6zM306.3 -14.4h8.6v8.6h-8.6zM306.3 -6.4h8.6v8.6h-8.6zM306.3 1.6h8.6v8.6h-8.6zM306.3 137.6h8.6v8.6h-8.6zM306.3 145.6h8.6v8.6h-8.6zM306.3 153.6h8.6v8.6h-8.6zM306.3 161.6h8.6v8.6h-8.6zM306.3 169.6h8.6v8.6h-8.6zM306.3 177.6h8.6v8.6h-8.6zM306.3 185.6h8.6v8.6h-8.6zM306.3 193.6h8.6v8.6h-8.6zM306.3 201.6h8.6v8.6h-8.6z"/><path fill="#15ffea" d="M298.3 17.6h8.6v8.6h-8.6zM298.3 25.6h8.6v8.6h-8.6zM298.3 33.6h8.6v8.6h-8.6zM298.3 41.6h8.6v8.6h-8.6zM298.3 49.6h8.6v8.6h-8.6zM298.3 57.6h8.6v8.6h-8.6zM298.3 65.6h8.6v8.6h-8.6zM298.3 73.6h8.6v8.6h-8.6zM298.3 81.6h8.6v8.6h-8.6zM298.3 89.6h8.6v8.6h-8.6zM298.3 97.6h8.6v8.6h-8.6zM298.3 105.6h8.6v8.6h-8.6zM298.3 113.6h8.6v8.6h-8.6zM298.3 233.6h8.6v8.6h-8.6zM298.3 241.6h8.6v8.6h-8.6zM298.3 249.6h8.6v8.6h-8.6zM298.3 257.6h8.6v8.6h-8.6zM298.3 265.6h8.6v8.6h-8.6zM298.3 273.6h8.6v8.6h-8.6zM298.3 281.6h8.6v8.6h-8.6zM298.3 289.6h8.6v8.6h-8.6zM298.3 305.6h8.6v8.6h-8.6zM298.3 313.6h8.6v8.6h-8.6zM306.3 9.6h8.6v8.6h-8.6zM306.3 121.6h8.6v8.6h-8.6zM306.3 129.6h8.6v8.6h-8.6zM306.3 209.6h8.6v8.6h-8.6zM306.3 217.6h8.6v8.6h-8.6zM306.3 321.6h8.6v8.6h-8.6zM306.3 329.6h8.6v8.6h-8.6zM306.3 337.6h8.6v8.6h-8.6zM314.3 -14.4h8.6v8.6h-8.6zM314.3 -6.4h8.6v8.6h-8.6zM314.3 137.6h8.6v8.6h-8.6zM314.3 145.6h8.6v8.6h-8.6zM314.3 153.6h8.6v8.6h-8.6zM314.3 161.6h8.6v8.6h-8.6zM314.3 169.6h8.6v8.6h-8.6zM314.3 177.6h8.6v8.6h-8.6zM314.3 185.6h8.6v8.6h-8.6zM314.3 193.6h8.6v8.6h-8.6zM314.3 201.6h8.6v8.6h-8.6zM322.3 161.6h8.6v8.6h-8.6zM322.3 169.6h8.6v8.6h-8.6zM322.3 177.6h8.6v8.6h-8.6z"/><path fill="#2bffd4" d="M298.3 297.6h8.6v8.6h-8.6zM306.3 17.6h8.6v8.6h-8.6zM306.3 49.6h8.6v8.6h-8.6zM306.3 57.6h8.6v8.6h-8.6zM306.3 65.6h8.6v8.6h-8.6zM306.3 73.6h8.6v8.6h-8.6zM306.3 81.6h8.6v8.6h-8.6zM306.3 89.6h8.6v8.6h-8.6zM306.3 97.6h8.6v8.6h-8.6zM306.3 105.6h8.6v8.6h-8.6zM306.3 113.6h8.6v8.6h-8.6zM306.3 225.6h8.6v8.6h-8.6zM306.3 233.6h8.6v8.6h-8.6zM306.3 241.6h8.6v8.6h-8.6zM306.3 249.6h8.6v8.6h-8.6zM306.3 257.6h8.6v8.6h-8.6zM306.3 265.6h8.6v8.6h-8.6zM306.3 273.6h8.6v8.6h-8.6zM306.3 313.6h8.6v8.6h-8.6zM314.3 1.6h8.6v8.6h-8.6zM314.3 9.6h8.6v8.6h-8.6zM314.3 121.6h8.6v8.6h-8.6zM314.3 129.6h8.6v8.6h-8.6zM314.3 209.6h8.6v8.6h-8.6zM314.3 217.6h8.6v8.6h-8.6zM314.3 321.6h8.6v8.6h-8.6zM314.3 329.6h8.6v8.6h-8.6zM314.3 337.6h8.6v8.6h-8.6zM322.3 -14.4h8.6v8.6h-8.6zM322.3 -6.4h8.6v8.6h-8.6zM322.3 129.6h8.6v8.6h-8.6zM322.3 137.6h8.6v8.6h-8.6zM322.3 145.6h8.6v8.6h-8.6zM322.3 153.6h8.6v8.6h-8.6zM322.3 185.6h8.6v8.6h-8.6zM322.3 193.6h8.6v8.6h-8.6zM322.3 201.6h8.6v8.6h-8.6zM322.3 209.6h8.6v8.6h-8.6zM330.3 145.6h8.6v8.6h-8.6zM330.3 153.6h8.6v8.6h-8.6zM330.3 161.6h8.6v8.6h-8.6zM330.3 169.6h8.6v8.6h-8.6zM330.3 177.6h8.6v8.6h-8.6zM330.3 185.6h8.6v8.6h-8.6zM330.3 193.6h8.6v8.6h-8.6z"/><path fill="#40ffbf" d="M306.3 25.6h8.6v8.6h-8.6zM306.3 33.6h8.6v8.6h-8.6zM306.3 41.6h8.6v8.6h-8.6zM306.3 281.6h8.6v8.6h-8.6zM306.3 289.6h8.6v8.6h-8.6zM306.3 297.6h8.6v8.6h-8.6zM306.3 305.6h8.6v8.6h-8.6zM314.3 17.6h8.6v8.6h-8.6zM314.3 49.6h8.6v8.6h-8.6zM314.3 57.6h8.6v8.6h-8.6zM314.3 65.6h8.6v8.6h-8.6zM314.3 73.6h8.6v8.6h-8.6zM314.3 81.6h8.6v8.6h-8.6zM314.3 89.6h8.6v8.6h-8.6zM314.3 97.6h8.6v8.6h-8.6zM314.3 105.6h8.6v8.6h-8.6zM314.3 113.6h8.6v8.6h-8.6zM314.3 225.6h8.6v8.6h-8.6zM314.3 233.6h8.6v8.6h-8.6zM314.3 241.6h8.6v8.6h-8.6zM314.3 249.6h8.6v8.6h-8.6zM314.3 257.6h8.6v8.6h-8.6zM314.3 265.6h8.6v8.6h-8.6zM314.3 273.6h8.6v8.6h-8.6zM314.3 281.6h8.6v8.6h-8.6zM314.3 313.6h8.6v8.6h-8.6zM322.3 1.6h8.6v8.6h-8.6zM322.3 9.6h8.6v8.6h-8.6zM322.3 105.6h8.6v8.6h-8.6zM322.3 113.6h8.6v8.6h-8.6zM322.3 121.6h8.6v8.6h-8.6zM322.3 217.6h8.6v8.6h-8.6zM322.3 225.6h8.6v8.6h-8.6zM322.3 321.6h8.6v8.6h-8.6zM322.3 329.6h8.6v8.6h-8.6zM322.3 337.6h8.6v8.6h-8.6zM330.3 -6.4h8.6v8.6h-8.6zM330.3 1.6h8.6v8.6h-8.6zM330.3 105.6h8.6v8.6h-8.6zM330.3 113.6h8.6v8.6h-8.6zM330.3 121.6h8.6v8.6h-8.6zM330.3 129.6h8.6v8.6h-8.6zM330.3 137.6h8.6v8.6h-8.6zM330.3 201.6h8.6v8.6h-8.6zM330.3 209.6h8.6v8.6h-8.6zM330.3 217.6h8.6v8.6h-8.6zM330.3 225.6h8.6v8.6h-8.6zM330.3 337.6h8.6v8.6h-8.6zM338.3 113.6h8.6v8.6h-8.6zM338.3 121.6h8.6v8.6h-8.6zM338.3 129.6h8.6v8.6h-8.6zM338.3 137.6h8.6v8.6h-8.6zM338.3 145.6h8.6v8.6h-8.6zM338.3 153.6h8.6v8.6h-8.6zM338.3 161.6h8.6v8.6h-8.6zM338.3 169.6h8.6v8.6h-8.6zM338.3 177.6h8.6v8.6h-8.6zM338.3 185.6h8.6v8.6h-8.6zM338.3 193.6h8.6v8.6h-8.6zM338.3 201.6h8.6v8.6h-8.6zM338.3 209.6h8.6v8.6h-8.6zM338.3 217.6h8.6v8.6h-8.6zM346.3 129.6h8.6v8.6h-8.6zM346.3 137.6h8.6v8.6h-8.6zM346.3 145.6h8.6v8.6h-8.6zM346.3 153.6h8.6v8.6h-8.6zM346.3 161.6h8.6v8.6h-8.6zM346.3 169.6h8.6v8.6h-8.6zM346.3 177.6h8.6v8.6h-8.6zM346.3 185.6h8.6v8.6h-8.6zM346.3 193.6h8.6v8.6h-8.6zM346.3 201.6h8.6v8.6h-8.6zM346.3 209.6h8.6v8.6h-8.6z"/><path fill="#55ffaa" d="M314.3 25.6h8.6v8.6h-8.6zM314.3 33.6h8.6v8.6h-8.6zM314.3 41.6h8.6v8.6h-8.6zM314.3 289.6h8.6v8.6h-8.6zM314.3 297.6h8.6v8.6h-8.6zM314.3 305.6h8.6v8.6h-8.6zM322.3 17.6h8.6v8.6h-8.6zM322.3 25.6h8.6v8.6h-8.6zM322.3 33.6h8.6v8.6h-8.6zM322.3 41.6h8.6v8.6h-8.6zM322.3 49.6h8.6v8.6h-8.6zM322.3 57.6h8.6v8.6h-8.6zM322.3 65.6h8.6v8.6h-8.6zM322.3 73.6h8.6v8.6h-8.6zM322.3 81.6h8.6v8.6h-8.6zM322.3 89.6h8.6v8.6h-8.6zM322.3 97.6h8.6v8.6h-8.6zM322.3 233.6h8.6v8.6h-8.6zM322.3 241.6h8.6v8.6h-8.6zM322.3 249.6h8.6v8.6h-8.6zM322.3 257.6h8.6v8.6h-8.6zM322.3 265.6h8.6v8.6h-8.6zM322.3 273.6h8.6v8.6h-8.6zM322.3 281.6h8.6v8.6h-8.6zM322.3 289.6h8.6v8.6h-8.6zM322.3 297.6h8.6v8.6h-8.6zM322.3 305.6h8.6v8.6h-8.6zM322.3 313.6h8.6v8.6h-8.6zM330.3 9.6h8.6v8.6h-8.6zM330.3 17.6h8.6v8.6h-8.6zM330.3 25.6h8.6v8.6h-8.6zM330.3 41.6h8.6v8.6h-8.6zM330.3 49.6h8.6v8.6h-8.6zM330.3 57.6h8.6v8.6h-8.6zM330.3 65.6h8.6v8.6h-8.6zM330.3 73.6h8.6v8.6h-8.6zM330.3 81.6h8.6v8.6h-8.6zM330.3 89.6h8.6v8.6h-8.6zM330.3 97.6h8.6v8.6h-8.6zM330.3 233.6h8.6v8.6h-8.6zM330.3 241.6h8.6v8.6h-8.6zM330.3 249.6h8.6v8.6h-8.6zM330.3 257.6h8.6v8.6h-8.6zM330.3 265.6h8.6v8.6h-8.6zM330.3 273.6h8.6v8.6h-8.6zM330.3 281.6h8.6v8.6h-8.6zM330.3 289.6h8.6v8.6h-8.6zM330.3 297.6h8.6v8.6h-8.6zM330.3 305.6h8.6v8.6h-8.6zM330.3 313.6h8.6v8.6h-8.6zM330.3 321.6h8.6v8.6h-8.6zM330.3 329.6h8.6v8.6h-8.6zM338.3 -6.4h8.6v8.6h-8.6zM338.3 1.6h8.6v8.6h-8.6zM338.3 9.6h8.6v8.6h-8.6zM338.3 17.6h8.6v8.6h-8.6zM338.3 49.6h8.6v8.6h-8.6zM338.3 57.6h8.6v8.6h-8.6zM338.3 65.6h8.6v8.6h-8.6zM338.3 73.6h8.6v8.6h-8.6zM338.3 81.6h8.6v8.6h-8.6zM338.3 89.6h8.6v8.6h-8.6zM338.3 97.6h8.6v8.6h-8.6zM338.3 105.6h8.6v8.6h-8.6zM338.3 225.6h8.6v8.6h-8.6zM338.3 233.6h8.6v8.6h-8.6zM338.3 241.6h8.6v8.6h-8.6zM338.3 249.6h8.6v8.6h-8.6zM338.3 257.6h8.6v8.6h-8.6zM338.3 265.6h8.6v8.6h-8.6zM338.3 273.6h8.6v8.6h-8.6zM338.3 281.6h8.6v8.6h-8.6zM338.3 289.6h8.6v8.6h-8.6zM338.3 305.6h8.6v8.6h-8.6zM338.3 313.6h8.6v8.6h-8.6zM338.3 321.6h8.6v8.6h-8.6zM338.3 329.6h8.6v8.6h-8.6zM346.3 -6.4h8.6v8.6h-8.6zM346.3 1.6h8.6v8.6h-8.6zM346.3 9.6h8.6v8.6h-8.6zM346.3 17.6h8.6v8.6h-8.6zM346.3 41.6h8.6v8.6h-8.6zM346.3 49.6h8.6v8.6h-8.6zM346.3 57.6h8.6v8.6h-8.6zM346.3 65.6h8.6v8.6h-8.6zM346.3 73.6h8.6v8.6h-8.6zM346.3 81.6h8.6v8.6h-8.6zM346.3 89.6h8.6v8.6h-8.6zM346.3 97.6h8.6v8.6h-8.6zM346.3 105.6h8.6v8.6h-8.6zM346.3 113.6h8.6v8.6h-8.6zM346.3 121.6h8.6v8.6h-8.6zM346.3 217.6h8.6v8.6h-8.6zM346.3 225.6h8.6v8.6h-8.6zM346.3 233.6h8.6v8.6h-8.6zM346.3 241.6h8.6v8.6h-8.6zM346.3 249.6h8.6v8.6h-8.6zM346.3 257.6h8.6v8.6h-8.6zM346.3 265.6h8.6v8.6h-8.6zM346.3 273.6h8.6v8.6h-8.6zM346.3 281.6h8.6v8.6h-8.6zM346.3 289.6h8.6v8.6h-8.6zM346.3 297.6h8.6v8.6h-8.6zM346.3 305.6h8.6v8.6h-8.6zM346.3 313.6h8.6v8.6h-8.6zM346.3 321.6h8.6v8.6h-8.6zM346.3 329.6h8.6v8.6h-8.6zM354.3 1.6h8.6v8.6h-8.6zM354.3 9.6h8.6v8.6h-8.6zM354.3 17.6h8.6v8.6h-8.6zM354.3 33.6h8.6v8.6h-8.6zM354.3 41.6h8.6v8.6h-8.6zM354.3 49.6h8.6v8.6h-8.6zM354.3 57.6h8.6v8.6h-8.6zM354.3 65.6h8.6v8.6h-8.6zM354.3 73.6h8.6v8.6h-8.6zM354.3 81.6h8.6v8.6h-8.6zM354.3 89.6h8.6v8.6h-8.6zM354.3 97.6h8.6v8.6h-8.6zM354.3 105.6h8.6v8.6h-8.6zM354.3 113.6h8.6v8.6h-8.6zM354.3 121.6h8.6v8.6h-8.6zM354.3 129.6h8.6v8.6h-8.6zM354.3 137.6h8.6v8.6h-8.6zM354.3 145.6h8.6v8.6h-8.6zM354.3 153.6h8.6v8.6h-8.6zM354.3 161.6h8.6v8.6h-8.6zM354.3 169.6h8.6v8.6h-8.6zM354.3 177.6h8.6v8.6h-8.6zM354.3 185.6h8.6v8.6h-8.6zM354.3 193.6h8.6v8.6h-8.6zM354.3 201.6h8.6v8.6h-8.6zM354.3 209.6h8.6v8.6h-8.6zM354.3 217.6h8.6v8.6h-8.6zM354.3 225.6h8.6v8.6h-8.6zM354.3 233.6h8.6v8.6h-8.6zM354.3 241.6h8.6v8.6h-8.6zM354.3 249.6h8.6v8.6h-8.6zM354.3 257.6h8.6v8.6h-8.6zM354.3 265.6h8.6v8.6h-8.6zM354.3 273.6h8.6v8.6h-8.6zM354.3 281.6h8.6v8.6h-8.6zM354.3 289.6h8.6v8.6h-8.6zM354.3 297.6h8.6v8.6h-8.6zM354.3 305.6h8.6v8.6h-8.6zM354.3 313.6h8.6v8.6h-8.6zM354.3 321.6h8.6v8.6h-8.6zM354.3 329.6h8.6v8.6h-8.6zM362.3 1.6h8.6v8.6h-8.6zM362.3 9.6h8.6v8.6h-8.6zM362.3 17.6h8.6v8.6h-8.6zM362.3 25.6h8.6v8.6h-8.6zM362.3 33.6h8.6v8.6h-8.6zM362.3 41.6h8.6v8.6h-8.6zM362.3 49.6h8.6v8.6h-8.6zM362.3 57.6h8.6v8.6h-8.6zM362.3 65.6h8.6v8.6h-8.6zM362.3 73.6h8.6v8.6h-8.6zM362.3 81.6h8.6v8.6h-8.6zM362.3 89.6h8.6v8.6h-8.6zM362.3 97.6h8.6v8.6h-8.6zM362.3 105.6h8.6v8.6h-8.6zM362.3 113.6h8.6v8.6h-8.6zM362.3 121.6h8.6v8.6h-8.6zM362.3 129.6h8.6v8.6h-8.6zM362.3 137.6h8.6v8.6h-8.6zM362.3 145.6h8.6v8.6h-8.6zM362.3 153.6h8.6v8.6h-8.6zM362.3 161.6h8.6v8.6h-8.6zM362.3 169.6h8.6v8.6h-8.6zM362.3 177.6h8.6v8.6h-8.6zM362.3 185.6h8.6v8.6h-8.6zM362.3 193.6h8.6v8.6h-8.6zM362.3 201.6h8.6v8.6h-8.6zM362.3 209.6h8.6v8.6h-8.6zM362.3 217.6h8.6v8.6h-8.6zM362.3 225.6h8.6v8.6h-8.6zM362.3 233.6h8.6v8.6h-8.6zM362.3 241.6h8.6v8.6h-8.6zM362.3 249.6h8.6v8.6h-8.6zM362.3 257.6h8.6v8.6h-8.6zM362.3 265.6h8.6v8.6h-8.6zM362.3 273.6h8.6v8.6h-8.6zM362.3 281.6h8.6v8.6h-8.6zM362.3 289.6h8.6v8.6h-8.6zM362.3 297.6h8.6v8.6h-8.6zM362.3 305.6h8.6v8.6h-8.6zM362.3 313.6h8.6v8.6h-8.6zM362.3 321.6h8.6v8.6h-8.6zM370.3 9.6h8.6v8.6h-8.6zM370.3 17.6h8.6v8.6h-8.6zM370.3 25.6h8.6v8.6h-8.6zM370.3 33.6h8.6v8.6h-8.6zM370.3 41.6h8.6v8.6h-8.6zM370.3 49.6h8.6v8.6h-8.6zM370.3 57.6h8.6v8.6h-8.6zM370.3 65.6h8.6v8.6h-8.6zM370.3 73.6h8.6v8.6h-8.6zM370.3 81.6h8.6v8.6h-8.6zM370.3 89.6h8.6v8.6h-8.6zM370.3 97.6h8.6v8.6h-8.6zM370.3 105.6h8.6v8.6h-8.6zM370.3 113.6h8.6v8.6h-8.6zM370.3 121.6h8.6v8.6h-8.6zM370.3 129.6h8.6v8.6h-8.6zM370.3 137.6h8.6v8.6h-8.6zM370.3 145.6h8.6v8.6h-8.6zM370.3 153.6h8.6v8.6h-8.6zM370.3 161.6h8.6v8.6h-8.6zM370.3 169.6h8.6v8.6h-8.6zM370.3 177.6h8.6v8.6h-8.6zM370.3 185.6h8.6v8.6h-8.6zM370.3 193.6h8.6v8.6h-8.6zM370.3 201.6h8.6v8.6h-8.6zM370.3 209.6h8.6v8.6h-8.6zM370.3 217.6h8.6v8.6h-8.6zM370.3 225.6h8.6v8.6h-8.6zM370.3 233.6h8.6v8.6h-8.6zM370.3 241.6h8.6v8.6h-8.6zM370.3 249.6h8.6v8.6h-8.6zM370.3 257.6h8.6v8.6h-8.6zM370.3 265.6h8.6v8.6h-8.6zM370.3 273.6h8.6v8.6h-8.6zM370.3 281.6h8.6v8.6h-8.6zM370.3 289.6h8.6v8.6h-8.6zM370.3 297.6h8.6v8.6h-8.6zM370.3 305.6h8.6v8.6h-8.6zM370.3 313.6h8.6v8.6h-8.6zM370.3 321.6h8.6v8.6h-8.6zM378.3 17.6h8.6v8.6h-8.6zM378.3 25.6h8.6v8.6h-8.6zM378.3 33.6h8.6v8.6h-8.6zM378.3 41.6h8.6v8.6h-8.6zM378.3 49.6h8.6v8.6h-8.6zM378.3 57.6h8.6v8.6h-8.6zM378.3 65.6h8.6v8.6h-8.6zM378.3 73.6h8.6v8.6h-8.6zM378.3 81.6h8.6v8.6h-8.6zM378.3 89.6h8.6v8.6h-8.6zM378.3 97.6h8.6v8.6h-8.6zM378.3 105.6h8.6v8.6h-8.6zM378.3 113.6h8.6v8.6h-8.6zM378.3 121.6h8.6v8.6h-8.6zM378.3 129.6h8.6v8.6h-8.6zM378.3 137.6h8.6v8.6h-8.6zM378.3 145.6h8.6v8.6h-8.6zM378.3 153.6h8.6v8.6h-8.6zM378.3 161.6h8.6v8.6h-8.6zM378.3 169.6h8.6v8.6h-8.6zM378.3 177.6h8.6v8.6h-8.6zM378.3 185.6h8.6v8.6h-8.6zM378.3 193.6h8.6v8.6h-8.6zM378.3 201.6h8.6v8.6h-8.6zM378.3 209.6h8.6v8.6h-8.6zM378.3 217.6h8.6v8.6h-8.6zM378.3 225.6h8.6v8.6h-8.6zM378.3 233.6h8.6v8.6h-8.6zM378.3 241.6h8.6v8.6h-8.6zM378.3 249.6h8.6v8.6h-8.6zM378.3 257.6h8.6v8.6h-8.6zM378.3 265.6h8.6v8.6h-8.6zM378.3 273.6h8.6v8.6h-8.6zM378.3 281.6h8.6v8.6h-8.6zM378.3 289.6h8.6v8.6h-8.6zM378.3 297.6h8.6v8.6h-8.6zM378.3 305.6h8.6v8.6h-8.6zM378.3 313.6h8.6v8.6h-8.6zM386.3 17.6h8.6v8.6h-8.6zM386.3 25.6h8.6v8.6h-8.6zM386.3 33.6h8.6v8.6h-8.6zM386.3 41.6h8.6v8.6h-8.6zM386.3 49.6h8.6v8.6h-8.6zM386.3 57.6h8.6v8.6h-8.6zM386.3 65.6h8.6v8.6h-8.6zM386.3 73.6h8.6v8.6h-8.6zM386.3 81.6h8.6v8.6h-8.6zM386.3 89.6h8.6v8.6h-8.6zM386.3 97.6h8.6v8.6h-8.6zM386.3 105.6h8.6v8.6h-8.6zM386.3 113.6h8.6v8.6h-8.6zM386.3 121.6h8.6v8.6h-8.6zM386.3 129.6h8.6v8.6h-8.6zM386.3 137.6h8.6v8.6h-8.6zM386.3 145.6h8.6v8.6h-8.6zM386.3 153.6h8.6v8.6h-8.6zM386.3 161.6h8.6v8.6h-8.6zM386.3 169.6h8.6v8.6h-8.6zM386.3 177.6h8.6v8.6h-8.6zM386.3 185.6h8.6v8.6h-8.6zM386.3 193.6h8.6v8.6h-8.6zM386.3 201.6h8.6v8.6h-8.6zM386.3 209.6h8.6v8.6h-8.6zM386.3 217.6h8.6v8.6h-8.6zM386.3 225.6h8.6v8.6h-8.6zM386.3 233.6h8.6v8.6h-8.6zM386.3 241.6h8.6v8.6h-8.6zM386.3 249.6h8.6v8.6h-8.6zM386.3 257.6h8.6v8.6h-8.6zM386.3 265.6h8.6v8.6h-8.6zM386.3 273.6h8.6v8.6h-8.6zM386.3 281.6h8.6v8.6h-8.6zM386.3 289.6h8.6v8.6h-8.6zM386.3 297.6h8.6v8.6h-8.6zM386.3 305.6h8.6v8.6h-8.6zM394.3 25.6h8.6v8.6h-8.6zM394.3 33.6h8.6v8.6h-8.6zM394.3 41.6h8.6v8.6h-8.6zM394.3 49.6h8.6v8.6h-8.6zM394.3 57.6h8.6v8.6h-8.6zM394.3 65.6h8.6v8.6h-8.6zM394.3 73.6h8.6v8.6h-8.6zM394.3 81.6h8.6v8.6h-8.6zM394.3 89.6h8.6v8.6h-8.6zM394.3 97.6h8.6v8.6h-8.6zM394.3 105.6h8.6v8.6h-8.6zM394.3 113.6h8.6v8.6h-8.6zM394.3 121.6h8.6v8.6h-8.6zM394.3 129.6h8.6v8.6h-8.6zM394.3 137.6h8.6v8.6h-8.6zM394.3 145.6h8.6v8.6h-8.6zM394.3 153.6h8.6v8.6h-8.6zM394.3 161.6h8.6v8.6h-8.6zM394.3 169.6h8.6v8.6h-8.6zM394.3 177.6h8.6v8.6h-8.6zM394.3 185.6h8.6v8.6h-8.6zM394.3 193.6h8.6v8.6h-8.6zM394.3 201.6h8.6v8.6h-8.6zM394.3 209.6h8.6v8.6h-8.6zM394.3 217.6h8.6v8.6h-8.6zM394.3 225.6h8.6v8.6h-8.6zM394.3 233.6h8.6v8.6h-8.6zM394.3 241.6h8.6v8.6h-8.6zM394.3 249.6h8.6v8.6h-8.6zM394.3 257.6h8.6v8.6h-8.6zM394.3 265.6h8.6v8.6h-8.6zM394.3 273.6h8.6v8.6h-8.6zM394.3 281.6h8.6v8.6h-8.6zM394.3 289.6h8.6v8.6h-8.6zM394.3 297.6h8.6v8.6h-8.6zM402.3 33.6h8.6v8.6h-8.6zM402.3 41.6h8.6v8.6h-8.6zM402.3 49.6h8.6v8.6h-8.6zM402.3 57.6h8.6v8.6h-8.6zM402.3 65.6h8.6v8.6h-8.6zM402.3 73.6h8.6v8.6h-8.6zM402.3 81.6h8.6v8.6h-8.6zM402.3 89.6h8.6v8.6h-8.6zM402.3 97.6h8.6v8.6h-8.6zM402.3 105.6h8.6v8.6h-8.6zM402.3 113.6h8.6v8.6h-8.6zM402.3 121.6h8.6v8.6h-8.6zM402.3 129.6h8.6v8.6h-8.6zM402.3 137.6h8.6v8.6h-8.6zM402.3 145.6h8.6v8.6h-8.6zM402.3 153.6h8.6v8.6h-8.6zM402.3 161.6h8.6v8.6h-8.6zM402.3 169.6h8.6v8.6h-8.6zM402.3 177.6h8.6v8.6h-8.6zM402.3 185.6h8.6v8.6h-8.6zM402.3 193.6h8.6v8.6h-8.6zM402.3 201.6h8.6v8.6h-8.6zM402.3 209.6h8.6v8.6h-8.6zM402.3 217.6h8.6v8.6h-8.6zM402.3 225.6h8.6v8.6h-8.6zM402.3 233.6h8.6v8.6h-8.6zM402.3 241.6h8.6v8.6h-8.6zM402.3 249.6h8.6v8.6h-8.6zM402.3 257.6h8.6v8.6h-8.6zM402.3 265.6h8.6v8.6h-8.6zM402.3 273.6h8.6v8.6h-8.6zM402.3 281.6h8.6v8.6h-8.6zM402.3 289.6h8.6v8.6h-8.6zM402.3 297.6h8.6v8.6h-8.6zM410.3 41.6h8.6v8.6h-8.6zM410.3 49.6h8.6v8.6h-8.6zM410.3 57.6h8.6v8.6h-8.6zM410.3 65.6h8.6v8.6h-8.6zM410.3 73.6h8.6v8.6h-8.6zM410.3 81.6h8.6v8.6h-8.6zM410.3 89.6h8.6v8.6h-8.6zM410.3 97.6h8.6v8.6h-8.6zM410.3 105.6h8.6v8.6h-8.6zM410.3 113.6h8.6v8.6h-8.6zM410.3 121.6h8.6v8.6h-8.6zM410.3 129.6h8.6v8.6h-8.6zM410.3 137.6h8.6v8.6h-8.6zM410.3 145.6h8.6v8.6h-8.6zM410.3 153.6h8.6v8.6h-8.6zM410.3 161.6h8.6v8.6h-8.6zM410.3 169.6h8.6v8.6h-8.6zM410.3 177.6h8.6v8.6h-8.6zM410.3 185.6h8.6v8.6h-8.6zM410.3 193.6h8.6v8.6h-8.6zM410.3 201.6h8.6v8.6h-8.6zM410.3 209.6h8.6v8.6h-8.6zM410.3 217.6h8.6v8.6h-8.6zM410.3 225.6h8.6v8.6h-8.6zM410.3 233.6h8.6v8.6h-8.6zM410.3 241.6h8.6v8.6h-8.6zM410.3 249.6h8.6v8.6h-8.6zM410.3 257.6h8.6v8.6h-8.6zM410.3 265.6h8.6v8.6h-8.6zM410.3 273.6h8.6v8.6h-8.6zM410.3 281.6h8.6v8.6h-8.6zM410.3 289.6h8.6v8.6h-8.6zM418.3 49.6h8.6v8.6h-8.6zM418.3 57.6h8.6v8.6h-8.6zM418.3 65.6h8.6v8.6h-8.6zM418.3 73.6h8.6v8.6h-8.6zM418.3 81.6h8.6v8.6h-8.6zM418.3 89.6h8.6v8.6h-8.6zM418.3 97.6h8.6v8.6h-8.6zM418.3 105.6h8.6v8.6h-8.6zM418.3 113.6h8.6v8.6h-8.6zM418.3 121.6h8.6v8.6h-8.6zM418.3 129.6h8.6v8.6h-8.6zM418.3 137.6h8.6v8.6h-8.6zM418.3 145.6h8.6v8.6h-8.6zM418.3 153.6h8.6v8.6h-8.6zM418.3 161.6h8.6v8.6h-8.6zM418.3 169.6h8.6v8.6h-8.6zM418.3 177.6h8.6v8.6h-8.6zM418.3 185.6h8.6v8.6h-8.6zM418.3 193.6h8.6v8.6h-8.6zM418.3 201.6h8.6v8.6h-8.6zM418.3 209.6h8.6v8.6h-8.6zM418.3 217.6h8.6v8.6h-8.6zM418.3 225.6h8.6v8.6h-8.6zM418.3 233.6h8.6v8.6h-8.6zM418.3 241.6h8.6v8.6h-8.6zM418.3 249.6h8.6v8.6h-8.6zM418.3 257.6h8.6v8.6h-8.6zM418.3 265.6h8.6v8.6h-8.6zM418.3 273.6h8.6v8.6h-8.6zM426.3 57.6h8.6v8.6h-8.6zM426.3 65.6h8.6v8.6h-8.6zM426.3 73.6h8.6v8.6h-8.6zM426.3 81.6h8.6v8.6h-8.6zM426.3 89.6h8.6v8.6h-8.6zM426.3 97.6h8.6v8.6h-8.6zM426.3 105.6h8.6v8.6h-8.6zM426.3 113.6h8.6v8.6h-8.6zM426.3 121.6h8.6v8.6h-8.6zM426.3 129.6h8.6v8.6h-8.6zM426.3 137.6h8.6v8.6h-8.6zM426.3 145.6h8.6v8.6h-8.6zM426.3 153.6h8.6v8.6h-8.6zM426.3 161.6h8.6v8.6h-8.6zM426.3 169.6h8.6v8.6h-8.6zM426.3 177.6h8.6v8.6h-8.6zM426.3 185.6h8.6v8.6h-8.6zM426.3 193.6h8.6v8.6h-8.6zM426.3 201.6h8.6v8.6h-8.6zM426.3 209.6h8.6v8.6h-8.6zM426.3 217.6h8.6v8.6h-8.6zM426.3 225.6h8.6v8.6h-8.6zM426.3 233.6h8.6v8.6h-8.6zM426.3 241.6h8.6v8.6h-8.6zM426.3 249.6h8.6v8.6h-8.6zM426.3 257.6h8.6v8.6h-8.6zM426.3 265.6h8.6v8.6h-8.6zM434.3 73.6h8.6v8.6h-8.6zM434.3 81.6h8.6v8.6h-8.6zM434.3 89.6h8.6v8.6h-8.6zM434.3 97.6h8.6v8.6h-8.6zM434.3 105.6h8.6v8.6h-8.6zM434.3 113.6h8.6v8.6h-8.6zM434.3 121.6h8.6v8.6h-8.6zM434.3 129.6h8.6v8.6h-8.6zM434.3 137.6h8.6v8.6h-8.6zM434.3 145.6h8.6v8.6h-8.6zM434.3 153.6h8.6v8.6h-8.6zM434.3 161.6h8.6v8.6h-8.6zM434.3 169.6h8.6v8.6h-8.6zM434.3 177.6h8.6v8.6h-8.6zM434.3 185.6h8.6v8.6h-8.6zM434.3 193.6h8.6v8.6h-8.6zM434.3 201.6h8.6v8.6h-8.6zM434.3 209.6h8.6v8.6h-8.6zM434.3 217.6h8.6v8.6h-8.6zM434.3 225.6h8.6v8.6h-8.6zM434.3 233.6h8.6v8.6h-8.6zM434.3 241.6h8.6v8.6h-8.6zM434.3 249.6h8.6v8.6h-8.6zM434.3 257.6h8.6v8.6h-8.6zM442.3 89.6h8.6v8.6h-8.6zM442.3 97.6h8.6v8.6h-8.6zM442.3 105.6h8.6v8.6h-8.6zM442.3 113.6h8.6v8.6h-8.6zM442.3 121.6h8.6v8.6h-8.6zM442.3 129.6h8.6v8.6h-8.6zM442.3 137.6h8.6v8.6h-8.6zM442.3 145.6h8.6v8.6h-8.6zM442.3 153.6h8.6v8.6h-8.6zM442.3 161.6h8.6v8.6h-8.6zM442.3 169.6h8.6v8.6h-8.6zM442.3 177.6h8.6v8.6h-8.6zM442.3 185.6h8.6v8.6h-8.6zM442.3 193.6h8.6v8.6h-8.6zM442.3 201.6h8.6v8.6h-8.6zM442.3 209.6h8.6v8.6h-8.6zM442.3 217.6h8.6v8.6h-8.6zM442.3 225.6h8.6v8.6h-8.6zM442.3 233.6h8.6v8.6h-8.6zM442.3 241.6h8.6v8.6h-8.6zM450.3 105.6h8.6v8.6h-8.6zM450.3 113.6h8.6v8.6h-8.6zM450.3 121.6h8.6v8.6h-8.6zM450.3 129.6h8.6v8.6h-8.6zM450.3 137.6h8.6v8.6h-8.6zM450.3 145.6h8.6v8.6h-8.6zM450.3 153.6h8.6v8.6h-8.6zM450.3 161.6h8.6v8.6h-8.6zM450.3 169.6h8.6v8.6h-8.6zM450.3 177.6h8.6v8.6h-8.6zM450.3 185.6h8.6v8.6h-8.6zM450.3 193.6h8.6v8.6h-8.6zM450.3 201.6h8.6v8.6h-8.6zM450.3 209.6h8.6v8.6h-8.6zM450.3 217.6h8.6v8.6h-8.6zM458.3 137.6h8.6v8.6h-8.6zM458.3 145.6h8.6v8.6h-8.6zM458.3 153.6h8.6v8.6h-8.6zM458.3 161.6h8.6v8.6h-8.6zM458.3 169.6h8.6v8.6h-8.6zM458.3 177.6h8.6v8.6h-8.6zM458.3 185.6h8.6v8.6h-8.6z"/><path fill="#6aff95" d="M330.3 33.6h8.6v8.6h-8.6zM338.3 25.6h8.6v8.6h-8.6zM338.3 33.6h8.6v8.6h-8.6zM338.3 41.6h8.6v8.6h-8.6zM338.3 297.6h8.6v8.6h-8.6zM346.3 25.6h8.6v8.6h-8.6zM346.3 33.6h8.6v8.6h-8.6zM354.3 25.6h8.6v8.6h-8.6z"/></g>
</g>
<circle cx="280.5" cy="167.3" r="166.4" fill="#efe6d4" clip-path="url(#cout1)"/>
</g>
<g transform="translate(1093.3 573.7)" clip-path="url(#cview)">
<use href="#cdev"/>
<g clip-path="url(#cdisc2)" opacity="0.71">
<g filter="url(#hb)"><path fill="#000080" d="M338.3 313.6h8.6v8.6h-8.6zM346.3 297.6h8.6v8.6h-8.6zM346.3 305.6h8.6v8.6h-8.6zM346.3 313.6h8.6v8.6h-8.6zM346.3 321.6h8.6v8.6h-8.6zM346.3 329.6h8.6v8.6h-8.6zM354.3 305.6h8.6v8.6h-8.6zM354.3 313.6h8.6v8.6h-8.6zM354.3 321.6h8.6v8.6h-8.6zM354.3 329.6h8.6v8.6h-8.6zM362.3 305.6h8.6v8.6h-8.6zM362.3 313.6h8.6v8.6h-8.6zM362.3 321.6h8.6v8.6h-8.6zM370.3 321.6h8.6v8.6h-8.6z"/><path fill="#000095" d="M338.3 305.6h8.6v8.6h-8.6zM338.3 321.6h8.6v8.6h-8.6zM354.3 297.6h8.6v8.6h-8.6zM370.3 313.6h8.6v8.6h-8.6z"/><path fill="#0000aa" d="M98.3 121.6h8.6v8.6h-8.6zM98.3 129.6h8.6v8.6h-8.6zM98.3 137.6h8.6v8.6h-8.6zM98.3 145.6h8.6v8.6h-8.6zM98.3 153.6h8.6v8.6h-8.6zM98.3 161.6h8.6v8.6h-8.6zM98.3 169.6h8.6v8.6h-8.6zM106.3 113.6h8.6v8.6h-8.6zM106.3 121.6h8.6v8.6h-8.6zM106.3 129.6h8.6v8.6h-8.6zM106.3 137.6h8.6v8.6h-8.6zM106.3 145.6h8.6v8.6h-8.6zM106.3 153.6h8.6v8.6h-8.6zM106.3 161.6h8.6v8.6h-8.6zM106.3 169.6h8.6v8.6h-8.6zM114.3 121.6h8.6v8.6h-8.6zM114.3 129.6h8.6v8.6h-8.6zM114.3 137.6h8.6v8.6h-8.6zM114.3 145.6h8.6v8.6h-8.6zM114.3 153.6h8.6v8.6h-8.6zM114.3 161.6h8.6v8.6h-8.6zM114.3 169.6h8.6v8.6h-8.6zM122.3 121.6h8.6v8.6h-8.6zM122.3 129.6h8.6v8.6h-8.6zM122.3 137.6h8.6v8.6h-8.6zM122.3 145.6h8.6v8.6h-8.6zM122.3 153.6h8.6v8.6h-8.6zM122.3 161.6h8.6v8.6h-8.6zM122.3 169.6h8.6v8.6h-8.6zM130.3 121.6h8.6v8.6h-8.6zM130.3 129.6h8.6v8.6h-8.6zM130.3 137.6h8.6v8.6h-8.6zM130.3 145.6h8.6v8.6h-8.6zM130.3 153.6h8.6v8.6h-8.6zM130.3 161.6h8.6v8.6h-8.6zM138.3 129.6h8.6v8.6h-8.6zM138.3 137.6h8.6v8.6h-8.6zM138.3 145.6h8.6v8.6h-8.6zM138.3 153.6h8.6v8.6h-8.6zM138.3 161.6h8.6v8.6h-8.6zM146.3 129.6h8.6v8.6h-8.6zM146.3 137.6h8.6v8.6h-8.6zM146.3 145.6h8.6v8.6h-8.6zM146.3 153.6h8.6v8.6h-8.6zM338.3 329.6h8.6v8.6h-8.6z"/><path fill="#0000bf" d="M98.3 177.6h8.6v8.6h-8.6zM98.3 185.6h8.6v8.6h-8.6zM98.3 193.6h8.6v8.6h-8.6zM106.3 97.6h8.6v8.6h-8.6zM106.3 105.6h8.6v8.6h-8.6zM106.3 177.6h8.6v8.6h-8.6zM106.3 185.6h8.6v8.6h-8.6zM106.3 193.6h8.6v8.6h-8.6zM114.3 97.6h8.6v8.6h-8.6zM114.3 105.6h8.6v8.6h-8.6zM114.3 113.6h8.6v8.6h-8.6zM114.3 177.6h8.6v8.6h-8.6zM114.3 185.6h8.6v8.6h-8.6zM114.3 193.6h8.6v8.6h-8.6zM122.3 105.6h8.6v8.6h-8.6zM122.3 113.6h8.6v8.6h-8.6zM122.3 177.6h8.6v8.6h-8.6zM122.3 185.6h8.6v8.6h-8.6zM130.3 105.6h8.6v8.6h-8.6zM130.3 113.6h8.6v8.6h-8.6zM130.3 169.6h8.6v8.6h-8.6zM130.3 177.6h8.6v8.6h-8.6zM130.3 185.6h8.6v8.6h-8.6zM138.3 105.6h8.6v8.6h-8.6zM138.3 113.6h8.6v8.6h-8.6zM138.3 121.6h8.6v8.6h-8.6zM138.3 169.6h8.6v8.6h-8.6zM138.3 177.6h8.6v8.6h-8.6zM146.3 113.6h8.6v8.6h-8.6zM146.3 121.6h8.6v8.6h-8.6zM146.3 161.6h8.6v8.6h-8.6zM146.3 169.6h8.6v8.6h-8.6zM146.3 177.6h8.6v8.6h-8.6zM154.3 113.6h8.6v8.6h-8.6zM154.3 121.6h8.6v8.6h-8.6zM154.3 129.6h8.6v8.6h-8.6zM154.3 137.6h8.6v8.6h-8.6zM154.3 145.6h8.6v8.6h-8.6zM154.3 153.6h8.6v8.6h-8.6zM154.3 161.6h8.6v8.6h-8.6zM154.3 169.6h8.6v8.6h-8.6zM162.3 121.6h8.6v8.6h-8.6zM162.3 129.6h8.6v8.6h-8.6zM162.3 137.6h8.6v8.6h-8.6zM162.3 145.6h8.6v8.6h-8.6zM162.3 153.6h8.6v8.6h-8.6zM162.3 161.6h8.6v8.6h-8.6zM162.3 169.6h8.6v8.6h-8.6zM170.3 121.6h8.6v8.6h-8.6zM170.3 129.6h8.6v8.6h-8.6zM170.3 137.6h8.6v8.6h-8.6zM170.3 145.6h8.6v8.6h-8.6zM170.3 153.6h8.6v8.6h-8.6zM170.3 161.6h8.6v8.6h-8.6zM178.3 121.6h8.6v8.6h-8.6zM178.3 129.6h8.6v8.6h-8.6zM178.3 137.6h8.6v8.6h-8.6zM178.3 145.6h8.6v8.6h-8.6zM178.3 153.6h8.6v8.6h-8.6zM178.3 161.6h8.6v8.6h-8.6zM186.3 121.6h8.6v8.6h-8.6zM186.3 129.6h8.6v8.6h-8.6zM186.3 137.6h8.6v8.6h-8.6zM186.3 145.6h8.6v8.6h-8.6zM186.3 153.6h8.6v8.6h-8.6zM186.3 161.6h8.6v8.6h-8.6zM194.3 121.6h8.6v8.6h-8.6zM194.3 129.6h8.6v8.6h-8.6zM194.3 137.6h8.6v8.6h-8.6zM194.3 145.6h8.6v8.6h-8.6zM194.3 153.6h8.6v8.6h-8.6zM194.3 161.6h8.6v8.6h-8.6zM202.3 129.6h8.6v8.6h-8.6zM202.3 137.6h8.6v8.6h-8.6zM202.3 145.6h8.6v8.6h-8.6zM202.3 153.6h8.6v8.6h-8.6zM202.3 161.6h8.6v8.6h-8.6zM210.3 137.6h8.6v8.6h-8.6zM210.3 145.6h8.6v8.6h-8.6zM210.3 153.6h8.6v8.6h-8.6zM210.3 161.6h8.6v8.6h-8.6zM218.3 153.6h8.6v8.6h-8.6zM338.3 297.6h8.6v8.6h-8.6zM362.3 297.6h8.6v8.6h-8.6zM370.3 305.6h8.6v8.6h-8.6z"/><path fill="#0000d4" d="M98.3 201.6h8.6v8.6h-8.6zM98.3 209.6h8.6v8.6h-8.6zM106.3 201.6h8.6v8.6h-8.6zM106.3 209.6h8.6v8.6h-8.6zM106.3 217.6h8.6v8.6h-8.6zM106.3 225.6h8.6v8.6h-8.6zM114.3 81.6h8.6v8.6h-8.6zM114.3 89.6h8.6v8.6h-8.6zM114.3 201.6h8.6v8.6h-8.6zM114.3 209.6h8.6v8.6h-8.6zM114.3 217.6h8.6v8.6h-8.6zM122.3 89.6h8.6v8.6h-8.6zM122.3 97.6h8.6v8.6h-8.6zM122.3 193.6h8.6v8.6h-8.6zM122.3 201.6h8.6v8.6h-8.6zM122.3 209.6h8.6v8.6h-8.6zM122.3 217.6h8.6v8.6h-8.6zM130.3 89.6h8.6v8.6h-8.6zM130.3 97.6h8.6v8.6h-8.6zM130.3 193.6h8.6v8.6h-8.6zM130.3 201.6h8.6v8.6h-8.6zM130.3 209.6h8.6v8.6h-8.6zM138.3 97.6h8.6v8.6h-8.6zM138.3 185.6h8.6v8.6h-8.6zM138.3 193.6h8.6v8.6h-8.6zM138.3 201.6h8.6v8.6h-8.6zM146.3 97.6h8.6v8.6h-8.6zM146.3 105.6h8.6v8.6h-8.6zM146.3 185.6h8.6v8.6h-8.6zM146.3 193.6h8.6v8.6h-8.6zM154.3 97.6h8.6v8.6h-8.6zM154.3 105.6h8.6v8.6h-8.6zM154.3 177.6h8.6v8.6h-8.6zM154.3 185.6h8.6v8.6h-8.6zM154.3 193.6h8.6v8.6h-8.6zM162.3 97.6h8.6v8.6h-8.6zM162.3 105.6h8.6v8.6h-8.6zM162.3 113.6h8.6v8.6h-8.6zM162.3 177.6h8.6v8.6h-8.6zM162.3 185.6h8.6v8.6h-8.6zM170.3 105.6h8.6v8.6h-8.6zM170.3 113.6h8.6v8.6h-8.6zM170.3 169.6h8.6v8.6h-8.6zM170.3 177.6h8.6v8.6h-8.6zM170.3 185.6h8.6v8.6h-8.6zM178.3 105.6h8.6v8.6h-8.6zM178.3 113.6h8.6v8.6h-8.6zM178.3 169.6h8.6v8.6h-8.6zM178.3 177.6h8.6v8.6h-8.6zM186.3 97.6h8.6v8.6h-8.6zM186.3 105.6h8.6v8.6h-8.6zM186.3 113.6h8.6v8.6h-8.6zM186.3 169.6h8.6v8.6h-8.6zM186.3 177.6h8.6v8.6h-8.6zM194.3 105.6h8.6v8.6h-8.6zM194.3 113.6h8.6v8.6h-8.6zM194.3 169.6h8.6v8.6h-8.6zM194.3 177.6h8.6v8.6h-8.6zM202.3 105.6h8.6v8.6h-8.6zM202.3 113.6h8.6v8.6h-8.6zM202.3 121.6h8.6v8.6h-8.6zM202.3 169.6h8.6v8.6h-8.6zM202.3 177.6h8.6v8.6h-8.6zM210.3 113.6h8.6v8.6h-8.6zM210.3 121.6h8.6v8.6h-8.6zM210.3 129.6h8.6v8.6h-8.6zM210.3 169.6h8.6v8.6h-8.6zM218.3 121.6h8.6v8.6h-8.6zM218.3 129.6h8.6v8.6h-8.6zM218.3 137.6h8.6v8.6h-8.6zM218.3 145.6h8.6v8.6h-8.6zM218.3 161.6h8.6v8.6h-8.6zM218.3 169.6h8.6v8.6h-8.6zM226.3 137.6h8.6v8.6h-8.6zM226.3 145.6h8.6v8.6h-8.6zM226.3 153.6h8.6v8.6h-8.6zM226.3 161.6h8.6v8.6h-8.6zM226.3 169.6h8.6v8.6h-8.6zM234.3 153.6h8.6v8.6h-8.6zM234.3 161.6h8.6v8.6h-8.6zM330.3 305.6h8.6v8.6h-8.6zM330.3 313.6h8.6v8.6h-8.6zM330.3 321.6h8.6v8.6h-8.6zM330.3 329.6h8.6v8.6h-8.6z"/><path fill="#0000ea" d="M106.3 233.6h8.6v8.6h-8.6zM114.3 225.6h8.6v8.6h-8.6zM114.3 233.6h8.6v8.6h-8.6zM114.3 241.6h8.6v8.6h-8.6zM122.3 73.6h8.6v8.6h-8.6zM122.3 81.6h8.6v8.6h-8.6zM122.3 225.6h8.6v8.6h-8.6zM122.3 233.6h8.6v8.6h-8.6zM122.3 241.6h8.6v8.6h-8.6zM130.3 73.6h8.6v8.6h-8.6zM130.3 81.6h8.6v8.6h-8.6zM130.3 217.6h8.6v8.6h-8.6zM130.3 225.6h8.6v8.6h-8.6zM130.3 233.6h8.6v8.6h-8.6zM138.3 81.6h8.6v8.6h-8.6zM138.3 89.6h8.6v8.6h-8.6zM138.3 209.6h8.6v8.6h-8.6zM138.3 217.6h8.6v8.6h-8.6zM138.3 225.6h8.6v8.6h-8.6zM146.3 81.6h8.6v8.6h-8.6zM146.3 89.6h8.6v8.6h-8.6zM146.3 201.6h8.6v8.6h-8.6zM146.3 209.6h8.6v8.6h-8.6zM146.3 217.6h8.6v8.6h-8.6zM154.3 89.6h8.6v8.6h-8.6zM154.3 201.6h8.6v8.6h-8.6zM154.3 209.6h8.6v8.6h-8.6zM162.3 89.6h8.6v8.6h-8.6zM162.3 193.6h8.6v8.6h-8.6zM162.3 201.6h8.6v8.6h-8.6zM162.3 209.6h8.6v8.6h-8.6zM170.3 89.6h8.6v8.6h-8.6zM170.3 97.6h8.6v8.6h-8.6zM170.3 193.6h8.6v8.6h-8.6zM170.3 201.6h8.6v8.6h-8.6zM178.3 89.6h8.6v8.6h-8.6zM178.3 97.6h8.6v8.6h-8.6zM178.3 185.6h8.6v8.6h-8.6zM178.3 193.6h8.6v8.6h-8.6zM186.3 89.6h8.6v8.6h-8.6zM186.3 185.6h8.6v8.6h-8.6zM186.3 193.6h8.6v8.6h-8.6zM194.3 89.6h8.6v8.6h-8.6zM194.3 97.6h8.6v8.6h-8.6zM194.3 185.6h8.6v8.6h-8.6zM202.3 89.6h8.6v8.6h-8.6zM202.3 97.6h8.6v8.6h-8.6zM202.3 185.6h8.6v8.6h-8.6zM210.3 97.6h8.6v8.6h-8.6zM210.3 105.6h8.6v8.6h-8.6zM210.3 177.6h8.6v8.6h-8.6zM210.3 185.6h8.6v8.6h-8.6zM218.3 105.6h8.6v8.6h-8.6zM218.3 113.6h8.6v8.6h-8.6zM218.3 177.6h8.6v8.6h-8.6zM226.3 121.6h8.6v8.6h-8.6zM226.3 129.6h8.6v8.6h-8.6zM226.3 177.6h8.6v8.6h-8.6zM234.3 137.6h8.6v8.6h-8.6zM234.3 145.6h8.6v8.6h-8.6zM234.3 169.6h8.6v8.6h-8.6zM242.3 153.6h8.6v8.6h-8.6zM242.3 161.6h8.6v8.6h-8.6zM242.3 169.6h8.6v8.6h-8.6zM330.3 337.6h8.6v8.6h-8.6zM346.3 289.6h8.6v8.6h-8.6zM378.3 313.6h8.6v8.6h-8.6z"/><path fill="#0000ff" d="M114.3 249.6h8.6v8.6h-8.6zM122.3 65.6h8.6v8.6h-8.6zM122.3 249.6h8.6v8.6h-8.6zM122.3 257.6h8.6v8.6h-8.6zM130.3 57.6h8.6v8.6h-8.6zM130.3 65.6h8.6v8.6h-8.6zM130.3 241.6h8.6v8.6h-8.6zM130.3 249.6h8.6v8.6h-8.6zM130.3 257.6h8.6v8.6h-8.6zM138.3 57.6h8.6v8.6h-8.6zM138.3 65.6h8.6v8.6h-8.6zM138.3 73.6h8.6v8.6h-8.6zM138.3 233.6h8.6v8.6h-8.6zM138.3 241.6h8.6v8.6h-8.6zM138.3 249.6h8.6v8.6h-8.6zM146.3 65.6h8.6v8.6h-8.6zM146.3 73.6h8.6v8.6h-8.6zM146.3 225.6h8.6v8.6h-8.6zM146.3 233.6h8.6v8.6h-8.6zM146.3 241.6h8.6v8.6h-8.6zM154.3 73.6h8.6v8.6h-8.6zM154.3 81.6h8.6v8.6h-8.6zM154.3 217.6h8.6v8.6h-8.6zM154.3 225.6h8.6v8.6h-8.6zM154.3 233.6h8.6v8.6h-8.6zM162.3 73.6h8.6v8.6h-8.6zM162.3 81.6h8.6v8.6h-8.6zM162.3 217.6h8.6v8.6h-8.6zM162.3 225.6h8.6v8.6h-8.6zM170.3 73.6h8.6v8.6h-8.6zM170.3 81.6h8.6v8.6h-8.6zM170.3 209.6h8.6v8.6h-8.6zM170.3 217.6h8.6v8.6h-8.6zM178.3 73.6h8.6v8.6h-8.6zM178.3 81.6h8.6v8.6h-8.6zM178.3 201.6h8.6v8.6h-8.6zM178.3 209.6h8.6v8.6h-8.6zM186.3 73.6h8.6v8.6h-8.6zM186.3 81.6h8.6v8.6h-8.6zM186.3 201.6h8.6v8.6h-8.6zM186.3 209.6h8.6v8.6h-8.6zM194.3 65.6h8.6v8.6h-8.6zM194.3 73.6h8.6v8.6h-8.6zM194.3 81.6h8.6v8.6h-8.6zM194.3 193.6h8.6v8.6h-8.6zM194.3 201.6h8.6v8.6h-8.6zM202.3 73.6h8.6v8.6h-8.6zM202.3 81.6h8.6v8.6h-8.6zM202.3 193.6h8.6v8.6h-8.6zM210.3 73.6h8.6v8.6h-8.6zM210.3 81.6h8.6v8.6h-8.6zM210.3 89.6h8.6v8.6h-8.6zM210.3 193.6h8.6v8.6h-8.6zM218.3 89.6h8.6v8.6h-8.6zM218.3 97.6h8.6v8.6h-8.6zM218.3 185.6h8.6v8.6h-8.6zM226.3 105.6h8.6v8.6h-8.6zM226.3 113.6h8.6v8.6h-8.6zM226.3 185.6h8.6v8.6h-8.6zM234.3 129.6h8.6v8.6h-8.6zM234.3 177.6h8.6v8.6h-8.6zM242.3 145.6h8.6v8.6h-8.6zM242.3 177.6h8.6v8.6h-8.6zM250.3 153.6h8.6v8.6h-8.6zM250.3 161.6h8.6v8.6h-8.6zM250.3 169.6h8.6v8.6h-8.6zM250.3 177.6h8.6v8.6h-8.6zM330.3 297.6h8.6v8.6h-8.6zM354.3 289.6h8.6v8.6h-8.6z"/><path fill="#0015ff" d="M130.3 265.6h8.6v8.6h-8.6zM130.3 273.6h8.6v8.6h-8.6zM138.3 49.6h8.6v8.6h-8.6zM138.3 257.6h8.6v8.6h-8.6zM138.3 265.6h8.6v8.6h-8.6zM146.3 33.6h8.6v8.6h-8.6zM146.3 41.6h8.6v8.6h-8.6zM146.3 49.6h8.6v8.6h-8.6zM146.3 57.6h8.6v8.6h-8.6zM146.3 249.6h8.6v8.6h-8.6zM146.3 257.6h8.6v8.6h-8.6zM154.3 33.6h8.6v8.6h-8.6zM154.3 41.6h8.6v8.6h-8.6zM154.3 49.6h8.6v8.6h-8.6zM154.3 57.6h8.6v8.6h-8.6zM154.3 65.6h8.6v8.6h-8.6zM154.3 241.6h8.6v8.6h-8.6zM154.3 249.6h8.6v8.6h-8.6zM162.3 25.6h8.6v8.6h-8.6zM162.3 33.6h8.6v8.6h-8.6zM162.3 41.6h8.6v8.6h-8.6zM162.3 49.6h8.6v8.6h-8.6zM162.3 57.6h8.6v8.6h-8.6zM162.3 65.6h8.6v8.6h-8.6zM162.3 233.6h8.6v8.6h-8.6zM162.3 241.6h8.6v8.6h-8.6zM170.3 17.6h8.6v8.6h-8.6zM170.3 25.6h8.6v8.6h-8.6zM170.3 33.6h8.6v8.6h-8.6zM170.3 41.6h8.6v8.6h-8.6zM170.3 49.6h8.6v8.6h-8.6zM170.3 57.6h8.6v8.6h-8.6zM170.3 65.6h8.6v8.6h-8.6zM170.3 225.6h8.6v8.6h-8.6zM170.3 233.6h8.6v8.6h-8.6zM178.3 9.6h8.6v8.6h-8.6zM178.3 17.6h8.6v8.6h-8.6zM178.3 25.6h8.6v8.6h-8.6zM178.3 33.6h8.6v8.6h-8.6zM178.3 41.6h8.6v8.6h-8.6zM178.3 49.6h8.6v8.6h-8.6zM178.3 57.6h8.6v8.6h-8.6zM178.3 65.6h8.6v8.6h-8.6zM178.3 217.6h8.6v8.6h-8.6zM178.3 225.6h8.6v8.6h-8.6zM186.3 9.6h8.6v8.6h-8.6zM186.3 17.6h8.6v8.6h-8.6zM186.3 25.6h8.6v8.6h-8.6zM186.3 33.6h8.6v8.6h-8.6zM186.3 41.6h8.6v8.6h-8.6zM186.3 49.6h8.6v8.6h-8.6zM186.3 57.6h8.6v8.6h-8.6zM186.3 65.6h8.6v8.6h-8.6zM186.3 217.6h8.6v8.6h-8.6zM194.3 17.6h8.6v8.6h-8.6zM194.3 25.6h8.6v8.6h-8.6zM194.3 33.6h8.6v8.6h-8.6zM194.3 41.6h8.6v8.6h-8.6zM194.3 49.6h8.6v8.6h-8.6zM194.3 57.6h8.6v8.6h-8.6zM194.3 209.6h8.6v8.6h-8.6zM202.3 33.6h8.6v8.6h-8.6zM202.3 41.6h8.6v8.6h-8.6zM202.3 49.6h8.6v8.6h-8.6zM202.3 57.6h8.6v8.6h-8.6zM202.3 65.6h8.6v8.6h-8.6zM202.3 201.6h8.6v8.6h-8.6zM202.3 209.6h8.6v8.6h-8.6zM210.3 41.6h8.6v8.6h-8.6zM210.3 49.6h8.6v8.6h-8.6zM210.3 57.6h8.6v8.6h-8.6zM210.3 65.6h8.6v8.6h-8.6zM210.3 201.6h8.6v8.6h-8.6zM218.3 57.6h8.6v8.6h-8.6zM218.3 65.6h8.6v8.6h-8.6zM218.3 73.6h8.6v8.6h-8.6zM218.3 81.6h8.6v8.6h-8.6zM218.3 193.6h8.6v8.6h-8.6zM226.3 89.6h8.6v8.6h-8.6zM226.3 97.6h8.6v8.6h-8.6zM226.3 193.6h8.6v8.6h-8.6zM234.3 113.6h8.6v8.6h-8.6zM234.3 121.6h8.6v8.6h-8.6zM234.3 185.6h8.6v8.6h-8.6zM242.3 129.6h8.6v8.6h-8.6zM242.3 137.6h8.6v8.6h-8.6zM242.3 185.6h8.6v8.6h-8.6zM250.3 145.6h8.6v8.6h-8.6zM258.3 153.6h8.6v8.6h-8.6zM258.3 161.6h8.6v8.6h-8.6zM258.3 169.6h8.6v8.6h-8.6zM258.3 177.6h8.6v8.6h-8.6zM266.3 161.6h8.6v8.6h-8.6zM266.3 169.6h8.6v8.6h-8.6zM322.3 305.6h8.6v8.6h-8.6zM322.3 313.6h8.6v8.6h-8.6zM322.3 321.6h8.6v8.6h-8.6zM322.3 329.6h8.6v8.6h-8.6zM338.3 289.6h8.6v8.6h-8.6zM370.3 297.6h8.6v8.6h-8.6zM378.3 305.6h8.6v8.6h-8.6z"/><path fill="#002aff" d="M138.3 273.6h8.6v8.6h-8.6zM138.3 281.6h8.6v8.6h-8.6zM146.3 265.6h8.6v8.6h-8.6zM146.3 273.6h8.6v8.6h-8.6zM154.3 257.6h8.6v8.6h-8.6zM154.3 265.6h8.6v8.6h-8.6zM162.3 249.6h8.6v8.6h-8.6zM170.3 241.6h8.6v8.6h-8.6zM178.3 233.6h8.6v8.6h-8.6zM186.3 225.6h8.6v8.6h-8.6zM194.3 1.6h8.6v8.6h-8.6zM194.3 9.6h8.6v8.6h-8.6zM194.3 217.6h8.6v8.6h-8.6zM194.3 225.6h8.6v8.6h-8.6zM202.3 1.6h8.6v8.6h-8.6zM202.3 9.6h8.6v8.6h-8.6zM202.3 17.6h8.6v8.6h-8.6zM202.3 25.6h8.6v8.6h-8.6zM202.3 217.6h8.6v8.6h-8.6zM210.3 -6.4h8.6v8.6h-8.6zM210.3 1.6h8.6v8.6h-8.6zM210.3 9.6h8.6v8.6h-8.6zM210.3 17.6h8.6v8.6h-8.6zM210.3 25.6h8.6v8.6h-8.6zM210.3 33.6h8.6v8.6h-8.6zM210.3 209.6h8.6v8.6h-8.6zM218.3 -6.4h8.6v8.6h-8.6zM218.3 1.6h8.6v8.6h-8.6zM218.3 9.6h8.6v8.6h-8.6zM218.3 17.6h8.6v8.6h-8.6zM218.3 25.6h8.6v8.6h-8.6zM218.3 33.6h8.6v8.6h-8.6zM218.3 41.6h8.6v8.6h-8.6zM218.3 49.6h8.6v8.6h-8.6zM218.3 201.6h8.6v8.6h-8.6zM218.3 209.6h8.6v8.6h-8.6zM226.3 17.6h8.6v8.6h-8.6zM226.3 25.6h8.6v8.6h-8.6zM226.3 33.6h8.6v8.6h-8.6zM226.3 41.6h8.6v8.6h-8.6zM226.3 49.6h8.6v8.6h-8.6zM226.3 57.6h8.6v8.6h-8.6zM226.3 65.6h8.6v8.6h-8.6zM226.3 73.6h8.6v8.6h-8.6zM226.3 81.6h8.6v8.6h-8.6zM226.3 201.6h8.6v8.6h-8.6zM234.3 97.6h8.6v8.6h-8.6zM234.3 105.6h8.6v8.6h-8.6zM234.3 193.6h8.6v8.6h-8.6zM242.3 121.6h8.6v8.6h-8.6zM242.3 193.6h8.6v8.6h-8.6zM250.3 137.6h8.6v8.6h-8.6zM250.3 185.6h8.6v8.6h-8.6zM258.3 145.6h8.6v8.6h-8.6zM258.3 185.6h8.6v8.6h-8.6zM266.3 153.6h8.6v8.6h-8.6zM266.3 177.6h8.6v8.6h-8.6zM274.3 161.6h8.6v8.6h-8.6zM274.3 169.6h8.6v8.6h-8.6zM322.3 337.6h8.6v8.6h-8.6zM362.3 289.6h8.6v8.6h-8.6z"/><path fill="#0040ff" d="M146.3 281.6h8.6v8.6h-8.6zM146.3 289.6h8.6v8.6h-8.6zM154.3 273.6h8.6v8.6h-8.6zM154.3 281.6h8.6v8.6h-8.6zM162.3 257.6h8.6v8.6h-8.6zM162.3 265.6h8.6v8.6h-8.6zM170.3 249.6h8.6v8.6h-8.6zM170.3 257.6h8.6v8.6h-8.6zM178.3 241.6h8.6v8.6h-8.6zM178.3 249.6h8.6v8.6h-8.6zM186.3 233.6h8.6v8.6h-8.6zM186.3 241.6h8.6v8.6h-8.6zM194.3 233.6h8.6v8.6h-8.6zM202.3 225.6h8.6v8.6h-8.6zM210.3 217.6h8.6v8.6h-8.6zM210.3 225.6h8.6v8.6h-8.6zM218.3 217.6h8.6v8.6h-8.6zM226.3 -6.4h8.6v8.6h-8.6zM226.3 1.6h8.6v8.6h-8.6zM226.3 9.6h8.6v8.6h-8.6zM226.3 209.6h8.6v8.6h-8.6zM234.3 1.6h8.6v8.6h-8.6zM234.3 9.6h8.6v8.6h-8.6zM234.3 17.6h8.6v8.6h-8.6zM234.3 25.6h8.6v8.6h-8.6zM234.3 33.6h8.6v8.6h-8.6zM234.3 41.6h8.6v8.6h-8.6zM234.3 49.6h8.6v8.6h-8.6zM234.3 57.6h8.6v8.6h-8.6zM234.3 65.6h8.6v8.6h-8.6zM234.3 73.6h8.6v8.6h-8.6zM234.3 81.6h8.6v8.6h-8.6zM234.3 89.6h8.6v8.6h-8.6zM234.3 201.6h8.6v8.6h-8.6zM242.3 105.6h8.6v8.6h-8.6zM242.3 113.6h8.6v8.6h-8.6zM242.3 201.6h8.6v8.6h-8.6zM250.3 129.6h8.6v8.6h-8.6zM250.3 193.6h8.6v8.6h-8.6zM266.3 185.6h8.6v8.6h-8.6zM274.3 153.6h8.6v8.6h-8.6zM274.3 177.6h8.6v8.6h-8.6zM282.3 169.6h8.6v8.6h-8.6zM314.3 321.6h8.6v8.6h-8.6zM314.3 329.6h8.6v8.6h-8.6zM314.3 337.6h8.6v8.6h-8.6zM322.3 297.6h8.6v8.6h-8.6zM330.3 289.6h8.6v8.6h-8.6z"/><path fill="#0055ff" d="M154.3 289.6h8.6v8.6h-8.6zM154.3 297.6h8.6v8.6h-8.6zM162.3 273.6h8.6v8.6h-8.6zM162.3 281.6h8.6v8.6h-8.6zM162.3 289.6h8.6v8.6h-8.6zM162.3 297.6h8.6v8.6h-8.6zM170.3 265.6h8.6v8.6h-8.6zM170.3 273.6h8.6v8.6h-8.6zM178.3 257.6h8.6v8.6h-8.6zM186.3 249.6h8.6v8.6h-8.6zM194.3 241.6h8.6v8.6h-8.6zM202.3 233.6h8.6v8.6h-8.6zM202.3 313.6h8.6v8.6h-8.6zM202.3 321.6h8.6v8.6h-8.6zM202.3 329.6h8.6v8.6h-8.6zM210.3 233.6h8.6v8.6h-8.6zM210.3 321.6h8.6v8.6h-8.6zM210.3 329.6h8.6v8.6h-8.6zM218.3 225.6h8.6v8.6h-8.6zM218.3 321.6h8.6v8.6h-8.6zM226.3 217.6h8.6v8.6h-8.6zM234.3 -14.4h8.6v8.6h-8.6zM234.3 -6.4h8.6v8.6h-8.6zM234.3 209.6h8.6v8.6h-8.6zM242.3 1.6h8.6v8.6h-8.6zM242.3 9.6h8.6v8.6h-8.6zM242.3 17.6h8.6v8.6h-8.6zM242.3 25.6h8.6v8.6h-8.6zM242.3 33.6h8.6v8.6h-8.6zM242.3 41.6h8.6v8.6h-8.6zM242.3 49.6h8.6v8.6h-8.6zM242.3 57.6h8.6v8.6h-8.6zM242.3 89.6h8.6v8.6h-8.6zM242.3 97.6h8.6v8.6h-8.6zM242.3 209.6h8.6v8.6h-8.6zM250.3 121.6h8.6v8.6h-8.6zM250.3 201.6h8.6v8.6h-8.6zM258.3 137.6h8.6v8.6h-8.6zM258.3 193.6h8.6v8.6h-8.6zM258.3 329.6h8.6v8.6h-8.6zM258.3 337.6h8.6v8.6h-8.6zM258.3 345.6h8.6v8.6h-8.6zM266.3 145.6h8.6v8.6h-8.6zM266.3 329.6h8.6v8.6h-8.6zM266.3 337.6h8.6v8.6h-8.6zM266.3 345.6h8.6v8.6h-8.6zM274.3 185.6h8.6v8.6h-8.6zM274.3 329.6h8.6v8.6h-8.6zM274.3 337.6h8.6v8.6h-8.6zM274.3 345.6h8.6v8.6h-8.6zM282.3 161.6h8.6v8.6h-8.6zM282.3 177.6h8.6v8.6h-8.6zM282.3 329.6h8.6v8.6h-8.6zM282.3 337.6h8.6v8.6h-8.6zM282.3 345.6h8.6v8.6h-8.6zM290.3 329.6h8.6v8.6h-8.6zM290.3 337.6h8.6v8.6h-8.6zM290.3 345.6h8.6v8.6h-8.6zM306.3 329.6h8.6v8.6h-8.6zM306.3 337.6h8.6v8.6h-8.6zM314.3 305.6h8.6v8.6h-8.6zM314.3 313.6h8.6v8.6h-8.6zM378.3 297.6h8.6v8.6h-8.6z"/><path fill="#006aff" d="M162.3 305.6h8.6v8.6h-8.6zM170.3 281.6h8.6v8.6h-8.6zM170.3 289.6h8.6v8.6h-8.6zM170.3 297.6h8.6v8.6h-8.6zM170.3 305.6h8.6v8.6h-8.6zM170.3 313.6h8.6v8.6h-8.6zM178.3 265.6h8.6v8.6h-8.6zM178.3 273.6h8.6v8.6h-8.6zM178.3 289.6h8.6v8.6h-8.6zM178.3 297.6h8.6v8.6h-8.6zM178.3 305.6h8.6v8.6h-8.6zM178.3 313.6h8.6v8.6h-8.6zM186.3 257.6h8.6v8.6h-8.6zM186.3 297.6h8.6v8.6h-8.6zM186.3 305.6h8.6v8.6h-8.6zM186.3 313.6h8.6v8.6h-8.6zM186.3 321.6h8.6v8.6h-8.6zM194.3 249.6h8.6v8.6h-8.6zM194.3 305.6h8.6v8.6h-8.6zM194.3 313.6h8.6v8.6h-8.6zM194.3 321.6h8.6v8.6h-8.6zM202.3 241.6h8.6v8.6h-8.6zM202.3 305.6h8.6v8.6h-8.6zM210.3 241.6h8.6v8.6h-8.6zM210.3 305.6h8.6v8.6h-8.6zM210.3 313.6h8.6v8.6h-8.6zM218.3 233.6h8.6v8.6h-8.6zM218.3 305.6h8.6v8.6h-8.6zM218.3 313.6h8.6v8.6h-8.6zM218.3 329.6h8.6v8.6h-8.6zM218.3 337.6h8.6v8.6h-8.6zM226.3 225.6h8.6v8.6h-8.6zM226.3 313.6h8.6v8.6h-8.6zM226.3 321.6h8.6v8.6h-8.6zM226.3 329.6h8.6v8.6h-8.6zM226.3 337.6h8.6v8.6h-8.6zM234.3 217.6h8.6v8.6h-8.6zM234.3 321.6h8.6v8.6h-8.6zM234.3 329.6h8.6v8.6h-8.6zM234.3 337.6h8.6v8.6h-8.6zM242.3 -14.4h8.6v8.6h-8.6zM242.3 -6.4h8.6v8.6h-8.6zM242.3 65.6h8.6v8.6h-8.6zM242.3 73.6h8.6v8.6h-8.6zM242.3 81.6h8.6v8.6h-8.6zM242.3 217.6h8.6v8.6h-8.6zM242.3 321.6h8.6v8.6h-8.6zM242.3 329.6h8.6v8.6h-8.6zM242.3 337.6h8.6v8.6h-8.6zM250.3 41.6h8.6v8.6h-8.6zM250.3 113.6h8.6v8.6h-8.6zM250.3 209.6h8.6v8.6h-8.6zM250.3 321.6h8.6v8.6h-8.6zM250.3 329.6h8.6v8.6h-8.6zM250.3 337.6h8.6v8.6h-8.6zM250.3 345.6h8.6v8.6h-8.6zM258.3 129.6h8.6v8.6h-8.6zM258.3 201.6h8.6v8.6h-8.6zM258.3 321.6h8.6v8.6h-8.6zM266.3 137.6h8.6v8.6h-8.6zM266.3 193.6h8.6v8.6h-8.6zM266.3 313.6h8.6v8.6h-8.6zM266.3 321.6h8.6v8.6h-8.6zM274.3 145.6h8.6v8.6h-8.6zM274.3 313.6h8.6v8.6h-8.6zM274.3 321.6h8.6v8.6h-8.6zM282.3 153.6h8.6v8.6h-8.6zM282.3 185.6h8.6v8.6h-8.6zM282.3 313.6h8.6v8.6h-8.6zM282.3 321.6h8.6v8.6h-8.6zM290.3 161.6h8.6v8.6h-8.6zM290.3 169.6h8.6v8.6h-8.6zM290.3 177.6h8.6v8.6h-8.6zM290.3 313.6h8.6v8.6h-8.6zM290.3 321.6h8.6v8.6h-8.6zM298.3 321.6h8.6v8.6h-8.6zM298.3 329.6h8.6v8.6h-8.6zM298.3 337.6h8.6v8.6h-8.6zM298.3 345.6h8.6v8.6h-8.6zM306.3 305.6h8.6v8.6h-8.6zM306.3 313.6h8.6v8.6h-8.6zM306.3 321.6h8.6v8.6h-8.6zM314.3 297.6h8.6v8.6h-8.6zM322.3 289.6h8.6v8.6h-8.6zM386.3 305.6h8.6v8.6h-8.6z"/><path fill="#0080ff" d="M178.3 281.6h8.6v8.6h-8.6zM186.3 265.6h8.6v8.6h-8.6zM186.3 273.6h8.6v8.6h-8.6zM186.3 281.6h8.6v8.6h-8.6zM186.3 289.6h8.6v8.6h-8.6zM194.3 257.6h8.6v8.6h-8.6zM194.3 289.6h8.6v8.6h-8.6zM194.3 297.6h8.6v8.6h-8.6zM202.3 249.6h8.6v8.6h-8.6zM202.3 297.6h8.6v8.6h-8.6zM210.3 249.6h8.6v8.6h-8.6zM210.3 297.6h8.6v8.6h-8.6zM218.3 241.6h8.6v8.6h-8.6zM218.3 297.6h8.6v8.6h-8.6zM226.3 233.6h8.6v8.6h-8.6zM226.3 241.6h8.6v8.6h-8.6zM226.3 305.6h8.6v8.6h-8.6zM234.3 225.6h8.6v8.6h-8.6zM234.3 233.6h8.6v8.6h-8.6zM234.3 305.6h8.6v8.6h-8.6zM234.3 313.6h8.6v8.6h-8.6zM242.3 225.6h8.6v8.6h-8.6zM242.3 305.6h8.6v8.6h-8.6zM242.3 313.6h8.6v8.6h-8.6zM250.3 -14.4h8.6v8.6h-8.6zM250.3 -6.4h8.6v8.6h-8.6zM250.3 1.6h8.6v8.6h-8.6zM250.3 9.6h8.6v8.6h-8.6zM250.3 17.6h8.6v8.6h-8.6zM250.3 25.6h8.6v8.6h-8.6zM250.3 33.6h8.6v8.6h-8.6zM250.3 49.6h8.6v8.6h-8.6zM250.3 57.6h8.6v8.6h-8.6zM250.3 97.6h8.6v8.6h-8.6zM250.3 105.6h8.6v8.6h-8.6zM250.3 217.6h8.6v8.6h-8.6zM250.3 305.6h8.6v8.6h-8.6zM250.3 313.6h8.6v8.6h-8.6zM258.3 121.6h8.6v8.6h-8.6zM258.3 209.6h8.6v8.6h-8.6zM258.3 305.6h8.6v8.6h-8.6zM258.3 313.6h8.6v8.6h-8.6zM266.3 201.6h8.6v8.6h-8.6zM266.3 305.6h8.6v8.6h-8.6zM274.3 193.6h8.6v8.6h-8.6zM274.3 305.6h8.6v8.6h-8.6zM282.3 305.6h8.6v8.6h-8.6zM290.3 305.6h8.6v8.6h-8.6zM298.3 305.6h8.6v8.6h-8.6zM298.3 313.6h8.6v8.6h-8.6zM306.3 297.6h8.6v8.6h-8.6zM346.3 281.6h8.6v8.6h-8.6zM354.3 281.6h8.6v8.6h-8.6zM370.3 289.6h8.6v8.6h-8.6z"/><path fill="#0095ff" d="M194.3 265.6h8.6v8.6h-8.6zM194.3 273.6h8.6v8.6h-8.6zM194.3 281.6h8.6v8.6h-8.6zM202.3 257.6h8.6v8.6h-8.6zM202.3 265.6h8.6v8.6h-8.6zM202.3 281.6h8.6v8.6h-8.6zM202.3 289.6h8.6v8.6h-8.6zM210.3 257.6h8.6v8.6h-8.6zM210.3 289.6h8.6v8.6h-8.6zM218.3 249.6h8.6v8.6h-8.6zM218.3 257.6h8.6v8.6h-8.6zM218.3 289.6h8.6v8.6h-8.6zM226.3 249.6h8.6v8.6h-8.6zM226.3 289.6h8.6v8.6h-8.6zM226.3 297.6h8.6v8.6h-8.6zM234.3 241.6h8.6v8.6h-8.6zM234.3 297.6h8.6v8.6h-8.6zM242.3 233.6h8.6v8.6h-8.6zM242.3 297.6h8.6v8.6h-8.6zM250.3 65.6h8.6v8.6h-8.6zM250.3 73.6h8.6v8.6h-8.6zM250.3 81.6h8.6v8.6h-8.6zM250.3 89.6h8.6v8.6h-8.6zM250.3 225.6h8.6v8.6h-8.6zM250.3 297.6h8.6v8.6h-8.6zM258.3 113.6h8.6v8.6h-8.6zM258.3 297.6h8.6v8.6h-8.6zM266.3 129.6h8.6v8.6h-8.6zM266.3 297.6h8.6v8.6h-8.6zM274.3 137.6h8.6v8.6h-8.6zM274.3 297.6h8.6v8.6h-8.6zM282.3 145.6h8.6v8.6h-8.6zM282.3 193.6h8.6v8.6h-8.6zM282.3 297.6h8.6v8.6h-8.6zM290.3 153.6h8.6v8.6h-8.6zM290.3 185.6h8.6v8.6h-8.6zM290.3 297.6h8.6v8.6h-8.6zM298.3 161.6h8.6v8.6h-8.6zM298.3 169.6h8.6v8.6h-8.6zM298.3 177.6h8.6v8.6h-8.6zM298.3 297.6h8.6v8.6h-8.6zM314.3 289.6h8.6v8.6h-8.6zM338.3 281.6h8.6v8.6h-8.6z"/><path fill="#00aaff" d="M202.3 273.6h8.6v8.6h-8.6zM210.3 265.6h8.6v8.6h-8.6zM210.3 273.6h8.6v8.6h-8.6zM210.3 281.6h8.6v8.6h-8.6zM218.3 265.6h8.6v8.6h-8.6zM218.3 273.6h8.6v8.6h-8.6zM218.3 281.6h8.6v8.6h-8.6zM226.3 257.6h8.6v8.6h-8.6zM226.3 265.6h8.6v8.6h-8.6zM226.3 273.6h8.6v8.6h-8.6zM226.3 281.6h8.6v8.6h-8.6zM234.3 249.6h8.6v8.6h-8.6zM234.3 257.6h8.6v8.6h-8.6zM234.3 265.6h8.6v8.6h-8.6zM234.3 273.6h8.6v8.6h-8.6zM234.3 281.6h8.6v8.6h-8.6zM234.3 289.6h8.6v8.6h-8.6zM242.3 241.6h8.6v8.6h-8.6zM242.3 281.6h8.6v8.6h-8.6zM242.3 289.6h8.6v8.6h-8.6zM250.3 233.6h8.6v8.6h-8.6zM250.3 289.6h8.6v8.6h-8.6zM258.3 -14.4h8.6v8.6h-8.6zM258.3 -6.4h8.6v8.6h-8.6zM258.3 1.6h8.6v8.6h-8.6zM258.3 9.6h8.6v8.6h-8.6zM258.3 17.6h8.6v8.6h-8.6zM258.3 25.6h8.6v8.6h-8.6zM258.3 33.6h8.6v8.6h-8.6zM258.3 41.6h8.6v8.6h-8.6zM258.3 49.6h8.6v8.6h-8.6zM258.3 57.6h8.6v8.6h-8.6zM258.3 105.6h8.6v8.6h-8.6zM258.3 217.6h8.6v8.6h-8.6zM258.3 289.6h8.6v8.6h-8.6zM266.3 121.6h8.6v8.6h-8.6zM266.3 209.6h8.6v8.6h-8.6zM266.3 289.6h8.6v8.6h-8.6zM274.3 201.6h8.6v8.6h-8.6zM274.3 289.6h8.6v8.6h-8.6zM282.3 137.6h8.6v8.6h-8.6zM282.3 289.6h8.6v8.6h-8.6zM290.3 145.6h8.6v8.6h-8.6zM290.3 289.6h8.6v8.6h-8.6zM298.3 185.6h8.6v8.6h-8.6zM298.3 289.6h8.6v8.6h-8.6zM306.3 289.6h8.6v8.6h-8.6zM330.3 281.6h8.6v8.6h-8.6zM362.3 281.6h8.6v8.6h-8.6zM378.3 289.6h8.6v8.6h-8.6zM386.3 297.6h8.6v8.6h-8.6z"/><path fill="#00bfff" d="M242.3 249.6h8.6v8.6h-8.6zM242.3 257.6h8.6v8.6h-8.6zM242.3 265.6h8.6v8.6h-8.6zM242.3 273.6h8.6v8.6h-8.6zM250.3 241.6h8.6v8.6h-8.6zM250.3 273.6h8.6v8.6h-8.6zM250.3 281.6h8.6v8.6h-8.6zM258.3 65.6h8.6v8.6h-8.6zM258.3 73.6h8.6v8.6h-8.6zM258.3 81.6h8.6v8.6h-8.6zM258.3 89.6h8.6v8.6h-8.6zM258.3 97.6h8.6v8.6h-8.6zM258.3 225.6h8.6v8.6h-8.6zM258.3 281.6h8.6v8.6h-8.6zM266.3 217.6h8.6v8.6h-8.6zM266.3 281.6h8.6v8.6h-8.6zM274.3 129.6h8.6v8.6h-8.6zM290.3 193.6h8.6v8.6h-8.6zM298.3 153.6h8.6v8.6h-8.6zM306.3 169.6h8.6v8.6h-8.6zM306.3 177.6h8.6v8.6h-8.6zM314.3 281.6h8.6v8.6h-8.6zM322.3 281.6h8.6v8.6h-8.6z"/><path fill="#00d4ff" d="M250.3 249.6h8.6v8.6h-8.6zM250.3 257.6h8.6v8.6h-8.6zM250.3 265.6h8.6v8.6h-8.6zM258.3 233.6h8.6v8.6h-8.6zM258.3 241.6h8.6v8.6h-8.6zM258.3 265.6h8.6v8.6h-8.6zM258.3 273.6h8.6v8.6h-8.6zM266.3 -14.4h8.6v8.6h-8.6zM266.3 -6.4h8.6v8.6h-8.6zM266.3 1.6h8.6v8.6h-8.6zM266.3 113.6h8.6v8.6h-8.6zM266.3 225.6h8.6v8.6h-8.6zM266.3 273.6h8.6v8.6h-8.6zM274.3 121.6h8.6v8.6h-8.6zM274.3 209.6h8.6v8.6h-8.6zM274.3 281.6h8.6v8.6h-8.6zM282.3 129.6h8.6v8.6h-8.6zM282.3 201.6h8.6v8.6h-8.6zM282.3 281.6h8.6v8.6h-8.6zM290.3 137.6h8.6v8.6h-8.6zM290.3 281.6h8.6v8.6h-8.6zM298.3 145.6h8.6v8.6h-8.6zM298.3 193.6h8.6v8.6h-8.6zM298.3 281.6h8.6v8.6h-8.6zM306.3 161.6h8.6v8.6h-8.6zM306.3 185.6h8.6v8.6h-8.6zM306.3 281.6h8.6v8.6h-8.6zM386.3 289.6h8.6v8.6h-8.6zM394.3 297.6h8.6v8.6h-8.6z"/><path fill="#00eaff" d="M258.3 249.6h8.6v8.6h-8.6zM258.3 257.6h8.6v8.6h-8.6zM266.3 9.6h8.6v8.6h-8.6zM266.3 17.6h8.6v8.6h-8.6zM266.3 25.6h8.6v8.6h-8.6zM266.3 33.6h8.6v8.6h-8.6zM266.3 41.6h8.6v8.6h-8.6zM266.3 49.6h8.6v8.6h-8.6zM266.3 57.6h8.6v8.6h-8.6zM266.3 65.6h8.6v8.6h-8.6zM266.3 105.6h8.6v8.6h-8.6zM266.3 233.6h8.6v8.6h-8.6zM266.3 265.6h8.6v8.6h-8.6zM274.3 217.6h8.6v8.6h-8.6zM274.3 273.6h8.6v8.6h-8.6zM282.3 273.6h8.6v8.6h-8.6zM290.3 201.6h8.6v8.6h-8.6zM290.3 273.6h8.6v8.6h-8.6zM306.3 153.6h8.6v8.6h-8.6zM314.3 169.6h8.6v8.6h-8.6zM314.3 177.6h8.6v8.6h-8.6zM370.3 281.6h8.6v8.6h-8.6zM394.3 289.6h8.6v8.6h-8.6zM402.3 297.6h8.6v8.6h-8.6z"/><path fill="#00ffff" d="M266.3 73.6h8.6v8.6h-8.6zM266.3 81.6h8.6v8.6h-8.6zM266.3 89.6h8.6v8.6h-8.6zM266.3 97.6h8.6v8.6h-8.6zM266.3 241.6h8.6v8.6h-8.6zM266.3 249.6h8.6v8.6h-8.6zM266.3 257.6h8.6v8.6h-8.6zM274.3 -14.4h8.6v8.6h-8.6zM274.3 -6.4h8.6v8.6h-8.6zM274.3 113.6h8.6v8.6h-8.6zM274.3 265.6h8.6v8.6h-8.6zM282.3 121.6h8.6v8.6h-8.6zM282.3 209.6h8.6v8.6h-8.6zM282.3 265.6h8.6v8.6h-8.6zM290.3 129.6h8.6v8.6h-8.6zM298.3 137.6h8.6v8.6h-8.6zM298.3 273.6h8.6v8.6h-8.6zM306.3 145.6h8.6v8.6h-8.6zM306.3 193.6h8.6v8.6h-8.6zM306.3 273.6h8.6v8.6h-8.6zM314.3 161.6h8.6v8.6h-8.6zM314.3 185.6h8.6v8.6h-8.6zM362.3 273.6h8.6v8.6h-8.6zM386.3 281.6h8.6v8.6h-8.6zM394.3 281.6h8.6v8.6h-8.6zM402.3 273.6h8.6v8.6h-8.6zM402.3 281.6h8.6v8.6h-8.6zM402.3 289.6h8.6v8.6h-8.6zM410.3 249.6h8.6v8.6h-8.6zM410.3 257.6h8.6v8.6h-8.6zM410.3 265.6h8.6v8.6h-8.6zM410.3 273.6h8.6v8.6h-8.6zM410.3 281.6h8.6v8.6h-8.6zM410.3 289.6h8.6v8.6h-8.6zM418.3 249.6h8.6v8.6h-8.6zM418.3 257.6h8.6v8.6h-8.6zM418.3 265.6h8.6v8.6h-8.6zM418.3 273.6h8.6v8.6h-8.6zM426.3 241.6h8.6v8.6h-8.6zM426.3 249.6h8.6v8.6h-8.6zM426.3 257.6h8.6v8.6h-8.6zM426.3 265.6h8.6v8.6h-8.6zM434.3 249.6h8.6v8.6h-8.6zM434.3 257.6h8.6v8.6h-8.6z"/><path fill="#15ffea" d="M274.3 1.6h8.6v8.6h-8.6zM274.3 9.6h8.6v8.6h-8.6zM274.3 105.6h8.6v8.6h-8.6zM274.3 225.6h8.6v8.6h-8.6zM274.3 233.6h8.6v8.6h-8.6zM274.3 241.6h8.6v8.6h-8.6zM274.3 249.6h8.6v8.6h-8.6zM274.3 257.6h8.6v8.6h-8.6zM282.3 257.6h8.6v8.6h-8.6zM290.3 265.6h8.6v8.6h-8.6zM298.3 129.6h8.6v8.6h-8.6zM298.3 201.6h8.6v8.6h-8.6zM298.3 265.6h8.6v8.6h-8.6zM306.3 137.6h8.6v8.6h-8.6zM314.3 153.6h8.6v8.6h-8.6zM314.3 193.6h8.6v8.6h-8.6zM314.3 273.6h8.6v8.6h-8.6zM322.3 169.6h8.6v8.6h-8.6zM322.3 177.6h8.6v8.6h-8.6zM322.3 185.6h8.6v8.6h-8.6zM346.3 273.6h8.6v8.6h-8.6zM354.3 273.6h8.6v8.6h-8.6zM370.3 273.6h8.6v8.6h-8.6zM378.3 281.6h8.6v8.6h-8.6zM394.3 273.6h8.6v8.6h-8.6zM402.3 233.6h8.6v8.6h-8.6zM402.3 241.6h8.6v8.6h-8.6zM402.3 249.6h8.6v8.6h-8.6zM402.3 257.6h8.6v8.6h-8.6zM402.3 265.6h8.6v8.6h-8.6zM410.3 225.6h8.6v8.6h-8.6zM410.3 233.6h8.6v8.6h-8.6zM410.3 241.6h8.6v8.6h-8.6zM418.3 225.6h8.6v8.6h-8.6zM418.3 233.6h8.6v8.6h-8.6zM418.3 241.6h8.6v8.6h-8.6zM426.3 225.6h8.6v8.6h-8.6zM426.3 233.6h8.6v8.6h-8.6zM434.3 225.6h8.6v8.6h-8.6zM434.3 233.6h8.6v8.6h-8.6zM434.3 241.6h8.6v8.6h-8.6zM442.3 225.6h8.6v8.6h-8.6zM442.3 233.6h8.6v8.6h-8.6zM442.3 241.6h8.6v8.6h-8.6z"/><path fill="#2bffd4" d="M274.3 17.6h8.6v8.6h-8.6zM274.3 25.6h8.6v8.6h-8.6zM274.3 33.6h8.6v8.6h-8.6zM274.3 41.6h8.6v8.6h-8.6zM274.3 49.6h8.6v8.6h-8.6zM274.3 57.6h8.6v8.6h-8.6zM274.3 65.6h8.6v8.6h-8.6zM274.3 73.6h8.6v8.6h-8.6zM274.3 81.6h8.6v8.6h-8.6zM274.3 89.6h8.6v8.6h-8.6zM274.3 97.6h8.6v8.6h-8.6zM282.3 -14.4h8.6v8.6h-8.6zM282.3 -6.4h8.6v8.6h-8.6zM282.3 113.6h8.6v8.6h-8.6zM282.3 217.6h8.6v8.6h-8.6zM282.3 249.6h8.6v8.6h-8.6zM290.3 121.6h8.6v8.6h-8.6zM290.3 209.6h8.6v8.6h-8.6zM290.3 257.6h8.6v8.6h-8.6zM306.3 201.6h8.6v8.6h-8.6zM306.3 265.6h8.6v8.6h-8.6zM314.3 145.6h8.6v8.6h-8.6zM322.3 161.6h8.6v8.6h-8.6zM322.3 273.6h8.6v8.6h-8.6zM330.3 177.6h8.6v8.6h-8.6zM330.3 273.6h8.6v8.6h-8.6zM338.3 273.6h8.6v8.6h-8.6zM378.3 193.6h8.6v8.6h-8.6zM378.3 201.6h8.6v8.6h-8.6zM378.3 273.6h8.6v8.6h-8.6zM386.3 185.6h8.6v8.6h-8.6zM386.3 193.6h8.6v8.6h-8.6zM386.3 201.6h8.6v8.6h-8.6zM386.3 209.6h8.6v8.6h-8.6zM386.3 217.6h8.6v8.6h-8.6zM386.3 265.6h8.6v8.6h-8.6zM386.3 273.6h8.6v8.6h-8.6zM394.3 185.6h8.6v8.6h-8.6zM394.3 193.6h8.6v8.6h-8.6zM394.3 201.6h8.6v8.6h-8.6zM394.3 209.6h8.6v8.6h-8.6zM394.3 217.6h8.6v8.6h-8.6zM394.3 225.6h8.6v8.6h-8.6zM394.3 233.6h8.6v8.6h-8.6zM394.3 241.6h8.6v8.6h-8.6zM394.3 249.6h8.6v8.6h-8.6zM394.3 257.6h8.6v8.6h-8.6zM394.3 265.6h8.6v8.6h-8.6zM402.3 177.6h8.6v8.6h-8.6zM402.3 185.6h8.6v8.6h-8.6zM402.3 193.6h8.6v8.6h-8.6zM402.3 201.6h8.6v8.6h-8.6zM402.3 209.6h8.6v8.6h-8.6zM402.3 217.6h8.6v8.6h-8.6zM402.3 225.6h8.6v8.6h-8.6zM410.3 185.6h8.6v8.6h-8.6zM410.3 193.6h8.6v8.6h-8.6zM410.3 201.6h8.6v8.6h-8.6zM410.3 209.6h8.6v8.6h-8.6zM410.3 217.6h8.6v8.6h-8.6zM418.3 185.6h8.6v8.6h-8.6zM418.3 193.6h8.6v8.6h-8.6zM418.3 201.6h8.6v8.6h-8.6zM418.3 209.6h8.6v8.6h-8.6zM418.3 217.6h8.6v8.6h-8.6zM426.3 185.6h8.6v8.6h-8.6zM426.3 193.6h8.6v8.6h-8.6zM426.3 201.6h8.6v8.6h-8.6zM426.3 209.6h8.6v8.6h-8.6zM426.3 217.6h8.6v8.6h-8.6zM434.3 177.6h8.6v8.6h-8.6zM434.3 185.6h8.6v8.6h-8.6zM434.3 193.6h8.6v8.6h-8.6zM434.3 201.6h8.6v8.6h-8.6zM434.3 209.6h8.6v8.6h-8.6zM434.3 217.6h8.6v8.6h-8.6zM442.3 177.6h8.6v8.6h-8.6zM442.3 185.6h8.6v8.6h-8.6zM442.3 193.6h8.6v8.6h-8.6zM442.3 201.6h8.6v8.6h-8.6zM442.3 209.6h8.6v8.6h-8.6zM442.3 217.6h8.6v8.6h-8.6zM450.3 177.6h8.6v8.6h-8.6zM450.3 185.6h8.6v8.6h-8.6zM450.3 193.6h8.6v8.6h-8.6zM450.3 201.6h8.6v8.6h-8.6zM450.3 209.6h8.6v8.6h-8.6zM450.3 217.6h8.6v8.6h-8.6zM458.3 177.6h8.6v8.6h-8.6zM458.3 185.6h8.6v8.6h-8.6z"/><path fill="#40ffbf" d="M282.3 1.6h8.6v8.6h-8.6zM282.3 9.6h8.6v8.6h-8.6zM282.3 105.6h8.6v8.6h-8.6zM282.3 225.6h8.6v8.6h-8.6zM282.3 241.6h8.6v8.6h-8.6zM290.3 113.6h8.6v8.6h-8.6zM298.3 121.6h8.6v8.6h-8.6zM298.3 257.6h8.6v8.6h-8.6zM306.3 129.6h8.6v8.6h-8.6zM314.3 137.6h8.6v8.6h-8.6zM322.3 153.6h8.6v8.6h-8.6zM322.3 193.6h8.6v8.6h-8.6zM330.3 161.6h8.6v8.6h-8.6zM330.3 169.6h8.6v8.6h-8.6zM330.3 185.6h8.6v8.6h-8.6zM338.3 177.6h8.6v8.6h-8.6zM370.3 177.6h8.6v8.6h-8.6zM370.3 185.6h8.6v8.6h-8.6zM370.3 193.6h8.6v8.6h-8.6zM370.3 201.6h8.6v8.6h-8.6zM370.3 265.6h8.6v8.6h-8.6zM378.3 177.6h8.6v8.6h-8.6zM378.3 185.6h8.6v8.6h-8.6zM378.3 209.6h8.6v8.6h-8.6zM378.3 265.6h8.6v8.6h-8.6zM386.3 169.6h8.6v8.6h-8.6zM386.3 177.6h8.6v8.6h-8.6zM386.3 225.6h8.6v8.6h-8.6zM386.3 233.6h8.6v8.6h-8.6zM386.3 241.6h8.6v8.6h-8.6zM386.3 249.6h8.6v8.6h-8.6zM386.3 257.6h8.6v8.6h-8.6zM394.3 169.6h8.6v8.6h-8.6zM394.3 177.6h8.6v8.6h-8.6zM402.3 169.6h8.6v8.6h-8.6zM410.3 161.6h8.6v8.6h-8.6zM410.3 169.6h8.6v8.6h-8.6zM410.3 177.6h8.6v8.6h-8.6zM418.3 161.6h8.6v8.6h-8.6zM418.3 169.6h8.6v8.6h-8.6zM418.3 177.6h8.6v8.6h-8.6zM426.3 161.6h8.6v8.6h-8.6zM426.3 169.6h8.6v8.6h-8.6zM426.3 177.6h8.6v8.6h-8.6zM434.3 161.6h8.6v8.6h-8.6zM434.3 169.6h8.6v8.6h-8.6zM442.3 153.6h8.6v8.6h-8.6zM442.3 161.6h8.6v8.6h-8.6zM442.3 169.6h8.6v8.6h-8.6zM450.3 153.6h8.6v8.6h-8.6zM450.3 161.6h8.6v8.6h-8.6zM450.3 169.6h8.6v8.6h-8.6zM458.3 153.6h8.6v8.6h-8.6zM458.3 161.6h8.6v8.6h-8.6zM458.3 169.6h8.6v8.6h-8.6z"/><path fill="#55ffaa" d="M282.3 17.6h8.6v8.6h-8.6zM282.3 25.6h8.6v8.6h-8.6zM282.3 33.6h8.6v8.6h-8.6zM282.3 41.6h8.6v8.6h-8.6zM282.3 49.6h8.6v8.6h-8.6zM282.3 57.6h8.6v8.6h-8.6zM282.3 65.6h8.6v8.6h-8.6zM282.3 97.6h8.6v8.6h-8.6zM282.3 233.6h8.6v8.6h-8.6zM290.3 -14.4h8.6v8.6h-8.6zM290.3 -6.4h8.6v8.6h-8.6zM290.3 217.6h8.6v8.6h-8.6zM290.3 249.6h8.6v8.6h-8.6zM298.3 209.6h8.6v8.6h-8.6zM306.3 121.6h8.6v8.6h-8.6zM306.3 257.6h8.6v8.6h-8.6zM314.3 129.6h8.6v8.6h-8.6zM314.3 201.6h8.6v8.6h-8.6zM314.3 265.6h8.6v8.6h-8.6zM322.3 145.6h8.6v8.6h-8.6zM330.3 153.6h8.6v8.6h-8.6zM330.3 193.6h8.6v8.6h-8.6zM338.3 169.6h8.6v8.6h-8.6zM338.3 185.6h8.6v8.6h-8.6zM338.3 193.6h8.6v8.6h-8.6zM346.3 169.6h8.6v8.6h-8.6zM346.3 177.6h8.6v8.6h-8.6zM346.3 185.6h8.6v8.6h-8.6zM354.3 169.6h8.6v8.6h-8.6zM354.3 177.6h8.6v8.6h-8.6zM354.3 185.6h8.6v8.6h-8.6zM354.3 193.6h8.6v8.6h-8.6zM362.3 169.6h8.6v8.6h-8.6zM362.3 177.6h8.6v8.6h-8.6zM362.3 185.6h8.6v8.6h-8.6zM362.3 193.6h8.6v8.6h-8.6zM362.3 201.6h8.6v8.6h-8.6zM370.3 169.6h8.6v8.6h-8.6zM370.3 209.6h8.6v8.6h-8.6zM378.3 161.6h8.6v8.6h-8.6zM378.3 169.6h8.6v8.6h-8.6zM378.3 217.6h8.6v8.6h-8.6zM378.3 225.6h8.6v8.6h-8.6zM378.3 257.6h8.6v8.6h-8.6zM386.3 161.6h8.6v8.6h-8.6zM394.3 153.6h8.6v8.6h-8.6zM394.3 161.6h8.6v8.6h-8.6zM402.3 153.6h8.6v8.6h-8.6zM402.3 161.6h8.6v8.6h-8.6zM410.3 145.6h8.6v8.6h-8.6zM410.3 153.6h8.6v8.6h-8.6zM418.3 145.6h8.6v8.6h-8.6zM418.3 153.6h8.6v8.6h-8.6zM426.3 145.6h8.6v8.6h-8.6zM426.3 153.6h8.6v8.6h-8.6zM434.3 137.6h8.6v8.6h-8.6zM434.3 145.6h8.6v8.6h-8.6zM434.3 153.6h8.6v8.6h-8.6zM442.3 137.6h8.6v8.6h-8.6zM442.3 145.6h8.6v8.6h-8.6zM450.3 129.6h8.6v8.6h-8.6zM450.3 137.6h8.6v8.6h-8.6zM450.3 145.6h8.6v8.6h-8.6zM458.3 137.6h8.6v8.6h-8.6zM458.3 145.6h8.6v8.6h-8.6z"/><path fill="#6aff95" d="M282.3 73.6h8.6v8.6h-8.6zM282.3 81.6h8.6v8.6h-8.6zM282.3 89.6h8.6v8.6h-8.6zM290.3 1.6h8.6v8.6h-8.6zM290.3 9.6h8.6v8.6h-8.6zM290.3 105.6h8.6v8.6h-8.6zM290.3 241.6h8.6v8.6h-8.6zM298.3 113.6h8.6v8.6h-8.6zM298.3 249.6h8.6v8.6h-8.6zM306.3 209.6h8.6v8.6h-8.6zM314.3 121.6h8.6v8.6h-8.6zM322.3 129.6h8.6v8.6h-8.6zM322.3 137.6h8.6v8.6h-8.6zM322.3 201.6h8.6v8.6h-8.6zM330.3 145.6h8.6v8.6h-8.6zM330.3 201.6h8.6v8.6h-8.6zM338.3 161.6h8.6v8.6h-8.6zM346.3 161.6h8.6v8.6h-8.6zM346.3 193.6h8.6v8.6h-8.6zM354.3 161.6h8.6v8.6h-8.6zM354.3 201.6h8.6v8.6h-8.6zM362.3 161.6h8.6v8.6h-8.6zM362.3 265.6h8.6v8.6h-8.6zM370.3 153.6h8.6v8.6h-8.6zM370.3 161.6h8.6v8.6h-8.6zM370.3 217.6h8.6v8.6h-8.6zM378.3 145.6h8.6v8.6h-8.6zM378.3 153.6h8.6v8.6h-8.6zM378.3 233.6h8.6v8.6h-8.6zM378.3 241.6h8.6v8.6h-8.6zM378.3 249.6h8.6v8.6h-8.6zM386.3 145.6h8.6v8.6h-8.6zM386.3 153.6h8.6v8.6h-8.6zM394.3 137.6h8.6v8.6h-8.6zM394.3 145.6h8.6v8.6h-8.6zM402.3 137.6h8.6v8.6h-8.6zM402.3 145.6h8.6v8.6h-8.6zM410.3 137.6h8.6v8.6h-8.6zM418.3 129.6h8.6v8.6h-8.6zM418.3 137.6h8.6v8.6h-8.6zM426.3 121.6h8.6v8.6h-8.6zM426.3 129.6h8.6v8.6h-8.6zM426.3 137.6h8.6v8.6h-8.6zM434.3 113.6h8.6v8.6h-8.6zM434.3 121.6h8.6v8.6h-8.6zM434.3 129.6h8.6v8.6h-8.6zM442.3 113.6h8.6v8.6h-8.6zM442.3 121.6h8.6v8.6h-8.6zM442.3 129.6h8.6v8.6h-8.6zM450.3 105.6h8.6v8.6h-8.6zM450.3 113.6h8.6v8.6h-8.6zM450.3 121.6h8.6v8.6h-8.6z"/><path fill="#80ff80" d="M290.3 17.6h8.6v8.6h-8.6zM290.3 89.6h8.6v8.6h-8.6zM290.3 97.6h8.6v8.6h-8.6zM290.3 225.6h8.6v8.6h-8.6zM290.3 233.6h8.6v8.6h-8.6zM298.3 -14.4h8.6v8.6h-8.6zM298.3 -6.4h8.6v8.6h-8.6zM298.3 1.6h8.6v8.6h-8.6zM298.3 105.6h8.6v8.6h-8.6zM298.3 217.6h8.6v8.6h-8.6zM306.3 113.6h8.6v8.6h-8.6zM314.3 209.6h8.6v8.6h-8.6zM322.3 121.6h8.6v8.6h-8.6zM330.3 129.6h8.6v8.6h-8.6zM330.3 137.6h8.6v8.6h-8.6zM338.3 145.6h8.6v8.6h-8.6zM338.3 153.6h8.6v8.6h-8.6zM338.3 201.6h8.6v8.6h-8.6zM346.3 153.6h8.6v8.6h-8.6zM346.3 201.6h8.6v8.6h-8.6zM354.3 153.6h8.6v8.6h-8.6zM362.3 145.6h8.6v8.6h-8.6zM362.3 153.6h8.6v8.6h-8.6zM362.3 209.6h8.6v8.6h-8.6zM370.3 137.6h8.6v8.6h-8.6zM370.3 145.6h8.6v8.6h-8.6zM370.3 257.6h8.6v8.6h-8.6zM378.3 137.6h8.6v8.6h-8.6zM386.3 41.6h8.6v8.6h-8.6zM386.3 129.6h8.6v8.6h-8.6zM386.3 137.6h8.6v8.6h-8.6zM394.3 33.6h8.6v8.6h-8.6zM394.3 41.6h8.6v8.6h-8.6zM394.3 49.6h8.6v8.6h-8.6zM394.3 129.6h8.6v8.6h-8.6zM402.3 33.6h8.6v8.6h-8.6zM402.3 41.6h8.6v8.6h-8.6zM402.3 49.6h8.6v8.6h-8.6zM402.3 57.6h8.6v8.6h-8.6zM402.3 121.6h8.6v8.6h-8.6zM402.3 129.6h8.6v8.6h-8.6zM410.3 41.6h8.6v8.6h-8.6zM410.3 49.6h8.6v8.6h-8.6zM410.3 57.6h8.6v8.6h-8.6zM410.3 65.6h8.6v8.6h-8.6zM410.3 73.6h8.6v8.6h-8.6zM410.3 113.6h8.6v8.6h-8.6zM410.3 121.6h8.6v8.6h-8.6zM410.3 129.6h8.6v8.6h-8.6zM418.3 49.6h8.6v8.6h-8.6zM418.3 57.6h8.6v8.6h-8.6zM418.3 65.6h8.6v8.6h-8.6zM418.3 73.6h8.6v8.6h-8.6zM418.3 81.6h8.6v8.6h-8.6zM418.3 89.6h8.6v8.6h-8.6zM418.3 97.6h8.6v8.6h-8.6zM418.3 105.6h8.6v8.6h-8.6zM418.3 113.6h8.6v8.6h-8.6zM418.3 121.6h8.6v8.6h-8.6zM426.3 57.6h8.6v8.6h-8.6zM426.3 65.6h8.6v8.6h-8.6zM426.3 73.6h8.6v8.6h-8.6zM426.3 81.6h8.6v8.6h-8.6zM426.3 89.6h8.6v8.6h-8.6zM426.3 97.6h8.6v8.6h-8.6zM426.3 105.6h8.6v8.6h-8.6zM426.3 113.6h8.6v8.6h-8.6zM434.3 73.6h8.6v8.6h-8.6zM434.3 81.6h8.6v8.6h-8.6zM434.3 89.6h8.6v8.6h-8.6zM434.3 97.6h8.6v8.6h-8.6zM434.3 105.6h8.6v8.6h-8.6zM442.3 89.6h8.6v8.6h-8.6zM442.3 97.6h8.6v8.6h-8.6zM442.3 105.6h8.6v8.6h-8.6z"/><path fill="#95ff6a" d="M290.3 25.6h8.6v8.6h-8.6zM290.3 33.6h8.6v8.6h-8.6zM290.3 41.6h8.6v8.6h-8.6zM290.3 49.6h8.6v8.6h-8.6zM290.3 57.6h8.6v8.6h-8.6zM290.3 65.6h8.6v8.6h-8.6zM290.3 73.6h8.6v8.6h-8.6zM290.3 81.6h8.6v8.6h-8.6zM298.3 9.6h8.6v8.6h-8.6zM298.3 97.6h8.6v8.6h-8.6zM298.3 241.6h8.6v8.6h-8.6zM306.3 -14.4h8.6v8.6h-8.6zM306.3 -6.4h8.6v8.6h-8.6zM306.3 105.6h8.6v8.6h-8.6zM306.3 249.6h8.6v8.6h-8.6zM314.3 113.6h8.6v8.6h-8.6zM322.3 113.6h8.6v8.6h-8.6zM322.3 209.6h8.6v8.6h-8.6zM322.3 265.6h8.6v8.6h-8.6zM330.3 121.6h8.6v8.6h-8.6zM338.3 121.6h8.6v8.6h-8.6zM338.3 129.6h8.6v8.6h-8.6zM338.3 137.6h8.6v8.6h-8.6zM346.3 129.6h8.6v8.6h-8.6zM346.3 137.6h8.6v8.6h-8.6zM346.3 145.6h8.6v8.6h-8.6zM354.3 129.6h8.6v8.6h-8.6zM354.3 137.6h8.6v8.6h-8.6zM354.3 145.6h8.6v8.6h-8.6zM354.3 209.6h8.6v8.6h-8.6zM362.3 129.6h8.6v8.6h-8.6zM362.3 137.6h8.6v8.6h-8.6zM362.3 217.6h8.6v8.6h-8.6zM370.3 121.6h8.6v8.6h-8.6zM370.3 129.6h8.6v8.6h-8.6zM370.3 225.6h8.6v8.6h-8.6zM378.3 33.6h8.6v8.6h-8.6zM378.3 41.6h8.6v8.6h-8.6zM378.3 49.6h8.6v8.6h-8.6zM378.3 121.6h8.6v8.6h-8.6zM378.3 129.6h8.6v8.6h-8.6zM386.3 17.6h8.6v8.6h-8.6zM386.3 25.6h8.6v8.6h-8.6zM386.3 33.6h8.6v8.6h-8.6zM386.3 49.6h8.6v8.6h-8.6zM386.3 57.6h8.6v8.6h-8.6zM386.3 113.6h8.6v8.6h-8.6zM386.3 121.6h8.6v8.6h-8.6zM394.3 25.6h8.6v8.6h-8.6zM394.3 57.6h8.6v8.6h-8.6zM394.3 65.6h8.6v8.6h-8.6zM394.3 73.6h8.6v8.6h-8.6zM394.3 105.6h8.6v8.6h-8.6zM394.3 113.6h8.6v8.6h-8.6zM394.3 121.6h8.6v8.6h-8.6zM402.3 65.6h8.6v8.6h-8.6zM402.3 73.6h8.6v8.6h-8.6zM402.3 81.6h8.6v8.6h-8.6zM402.3 89.6h8.6v8.6h-8.6zM402.3 97.6h8.6v8.6h-8.6zM402.3 105.6h8.6v8.6h-8.6zM402.3 113.6h8.6v8.6h-8.6zM410.3 81.6h8.6v8.6h-8.6zM410.3 89.6h8.6v8.6h-8.6zM410.3 97.6h8.6v8.6h-8.6zM410.3 105.6h8.6v8.6h-8.6z"/><path fill="#aaff55" d="M298.3 17.6h8.6v8.6h-8.6zM298.3 25.6h8.6v8.6h-8.6zM298.3 33.6h8.6v8.6h-8.6zM298.3 41.6h8.6v8.6h-8.6zM298.3 49.6h8.6v8.6h-8.6zM298.3 81.6h8.6v8.6h-8.6zM298.3 89.6h8.6v8.6h-8.6zM298.3 225.6h8.6v8.6h-8.6zM298.3 233.6h8.6v8.6h-8.6zM306.3 1.6h8.6v8.6h-8.6zM306.3 9.6h8.6v8.6h-8.6zM306.3 97.6h8.6v8.6h-8.6zM306.3 217.6h8.6v8.6h-8.6zM314.3 -14.4h8.6v8.6h-8.6zM314.3 -6.4h8.6v8.6h-8.6zM314.3 105.6h8.6v8.6h-8.6zM314.3 257.6h8.6v8.6h-8.6zM330.3 113.6h8.6v8.6h-8.6zM330.3 209.6h8.6v8.6h-8.6zM338.3 113.6h8.6v8.6h-8.6zM338.3 209.6h8.6v8.6h-8.6zM346.3 113.6h8.6v8.6h-8.6zM346.3 121.6h8.6v8.6h-8.6zM346.3 209.6h8.6v8.6h-8.6zM354.3 113.6h8.6v8.6h-8.6zM354.3 121.6h8.6v8.6h-8.6zM354.3 265.6h8.6v8.6h-8.6zM362.3 113.6h8.6v8.6h-8.6zM362.3 121.6h8.6v8.6h-8.6zM370.3 25.6h8.6v8.6h-8.6zM370.3 33.6h8.6v8.6h-8.6zM370.3 41.6h8.6v8.6h-8.6zM370.3 49.6h8.6v8.6h-8.6zM370.3 113.6h8.6v8.6h-8.6zM370.3 233.6h8.6v8.6h-8.6zM370.3 241.6h8.6v8.6h-8.6zM370.3 249.6h8.6v8.6h-8.6zM378.3 17.6h8.6v8.6h-8.6zM378.3 25.6h8.6v8.6h-8.6zM378.3 57.6h8.6v8.6h-8.6zM378.3 65.6h8.6v8.6h-8.6zM378.3 105.6h8.6v8.6h-8.6zM378.3 113.6h8.6v8.6h-8.6zM386.3 65.6h8.6v8.6h-8.6zM386.3 73.6h8.6v8.6h-8.6zM386.3 81.6h8.6v8.6h-8.6zM386.3 89.6h8.6v8.6h-8.6zM386.3 97.6h8.6v8.6h-8.6zM386.3 105.6h8.6v8.6h-8.6zM394.3 81.6h8.6v8.6h-8.6zM394.3 89.6h8.6v8.6h-8.6zM394.3 97.6h8.6v8.6h-8.6z"/><path fill="#bfff40" d="M298.3 57.6h8.6v8.6h-8.6zM298.3 65.6h8.6v8.6h-8.6zM298.3 73.6h8.6v8.6h-8.6zM306.3 17.6h8.6v8.6h-8.6zM306.3 89.6h8.6v8.6h-8.6zM306.3 225.6h8.6v8.6h-8.6zM306.3 241.6h8.6v8.6h-8.6zM314.3 1.6h8.6v8.6h-8.6zM314.3 9.6h8.6v8.6h-8.6zM314.3 97.6h8.6v8.6h-8.6zM314.3 217.6h8.6v8.6h-8.6zM322.3 -14.4h8.6v8.6h-8.6zM322.3 -6.4h8.6v8.6h-8.6zM322.3 105.6h8.6v8.6h-8.6zM330.3 105.6h8.6v8.6h-8.6zM338.3 105.6h8.6v8.6h-8.6zM346.3 105.6h8.6v8.6h-8.6zM354.3 105.6h8.6v8.6h-8.6zM354.3 217.6h8.6v8.6h-8.6zM362.3 33.6h8.6v8.6h-8.6zM362.3 41.6h8.6v8.6h-8.6zM362.3 49.6h8.6v8.6h-8.6zM362.3 105.6h8.6v8.6h-8.6zM362.3 225.6h8.6v8.6h-8.6zM362.3 257.6h8.6v8.6h-8.6zM370.3 17.6h8.6v8.6h-8.6zM370.3 57.6h8.6v8.6h-8.6zM370.3 65.6h8.6v8.6h-8.6zM370.3 97.6h8.6v8.6h-8.6zM370.3 105.6h8.6v8.6h-8.6zM378.3 73.6h8.6v8.6h-8.6zM378.3 81.6h8.6v8.6h-8.6zM378.3 89.6h8.6v8.6h-8.6zM378.3 97.6h8.6v8.6h-8.6z"/><path fill="#d5ff2a" d="M306.3 25.6h8.6v8.6h-8.6zM306.3 33.6h8.6v8.6h-8.6zM306.3 41.6h8.6v8.6h-8.6zM306.3 49.6h8.6v8.6h-8.6zM306.3 57.6h8.6v8.6h-8.6zM306.3 65.6h8.6v8.6h-8.6zM306.3 73.6h8.6v8.6h-8.6zM306.3 81.6h8.6v8.6h-8.6zM306.3 233.6h8.6v8.6h-8.6zM314.3 17.6h8.6v8.6h-8.6zM314.3 89.6h8.6v8.6h-8.6zM322.3 1.6h8.6v8.6h-8.6zM322.3 9.6h8.6v8.6h-8.6zM322.3 97.6h8.6v8.6h-8.6zM322.3 217.6h8.6v8.6h-8.6zM330.3 -6.4h8.6v8.6h-8.6zM330.3 97.6h8.6v8.6h-8.6zM330.3 265.6h8.6v8.6h-8.6zM338.3 97.6h8.6v8.6h-8.6zM346.3 41.6h8.6v8.6h-8.6zM346.3 49.6h8.6v8.6h-8.6zM346.3 97.6h8.6v8.6h-8.6zM346.3 217.6h8.6v8.6h-8.6zM346.3 265.6h8.6v8.6h-8.6zM354.3 33.6h8.6v8.6h-8.6zM354.3 41.6h8.6v8.6h-8.6zM354.3 49.6h8.6v8.6h-8.6zM354.3 57.6h8.6v8.6h-8.6zM354.3 97.6h8.6v8.6h-8.6zM362.3 9.6h8.6v8.6h-8.6zM362.3 17.6h8.6v8.6h-8.6zM362.3 25.6h8.6v8.6h-8.6zM362.3 57.6h8.6v8.6h-8.6zM362.3 65.6h8.6v8.6h-8.6zM362.3 89.6h8.6v8.6h-8.6zM362.3 97.6h8.6v8.6h-8.6zM370.3 9.6h8.6v8.6h-8.6zM370.3 73.6h8.6v8.6h-8.6zM370.3 81.6h8.6v8.6h-8.6zM370.3 89.6h8.6v8.6h-8.6z"/><path fill="#eaff15" d="M314.3 25.6h8.6v8.6h-8.6zM314.3 33.6h8.6v8.6h-8.6zM314.3 41.6h8.6v8.6h-8.6zM314.3 49.6h8.6v8.6h-8.6zM314.3 57.6h8.6v8.6h-8.6zM314.3 65.6h8.6v8.6h-8.6zM314.3 73.6h8.6v8.6h-8.6zM314.3 81.6h8.6v8.6h-8.6zM314.3 225.6h8.6v8.6h-8.6zM314.3 249.6h8.6v8.6h-8.6zM322.3 17.6h8.6v8.6h-8.6zM322.3 25.6h8.6v8.6h-8.6zM322.3 33.6h8.6v8.6h-8.6zM322.3 41.6h8.6v8.6h-8.6zM322.3 49.6h8.6v8.6h-8.6zM322.3 89.6h8.6v8.6h-8.6zM330.3 1.6h8.6v8.6h-8.6zM330.3 9.6h8.6v8.6h-8.6zM330.3 41.6h8.6v8.6h-8.6zM330.3 49.6h8.6v8.6h-8.6zM330.3 217.6h8.6v8.6h-8.6zM338.3 -6.4h8.6v8.6h-8.6zM338.3 1.6h8.6v8.6h-8.6zM338.3 41.6h8.6v8.6h-8.6zM338.3 49.6h8.6v8.6h-8.6zM338.3 217.6h8.6v8.6h-8.6zM338.3 265.6h8.6v8.6h-8.6zM346.3 33.6h8.6v8.6h-8.6zM346.3 57.6h8.6v8.6h-8.6zM354.3 9.6h8.6v8.6h-8.6zM354.3 17.6h8.6v8.6h-8.6zM354.3 25.6h8.6v8.6h-8.6zM354.3 65.6h8.6v8.6h-8.6zM354.3 89.6h8.6v8.6h-8.6zM362.3 1.6h8.6v8.6h-8.6zM362.3 73.6h8.6v8.6h-8.6zM362.3 81.6h8.6v8.6h-8.6zM362.3 233.6h8.6v8.6h-8.6z"/><path fill="#ffff00" d="M314.3 233.6h8.6v8.6h-8.6zM314.3 241.6h8.6v8.6h-8.6zM322.3 57.6h8.6v8.6h-8.6zM322.3 65.6h8.6v8.6h-8.6zM322.3 73.6h8.6v8.6h-8.6zM322.3 81.6h8.6v8.6h-8.6zM330.3 17.6h8.6v8.6h-8.6zM330.3 25.6h8.6v8.6h-8.6zM330.3 33.6h8.6v8.6h-8.6zM330.3 57.6h8.6v8.6h-8.6zM330.3 89.6h8.6v8.6h-8.6zM338.3 9.6h8.6v8.6h-8.6zM338.3 17.6h8.6v8.6h-8.6zM338.3 25.6h8.6v8.6h-8.6zM338.3 33.6h8.6v8.6h-8.6zM338.3 57.6h8.6v8.6h-8.6zM338.3 89.6h8.6v8.6h-8.6zM346.3 -6.4h8.6v8.6h-8.6zM346.3 1.6h8.6v8.6h-8.6zM346.3 9.6h8.6v8.6h-8.6zM346.3 17.6h8.6v8.6h-8.6zM346.3 25.6h8.6v8.6h-8.6zM346.3 65.6h8.6v8.6h-8.6zM346.3 89.6h8.6v8.6h-8.6zM354.3 1.6h8.6v8.6h-8.6zM354.3 73.6h8.6v8.6h-8.6zM354.3 81.6h8.6v8.6h-8.6zM354.3 225.6h8.6v8.6h-8.6zM362.3 241.6h8.6v8.6h-8.6zM362.3 249.6h8.6v8.6h-8.6z"/><path fill="#ffea00" d="M322.3 225.6h8.6v8.6h-8.6zM322.3 257.6h8.6v8.6h-8.6zM330.3 65.6h8.6v8.6h-8.6zM330.3 73.6h8.6v8.6h-8.6zM330.3 81.6h8.6v8.6h-8.6zM338.3 65.6h8.6v8.6h-8.6zM338.3 73.6h8.6v8.6h-8.6zM338.3 81.6h8.6v8.6h-8.6zM346.3 73.6h8.6v8.6h-8.6zM346.3 81.6h8.6v8.6h-8.6z"/><path fill="#ffd500" d="M330.3 225.6h8.6v8.6h-8.6zM346.3 225.6h8.6v8.6h-8.6zM354.3 257.6h8.6v8.6h-8.6z"/><path fill="#ffbf00" d="M322.3 233.6h8.6v8.6h-8.6zM338.3 225.6h8.6v8.6h-8.6zM354.3 233.6h8.6v8.6h-8.6z"/><path fill="#ffaa00" d="M322.3 241.6h8.6v8.6h-8.6zM322.3 249.6h8.6v8.6h-8.6z"/><path fill="#ff9500" d="M354.3 241.6h8.6v8.6h-8.6z"/><path fill="#ff8000" d="M330.3 257.6h8.6v8.6h-8.6zM354.3 249.6h8.6v8.6h-8.6z"/><path fill="#ff6a00" d="M330.3 233.6h8.6v8.6h-8.6zM346.3 233.6h8.6v8.6h-8.6zM346.3 257.6h8.6v8.6h-8.6z"/><path fill="#ff5500" d="M338.3 233.6h8.6v8.6h-8.6z"/><path fill="#ff4000" d="M338.3 257.6h8.6v8.6h-8.6z"/><path fill="#ff2a00" d="M330.3 241.6h8.6v8.6h-8.6z"/><path fill="#ff1500" d="M330.3 249.6h8.6v8.6h-8.6zM346.3 241.6h8.6v8.6h-8.6z"/><path fill="#ff0000" d="M346.3 249.6h8.6v8.6h-8.6z"/><path fill="#d50000" d="M338.3 241.6h8.6v8.6h-8.6z"/><path fill="#aa0000" d="M338.3 249.6h8.6v8.6h-8.6z"/></g>
</g>
<circle cx="280.5" cy="167.3" r="166.4" fill="#efe6d4" clip-path="url(#cout2)"/>
</g>
<text x="422" y="955.7" font-family="'Liberation Sans',sans-serif" font-weight="bold" font-size="43.3" text-anchor="middle" fill="#000">Macro only</text>
<text x="885" y="955.7" font-family="'Liberation Sans',sans-serif" font-weight="bold" font-size="43.3" text-anchor="middle" fill="#000">Mesos only</text>
<text x="1351.5" y="955.7" font-family="'Liberation Sans',sans-serif" font-weight="bold" font-size="43.3" text-anchor="middle" fill="#000">Micros only</text>
<rect x="1573.7" y="742" width="31" height="185.7" fill="url(#jetbar)"/>
<text x="1609.3" y="750.9" font-family="'Liberation Sans',sans-serif" font-size="22.4" fill="#222">60</text>
<text x="1609.3" y="812.6" font-family="'Liberation Sans',sans-serif" font-size="22.4" fill="#222">40</text>
<text x="1609.3" y="874.2" font-family="'Liberation Sans',sans-serif" font-size="22.4" fill="#222">20</text>
<text x="1616.8" y="936.5" font-family="'Liberation Sans',sans-serif" font-size="22.4" fill="#222">0</text>
<text x="1589" y="956" font-family="'Liberation Sans',sans-serif" font-size="24.3" fill="#222" text-anchor="middle">Amplitude (µV)</text>
</svg></body></html>
